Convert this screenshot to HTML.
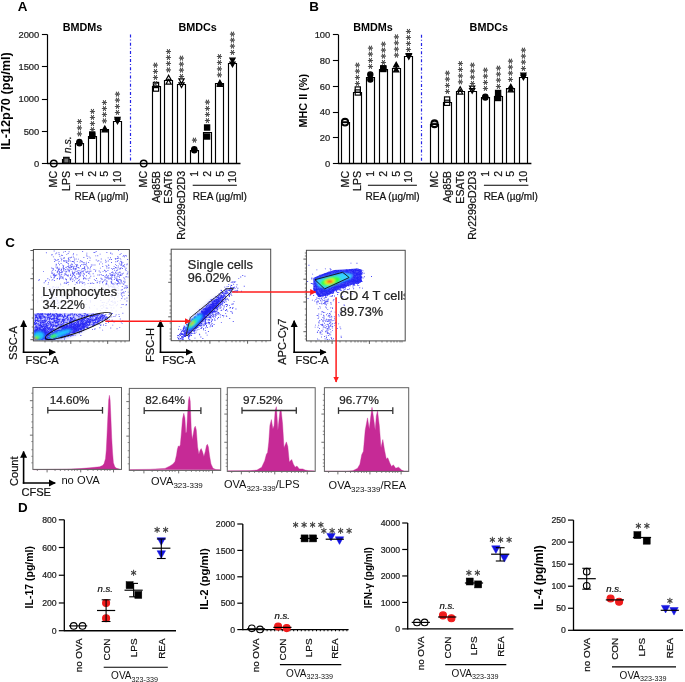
<!DOCTYPE html>
<html><head><meta charset="utf-8"><title>Figure</title>
<style>html,body{margin:0;padding:0;background:#fff;}svg{display:block;}</style></head>
<body><svg width="685" height="682" viewBox="0 0 685 682" font-family='"Liberation Sans", Arial, sans-serif'>
<defs><filter id="b1" x="-20%" y="-20%" width="140%" height="140%"><feGaussianBlur stdDeviation="1.2"/></filter><filter id="b2" x="-30%" y="-30%" width="160%" height="160%"><feGaussianBlur stdDeviation="2.2"/></filter><filter id="b05" x="-20%" y="-20%" width="140%" height="140%"><feGaussianBlur stdDeviation="0.45"/></filter><marker id="ar" viewBox="0 0 10 10" refX="9" refY="5" markerWidth="6" markerHeight="6" markerUnits="userSpaceOnUse" orient="auto"><path d="M0,0 L10,5 L0,10 z" fill="#ff1c1c"/></marker><marker id="ak" viewBox="0 0 10 10" refX="9" refY="5" markerWidth="7" markerHeight="7.5" markerUnits="userSpaceOnUse" orient="auto"><path d="M0,0 L10,5 L0,10 z" fill="#000"/></marker></defs>
<rect width="685" height="682" fill="#fff"/>
<text x="17.7" y="10.8" font-size="13.4" font-weight="bold">A</text>
<line x1="47.5" y1="34.5" x2="47.5" y2="164.1" stroke="#000" stroke-width="1.2" />
<line x1="41.9" y1="163.5" x2="47.5" y2="163.5" stroke="#000" stroke-width="1.1" />
<text x="39.3" y="166.9" font-size="9.4" text-anchor="end" fill="#222" stroke="#222" stroke-width="0.22">0</text>
<line x1="41.9" y1="131.5" x2="47.5" y2="131.5" stroke="#000" stroke-width="1.1" />
<text x="39.3" y="134.65" font-size="9.4" text-anchor="end" fill="#222" stroke="#222" stroke-width="0.22">500</text>
<line x1="41.9" y1="99.5" x2="47.5" y2="99.5" stroke="#000" stroke-width="1.1" />
<text x="39.3" y="102.4" font-size="9.4" text-anchor="end" fill="#222" stroke="#222" stroke-width="0.22">1000</text>
<line x1="41.9" y1="66.5" x2="47.5" y2="66.5" stroke="#000" stroke-width="1.1" />
<text x="39.3" y="70.15" font-size="9.4" text-anchor="end" fill="#222" stroke="#222" stroke-width="0.22">1500</text>
<line x1="41.9" y1="34.5" x2="47.5" y2="34.5" stroke="#000" stroke-width="1.1" />
<text x="39.3" y="37.9" font-size="9.4" text-anchor="end" fill="#222" stroke="#222" stroke-width="0.22">2000</text>
<line x1="130.5" y1="34.5" x2="130.5" y2="162.3" stroke="#2424e6" stroke-width="1.2" stroke-dasharray="3 2 1 2.2"/>
<text transform="translate(10.3,100.9) rotate(-90)" font-size="12.72" text-anchor="middle" font-weight="bold">IL-12p70 (pg/ml)</text>
<text x="82.5" y="31.2" font-size="10.8" text-anchor="middle" font-weight="bold">BMDMs</text>
<text x="197.6" y="31.2" font-size="10.8" text-anchor="middle" font-weight="bold">BMDCs</text>
<line x1="76" y1="185.3" x2="125.5" y2="185.3" stroke="#000" stroke-width="1.1" />
<text x="101.6" y="200.3" font-size="10" text-anchor="middle" fill="#111" stroke="#111" stroke-width="0.22">REA (µg/ml)</text>
<line x1="192.7" y1="185.3" x2="236.9" y2="185.3" stroke="#000" stroke-width="1.1" />
<text x="219.8" y="200.3" font-size="10" text-anchor="middle" fill="#111" stroke="#111" stroke-width="0.22">REA (µg/ml)</text>
<circle cx="53.8" cy="163.5" r="3.3" fill="none" stroke="#000" stroke-width="1.35"/>
<line x1="50.5" y1="163.5" x2="57.1" y2="163.5" stroke="#000" stroke-width="1.1" />
<text transform="translate(57.4,170.9) rotate(-90)" font-size="10.6" text-anchor="end" fill="#111" stroke="#111" stroke-width="0.22">MC</text>
<path d="M62.5,163.5 V159.5 H70.5 V163.5" fill="#fff" stroke="#000" stroke-width="1.15"/>
<rect x="63.7" y="157.4" width="5.2" height="5.2" fill="#777" stroke="#111" stroke-width="1.3"/>
<rect x="63.7" y="157.9" width="5.2" height="5.2" fill="#777" stroke="#111" stroke-width="1.3"/>
<text transform="translate(69.9,170.9) rotate(-90)" font-size="10.6" text-anchor="end" fill="#111" stroke="#111" stroke-width="0.22">LPS</text>
<path d="M75.5,163.5 V143.5 H83.5 V163.5" fill="#fff" stroke="#000" stroke-width="1.15"/>
<circle cx="79.4" cy="142" r="2.6" fill="#000" stroke="#000" stroke-width="1.2"/>
<circle cx="79.4" cy="143.2" r="2.6" fill="#000" stroke="#000" stroke-width="1.2"/>
<text transform="translate(83,170.9) rotate(-90)" font-size="10.6" text-anchor="end" fill="#111" stroke="#111" stroke-width="0.22">1</text>
<text transform="translate(79.4,133.9) rotate(-90)" y="5.4" font-size="10.5" text-anchor="middle" font-family="DejaVu Sans, sans-serif" fill="#3c3c3c" stroke="#3c3c3c" stroke-width="0.3">*</text>
<text transform="translate(79.4,127.8) rotate(-90)" y="5.4" font-size="10.5" text-anchor="middle" font-family="DejaVu Sans, sans-serif" fill="#3c3c3c" stroke="#3c3c3c" stroke-width="0.3">*</text>
<text transform="translate(79.4,121.7) rotate(-90)" y="5.4" font-size="10.5" text-anchor="middle" font-family="DejaVu Sans, sans-serif" fill="#3c3c3c" stroke="#3c3c3c" stroke-width="0.3">*</text>
<path d="M88.5,163.5 V136.5 H96.5 V163.5" fill="#fff" stroke="#000" stroke-width="1.15"/>
<rect x="89.6" y="131.9" width="5.2" height="5.2" fill="#000" stroke="#000" stroke-width="1.2"/>
<rect x="89.6" y="133.2" width="5.2" height="5.2" fill="#000" stroke="#000" stroke-width="1.2"/>
<text transform="translate(95.8,170.9) rotate(-90)" font-size="10.6" text-anchor="end" fill="#111" stroke="#111" stroke-width="0.22">2</text>
<text transform="translate(92.2,129.6) rotate(-90)" y="5.4" font-size="10.5" text-anchor="middle" font-family="DejaVu Sans, sans-serif" fill="#3c3c3c" stroke="#3c3c3c" stroke-width="0.3">*</text>
<text transform="translate(92.2,123.5) rotate(-90)" y="5.4" font-size="10.5" text-anchor="middle" font-family="DejaVu Sans, sans-serif" fill="#3c3c3c" stroke="#3c3c3c" stroke-width="0.3">*</text>
<text transform="translate(92.2,117.4) rotate(-90)" y="5.4" font-size="10.5" text-anchor="middle" font-family="DejaVu Sans, sans-serif" fill="#3c3c3c" stroke="#3c3c3c" stroke-width="0.3">*</text>
<text transform="translate(92.2,111.3) rotate(-90)" y="5.4" font-size="10.5" text-anchor="middle" font-family="DejaVu Sans, sans-serif" fill="#3c3c3c" stroke="#3c3c3c" stroke-width="0.3">*</text>
<path d="M100.5,163.5 V129.5 H108.5 V163.5" fill="#fff" stroke="#000" stroke-width="1.15"/>
<polygon points="102.2,130.64 107.4,130.64 104.8,125.96" fill="#000" stroke="#000" stroke-width="1.2" />
<polygon points="102.2,131.84 107.4,131.84 104.8,127.16" fill="#000" stroke="#000" stroke-width="1.2" />
<text transform="translate(108.4,170.9) rotate(-90)" font-size="10.6" text-anchor="end" fill="#111" stroke="#111" stroke-width="0.22">5</text>
<text transform="translate(104.8,120.8) rotate(-90)" y="5.4" font-size="10.5" text-anchor="middle" font-family="DejaVu Sans, sans-serif" fill="#3c3c3c" stroke="#3c3c3c" stroke-width="0.3">*</text>
<text transform="translate(104.8,114.7) rotate(-90)" y="5.4" font-size="10.5" text-anchor="middle" font-family="DejaVu Sans, sans-serif" fill="#3c3c3c" stroke="#3c3c3c" stroke-width="0.3">*</text>
<text transform="translate(104.8,108.6) rotate(-90)" y="5.4" font-size="10.5" text-anchor="middle" font-family="DejaVu Sans, sans-serif" fill="#3c3c3c" stroke="#3c3c3c" stroke-width="0.3">*</text>
<text transform="translate(104.8,102.5) rotate(-90)" y="5.4" font-size="10.5" text-anchor="middle" font-family="DejaVu Sans, sans-serif" fill="#3c3c3c" stroke="#3c3c3c" stroke-width="0.3">*</text>
<path d="M113.5,163.5 V121.5 H121.5 V163.5" fill="#fff" stroke="#000" stroke-width="1.15"/>
<polygon points="114.9,117.46 120.1,117.46 117.5,122.14" fill="#000" stroke="#000" stroke-width="1.2" />
<polygon points="114.9,119.16 120.1,119.16 117.5,123.84" fill="#000" stroke="#000" stroke-width="1.2" />
<text transform="translate(121.1,170.9) rotate(-90)" font-size="10.6" text-anchor="end" fill="#111" stroke="#111" stroke-width="0.22">10</text>
<text transform="translate(117.5,112.4) rotate(-90)" y="5.4" font-size="10.5" text-anchor="middle" font-family="DejaVu Sans, sans-serif" fill="#3c3c3c" stroke="#3c3c3c" stroke-width="0.3">*</text>
<text transform="translate(117.5,106.3) rotate(-90)" y="5.4" font-size="10.5" text-anchor="middle" font-family="DejaVu Sans, sans-serif" fill="#3c3c3c" stroke="#3c3c3c" stroke-width="0.3">*</text>
<text transform="translate(117.5,100.2) rotate(-90)" y="5.4" font-size="10.5" text-anchor="middle" font-family="DejaVu Sans, sans-serif" fill="#3c3c3c" stroke="#3c3c3c" stroke-width="0.3">*</text>
<text transform="translate(117.5,94.1) rotate(-90)" y="5.4" font-size="10.5" text-anchor="middle" font-family="DejaVu Sans, sans-serif" fill="#3c3c3c" stroke="#3c3c3c" stroke-width="0.3">*</text>
<circle cx="143.7" cy="163.5" r="3.3" fill="none" stroke="#000" stroke-width="1.35"/>
<line x1="140.4" y1="163.5" x2="147" y2="163.5" stroke="#000" stroke-width="1.1" />
<text transform="translate(147.3,170.9) rotate(-90)" font-size="10.6" text-anchor="end" fill="#111" stroke="#111" stroke-width="0.22">MC</text>
<path d="M152.5,163.5 V86.5 H160.5 V163.5" fill="#fff" stroke="#000" stroke-width="1.15"/>
<rect x="153.4" y="82.4" width="5.2" height="5.2" fill="none" stroke="#000" stroke-width="1.2"/>
<rect x="153.4" y="86" width="5.2" height="5.2" fill="none" stroke="#000" stroke-width="1.2"/>
<text transform="translate(159.6,170.9) rotate(-90)" font-size="10.6" text-anchor="end" fill="#111" stroke="#111" stroke-width="0.22">Ag85B</text>
<text transform="translate(156,83.5) rotate(-90)" y="5.4" font-size="10.5" text-anchor="middle" font-family="DejaVu Sans, sans-serif" fill="#3c3c3c" stroke="#3c3c3c" stroke-width="0.3">*</text>
<text transform="translate(156,77.4) rotate(-90)" y="5.4" font-size="10.5" text-anchor="middle" font-family="DejaVu Sans, sans-serif" fill="#3c3c3c" stroke="#3c3c3c" stroke-width="0.3">*</text>
<text transform="translate(156,71.3) rotate(-90)" y="5.4" font-size="10.5" text-anchor="middle" font-family="DejaVu Sans, sans-serif" fill="#3c3c3c" stroke="#3c3c3c" stroke-width="0.3">*</text>
<text transform="translate(156,65.2) rotate(-90)" y="5.4" font-size="10.5" text-anchor="middle" font-family="DejaVu Sans, sans-serif" fill="#3c3c3c" stroke="#3c3c3c" stroke-width="0.3">*</text>
<path d="M164.5,163.5 V80.5 H172.5 V163.5" fill="#fff" stroke="#000" stroke-width="1.15"/>
<polygon points="166,79.94 171.2,79.94 168.6,75.26" fill="none" stroke="#000" stroke-width="1.2" />
<polygon points="166,84.14 171.2,84.14 168.6,79.46" fill="none" stroke="#000" stroke-width="1.2" />
<text transform="translate(172.2,170.9) rotate(-90)" font-size="10.6" text-anchor="end" fill="#111" stroke="#111" stroke-width="0.22">ESAT6</text>
<text transform="translate(168.6,69.8) rotate(-90)" y="5.4" font-size="10.5" text-anchor="middle" font-family="DejaVu Sans, sans-serif" fill="#3c3c3c" stroke="#3c3c3c" stroke-width="0.3">*</text>
<text transform="translate(168.6,63.7) rotate(-90)" y="5.4" font-size="10.5" text-anchor="middle" font-family="DejaVu Sans, sans-serif" fill="#3c3c3c" stroke="#3c3c3c" stroke-width="0.3">*</text>
<text transform="translate(168.6,57.6) rotate(-90)" y="5.4" font-size="10.5" text-anchor="middle" font-family="DejaVu Sans, sans-serif" fill="#3c3c3c" stroke="#3c3c3c" stroke-width="0.3">*</text>
<text transform="translate(168.6,51.5) rotate(-90)" y="5.4" font-size="10.5" text-anchor="middle" font-family="DejaVu Sans, sans-serif" fill="#3c3c3c" stroke="#3c3c3c" stroke-width="0.3">*</text>
<path d="M177.5,163.5 V84.5 H185.5 V163.5" fill="#fff" stroke="#000" stroke-width="1.15"/>
<polygon points="178.9,78.86 184.1,78.86 181.5,83.54" fill="none" stroke="#000" stroke-width="1.2" />
<polygon points="178.9,82.86 184.1,82.86 181.5,87.54" fill="none" stroke="#000" stroke-width="1.2" />
<text transform="translate(185.1,170.9) rotate(-90)" font-size="10.6" text-anchor="end" fill="#111" stroke="#111" stroke-width="0.22">Rv2299cD2D3</text>
<text transform="translate(181.5,76.3) rotate(-90)" y="5.4" font-size="10.5" text-anchor="middle" font-family="DejaVu Sans, sans-serif" fill="#3c3c3c" stroke="#3c3c3c" stroke-width="0.3">*</text>
<text transform="translate(181.5,70.2) rotate(-90)" y="5.4" font-size="10.5" text-anchor="middle" font-family="DejaVu Sans, sans-serif" fill="#3c3c3c" stroke="#3c3c3c" stroke-width="0.3">*</text>
<text transform="translate(181.5,64.1) rotate(-90)" y="5.4" font-size="10.5" text-anchor="middle" font-family="DejaVu Sans, sans-serif" fill="#3c3c3c" stroke="#3c3c3c" stroke-width="0.3">*</text>
<text transform="translate(181.5,58) rotate(-90)" y="5.4" font-size="10.5" text-anchor="middle" font-family="DejaVu Sans, sans-serif" fill="#3c3c3c" stroke="#3c3c3c" stroke-width="0.3">*</text>
<path d="M190.5,163.5 V150.5 H198.5 V163.5" fill="#fff" stroke="#000" stroke-width="1.15"/>
<circle cx="194.3" cy="149.3" r="2.6" fill="#000" stroke="#000" stroke-width="1.2"/>
<circle cx="194.3" cy="150.2" r="2.6" fill="#000" stroke="#000" stroke-width="1.2"/>
<text transform="translate(197.9,170.9) rotate(-90)" font-size="10.6" text-anchor="end" fill="#111" stroke="#111" stroke-width="0.22">1</text>
<text transform="translate(194.3,140.2) rotate(-90)" y="5.4" font-size="10.5" text-anchor="middle" font-family="DejaVu Sans, sans-serif" fill="#3c3c3c" stroke="#3c3c3c" stroke-width="0.3">*</text>
<path d="M203.5,163.5 V132.5 H211.5 V163.5" fill="#fff" stroke="#000" stroke-width="1.15"/>
<rect x="204.5" y="124.9" width="5.2" height="5.2" fill="#000" stroke="#000" stroke-width="1.2"/>
<rect x="204.5" y="133.9" width="5.2" height="5.2" fill="#000" stroke="#000" stroke-width="1.2"/>
<text transform="translate(210.7,170.9) rotate(-90)" font-size="10.6" text-anchor="end" fill="#111" stroke="#111" stroke-width="0.22">2</text>
<text transform="translate(207.1,120.5) rotate(-90)" y="5.4" font-size="10.5" text-anchor="middle" font-family="DejaVu Sans, sans-serif" fill="#3c3c3c" stroke="#3c3c3c" stroke-width="0.3">*</text>
<text transform="translate(207.1,114.4) rotate(-90)" y="5.4" font-size="10.5" text-anchor="middle" font-family="DejaVu Sans, sans-serif" fill="#3c3c3c" stroke="#3c3c3c" stroke-width="0.3">*</text>
<text transform="translate(207.1,108.3) rotate(-90)" y="5.4" font-size="10.5" text-anchor="middle" font-family="DejaVu Sans, sans-serif" fill="#3c3c3c" stroke="#3c3c3c" stroke-width="0.3">*</text>
<text transform="translate(207.1,102.2) rotate(-90)" y="5.4" font-size="10.5" text-anchor="middle" font-family="DejaVu Sans, sans-serif" fill="#3c3c3c" stroke="#3c3c3c" stroke-width="0.3">*</text>
<path d="M215.5,163.5 V83.5 H223.5 V163.5" fill="#fff" stroke="#000" stroke-width="1.15"/>
<polygon points="217.3,84.84 222.5,84.84 219.9,80.16" fill="#000" stroke="#000" stroke-width="1.2" />
<polygon points="217.3,86.34 222.5,86.34 219.9,81.66" fill="#000" stroke="#000" stroke-width="1.2" />
<text transform="translate(223.5,170.9) rotate(-90)" font-size="10.6" text-anchor="end" fill="#111" stroke="#111" stroke-width="0.22">5</text>
<text transform="translate(219.9,74.9) rotate(-90)" y="5.4" font-size="10.5" text-anchor="middle" font-family="DejaVu Sans, sans-serif" fill="#3c3c3c" stroke="#3c3c3c" stroke-width="0.3">*</text>
<text transform="translate(219.9,68.8) rotate(-90)" y="5.4" font-size="10.5" text-anchor="middle" font-family="DejaVu Sans, sans-serif" fill="#3c3c3c" stroke="#3c3c3c" stroke-width="0.3">*</text>
<text transform="translate(219.9,62.7) rotate(-90)" y="5.4" font-size="10.5" text-anchor="middle" font-family="DejaVu Sans, sans-serif" fill="#3c3c3c" stroke="#3c3c3c" stroke-width="0.3">*</text>
<text transform="translate(219.9,56.6) rotate(-90)" y="5.4" font-size="10.5" text-anchor="middle" font-family="DejaVu Sans, sans-serif" fill="#3c3c3c" stroke="#3c3c3c" stroke-width="0.3">*</text>
<path d="M228.5,163.5 V63.5 H236.5 V163.5" fill="#fff" stroke="#000" stroke-width="1.15"/>
<polygon points="229.9,58.16 235.1,58.16 232.5,62.84" fill="#000" stroke="#000" stroke-width="1.2" />
<polygon points="229.9,62.16 235.1,62.16 232.5,66.84" fill="#000" stroke="#000" stroke-width="1.2" />
<text transform="translate(236.1,170.9) rotate(-90)" font-size="10.6" text-anchor="end" fill="#111" stroke="#111" stroke-width="0.22">10</text>
<text transform="translate(232.5,52.3) rotate(-90)" y="5.4" font-size="10.5" text-anchor="middle" font-family="DejaVu Sans, sans-serif" fill="#3c3c3c" stroke="#3c3c3c" stroke-width="0.3">*</text>
<text transform="translate(232.5,46.2) rotate(-90)" y="5.4" font-size="10.5" text-anchor="middle" font-family="DejaVu Sans, sans-serif" fill="#3c3c3c" stroke="#3c3c3c" stroke-width="0.3">*</text>
<text transform="translate(232.5,40.1) rotate(-90)" y="5.4" font-size="10.5" text-anchor="middle" font-family="DejaVu Sans, sans-serif" fill="#3c3c3c" stroke="#3c3c3c" stroke-width="0.3">*</text>
<text transform="translate(232.5,34) rotate(-90)" y="5.4" font-size="10.5" text-anchor="middle" font-family="DejaVu Sans, sans-serif" fill="#3c3c3c" stroke="#3c3c3c" stroke-width="0.3">*</text>
<line x1="47.5" y1="163.5" x2="240.5" y2="163.5" stroke="#000" stroke-width="1.4" />
<text transform="translate(70.9,153.2) rotate(-90)" font-size="10.5" font-style="italic" fill="#111" stroke="#111" stroke-width="0.22">n.s.</text>
<text x="309.2" y="10.8" font-size="13.4" font-weight="bold">B</text>
<line x1="338.5" y1="34.75" x2="338.5" y2="164.1" stroke="#000" stroke-width="1.2" />
<line x1="332.9" y1="163.5" x2="338.5" y2="163.5" stroke="#000" stroke-width="1.1" />
<text x="330.3" y="166.9" font-size="9.4" text-anchor="end" fill="#222" stroke="#222" stroke-width="0.22">0</text>
<line x1="332.9" y1="137.5" x2="338.5" y2="137.5" stroke="#000" stroke-width="1.1" />
<text x="330.3" y="141.15" font-size="9.4" text-anchor="end" fill="#222" stroke="#222" stroke-width="0.22">20</text>
<line x1="332.9" y1="112.5" x2="338.5" y2="112.5" stroke="#000" stroke-width="1.1" />
<text x="330.3" y="115.4" font-size="9.4" text-anchor="end" fill="#222" stroke="#222" stroke-width="0.22">40</text>
<line x1="332.9" y1="86.5" x2="338.5" y2="86.5" stroke="#000" stroke-width="1.1" />
<text x="330.3" y="89.65" font-size="9.4" text-anchor="end" fill="#222" stroke="#222" stroke-width="0.22">60</text>
<line x1="332.9" y1="60.5" x2="338.5" y2="60.5" stroke="#000" stroke-width="1.1" />
<text x="330.3" y="63.9" font-size="9.4" text-anchor="end" fill="#222" stroke="#222" stroke-width="0.22">80</text>
<line x1="332.9" y1="34.5" x2="338.5" y2="34.5" stroke="#000" stroke-width="1.1" />
<text x="330.3" y="38.15" font-size="9.4" text-anchor="end" fill="#222" stroke="#222" stroke-width="0.22">100</text>
<line x1="421.5" y1="34.75" x2="421.5" y2="162.3" stroke="#2424e6" stroke-width="1.2" stroke-dasharray="3 2 1 2.2"/>
<text transform="translate(307.3,100.7) rotate(-90)" font-size="10.85" text-anchor="middle" font-weight="bold">MHC II (%)</text>
<text x="373" y="31.2" font-size="10.8" text-anchor="middle" font-weight="bold">BMDMs</text>
<text x="488.8" y="31.2" font-size="10.8" text-anchor="middle" font-weight="bold">BMDCs</text>
<line x1="367.9" y1="185.3" x2="416.9" y2="185.3" stroke="#000" stroke-width="1.1" />
<text x="392.6" y="200.3" font-size="10" text-anchor="middle" fill="#111" stroke="#111" stroke-width="0.22">REA (µg/ml)</text>
<line x1="483.9" y1="185.3" x2="528.4" y2="185.3" stroke="#000" stroke-width="1.1" />
<text x="510.7" y="200.3" font-size="10" text-anchor="middle" fill="#111" stroke="#111" stroke-width="0.22">REA (µg/ml)</text>
<path d="M341.5,163.5 V122.5 H349.5 V163.5" fill="#fff" stroke="#000" stroke-width="1.15"/>
<circle cx="345" cy="121.8" r="3.3" fill="none" stroke="#000" stroke-width="1.35"/>
<line x1="341.7" y1="121.8" x2="348.3" y2="121.8" stroke="#000" stroke-width="1.1" />
<circle cx="345" cy="122.6" r="3.3" fill="none" stroke="#000" stroke-width="1.35"/>
<line x1="341.7" y1="122.6" x2="348.3" y2="122.6" stroke="#000" stroke-width="1.1" />
<text transform="translate(348.6,170.9) rotate(-90)" font-size="10.6" text-anchor="end" fill="#111" stroke="#111" stroke-width="0.22">MC</text>
<path d="M353.5,163.5 V92.5 H361.5 V163.5" fill="#fff" stroke="#000" stroke-width="1.15"/>
<rect x="355.2" y="86.9" width="5.2" height="5.2" fill="none" stroke="#000" stroke-width="1.2"/>
<rect x="355.2" y="89.9" width="5.2" height="5.2" fill="none" stroke="#000" stroke-width="1.2"/>
<text transform="translate(361.4,170.9) rotate(-90)" font-size="10.6" text-anchor="end" fill="#111" stroke="#111" stroke-width="0.22">LPS</text>
<text transform="translate(357.8,83.4) rotate(-90)" y="5.4" font-size="10.5" text-anchor="middle" font-family="DejaVu Sans, sans-serif" fill="#3c3c3c" stroke="#3c3c3c" stroke-width="0.3">*</text>
<text transform="translate(357.8,77.3) rotate(-90)" y="5.4" font-size="10.5" text-anchor="middle" font-family="DejaVu Sans, sans-serif" fill="#3c3c3c" stroke="#3c3c3c" stroke-width="0.3">*</text>
<text transform="translate(357.8,71.2) rotate(-90)" y="5.4" font-size="10.5" text-anchor="middle" font-family="DejaVu Sans, sans-serif" fill="#3c3c3c" stroke="#3c3c3c" stroke-width="0.3">*</text>
<text transform="translate(357.8,65.1) rotate(-90)" y="5.4" font-size="10.5" text-anchor="middle" font-family="DejaVu Sans, sans-serif" fill="#3c3c3c" stroke="#3c3c3c" stroke-width="0.3">*</text>
<path d="M366.5,163.5 V77.5 H374.5 V163.5" fill="#fff" stroke="#000" stroke-width="1.15"/>
<circle cx="370.3" cy="74.5" r="2.6" fill="#000" stroke="#000" stroke-width="1.2"/>
<circle cx="370.3" cy="79.5" r="2.6" fill="#000" stroke="#000" stroke-width="1.2"/>
<text transform="translate(373.9,170.9) rotate(-90)" font-size="10.6" text-anchor="end" fill="#111" stroke="#111" stroke-width="0.22">1</text>
<text transform="translate(370.3,66.4) rotate(-90)" y="5.4" font-size="10.5" text-anchor="middle" font-family="DejaVu Sans, sans-serif" fill="#3c3c3c" stroke="#3c3c3c" stroke-width="0.3">*</text>
<text transform="translate(370.3,60.3) rotate(-90)" y="5.4" font-size="10.5" text-anchor="middle" font-family="DejaVu Sans, sans-serif" fill="#3c3c3c" stroke="#3c3c3c" stroke-width="0.3">*</text>
<text transform="translate(370.3,54.2) rotate(-90)" y="5.4" font-size="10.5" text-anchor="middle" font-family="DejaVu Sans, sans-serif" fill="#3c3c3c" stroke="#3c3c3c" stroke-width="0.3">*</text>
<text transform="translate(370.3,48.1) rotate(-90)" y="5.4" font-size="10.5" text-anchor="middle" font-family="DejaVu Sans, sans-serif" fill="#3c3c3c" stroke="#3c3c3c" stroke-width="0.3">*</text>
<path d="M379.5,163.5 V69.5 H387.5 V163.5" fill="#fff" stroke="#000" stroke-width="1.15"/>
<rect x="380.7" y="65.7" width="5.2" height="5.2" fill="#000" stroke="#000" stroke-width="1.2"/>
<rect x="380.7" y="66.4" width="5.2" height="5.2" fill="#000" stroke="#000" stroke-width="1.2"/>
<text transform="translate(386.9,170.9) rotate(-90)" font-size="10.6" text-anchor="end" fill="#111" stroke="#111" stroke-width="0.22">2</text>
<text transform="translate(383.3,62.3) rotate(-90)" y="5.4" font-size="10.5" text-anchor="middle" font-family="DejaVu Sans, sans-serif" fill="#3c3c3c" stroke="#3c3c3c" stroke-width="0.3">*</text>
<text transform="translate(383.3,56.2) rotate(-90)" y="5.4" font-size="10.5" text-anchor="middle" font-family="DejaVu Sans, sans-serif" fill="#3c3c3c" stroke="#3c3c3c" stroke-width="0.3">*</text>
<text transform="translate(383.3,50.1) rotate(-90)" y="5.4" font-size="10.5" text-anchor="middle" font-family="DejaVu Sans, sans-serif" fill="#3c3c3c" stroke="#3c3c3c" stroke-width="0.3">*</text>
<text transform="translate(383.3,44) rotate(-90)" y="5.4" font-size="10.5" text-anchor="middle" font-family="DejaVu Sans, sans-serif" fill="#3c3c3c" stroke="#3c3c3c" stroke-width="0.3">*</text>
<path d="M392.5,163.5 V68.5 H400.5 V163.5" fill="#fff" stroke="#000" stroke-width="1.15"/>
<polygon points="393.6,66.84 398.8,66.84 396.2,62.16" fill="#000" stroke="#000" stroke-width="1.2" />
<polygon points="393.6,71.84 398.8,71.84 396.2,67.16" fill="#000" stroke="#000" stroke-width="1.2" />
<text transform="translate(399.8,170.9) rotate(-90)" font-size="10.6" text-anchor="end" fill="#111" stroke="#111" stroke-width="0.22">5</text>
<text transform="translate(396.2,55.1) rotate(-90)" y="5.4" font-size="10.5" text-anchor="middle" font-family="DejaVu Sans, sans-serif" fill="#3c3c3c" stroke="#3c3c3c" stroke-width="0.3">*</text>
<text transform="translate(396.2,49) rotate(-90)" y="5.4" font-size="10.5" text-anchor="middle" font-family="DejaVu Sans, sans-serif" fill="#3c3c3c" stroke="#3c3c3c" stroke-width="0.3">*</text>
<text transform="translate(396.2,42.9) rotate(-90)" y="5.4" font-size="10.5" text-anchor="middle" font-family="DejaVu Sans, sans-serif" fill="#3c3c3c" stroke="#3c3c3c" stroke-width="0.3">*</text>
<text transform="translate(396.2,36.8) rotate(-90)" y="5.4" font-size="10.5" text-anchor="middle" font-family="DejaVu Sans, sans-serif" fill="#3c3c3c" stroke="#3c3c3c" stroke-width="0.3">*</text>
<path d="M404.5,163.5 V56.5 H412.5 V163.5" fill="#fff" stroke="#000" stroke-width="1.15"/>
<polygon points="406.2,53.66 411.4,53.66 408.8,58.34" fill="#000" stroke="#000" stroke-width="1.2" />
<polygon points="406.2,54.46 411.4,54.46 408.8,59.14" fill="#000" stroke="#000" stroke-width="1.2" />
<text transform="translate(412.4,170.9) rotate(-90)" font-size="10.6" text-anchor="end" fill="#111" stroke="#111" stroke-width="0.22">10</text>
<text transform="translate(408.8,49.7) rotate(-90)" y="5.4" font-size="10.5" text-anchor="middle" font-family="DejaVu Sans, sans-serif" fill="#3c3c3c" stroke="#3c3c3c" stroke-width="0.3">*</text>
<text transform="translate(408.8,43.6) rotate(-90)" y="5.4" font-size="10.5" text-anchor="middle" font-family="DejaVu Sans, sans-serif" fill="#3c3c3c" stroke="#3c3c3c" stroke-width="0.3">*</text>
<text transform="translate(408.8,37.5) rotate(-90)" y="5.4" font-size="10.5" text-anchor="middle" font-family="DejaVu Sans, sans-serif" fill="#3c3c3c" stroke="#3c3c3c" stroke-width="0.3">*</text>
<text transform="translate(408.8,31.4) rotate(-90)" y="5.4" font-size="10.5" text-anchor="middle" font-family="DejaVu Sans, sans-serif" fill="#3c3c3c" stroke="#3c3c3c" stroke-width="0.3">*</text>
<path d="M430.5,163.5 V124.5 H438.5 V163.5" fill="#fff" stroke="#000" stroke-width="1.15"/>
<circle cx="434.5" cy="123.3" r="3.3" fill="none" stroke="#000" stroke-width="1.35"/>
<line x1="431.2" y1="123.3" x2="437.8" y2="123.3" stroke="#000" stroke-width="1.1" />
<circle cx="434.5" cy="124.3" r="3.3" fill="none" stroke="#000" stroke-width="1.35"/>
<line x1="431.2" y1="124.3" x2="437.8" y2="124.3" stroke="#000" stroke-width="1.1" />
<text transform="translate(438.1,170.9) rotate(-90)" font-size="10.6" text-anchor="end" fill="#111" stroke="#111" stroke-width="0.22">MC</text>
<path d="M443.5,163.5 V102.5 H451.5 V163.5" fill="#fff" stroke="#000" stroke-width="1.15"/>
<rect x="444.5" y="96.9" width="5.2" height="5.2" fill="none" stroke="#000" stroke-width="1.2"/>
<rect x="444.5" y="100.2" width="5.2" height="5.2" fill="none" stroke="#000" stroke-width="1.2"/>
<text transform="translate(450.7,170.9) rotate(-90)" font-size="10.6" text-anchor="end" fill="#111" stroke="#111" stroke-width="0.22">Ag85B</text>
<text transform="translate(447.1,91.4) rotate(-90)" y="5.4" font-size="10.5" text-anchor="middle" font-family="DejaVu Sans, sans-serif" fill="#3c3c3c" stroke="#3c3c3c" stroke-width="0.3">*</text>
<text transform="translate(447.1,85.3) rotate(-90)" y="5.4" font-size="10.5" text-anchor="middle" font-family="DejaVu Sans, sans-serif" fill="#3c3c3c" stroke="#3c3c3c" stroke-width="0.3">*</text>
<text transform="translate(447.1,79.2) rotate(-90)" y="5.4" font-size="10.5" text-anchor="middle" font-family="DejaVu Sans, sans-serif" fill="#3c3c3c" stroke="#3c3c3c" stroke-width="0.3">*</text>
<text transform="translate(447.1,73.1) rotate(-90)" y="5.4" font-size="10.5" text-anchor="middle" font-family="DejaVu Sans, sans-serif" fill="#3c3c3c" stroke="#3c3c3c" stroke-width="0.3">*</text>
<path d="M456.5,163.5 V91.5 H464.5 V163.5" fill="#fff" stroke="#000" stroke-width="1.15"/>
<polygon points="457.6,91.34 462.8,91.34 460.2,86.66" fill="none" stroke="#000" stroke-width="1.2" />
<polygon points="457.6,94.14 462.8,94.14 460.2,89.46" fill="none" stroke="#000" stroke-width="1.2" />
<text transform="translate(463.8,170.9) rotate(-90)" font-size="10.6" text-anchor="end" fill="#111" stroke="#111" stroke-width="0.22">ESAT6</text>
<text transform="translate(460.2,81.9) rotate(-90)" y="5.4" font-size="10.5" text-anchor="middle" font-family="DejaVu Sans, sans-serif" fill="#3c3c3c" stroke="#3c3c3c" stroke-width="0.3">*</text>
<text transform="translate(460.2,75.8) rotate(-90)" y="5.4" font-size="10.5" text-anchor="middle" font-family="DejaVu Sans, sans-serif" fill="#3c3c3c" stroke="#3c3c3c" stroke-width="0.3">*</text>
<text transform="translate(460.2,69.7) rotate(-90)" y="5.4" font-size="10.5" text-anchor="middle" font-family="DejaVu Sans, sans-serif" fill="#3c3c3c" stroke="#3c3c3c" stroke-width="0.3">*</text>
<text transform="translate(460.2,63.6) rotate(-90)" y="5.4" font-size="10.5" text-anchor="middle" font-family="DejaVu Sans, sans-serif" fill="#3c3c3c" stroke="#3c3c3c" stroke-width="0.3">*</text>
<path d="M468.5,163.5 V91.5 H476.5 V163.5" fill="#fff" stroke="#000" stroke-width="1.15"/>
<polygon points="469.6,86.16 474.8,86.16 472.2,90.84" fill="none" stroke="#000" stroke-width="1.2" />
<polygon points="469.6,88.66 474.8,88.66 472.2,93.34" fill="none" stroke="#000" stroke-width="1.2" />
<text transform="translate(475.8,170.9) rotate(-90)" font-size="10.6" text-anchor="end" fill="#111" stroke="#111" stroke-width="0.22">Rv2299cD2D3</text>
<text transform="translate(472.2,83.3) rotate(-90)" y="5.4" font-size="10.5" text-anchor="middle" font-family="DejaVu Sans, sans-serif" fill="#3c3c3c" stroke="#3c3c3c" stroke-width="0.3">*</text>
<text transform="translate(472.2,77.2) rotate(-90)" y="5.4" font-size="10.5" text-anchor="middle" font-family="DejaVu Sans, sans-serif" fill="#3c3c3c" stroke="#3c3c3c" stroke-width="0.3">*</text>
<text transform="translate(472.2,71.1) rotate(-90)" y="5.4" font-size="10.5" text-anchor="middle" font-family="DejaVu Sans, sans-serif" fill="#3c3c3c" stroke="#3c3c3c" stroke-width="0.3">*</text>
<text transform="translate(472.2,65) rotate(-90)" y="5.4" font-size="10.5" text-anchor="middle" font-family="DejaVu Sans, sans-serif" fill="#3c3c3c" stroke="#3c3c3c" stroke-width="0.3">*</text>
<path d="M481.5,163.5 V97.5 H489.5 V163.5" fill="#fff" stroke="#000" stroke-width="1.15"/>
<circle cx="485.3" cy="96.8" r="2.6" fill="#000" stroke="#000" stroke-width="1.2"/>
<circle cx="485.3" cy="97.5" r="2.6" fill="#000" stroke="#000" stroke-width="1.2"/>
<text transform="translate(488.9,170.9) rotate(-90)" font-size="10.6" text-anchor="end" fill="#111" stroke="#111" stroke-width="0.22">1</text>
<text transform="translate(485.3,88.4) rotate(-90)" y="5.4" font-size="10.5" text-anchor="middle" font-family="DejaVu Sans, sans-serif" fill="#3c3c3c" stroke="#3c3c3c" stroke-width="0.3">*</text>
<text transform="translate(485.3,82.3) rotate(-90)" y="5.4" font-size="10.5" text-anchor="middle" font-family="DejaVu Sans, sans-serif" fill="#3c3c3c" stroke="#3c3c3c" stroke-width="0.3">*</text>
<text transform="translate(485.3,76.2) rotate(-90)" y="5.4" font-size="10.5" text-anchor="middle" font-family="DejaVu Sans, sans-serif" fill="#3c3c3c" stroke="#3c3c3c" stroke-width="0.3">*</text>
<text transform="translate(485.3,70.1) rotate(-90)" y="5.4" font-size="10.5" text-anchor="middle" font-family="DejaVu Sans, sans-serif" fill="#3c3c3c" stroke="#3c3c3c" stroke-width="0.3">*</text>
<path d="M494.5,163.5 V96.5 H502.5 V163.5" fill="#fff" stroke="#000" stroke-width="1.15"/>
<rect x="495.5" y="90.4" width="5.2" height="5.2" fill="#000" stroke="#000" stroke-width="1.2"/>
<rect x="495.5" y="95.4" width="5.2" height="5.2" fill="#000" stroke="#000" stroke-width="1.2"/>
<text transform="translate(501.7,170.9) rotate(-90)" font-size="10.6" text-anchor="end" fill="#111" stroke="#111" stroke-width="0.22">2</text>
<text transform="translate(498.1,86.3) rotate(-90)" y="5.4" font-size="10.5" text-anchor="middle" font-family="DejaVu Sans, sans-serif" fill="#3c3c3c" stroke="#3c3c3c" stroke-width="0.3">*</text>
<text transform="translate(498.1,80.2) rotate(-90)" y="5.4" font-size="10.5" text-anchor="middle" font-family="DejaVu Sans, sans-serif" fill="#3c3c3c" stroke="#3c3c3c" stroke-width="0.3">*</text>
<text transform="translate(498.1,74.1) rotate(-90)" y="5.4" font-size="10.5" text-anchor="middle" font-family="DejaVu Sans, sans-serif" fill="#3c3c3c" stroke="#3c3c3c" stroke-width="0.3">*</text>
<text transform="translate(498.1,68) rotate(-90)" y="5.4" font-size="10.5" text-anchor="middle" font-family="DejaVu Sans, sans-serif" fill="#3c3c3c" stroke="#3c3c3c" stroke-width="0.3">*</text>
<path d="M506.5,163.5 V88.5 H514.5 V163.5" fill="#fff" stroke="#000" stroke-width="1.15"/>
<polygon points="508.2,88.84 513.4,88.84 510.8,84.16" fill="#000" stroke="#000" stroke-width="1.2" />
<polygon points="508.2,91.84 513.4,91.84 510.8,87.16" fill="#000" stroke="#000" stroke-width="1.2" />
<text transform="translate(514.4,170.9) rotate(-90)" font-size="10.6" text-anchor="end" fill="#111" stroke="#111" stroke-width="0.22">5</text>
<text transform="translate(510.8,79.3) rotate(-90)" y="5.4" font-size="10.5" text-anchor="middle" font-family="DejaVu Sans, sans-serif" fill="#3c3c3c" stroke="#3c3c3c" stroke-width="0.3">*</text>
<text transform="translate(510.8,73.2) rotate(-90)" y="5.4" font-size="10.5" text-anchor="middle" font-family="DejaVu Sans, sans-serif" fill="#3c3c3c" stroke="#3c3c3c" stroke-width="0.3">*</text>
<text transform="translate(510.8,67.1) rotate(-90)" y="5.4" font-size="10.5" text-anchor="middle" font-family="DejaVu Sans, sans-serif" fill="#3c3c3c" stroke="#3c3c3c" stroke-width="0.3">*</text>
<text transform="translate(510.8,61) rotate(-90)" y="5.4" font-size="10.5" text-anchor="middle" font-family="DejaVu Sans, sans-serif" fill="#3c3c3c" stroke="#3c3c3c" stroke-width="0.3">*</text>
<path d="M519.5,163.5 V77.5 H527.5 V163.5" fill="#fff" stroke="#000" stroke-width="1.15"/>
<polygon points="520.8,73.16 526,73.16 523.4,77.84" fill="#000" stroke="#000" stroke-width="1.2" />
<polygon points="520.8,75.16 526,75.16 523.4,79.84" fill="#000" stroke="#000" stroke-width="1.2" />
<text transform="translate(527,170.9) rotate(-90)" font-size="10.6" text-anchor="end" fill="#111" stroke="#111" stroke-width="0.22">10</text>
<text transform="translate(523.4,68.3) rotate(-90)" y="5.4" font-size="10.5" text-anchor="middle" font-family="DejaVu Sans, sans-serif" fill="#3c3c3c" stroke="#3c3c3c" stroke-width="0.3">*</text>
<text transform="translate(523.4,62.2) rotate(-90)" y="5.4" font-size="10.5" text-anchor="middle" font-family="DejaVu Sans, sans-serif" fill="#3c3c3c" stroke="#3c3c3c" stroke-width="0.3">*</text>
<text transform="translate(523.4,56.1) rotate(-90)" y="5.4" font-size="10.5" text-anchor="middle" font-family="DejaVu Sans, sans-serif" fill="#3c3c3c" stroke="#3c3c3c" stroke-width="0.3">*</text>
<text transform="translate(523.4,50) rotate(-90)" y="5.4" font-size="10.5" text-anchor="middle" font-family="DejaVu Sans, sans-serif" fill="#3c3c3c" stroke="#3c3c3c" stroke-width="0.3">*</text>
<line x1="338.5" y1="163.5" x2="531.4" y2="163.5" stroke="#000" stroke-width="1.4" />
<text x="17.9" y="512.1" font-size="13.4" font-weight="bold">D</text>
<line x1="64.3" y1="519.8" x2="64.3" y2="631.3" stroke="#000" stroke-width="1.3" />
<line x1="58.8" y1="630.7" x2="64.3" y2="630.7" stroke="#000" stroke-width="1.2" />
<text x="56.7" y="633.8" font-size="8.7" text-anchor="end" fill="#222" stroke="#222" stroke-width="0.22">0</text>
<line x1="58.8" y1="602.98" x2="64.3" y2="602.98" stroke="#000" stroke-width="1.2" />
<text x="56.7" y="606.08" font-size="8.7" text-anchor="end" fill="#222" stroke="#222" stroke-width="0.22">200</text>
<line x1="58.8" y1="575.25" x2="64.3" y2="575.25" stroke="#000" stroke-width="1.2" />
<text x="56.7" y="578.35" font-size="8.7" text-anchor="end" fill="#222" stroke="#222" stroke-width="0.22">400</text>
<line x1="58.8" y1="547.52" x2="64.3" y2="547.52" stroke="#000" stroke-width="1.2" />
<text x="56.7" y="550.62" font-size="8.7" text-anchor="end" fill="#222" stroke="#222" stroke-width="0.22">600</text>
<line x1="58.8" y1="519.8" x2="64.3" y2="519.8" stroke="#000" stroke-width="1.2" />
<text x="56.7" y="522.9" font-size="8.7" text-anchor="end" fill="#222" stroke="#222" stroke-width="0.22">800</text>
<line x1="64.3" y1="630.7" x2="176" y2="630.7" stroke="#000" stroke-width="1.4" />
<text transform="translate(33,577.2) rotate(-90)" font-size="10.5" text-anchor="middle" font-weight="bold">IL-17 (pg/ml)</text>
<text transform="translate(81.5,638.5) rotate(-90)" font-size="9.9" text-anchor="end" fill="#111" stroke="#111" stroke-width="0.22">no OVA</text>
<text transform="translate(109.5,638.5) rotate(-90)" font-size="9.9" text-anchor="end" fill="#111" stroke="#111" stroke-width="0.22">CON</text>
<text transform="translate(137,638.5) rotate(-90)" font-size="9.9" text-anchor="end" fill="#111" stroke="#111" stroke-width="0.22">LPS</text>
<text transform="translate(164.7,638.5) rotate(-90)" font-size="9.9" text-anchor="end" fill="#111" stroke="#111" stroke-width="0.22">REA</text>
<line x1="103.7" y1="667.2" x2="167.8" y2="667.2" stroke="#000" stroke-width="1.1" />
<text x="134.5" y="679.4" font-size="10" text-anchor="middle" fill="#111">OVA<tspan font-size="7.2" dy="2.2">323-339</tspan></text>
<circle cx="73.7" cy="625.9" r="3.3" fill="none" stroke="#000" stroke-width="1.1"/>
<circle cx="82.5" cy="625.9" r="3.3" fill="none" stroke="#000" stroke-width="1.1"/>
<line x1="69" y1="625.9" x2="87.2" y2="625.9" stroke="#000" stroke-width="1.2" />
<circle cx="106.1" cy="603" r="3.5" fill="#f01c1c" stroke="#f01c1c" stroke-width="1.1"/>
<circle cx="106.1" cy="618.3" r="3.5" fill="#f01c1c" stroke="#f01c1c" stroke-width="1.1"/>
<line x1="106.1" y1="599.8" x2="106.1" y2="621.5" stroke="#000" stroke-width="1.1" />
<line x1="101.7" y1="599.8" x2="110.5" y2="599.8" stroke="#000" stroke-width="1.1" />
<line x1="101.7" y1="621.5" x2="110.5" y2="621.5" stroke="#000" stroke-width="1.1" />
<line x1="97" y1="610.5" x2="115.2" y2="610.5" stroke="#000" stroke-width="1.2" />
<text x="105.3" y="592.2" font-size="9.6" text-anchor="middle" font-style="italic" fill="#111" stroke="#111" stroke-width="0.22">n.s.</text>
<rect x="126.1" y="581.7" width="7" height="7" fill="#000" stroke="#000" stroke-width="0.5"/>
<rect x="134.8" y="591.4" width="7" height="7" fill="#000" stroke="#000" stroke-width="0.5"/>
<line x1="133.6" y1="583.4" x2="133.6" y2="596.8" stroke="#000" stroke-width="1.1" />
<line x1="129.2" y1="583.4" x2="138" y2="583.4" stroke="#000" stroke-width="1.1" />
<line x1="129.2" y1="596.8" x2="138" y2="596.8" stroke="#000" stroke-width="1.1" />
<line x1="124.5" y1="590.2" x2="142.7" y2="590.2" stroke="#000" stroke-width="1.2" />
<text x="133.6" y="578.51" font-size="11.5" text-anchor="middle" font-family="DejaVu Sans, sans-serif" fill="#333" stroke="#333" stroke-width="0.3">*</text>
<polygon points="157.1,537.72 165.5,537.72 161.3,545.28" fill="#1414e0" stroke="#1414e0" stroke-width="0.5" />
<polygon points="157.1,550.72 165.5,550.72 161.3,558.28" fill="#1414e0" stroke="#1414e0" stroke-width="0.5" />
<line x1="161.3" y1="539" x2="161.3" y2="558.5" stroke="#000" stroke-width="1.1" />
<line x1="156.9" y1="539" x2="165.7" y2="539" stroke="#000" stroke-width="1.1" />
<line x1="156.9" y1="558.5" x2="165.7" y2="558.5" stroke="#000" stroke-width="1.1" />
<line x1="152.2" y1="548.2" x2="170.4" y2="548.2" stroke="#000" stroke-width="1.2" />
<text x="157.15" y="535.91" font-size="11.5" text-anchor="middle" font-family="DejaVu Sans, sans-serif" fill="#333" stroke="#333" stroke-width="0.3">*</text>
<text x="165.55" y="535.91" font-size="11.5" text-anchor="middle" font-family="DejaVu Sans, sans-serif" fill="#333" stroke="#333" stroke-width="0.3">*</text>
<line x1="242.8" y1="524" x2="242.8" y2="630.2" stroke="#000" stroke-width="1.3" />
<line x1="237.3" y1="629.6" x2="242.8" y2="629.6" stroke="#000" stroke-width="1.2" />
<text x="235.2" y="632.7" font-size="8.7" text-anchor="end" fill="#222" stroke="#222" stroke-width="0.22">0</text>
<line x1="237.3" y1="603.2" x2="242.8" y2="603.2" stroke="#000" stroke-width="1.2" />
<text x="235.2" y="606.3" font-size="8.7" text-anchor="end" fill="#222" stroke="#222" stroke-width="0.22">500</text>
<line x1="237.3" y1="576.8" x2="242.8" y2="576.8" stroke="#000" stroke-width="1.2" />
<text x="235.2" y="579.9" font-size="8.7" text-anchor="end" fill="#222" stroke="#222" stroke-width="0.22">1000</text>
<line x1="237.3" y1="550.4" x2="242.8" y2="550.4" stroke="#000" stroke-width="1.2" />
<text x="235.2" y="553.5" font-size="8.7" text-anchor="end" fill="#222" stroke="#222" stroke-width="0.22">1500</text>
<line x1="237.3" y1="524" x2="242.8" y2="524" stroke="#000" stroke-width="1.2" />
<text x="235.2" y="527.1" font-size="8.7" text-anchor="end" fill="#222" stroke="#222" stroke-width="0.22">2000</text>
<line x1="242.8" y1="629.6" x2="348.6" y2="629.6" stroke="#000" stroke-width="1.4" />
<line x1="262.8" y1="630.5" x2="348.6" y2="630.5" stroke="#000" stroke-width="1.6" stroke-dasharray="1 2.8"/>
<text transform="translate(207.9,579) rotate(-90)" font-size="11.4" text-anchor="middle" font-weight="bold">IL-2 (pg/ml)</text>
<text transform="translate(259.4,638.5) rotate(-90)" font-size="9.9" text-anchor="end" fill="#111" stroke="#111" stroke-width="0.22">no OVA</text>
<text transform="translate(285.8,638.5) rotate(-90)" font-size="9.9" text-anchor="end" fill="#111" stroke="#111" stroke-width="0.22">CON</text>
<text transform="translate(312.4,638.5) rotate(-90)" font-size="9.9" text-anchor="end" fill="#111" stroke="#111" stroke-width="0.22">LPS</text>
<text transform="translate(338.2,638.5) rotate(-90)" font-size="9.9" text-anchor="end" fill="#111" stroke="#111" stroke-width="0.22">REA</text>
<line x1="279.9" y1="664.6" x2="341.3" y2="664.6" stroke="#000" stroke-width="1.1" />
<text x="309.5" y="676.8" font-size="10" text-anchor="middle" fill="#111">OVA<tspan font-size="7.2" dy="2.2">323-339</tspan></text>
<circle cx="251.8" cy="628.3" r="3.3" fill="none" stroke="#000" stroke-width="1.1"/>
<circle cx="260" cy="629.4" r="3.3" fill="none" stroke="#000" stroke-width="1.1"/>
<line x1="246.9" y1="628.8" x2="265.1" y2="628.8" stroke="#000" stroke-width="1.2" />
<circle cx="278.1" cy="626.6" r="3.5" fill="#f01c1c" stroke="#f01c1c" stroke-width="1.1"/>
<circle cx="286.7" cy="628.1" r="3.5" fill="#f01c1c" stroke="#f01c1c" stroke-width="1.1"/>
<line x1="273.3" y1="627.4" x2="291.5" y2="627.4" stroke="#000" stroke-width="1.2" />
<text x="282.3" y="619.3" font-size="9.6" text-anchor="middle" font-style="italic" fill="#111" stroke="#111" stroke-width="0.22">n.s.</text>
<rect x="301.1" y="534.9" width="7" height="7" fill="#000" stroke="#000" stroke-width="0.5"/>
<rect x="309.6" y="534.9" width="7" height="7" fill="#000" stroke="#000" stroke-width="0.5"/>
<line x1="299.9" y1="538.4" x2="318.1" y2="538.4" stroke="#000" stroke-width="1.2" />
<text x="295.7" y="531.11" font-size="11.5" text-anchor="middle" font-family="DejaVu Sans, sans-serif" fill="#333" stroke="#333" stroke-width="0.3">*</text>
<text x="304.1" y="531.11" font-size="11.5" text-anchor="middle" font-family="DejaVu Sans, sans-serif" fill="#333" stroke="#333" stroke-width="0.3">*</text>
<text x="312.5" y="531.11" font-size="11.5" text-anchor="middle" font-family="DejaVu Sans, sans-serif" fill="#333" stroke="#333" stroke-width="0.3">*</text>
<text x="320.9" y="531.11" font-size="11.5" text-anchor="middle" font-family="DejaVu Sans, sans-serif" fill="#333" stroke="#333" stroke-width="0.3">*</text>
<polygon points="326.8,533.42 335.2,533.42 331,540.98" fill="#1414e0" stroke="#1414e0" stroke-width="0.5" />
<polygon points="335.3,536.82 343.7,536.82 339.5,544.38" fill="#1414e0" stroke="#1414e0" stroke-width="0.5" />
<line x1="325.7" y1="539.2" x2="343.9" y2="539.2" stroke="#000" stroke-width="1.2" />
<text x="323.8" y="537.31" font-size="11.5" text-anchor="middle" font-family="DejaVu Sans, sans-serif" fill="#333" stroke="#333" stroke-width="0.3">*</text>
<text x="332.2" y="537.31" font-size="11.5" text-anchor="middle" font-family="DejaVu Sans, sans-serif" fill="#333" stroke="#333" stroke-width="0.3">*</text>
<text x="340.6" y="537.31" font-size="11.5" text-anchor="middle" font-family="DejaVu Sans, sans-serif" fill="#333" stroke="#333" stroke-width="0.3">*</text>
<text x="349" y="537.31" font-size="11.5" text-anchor="middle" font-family="DejaVu Sans, sans-serif" fill="#333" stroke="#333" stroke-width="0.3">*</text>
<line x1="407.7" y1="523" x2="407.7" y2="629.5" stroke="#000" stroke-width="1.3" />
<line x1="402.2" y1="628.9" x2="407.7" y2="628.9" stroke="#000" stroke-width="1.2" />
<text x="400.1" y="632" font-size="8.7" text-anchor="end" fill="#222" stroke="#222" stroke-width="0.22">0</text>
<line x1="402.2" y1="602.42" x2="407.7" y2="602.42" stroke="#000" stroke-width="1.2" />
<text x="400.1" y="605.52" font-size="8.7" text-anchor="end" fill="#222" stroke="#222" stroke-width="0.22">1000</text>
<line x1="402.2" y1="575.95" x2="407.7" y2="575.95" stroke="#000" stroke-width="1.2" />
<text x="400.1" y="579.05" font-size="8.7" text-anchor="end" fill="#222" stroke="#222" stroke-width="0.22">2000</text>
<line x1="402.2" y1="549.48" x2="407.7" y2="549.48" stroke="#000" stroke-width="1.2" />
<text x="400.1" y="552.58" font-size="8.7" text-anchor="end" fill="#222" stroke="#222" stroke-width="0.22">3000</text>
<line x1="402.2" y1="523" x2="407.7" y2="523" stroke="#000" stroke-width="1.2" />
<text x="400.1" y="526.1" font-size="8.7" text-anchor="end" fill="#222" stroke="#222" stroke-width="0.22">4000</text>
<line x1="407.7" y1="628.9" x2="513.4" y2="628.9" stroke="#000" stroke-width="1.4" />
<text transform="translate(372.1,577.7) rotate(-90)" font-size="10" text-anchor="middle" font-weight="bold">IFN-γ (pg/ml)</text>
<text transform="translate(424.2,636.5) rotate(-90)" font-size="9.9" text-anchor="end" fill="#111" stroke="#111" stroke-width="0.22">no OVA</text>
<text transform="translate(450.6,636.5) rotate(-90)" font-size="9.9" text-anchor="end" fill="#111" stroke="#111" stroke-width="0.22">CON</text>
<text transform="translate(477.4,636.5) rotate(-90)" font-size="9.9" text-anchor="end" fill="#111" stroke="#111" stroke-width="0.22">LPS</text>
<text transform="translate(503.6,636.5) rotate(-90)" font-size="9.9" text-anchor="end" fill="#111" stroke="#111" stroke-width="0.22">REA</text>
<line x1="445.2" y1="664.6" x2="506.3" y2="664.6" stroke="#000" stroke-width="1.1" />
<text x="475" y="676.8" font-size="10" text-anchor="middle" fill="#111">OVA<tspan font-size="7.2" dy="2.2">323-339</tspan></text>
<circle cx="417" cy="622.4" r="3.3" fill="none" stroke="#000" stroke-width="1.1"/>
<circle cx="424.6" cy="622.4" r="3.3" fill="none" stroke="#000" stroke-width="1.1"/>
<line x1="411.7" y1="622.4" x2="429.9" y2="622.4" stroke="#000" stroke-width="1.2" />
<circle cx="443" cy="615.4" r="3.5" fill="#f01c1c" stroke="#f01c1c" stroke-width="1.1"/>
<circle cx="451.4" cy="618.2" r="3.5" fill="#f01c1c" stroke="#f01c1c" stroke-width="1.1"/>
<line x1="438.1" y1="617" x2="456.3" y2="617" stroke="#000" stroke-width="1.2" />
<text x="447.2" y="609.4" font-size="9.6" text-anchor="middle" font-style="italic" fill="#111" stroke="#111" stroke-width="0.22">n.s.</text>
<rect x="466.2" y="578" width="7" height="7" fill="#000" stroke="#000" stroke-width="0.5"/>
<rect x="474.7" y="580.9" width="7" height="7" fill="#000" stroke="#000" stroke-width="0.5"/>
<line x1="464.9" y1="583" x2="483.1" y2="583" stroke="#000" stroke-width="1.2" />
<text x="468.85" y="578.61" font-size="11.5" text-anchor="middle" font-family="DejaVu Sans, sans-serif" fill="#333" stroke="#333" stroke-width="0.3">*</text>
<text x="477.25" y="578.61" font-size="11.5" text-anchor="middle" font-family="DejaVu Sans, sans-serif" fill="#333" stroke="#333" stroke-width="0.3">*</text>
<polygon points="491.7,545.82 500.1,545.82 495.9,553.38" fill="#1414e0" stroke="#1414e0" stroke-width="0.5" />
<polygon points="500.2,554.52 508.6,554.52 504.4,562.08" fill="#1414e0" stroke="#1414e0" stroke-width="0.5" />
<line x1="500.2" y1="547.7" x2="500.2" y2="561" stroke="#000" stroke-width="1.1" />
<line x1="495.8" y1="547.7" x2="504.6" y2="547.7" stroke="#000" stroke-width="1.1" />
<line x1="495.8" y1="561" x2="504.6" y2="561" stroke="#000" stroke-width="1.1" />
<line x1="491.1" y1="554.2" x2="509.3" y2="554.2" stroke="#000" stroke-width="1.2" />
<text x="492.3" y="546.31" font-size="11.5" text-anchor="middle" font-family="DejaVu Sans, sans-serif" fill="#333" stroke="#333" stroke-width="0.3">*</text>
<text x="500.7" y="546.31" font-size="11.5" text-anchor="middle" font-family="DejaVu Sans, sans-serif" fill="#333" stroke="#333" stroke-width="0.3">*</text>
<text x="509.1" y="546.31" font-size="11.5" text-anchor="middle" font-family="DejaVu Sans, sans-serif" fill="#333" stroke="#333" stroke-width="0.3">*</text>
<line x1="573.5" y1="520.1" x2="573.5" y2="630.9" stroke="#000" stroke-width="1.3" />
<line x1="568" y1="630.3" x2="573.5" y2="630.3" stroke="#000" stroke-width="1.2" />
<text x="565.9" y="633.4" font-size="8.7" text-anchor="end" fill="#222" stroke="#222" stroke-width="0.22">0</text>
<line x1="568" y1="608.26" x2="573.5" y2="608.26" stroke="#000" stroke-width="1.2" />
<text x="565.9" y="611.36" font-size="8.7" text-anchor="end" fill="#222" stroke="#222" stroke-width="0.22">50</text>
<line x1="568" y1="586.22" x2="573.5" y2="586.22" stroke="#000" stroke-width="1.2" />
<text x="565.9" y="589.32" font-size="8.7" text-anchor="end" fill="#222" stroke="#222" stroke-width="0.22">100</text>
<line x1="568" y1="564.18" x2="573.5" y2="564.18" stroke="#000" stroke-width="1.2" />
<text x="565.9" y="567.28" font-size="8.7" text-anchor="end" fill="#222" stroke="#222" stroke-width="0.22">150</text>
<line x1="568" y1="542.14" x2="573.5" y2="542.14" stroke="#000" stroke-width="1.2" />
<text x="565.9" y="545.24" font-size="8.7" text-anchor="end" fill="#222" stroke="#222" stroke-width="0.22">200</text>
<line x1="568" y1="520.1" x2="573.5" y2="520.1" stroke="#000" stroke-width="1.2" />
<text x="565.9" y="523.2" font-size="8.7" text-anchor="end" fill="#222" stroke="#222" stroke-width="0.22">250</text>
<line x1="573.5" y1="630.3" x2="683" y2="630.3" stroke="#000" stroke-width="1.4" />
<text transform="translate(542.7,577.6) rotate(-90)" font-size="12" text-anchor="middle" font-weight="bold">IL-4 (pg/ml)</text>
<text transform="translate(590.1,637.9) rotate(-90)" font-size="9.9" text-anchor="end" fill="#111" stroke="#111" stroke-width="0.22">no OVA</text>
<text transform="translate(618.3,637.9) rotate(-90)" font-size="9.9" text-anchor="end" fill="#111" stroke="#111" stroke-width="0.22">CON</text>
<text transform="translate(645.4,637.9) rotate(-90)" font-size="9.9" text-anchor="end" fill="#111" stroke="#111" stroke-width="0.22">LPS</text>
<text transform="translate(673.2,637.9) rotate(-90)" font-size="9.9" text-anchor="end" fill="#111" stroke="#111" stroke-width="0.22">REA</text>
<line x1="612" y1="666.9" x2="676" y2="666.9" stroke="#000" stroke-width="1.1" />
<text x="643" y="679.1" font-size="10" text-anchor="middle" fill="#111">OVA<tspan font-size="7.2" dy="2.2">323-339</tspan></text>
<circle cx="586.7" cy="571.7" r="3.3" fill="none" stroke="#000" stroke-width="1.1"/>
<circle cx="586.7" cy="585.8" r="3.3" fill="none" stroke="#000" stroke-width="1.1"/>
<line x1="586.7" y1="568.3" x2="586.7" y2="589.2" stroke="#000" stroke-width="1.1" />
<line x1="582.3" y1="568.3" x2="591.1" y2="568.3" stroke="#000" stroke-width="1.1" />
<line x1="582.3" y1="589.2" x2="591.1" y2="589.2" stroke="#000" stroke-width="1.1" />
<line x1="577.6" y1="578.7" x2="595.8" y2="578.7" stroke="#000" stroke-width="1.2" />
<circle cx="610.6" cy="598.5" r="3.5" fill="#f01c1c" stroke="#f01c1c" stroke-width="1.1"/>
<circle cx="619.1" cy="601.8" r="3.5" fill="#f01c1c" stroke="#f01c1c" stroke-width="1.1"/>
<line x1="605.8" y1="599.9" x2="624" y2="599.9" stroke="#000" stroke-width="1.2" />
<text x="614.1" y="591.7" font-size="9.6" text-anchor="middle" font-style="italic" fill="#111" stroke="#111" stroke-width="0.22">n.s.</text>
<rect x="633.9" y="531.6" width="7" height="7" fill="#000" stroke="#000" stroke-width="0.5"/>
<rect x="643.2" y="537.2" width="7" height="7" fill="#000" stroke="#000" stroke-width="0.5"/>
<line x1="632.9" y1="537.5" x2="651.1" y2="537.5" stroke="#000" stroke-width="1.2" />
<text x="638.4" y="531.91" font-size="11.5" text-anchor="middle" font-family="DejaVu Sans, sans-serif" fill="#333" stroke="#333" stroke-width="0.3">*</text>
<text x="646.8" y="531.91" font-size="11.5" text-anchor="middle" font-family="DejaVu Sans, sans-serif" fill="#333" stroke="#333" stroke-width="0.3">*</text>
<polygon points="661.4,605.42 669.8,605.42 665.6,612.98" fill="#1414e0" stroke="#1414e0" stroke-width="0.5" />
<polygon points="669.8,607.52 678.2,607.52 674,615.08" fill="#1414e0" stroke="#1414e0" stroke-width="0.5" />
<line x1="660.7" y1="610.3" x2="678.9" y2="610.3" stroke="#000" stroke-width="1.2" />
<text x="669.8" y="606.51" font-size="11.5" text-anchor="middle" font-family="DejaVu Sans, sans-serif" fill="#333" stroke="#333" stroke-width="0.3">*</text>
<text x="5.3" y="246.6" font-size="13.4" font-weight="bold">C</text>
<clipPath id="cp1"><rect x="33.9" y="250" width="95" height="90.4"/></clipPath>
<g clip-path="url(#cp1)">
<path d="M51.4 297.7h0.9v0.9h-0.9zM84.4 277.6h0.9v0.9h-0.9zM93.5 275.7h0.9v0.9h-0.9zM42.6 296.0h0.9v0.9h-0.9zM53.2 310.2h0.9v0.9h-0.9zM122.6 255.9h0.9v0.9h-0.9zM51.5 273.1h0.9v0.9h-0.9zM124.4 282.0h0.9v0.9h-0.9zM95.3 255.4h0.9v0.9h-0.9zM72.8 254.3h0.9v0.9h-0.9zM85.5 264.4h0.9v0.9h-0.9zM99.0 274.5h0.9v0.9h-0.9zM64.5 296.1h0.9v0.9h-0.9zM52.3 288.2h0.9v0.9h-0.9zM110.1 252.8h0.9v0.9h-0.9zM99.7 253.7h0.9v0.9h-0.9zM85.6 278.6h0.9v0.9h-0.9zM112.7 304.4h0.9v0.9h-0.9zM88.9 306.8h0.9v0.9h-0.9zM127.3 273.3h0.9v0.9h-0.9zM58.2 305.1h0.9v0.9h-0.9zM89.3 307.7h0.9v0.9h-0.9zM83.0 275.8h0.9v0.9h-0.9zM71.4 296.5h0.9v0.9h-0.9zM92.7 273.3h0.9v0.9h-0.9zM60.9 260.4h0.9v0.9h-0.9zM111.4 286.1h0.9v0.9h-0.9zM117.2 256.3h0.9v0.9h-0.9zM51.5 291.5h0.9v0.9h-0.9zM81.6 300.4h0.9v0.9h-0.9zM64.7 306.8h0.9v0.9h-0.9zM47.4 278.3h0.9v0.9h-0.9zM119.7 258.2h0.9v0.9h-0.9zM78.3 306.1h0.9v0.9h-0.9zM53.1 304.1h0.9v0.9h-0.9zM99.9 310.0h0.9v0.9h-0.9zM58.0 287.2h0.9v0.9h-0.9zM120.2 292.1h0.9v0.9h-0.9zM59.3 273.8h0.9v0.9h-0.9zM57.9 268.8h0.9v0.9h-0.9zM70.8 295.0h0.9v0.9h-0.9zM81.7 270.8h0.9v0.9h-0.9zM120.6 293.2h0.9v0.9h-0.9zM102.1 281.6h0.9v0.9h-0.9zM70.2 278.4h0.9v0.9h-0.9zM41.5 310.0h0.9v0.9h-0.9zM54.2 261.1h0.9v0.9h-0.9zM80.9 260.7h0.9v0.9h-0.9zM101.5 308.2h0.9v0.9h-0.9zM44.9 280.8h0.9v0.9h-0.9zM43.0 271.2h0.9v0.9h-0.9zM115.3 261.3h0.9v0.9h-0.9zM92.3 287.2h0.9v0.9h-0.9zM67.5 275.3h0.9v0.9h-0.9zM68.2 258.8h0.9v0.9h-0.9zM55.4 274.9h0.9v0.9h-0.9zM42.2 286.6h0.9v0.9h-0.9zM114.7 282.6h0.9v0.9h-0.9zM81.5 305.9h0.9v0.9h-0.9zM51.3 306.6h0.9v0.9h-0.9zM105.8 308.1h0.9v0.9h-0.9zM57.4 299.8h0.9v0.9h-0.9zM45.5 280.1h0.9v0.9h-0.9zM93.3 283.0h0.9v0.9h-0.9zM119.7 275.2h0.9v0.9h-0.9zM111.7 253.5h0.9v0.9h-0.9zM56.9 299.7h0.9v0.9h-0.9zM66.1 279.5h0.9v0.9h-0.9zM104.7 294.8h0.9v0.9h-0.9zM83.9 277.6h0.9v0.9h-0.9zM115.9 273.2h0.9v0.9h-0.9zM59.3 291.2h0.9v0.9h-0.9zM68.1 260.9h0.9v0.9h-0.9zM63.0 251.7h0.9v0.9h-0.9zM127.1 287.1h0.9v0.9h-0.9zM123.7 283.4h0.9v0.9h-0.9zM70.3 303.8h0.9v0.9h-0.9zM78.8 276.4h0.9v0.9h-0.9zM68.0 299.0h0.9v0.9h-0.9zM106.4 252.1h0.9v0.9h-0.9zM46.0 287.5h0.9v0.9h-0.9zM76.0 264.8h0.9v0.9h-0.9zM61.8 255.1h0.9v0.9h-0.9zM115.2 258.8h0.9v0.9h-0.9zM106.0 273.9h0.9v0.9h-0.9zM88.6 271.6h0.9v0.9h-0.9zM98.9 285.4h0.9v0.9h-0.9zM101.6 305.1h0.9v0.9h-0.9zM109.5 273.3h0.9v0.9h-0.9zM122.5 262.2h0.9v0.9h-0.9zM53.3 286.3h0.9v0.9h-0.9zM95.7 251.1h0.9v0.9h-0.9zM52.8 274.5h0.9v0.9h-0.9zM79.4 270.4h0.9v0.9h-0.9zM110.0 274.6h0.9v0.9h-0.9zM119.6 254.1h0.9v0.9h-0.9zM107.6 284.8h0.9v0.9h-0.9zM43.2 289.1h0.9v0.9h-0.9zM72.0 296.7h0.9v0.9h-0.9zM54.5 309.4h0.9v0.9h-0.9zM52.8 291.0h0.9v0.9h-0.9zM61.7 278.0h0.9v0.9h-0.9zM71.8 264.1h0.9v0.9h-0.9zM45.4 305.2h0.9v0.9h-0.9zM117.5 296.5h0.9v0.9h-0.9zM96.6 308.5h0.9v0.9h-0.9zM54.2 301.1h0.9v0.9h-0.9zM84.3 307.0h0.9v0.9h-0.9zM94.4 252.0h0.9v0.9h-0.9zM60.6 263.1h0.9v0.9h-0.9zM50.3 292.9h0.9v0.9h-0.9zM89.4 277.7h0.9v0.9h-0.9zM96.7 282.3h0.9v0.9h-0.9zM68.9 297.4h0.9v0.9h-0.9zM97.3 255.3h0.9v0.9h-0.9zM71.3 292.4h0.9v0.9h-0.9zM51.6 254.0h0.9v0.9h-0.9zM68.1 266.2h0.9v0.9h-0.9zM75.2 295.1h0.9v0.9h-0.9zM121.2 292.7h0.9v0.9h-0.9zM50.3 275.7h0.9v0.9h-0.9zM90.0 301.5h0.9v0.9h-0.9zM125.7 267.8h0.9v0.9h-0.9zM120.7 252.9h0.9v0.9h-0.9zM102.3 266.1h0.9v0.9h-0.9zM45.9 252.3h0.9v0.9h-0.9zM111.8 300.5h0.9v0.9h-0.9zM100.8 258.5h0.9v0.9h-0.9zM52.8 310.4h0.9v0.9h-0.9zM81.4 264.0h0.9v0.9h-0.9zM111.4 286.7h0.9v0.9h-0.9zM104.0 269.8h0.9v0.9h-0.9zM111.6 274.1h0.9v0.9h-0.9zM107.7 257.4h0.9v0.9h-0.9zM63.8 274.7h0.9v0.9h-0.9zM110.3 252.5h0.9v0.9h-0.9zM62.2 264.7h0.9v0.9h-0.9zM52.3 306.5h0.9v0.9h-0.9zM74.7 268.1h0.9v0.9h-0.9zM84.3 267.5h0.9v0.9h-0.9zM65.4 292.4h0.9v0.9h-0.9zM93.9 304.9h0.9v0.9h-0.9zM93.6 269.0h0.9v0.9h-0.9zM61.3 274.0h0.9v0.9h-0.9zM95.4 294.6h0.9v0.9h-0.9zM71.8 299.3h0.9v0.9h-0.9zM105.4 288.4h0.9v0.9h-0.9zM65.8 261.9h0.9v0.9h-0.9zM111.1 262.0h0.9v0.9h-0.9zM76.9 297.2h0.9v0.9h-0.9zM89.2 294.1h0.9v0.9h-0.9zM99.9 305.7h0.9v0.9h-0.9zM86.1 298.6h0.9v0.9h-0.9zM62.9 276.7h0.9v0.9h-0.9zM127.2 259.1h0.9v0.9h-0.9zM48.5 305.3h0.9v0.9h-0.9zM68.9 293.4h0.9v0.9h-0.9zM88.9 286.2h0.9v0.9h-0.9zM42.6 292.6h0.9v0.9h-0.9zM53.8 274.5h0.9v0.9h-0.9zM111.1 271.9h0.9v0.9h-0.9zM109.8 286.1h0.9v0.9h-0.9zM96.7 280.4h0.9v0.9h-0.9zM120.3 294.2h0.9v0.9h-0.9zM107.2 308.1h0.9v0.9h-0.9zM66.6 302.7h0.9v0.9h-0.9zM97.4 274.6h0.9v0.9h-0.9zM70.3 273.7h0.9v0.9h-0.9zM106.7 307.5h0.9v0.9h-0.9zM74.2 275.1h0.9v0.9h-0.9zM53.6 299.8h0.9v0.9h-0.9zM118.0 256.7h0.9v0.9h-0.9zM101.4 278.5h0.9v0.9h-0.9zM106.3 282.5h0.9v0.9h-0.9zM89.8 300.3h0.9v0.9h-0.9zM109.7 304.5h0.9v0.9h-0.9zM79.9 260.3h0.9v0.9h-0.9zM90.4 288.6h0.9v0.9h-0.9zM45.6 289.4h0.9v0.9h-0.9zM89.4 260.2h0.9v0.9h-0.9zM112.5 301.8h0.9v0.9h-0.9zM102.8 284.8h0.9v0.9h-0.9zM111.5 309.7h0.9v0.9h-0.9zM84.2 262.4h0.9v0.9h-0.9zM118.4 283.0h0.9v0.9h-0.9zM117.9 290.2h0.9v0.9h-0.9zM73.0 288.1h0.9v0.9h-0.9zM48.1 282.3h0.9v0.9h-0.9zM95.1 270.8h0.9v0.9h-0.9zM80.5 281.7h0.9v0.9h-0.9zM78.1 273.7h0.9v0.9h-0.9zM115.8 305.3h0.9v0.9h-0.9zM52.3 279.2h0.9v0.9h-0.9zM94.9 280.0h0.9v0.9h-0.9zM76.8 266.8h0.9v0.9h-0.9zM87.0 266.5h0.9v0.9h-0.9zM84.4 309.2h0.9v0.9h-0.9zM51.9 270.2h0.9v0.9h-0.9zM85.6 304.0h0.9v0.9h-0.9zM116.7 287.3h0.9v0.9h-0.9zM55.2 310.8h0.9v0.9h-0.9zM46.0 308.4h0.9v0.9h-0.9zM80.9 298.1h0.9v0.9h-0.9zM126.7 285.6h0.9v0.9h-0.9zM43.9 294.2h0.9v0.9h-0.9zM128.2 295.1h0.9v0.9h-0.9zM87.7 278.4h0.9v0.9h-0.9zM50.7 289.7h0.9v0.9h-0.9zM77.3 264.9h0.9v0.9h-0.9zM58.5 252.3h0.9v0.9h-0.9zM103.6 292.3h0.9v0.9h-0.9zM88.2 279.9h0.9v0.9h-0.9zM65.6 306.2h0.9v0.9h-0.9zM62.7 267.1h0.9v0.9h-0.9zM117.2 300.9h0.9v0.9h-0.9zM86.2 265.4h0.9v0.9h-0.9zM64.5 270.7h0.9v0.9h-0.9zM61.1 271.8h0.9v0.9h-0.9zM75.4 264.2h0.9v0.9h-0.9zM65.6 259.9h0.9v0.9h-0.9zM66.3 271.3h0.9v0.9h-0.9zM83.0 278.7h0.9v0.9h-0.9zM90.3 275.8h0.9v0.9h-0.9zM73.2 274.4h0.9v0.9h-0.9zM67.7 274.5h0.9v0.9h-0.9zM76.9 293.3h0.9v0.9h-0.9zM69.8 279.4h0.9v0.9h-0.9zM57.3 287.6h0.9v0.9h-0.9zM98.7 270.5h0.9v0.9h-0.9zM78.6 272.4h0.9v0.9h-0.9zM71.7 279.4h0.9v0.9h-0.9zM67.7 285.2h0.9v0.9h-0.9zM78.6 273.3h0.9v0.9h-0.9zM89.6 270.8h0.9v0.9h-0.9zM61.3 259.1h0.9v0.9h-0.9zM78.2 280.1h0.9v0.9h-0.9zM78.7 267.7h0.9v0.9h-0.9zM51.4 254.5h0.9v0.9h-0.9zM81.2 268.7h0.9v0.9h-0.9zM86.3 254.5h0.9v0.9h-0.9zM72.7 261.0h0.9v0.9h-0.9zM69.2 270.2h0.9v0.9h-0.9zM79.5 261.7h0.9v0.9h-0.9zM51.5 279.7h0.9v0.9h-0.9zM71.1 256.8h0.9v0.9h-0.9zM82.7 272.4h0.9v0.9h-0.9zM55.1 275.1h0.9v0.9h-0.9zM81.9 283.2h0.9v0.9h-0.9zM65.0 278.4h0.9v0.9h-0.9zM68.7 270.8h0.9v0.9h-0.9zM58.3 269.5h0.9v0.9h-0.9zM73.8 280.3h0.9v0.9h-0.9zM55.9 264.2h0.9v0.9h-0.9zM82.6 274.8h0.9v0.9h-0.9zM61.1 269.2h0.9v0.9h-0.9zM74.3 272.3h0.9v0.9h-0.9zM62.9 267.7h0.9v0.9h-0.9zM66.1 289.3h0.9v0.9h-0.9zM84.3 264.2h0.9v0.9h-0.9zM72.6 272.4h0.9v0.9h-0.9zM65.3 272.6h0.9v0.9h-0.9zM55.0 275.6h0.9v0.9h-0.9zM83.9 274.2h0.9v0.9h-0.9zM78.8 273.9h0.9v0.9h-0.9zM66.1 278.9h0.9v0.9h-0.9zM72.9 256.6h0.9v0.9h-0.9zM57.6 270.2h0.9v0.9h-0.9zM57.8 259.0h0.9v0.9h-0.9zM60.1 272.2h0.9v0.9h-0.9zM74.2 259.5h0.9v0.9h-0.9zM73.6 261.5h0.9v0.9h-0.9zM61.1 269.6h0.9v0.9h-0.9zM78.9 282.7h0.9v0.9h-0.9zM79.4 275.3h0.9v0.9h-0.9zM72.1 272.8h0.9v0.9h-0.9zM82.5 282.7h0.9v0.9h-0.9zM66.6 261.6h0.9v0.9h-0.9zM68.6 251.3h0.9v0.9h-0.9zM75.7 266.3h0.9v0.9h-0.9zM69.6 267.6h0.9v0.9h-0.9zM79.5 281.2h0.9v0.9h-0.9zM55.0 289.4h0.9v0.9h-0.9zM87.1 258.2h0.9v0.9h-0.9zM60.6 292.4h0.9v0.9h-0.9zM68.0 284.2h0.9v0.9h-0.9zM53.5 277.7h0.9v0.9h-0.9zM77.2 273.4h0.9v0.9h-0.9zM85.3 292.0h0.9v0.9h-0.9zM82.9 270.8h0.9v0.9h-0.9zM80.0 265.9h0.9v0.9h-0.9zM51.3 271.4h0.9v0.9h-0.9zM60.6 257.8h0.9v0.9h-0.9zM64.4 274.4h0.9v0.9h-0.9zM58.8 269.1h0.9v0.9h-0.9zM83.5 273.1h0.9v0.9h-0.9zM72.2 273.4h0.9v0.9h-0.9zM69.7 260.6h0.9v0.9h-0.9zM75.9 282.0h0.9v0.9h-0.9zM58.6 261.0h0.9v0.9h-0.9zM59.1 278.1h0.9v0.9h-0.9zM59.4 255.8h0.9v0.9h-0.9zM76.0 273.5h0.9v0.9h-0.9zM74.1 262.7h0.9v0.9h-0.9zM76.9 270.5h0.9v0.9h-0.9zM82.9 264.3h0.9v0.9h-0.9zM53.7 250.5h0.9v0.9h-0.9zM63.3 260.1h0.9v0.9h-0.9zM71.8 270.8h0.9v0.9h-0.9zM53.8 275.8h0.9v0.9h-0.9zM63.6 256.9h0.9v0.9h-0.9zM82.2 251.0h0.9v0.9h-0.9zM83.2 262.3h0.9v0.9h-0.9zM82.9 268.2h0.9v0.9h-0.9zM70.5 264.4h0.9v0.9h-0.9zM67.5 262.9h0.9v0.9h-0.9zM83.0 277.8h0.9v0.9h-0.9zM65.5 278.8h0.9v0.9h-0.9zM74.1 276.8h0.9v0.9h-0.9zM85.9 261.7h0.9v0.9h-0.9zM65.6 270.8h0.9v0.9h-0.9zM62.7 268.4h0.9v0.9h-0.9zM69.9 257.3h0.9v0.9h-0.9zM77.2 278.1h0.9v0.9h-0.9zM75.8 270.9h0.9v0.9h-0.9zM71.9 265.8h0.9v0.9h-0.9zM76.7 282.9h0.9v0.9h-0.9zM50.8 277.0h0.9v0.9h-0.9zM59.7 277.8h0.9v0.9h-0.9zM72.0 280.9h0.9v0.9h-0.9zM58.9 276.6h0.9v0.9h-0.9zM53.9 258.7h0.9v0.9h-0.9zM55.5 266.6h0.9v0.9h-0.9zM59.0 279.2h0.9v0.9h-0.9zM67.9 263.2h0.9v0.9h-0.9zM57.7 270.5h0.9v0.9h-0.9zM72.8 273.7h0.9v0.9h-0.9zM90.4 283.1h0.9v0.9h-0.9zM68.2 281.8h0.9v0.9h-0.9zM85.3 278.2h0.9v0.9h-0.9zM73.5 268.5h0.9v0.9h-0.9zM56.6 278.4h0.9v0.9h-0.9zM66.9 274.9h0.9v0.9h-0.9zM58.2 268.7h0.9v0.9h-0.9zM79.2 282.3h0.9v0.9h-0.9zM56.2 274.6h0.9v0.9h-0.9zM85.9 263.3h0.9v0.9h-0.9zM76.9 281.5h0.9v0.9h-0.9zM79.4 275.5h0.9v0.9h-0.9zM88.6 256.4h0.9v0.9h-0.9zM60.5 269.9h0.9v0.9h-0.9zM81.8 261.6h0.9v0.9h-0.9zM73.0 252.9h0.9v0.9h-0.9zM50.1 289.4h0.9v0.9h-0.9zM75.8 268.7h0.9v0.9h-0.9zM38.4 280.1h0.9v0.9h-0.9zM74.8 269.0h0.9v0.9h-0.9zM97.5 274.7h0.9v0.9h-0.9zM62.9 257.9h0.9v0.9h-0.9zM80.0 271.9h0.9v0.9h-0.9zM71.3 266.4h0.9v0.9h-0.9zM66.1 274.6h0.9v0.9h-0.9zM77.4 271.7h0.9v0.9h-0.9zM89.7 257.6h0.9v0.9h-0.9zM55.2 253.4h0.9v0.9h-0.9zM76.8 260.9h0.9v0.9h-0.9zM74.1 276.7h0.9v0.9h-0.9zM52.9 273.9h0.9v0.9h-0.9zM89.4 273.7h0.9v0.9h-0.9zM93.4 251.9h0.9v0.9h-0.9zM90.9 264.5h0.9v0.9h-0.9zM70.7 267.1h0.9v0.9h-0.9zM68.0 264.6h0.9v0.9h-0.9zM88.0 273.2h0.9v0.9h-0.9zM72.7 268.5h0.9v0.9h-0.9zM73.9 259.4h0.9v0.9h-0.9zM88.2 262.1h0.9v0.9h-0.9zM85.5 271.3h0.9v0.9h-0.9zM80.7 270.7h0.9v0.9h-0.9zM53.2 269.4h0.9v0.9h-0.9zM51.1 290.4h0.9v0.9h-0.9zM83.5 267.7h0.9v0.9h-0.9zM58.9 271.1h0.9v0.9h-0.9zM71.8 261.1h0.9v0.9h-0.9zM57.1 266.8h0.9v0.9h-0.9zM67.8 274.7h0.9v0.9h-0.9zM54.7 275.1h0.9v0.9h-0.9zM89.6 268.6h0.9v0.9h-0.9zM57.8 273.6h0.9v0.9h-0.9zM68.5 270.5h0.9v0.9h-0.9zM67.7 253.1h0.9v0.9h-0.9zM53.0 290.8h0.9v0.9h-0.9zM69.6 277.5h0.9v0.9h-0.9zM67.5 269.5h0.9v0.9h-0.9zM76.4 254.4h0.9v0.9h-0.9zM75.7 258.5h0.9v0.9h-0.9zM64.4 282.2h0.9v0.9h-0.9zM65.5 267.1h0.9v0.9h-0.9zM75.6 277.8h0.9v0.9h-0.9zM68.8 271.3h0.9v0.9h-0.9zM62.1 276.8h0.9v0.9h-0.9zM69.7 268.8h0.9v0.9h-0.9zM74.4 291.5h0.9v0.9h-0.9zM97.2 260.7h0.9v0.9h-0.9zM64.1 257.7h0.9v0.9h-0.9zM73.7 272.5h0.9v0.9h-0.9zM87.6 282.9h0.9v0.9h-0.9zM49.1 279.4h0.9v0.9h-0.9zM55.7 265.2h0.9v0.9h-0.9zM68.6 259.3h0.9v0.9h-0.9zM99.3 282.6h0.9v0.9h-0.9zM74.7 284.1h0.9v0.9h-0.9zM84.5 283.8h0.9v0.9h-0.9zM67.3 266.1h0.9v0.9h-0.9zM82.2 268.0h0.9v0.9h-0.9zM72.2 275.2h0.9v0.9h-0.9zM54.4 274.6h0.9v0.9h-0.9zM83.4 257.1h0.9v0.9h-0.9zM51.5 271.8h0.9v0.9h-0.9zM83.6 270.2h0.9v0.9h-0.9zM87.4 270.8h0.9v0.9h-0.9zM60.8 269.8h0.9v0.9h-0.9zM56.7 268.2h0.9v0.9h-0.9zM80.1 275.3h0.9v0.9h-0.9zM56.9 271.1h0.9v0.9h-0.9zM80.3 272.0h0.9v0.9h-0.9zM55.7 263.8h0.9v0.9h-0.9zM79.7 273.6h0.9v0.9h-0.9zM71.1 268.9h0.9v0.9h-0.9zM64.8 251.0h0.9v0.9h-0.9zM59.3 274.4h0.9v0.9h-0.9zM72.9 267.6h0.9v0.9h-0.9zM47.3 278.3h0.9v0.9h-0.9zM66.7 268.5h0.9v0.9h-0.9zM65.2 269.1h0.9v0.9h-0.9zM78.1 271.9h0.9v0.9h-0.9zM55.0 269.9h0.9v0.9h-0.9zM90.6 266.0h0.9v0.9h-0.9zM66.3 253.9h0.9v0.9h-0.9zM56.3 286.6h0.9v0.9h-0.9zM86.6 255.8h0.9v0.9h-0.9zM90.0 266.9h0.9v0.9h-0.9zM67.7 275.9h0.9v0.9h-0.9zM59.3 273.4h0.9v0.9h-0.9zM70.2 275.1h0.9v0.9h-0.9zM61.7 276.9h0.9v0.9h-0.9zM66.3 281.4h0.9v0.9h-0.9zM88.7 272.7h0.9v0.9h-0.9zM74.7 296.2h0.9v0.9h-0.9zM71.7 260.9h0.9v0.9h-0.9zM74.2 272.0h0.9v0.9h-0.9zM69.3 266.8h0.9v0.9h-0.9zM80.1 265.1h0.9v0.9h-0.9zM80.6 272.6h0.9v0.9h-0.9zM65.6 283.1h0.9v0.9h-0.9zM71.3 263.6h0.9v0.9h-0.9zM99.0 263.6h0.9v0.9h-0.9zM75.1 276.5h0.9v0.9h-0.9zM67.8 274.9h0.9v0.9h-0.9zM94.6 287.6h0.9v0.9h-0.9zM70.1 279.3h0.9v0.9h-0.9zM56.8 272.1h0.9v0.9h-0.9zM78.1 267.0h0.9v0.9h-0.9zM59.2 271.9h0.9v0.9h-0.9zM64.0 268.4h0.9v0.9h-0.9zM73.9 257.7h0.9v0.9h-0.9zM68.5 270.1h0.9v0.9h-0.9zM60.8 268.4h0.9v0.9h-0.9zM63.4 267.9h0.9v0.9h-0.9zM62.9 266.1h0.9v0.9h-0.9zM84.0 285.2h0.9v0.9h-0.9zM61.3 276.3h0.9v0.9h-0.9zM63.1 278.4h0.9v0.9h-0.9zM94.5 264.5h0.9v0.9h-0.9zM63.4 260.8h0.9v0.9h-0.9zM87.9 267.5h0.9v0.9h-0.9zM85.8 272.2h0.9v0.9h-0.9zM68.2 266.9h0.9v0.9h-0.9zM53.0 268.3h0.9v0.9h-0.9zM75.4 278.7h0.9v0.9h-0.9zM78.1 272.7h0.9v0.9h-0.9zM81.6 261.1h0.9v0.9h-0.9zM70.9 266.1h0.9v0.9h-0.9zM84.5 264.1h0.9v0.9h-0.9zM86.7 271.6h0.9v0.9h-0.9zM57.3 259.5h0.9v0.9h-0.9zM87.2 268.4h0.9v0.9h-0.9zM72.1 276.2h0.9v0.9h-0.9zM63.2 270.3h0.9v0.9h-0.9zM66.2 261.8h0.9v0.9h-0.9zM92.5 264.5h0.9v0.9h-0.9zM81.8 271.1h0.9v0.9h-0.9zM71.0 277.5h0.9v0.9h-0.9zM68.3 268.7h0.9v0.9h-0.9zM67.9 258.1h0.9v0.9h-0.9zM63.8 282.8h0.9v0.9h-0.9zM52.5 272.7h0.9v0.9h-0.9zM80.3 273.7h0.9v0.9h-0.9zM58.7 272.7h0.9v0.9h-0.9zM65.6 260.7h0.9v0.9h-0.9zM62.8 267.1h0.9v0.9h-0.9zM61.3 272.3h0.9v0.9h-0.9zM78.9 279.3h0.9v0.9h-0.9zM74.6 270.5h0.9v0.9h-0.9zM58.7 267.8h0.9v0.9h-0.9zM64.4 273.2h0.9v0.9h-0.9zM81.6 281.6h0.9v0.9h-0.9zM71.5 276.4h0.9v0.9h-0.9zM72.8 292.4h0.9v0.9h-0.9zM66.1 282.8h0.9v0.9h-0.9zM66.9 282.1h0.9v0.9h-0.9zM72.6 278.5h0.9v0.9h-0.9zM89.3 277.6h0.9v0.9h-0.9zM60.5 275.4h0.9v0.9h-0.9zM63.2 265.3h0.9v0.9h-0.9zM86.1 275.3h0.9v0.9h-0.9zM72.7 273.8h0.9v0.9h-0.9zM70.5 265.8h0.9v0.9h-0.9zM63.0 268.9h0.9v0.9h-0.9zM51.3 267.6h0.9v0.9h-0.9zM72.2 272.1h0.9v0.9h-0.9zM84.3 266.2h0.9v0.9h-0.9zM59.2 274.9h0.9v0.9h-0.9zM86.4 252.7h0.9v0.9h-0.9zM56.5 267.5h0.9v0.9h-0.9zM61.2 254.8h0.9v0.9h-0.9zM76.1 265.7h0.9v0.9h-0.9zM70.0 274.7h0.9v0.9h-0.9zM78.3 270.2h0.9v0.9h-0.9zM61.1 269.0h0.9v0.9h-0.9zM57.6 270.6h0.9v0.9h-0.9zM47.6 284.1h0.9v0.9h-0.9zM55.6 260.0h0.9v0.9h-0.9zM57.1 278.0h0.9v0.9h-0.9zM52.9 256.4h0.9v0.9h-0.9zM73.7 265.8h0.9v0.9h-0.9zM62.0 271.5h0.9v0.9h-0.9zM99.8 271.8h0.9v0.9h-0.9zM60.0 276.6h0.9v0.9h-0.9zM54.9 259.3h0.9v0.9h-0.9zM84.9 269.3h0.9v0.9h-0.9zM84.0 266.6h0.9v0.9h-0.9zM56.2 252.5h0.9v0.9h-0.9zM52.3 268.3h0.9v0.9h-0.9zM58.0 262.8h0.9v0.9h-0.9zM83.6 282.1h0.9v0.9h-0.9zM66.3 262.1h0.9v0.9h-0.9zM60.3 285.3h0.9v0.9h-0.9zM69.7 265.2h0.9v0.9h-0.9zM84.5 287.4h0.9v0.9h-0.9zM53.3 274.9h0.9v0.9h-0.9zM65.4 274.1h0.9v0.9h-0.9zM53.4 277.3h0.9v0.9h-0.9zM96.1 278.1h0.9v0.9h-0.9zM91.8 282.6h0.9v0.9h-0.9zM81.4 285.6h0.9v0.9h-0.9zM68.4 266.9h0.9v0.9h-0.9zM77.9 258.7h0.9v0.9h-0.9zM73.3 266.5h0.9v0.9h-0.9zM54.0 276.8h0.9v0.9h-0.9zM54.1 273.4h0.9v0.9h-0.9zM61.5 271.0h0.9v0.9h-0.9zM65.8 266.8h0.9v0.9h-0.9zM76.9 264.2h0.9v0.9h-0.9zM78.4 267.4h0.9v0.9h-0.9zM73.2 273.5h0.9v0.9h-0.9zM58.7 254.1h0.9v0.9h-0.9zM78.1 276.6h0.9v0.9h-0.9zM68.5 256.9h0.9v0.9h-0.9zM84.2 268.6h0.9v0.9h-0.9zM59.0 264.3h0.9v0.9h-0.9zM64.3 260.6h0.9v0.9h-0.9zM95.8 259.6h0.9v0.9h-0.9zM75.6 267.9h0.9v0.9h-0.9zM67.7 260.2h0.9v0.9h-0.9zM80.6 292.1h0.9v0.9h-0.9zM76.0 266.2h0.9v0.9h-0.9zM75.5 264.0h0.9v0.9h-0.9zM110.6 290.2h0.9v0.9h-0.9zM106.4 266.0h0.9v0.9h-0.9zM95.3 269.7h0.9v0.9h-0.9zM112.9 285.1h0.9v0.9h-0.9zM117.4 289.8h0.9v0.9h-0.9zM102.9 275.0h0.9v0.9h-0.9zM115.0 277.7h0.9v0.9h-0.9zM105.3 275.6h0.9v0.9h-0.9zM114.7 277.7h0.9v0.9h-0.9zM117.8 265.5h0.9v0.9h-0.9zM118.8 262.7h0.9v0.9h-0.9zM118.4 278.9h0.9v0.9h-0.9zM109.3 259.0h0.9v0.9h-0.9zM122.0 268.1h0.9v0.9h-0.9zM111.4 271.9h0.9v0.9h-0.9zM117.7 267.2h0.9v0.9h-0.9zM120.6 282.7h0.9v0.9h-0.9zM112.5 274.5h0.9v0.9h-0.9zM104.7 278.8h0.9v0.9h-0.9zM119.8 267.7h0.9v0.9h-0.9zM106.0 270.9h0.9v0.9h-0.9zM107.8 285.9h0.9v0.9h-0.9zM106.1 284.1h0.9v0.9h-0.9zM121.7 274.2h0.9v0.9h-0.9zM113.6 284.1h0.9v0.9h-0.9zM96.9 282.0h0.9v0.9h-0.9zM120.8 281.6h0.9v0.9h-0.9zM110.4 284.7h0.9v0.9h-0.9zM115.5 284.7h0.9v0.9h-0.9zM119.0 276.8h0.9v0.9h-0.9zM122.1 265.7h0.9v0.9h-0.9zM115.2 287.9h0.9v0.9h-0.9zM106.2 282.8h0.9v0.9h-0.9zM121.0 280.2h0.9v0.9h-0.9zM119.8 279.9h0.9v0.9h-0.9zM104.3 279.8h0.9v0.9h-0.9zM112.0 268.8h0.9v0.9h-0.9zM117.1 283.1h0.9v0.9h-0.9zM114.9 257.9h0.9v0.9h-0.9zM119.1 279.2h0.9v0.9h-0.9zM121.3 261.6h0.9v0.9h-0.9zM119.2 275.3h0.9v0.9h-0.9zM114.0 288.1h0.9v0.9h-0.9zM104.1 276.4h0.9v0.9h-0.9zM119.8 273.7h0.9v0.9h-0.9zM126.1 285.6h0.9v0.9h-0.9zM114.6 274.5h0.9v0.9h-0.9zM114.6 274.7h0.9v0.9h-0.9zM126.5 297.5h0.9v0.9h-0.9zM126.4 287.4h0.9v0.9h-0.9zM117.6 285.1h0.9v0.9h-0.9zM120.6 265.1h0.9v0.9h-0.9zM108.8 286.8h0.9v0.9h-0.9zM119.6 263.8h0.9v0.9h-0.9zM108.3 285.1h0.9v0.9h-0.9zM113.7 265.9h0.9v0.9h-0.9zM113.9 302.7h0.9v0.9h-0.9zM111.1 259.1h0.9v0.9h-0.9zM98.0 294.0h0.9v0.9h-0.9zM108.3 288.9h0.9v0.9h-0.9zM117.6 258.0h0.9v0.9h-0.9zM114.4 276.4h0.9v0.9h-0.9zM111.7 296.6h0.9v0.9h-0.9zM118.3 292.9h0.9v0.9h-0.9zM120.4 259.4h0.9v0.9h-0.9zM121.7 273.0h0.9v0.9h-0.9zM108.4 265.2h0.9v0.9h-0.9zM115.0 267.0h0.9v0.9h-0.9zM112.2 271.6h0.9v0.9h-0.9zM107.8 301.3h0.9v0.9h-0.9zM102.9 280.8h0.9v0.9h-0.9zM114.1 276.5h0.9v0.9h-0.9zM107.9 275.2h0.9v0.9h-0.9zM114.1 287.5h0.9v0.9h-0.9zM113.1 268.2h0.9v0.9h-0.9zM111.7 296.8h0.9v0.9h-0.9zM107.3 275.9h0.9v0.9h-0.9zM113.6 284.6h0.9v0.9h-0.9zM108.7 299.8h0.9v0.9h-0.9zM113.9 275.1h0.9v0.9h-0.9zM114.6 282.7h0.9v0.9h-0.9zM123.7 294.9h0.9v0.9h-0.9zM103.5 286.7h0.9v0.9h-0.9zM114.7 292.7h0.9v0.9h-0.9zM127.8 291.7h0.9v0.9h-0.9zM110.8 282.3h0.9v0.9h-0.9zM113.4 286.8h0.9v0.9h-0.9zM107.8 290.2h0.9v0.9h-0.9zM93.9 278.9h0.9v0.9h-0.9zM114.0 298.4h0.9v0.9h-0.9zM124.3 255.4h0.9v0.9h-0.9zM111.1 268.2h0.9v0.9h-0.9zM100.1 296.5h0.9v0.9h-0.9zM117.0 284.3h0.9v0.9h-0.9zM115.5 271.5h0.9v0.9h-0.9zM122.9 283.8h0.9v0.9h-0.9zM122.1 292.3h0.9v0.9h-0.9zM112.7 272.5h0.9v0.9h-0.9zM118.1 288.4h0.9v0.9h-0.9zM100.5 277.8h0.9v0.9h-0.9zM123.8 277.9h0.9v0.9h-0.9zM116.4 278.4h0.9v0.9h-0.9zM123.5 292.6h0.9v0.9h-0.9zM123.4 265.8h0.9v0.9h-0.9zM112.6 274.8h0.9v0.9h-0.9zM113.7 287.2h0.9v0.9h-0.9zM107.9 264.6h0.9v0.9h-0.9zM98.3 260.3h0.9v0.9h-0.9zM113.8 286.1h0.9v0.9h-0.9zM116.1 279.3h0.9v0.9h-0.9zM106.2 277.5h0.9v0.9h-0.9zM120.6 280.9h0.9v0.9h-0.9zM115.7 267.6h0.9v0.9h-0.9zM118.5 314.2h0.9v0.9h-0.9zM108.7 267.4h0.9v0.9h-0.9zM100.7 274.0h0.9v0.9h-0.9zM121.1 262.2h0.9v0.9h-0.9zM119.8 274.2h0.9v0.9h-0.9zM114.0 297.6h0.9v0.9h-0.9zM111.5 279.5h0.9v0.9h-0.9zM112.6 286.4h0.9v0.9h-0.9zM113.8 273.4h0.9v0.9h-0.9zM110.8 301.0h0.9v0.9h-0.9zM98.8 281.2h0.9v0.9h-0.9zM121.1 264.3h0.9v0.9h-0.9zM102.9 288.5h0.9v0.9h-0.9zM112.2 274.8h0.9v0.9h-0.9zM112.4 286.5h0.9v0.9h-0.9zM117.0 280.9h0.9v0.9h-0.9zM102.0 282.4h0.9v0.9h-0.9zM124.5 280.9h0.9v0.9h-0.9zM120.1 268.4h0.9v0.9h-0.9zM121.0 261.2h0.9v0.9h-0.9zM125.0 290.9h0.9v0.9h-0.9zM108.5 277.6h0.9v0.9h-0.9zM89.8 282.7h0.9v0.9h-0.9zM117.6 273.7h0.9v0.9h-0.9zM125.4 255.0h0.9v0.9h-0.9zM124.2 263.9h0.9v0.9h-0.9zM110.6 296.0h0.9v0.9h-0.9zM114.2 269.8h0.9v0.9h-0.9zM117.2 274.6h0.9v0.9h-0.9zM100.5 261.6h0.9v0.9h-0.9zM109.6 272.9h0.9v0.9h-0.9zM109.9 274.8h0.9v0.9h-0.9zM127.6 276.6h0.9v0.9h-0.9zM109.7 278.3h0.9v0.9h-0.9zM127.5 271.6h0.9v0.9h-0.9zM115.1 272.3h0.9v0.9h-0.9zM101.6 279.0h0.9v0.9h-0.9zM107.2 277.5h0.9v0.9h-0.9zM119.9 300.1h0.9v0.9h-0.9zM110.7 281.1h0.9v0.9h-0.9zM105.2 271.3h0.9v0.9h-0.9zM123.3 291.5h0.9v0.9h-0.9zM115.5 266.9h0.9v0.9h-0.9zM105.2 259.8h0.9v0.9h-0.9zM106.4 267.5h0.9v0.9h-0.9zM111.9 286.6h0.9v0.9h-0.9zM122.7 265.4h0.9v0.9h-0.9zM112.7 294.7h0.9v0.9h-0.9zM120.2 278.9h0.9v0.9h-0.9zM125.2 276.4h0.9v0.9h-0.9zM126.5 300.6h0.9v0.9h-0.9zM124.9 268.8h0.9v0.9h-0.9zM102.1 263.4h0.9v0.9h-0.9zM124.8 285.3h0.9v0.9h-0.9zM117.6 294.8h0.9v0.9h-0.9zM114.0 291.3h0.9v0.9h-0.9zM106.3 275.2h0.9v0.9h-0.9zM102.3 281.4h0.9v0.9h-0.9zM106.1 283.0h0.9v0.9h-0.9zM114.8 293.2h0.9v0.9h-0.9zM105.6 304.9h0.9v0.9h-0.9zM108.5 277.8h0.9v0.9h-0.9zM110.1 294.7h0.9v0.9h-0.9zM120.3 275.0h0.9v0.9h-0.9zM112.6 286.2h0.9v0.9h-0.9zM113.8 267.9h0.9v0.9h-0.9zM125.6 270.0h0.9v0.9h-0.9zM112.4 284.1h0.9v0.9h-0.9zM119.8 268.4h0.9v0.9h-0.9zM106.5 289.8h0.9v0.9h-0.9zM117.6 272.5h0.9v0.9h-0.9zM116.0 280.1h0.9v0.9h-0.9zM116.4 278.1h0.9v0.9h-0.9zM111.3 275.1h0.9v0.9h-0.9zM106.8 280.7h0.9v0.9h-0.9zM112.6 292.1h0.9v0.9h-0.9zM111.3 316.4h0.9v0.9h-0.9zM123.3 264.9h0.9v0.9h-0.9zM122.3 282.7h0.9v0.9h-0.9zM105.4 277.0h0.9v0.9h-0.9zM120.0 268.2h0.9v0.9h-0.9zM111.2 282.6h0.9v0.9h-0.9zM118.7 268.6h0.9v0.9h-0.9zM111.1 278.2h0.9v0.9h-0.9zM103.2 294.0h0.9v0.9h-0.9zM123.1 254.9h0.9v0.9h-0.9zM118.6 282.1h0.9v0.9h-0.9zM105.2 284.5h0.9v0.9h-0.9zM99.9 267.7h0.9v0.9h-0.9zM110.7 285.4h0.9v0.9h-0.9zM105.5 283.4h0.9v0.9h-0.9zM112.1 275.0h0.9v0.9h-0.9zM120.0 293.7h0.9v0.9h-0.9zM126.8 263.5h0.9v0.9h-0.9zM112.1 286.9h0.9v0.9h-0.9zM126.0 276.3h0.9v0.9h-0.9zM124.3 266.5h0.9v0.9h-0.9zM111.5 277.0h0.9v0.9h-0.9zM101.7 274.9h0.9v0.9h-0.9zM121.8 289.0h0.9v0.9h-0.9zM119.9 261.2h0.9v0.9h-0.9zM126.5 273.7h0.9v0.9h-0.9zM121.3 298.0h0.9v0.9h-0.9zM106.6 291.8h0.9v0.9h-0.9zM116.6 258.1h0.9v0.9h-0.9zM112.8 283.2h0.9v0.9h-0.9zM119.6 283.6h0.9v0.9h-0.9zM90.6 270.7h0.9v0.9h-0.9zM126.0 255.7h0.9v0.9h-0.9zM107.8 260.5h0.9v0.9h-0.9zM121.3 294.8h0.9v0.9h-0.9zM111.2 281.6h0.9v0.9h-0.9zM117.0 268.7h0.9v0.9h-0.9zM120.2 289.8h0.9v0.9h-0.9zM116.6 270.1h0.9v0.9h-0.9zM107.5 270.1h0.9v0.9h-0.9zM126.3 264.4h0.9v0.9h-0.9zM118.3 293.1h0.9v0.9h-0.9zM115.0 302.5h0.9v0.9h-0.9zM120.8 267.4h0.9v0.9h-0.9zM110.8 282.4h0.9v0.9h-0.9zM116.9 304.3h0.9v0.9h-0.9zM118.1 250.2h0.9v0.9h-0.9zM117.9 280.6h0.9v0.9h-0.9zM107.8 286.7h0.9v0.9h-0.9zM105.7 261.2h0.9v0.9h-0.9zM116.9 283.8h0.9v0.9h-0.9zM118.0 281.3h0.9v0.9h-0.9zM125.9 287.6h0.9v0.9h-0.9zM118.8 271.9h0.9v0.9h-0.9zM106.4 283.9h0.9v0.9h-0.9zM119.4 271.6h0.9v0.9h-0.9zM121.8 286.1h0.9v0.9h-0.9zM123.2 280.8h0.9v0.9h-0.9zM117.8 274.3h0.9v0.9h-0.9zM105.4 261.9h0.9v0.9h-0.9zM124.4 298.6h0.9v0.9h-0.9zM109.3 292.2h0.9v0.9h-0.9zM119.7 289.4h0.9v0.9h-0.9zM102.6 270.9h0.9v0.9h-0.9zM121.3 274.7h0.9v0.9h-0.9zM108.9 298.9h0.9v0.9h-0.9zM123.8 287.8h0.9v0.9h-0.9zM124.5 279.4h0.9v0.9h-0.9zM105.8 280.6h0.9v0.9h-0.9zM107.6 276.5h0.9v0.9h-0.9zM108.2 267.6h0.9v0.9h-0.9zM120.4 293.9h0.9v0.9h-0.9zM117.9 286.0h0.9v0.9h-0.9zM116.4 276.5h0.9v0.9h-0.9zM117.6 260.0h0.9v0.9h-0.9zM119.8 271.9h0.9v0.9h-0.9zM120.3 278.9h0.9v0.9h-0.9zM114.7 274.5h0.9v0.9h-0.9zM116.8 292.3h0.9v0.9h-0.9zM100.3 280.7h0.9v0.9h-0.9zM104.5 270.0h0.9v0.9h-0.9zM105.6 264.9h0.9v0.9h-0.9zM116.9 261.1h0.9v0.9h-0.9zM123.4 277.2h0.9v0.9h-0.9zM111.6 283.0h0.9v0.9h-0.9zM111.2 295.7h0.9v0.9h-0.9zM111.0 278.9h0.9v0.9h-0.9zM116.1 265.2h0.9v0.9h-0.9zM110.7 307.3h0.9v0.9h-0.9zM118.5 282.8h0.9v0.9h-0.9zM117.5 275.9h0.9v0.9h-0.9zM117.8 275.9h0.9v0.9h-0.9zM121.2 262.9h0.9v0.9h-0.9zM115.3 286.7h0.9v0.9h-0.9zM116.2 283.6h0.9v0.9h-0.9zM114.7 292.4h0.9v0.9h-0.9zM121.4 289.6h0.9v0.9h-0.9zM115.4 294.3h0.9v0.9h-0.9zM111.3 275.8h0.9v0.9h-0.9zM111.3 273.9h0.9v0.9h-0.9zM108.4 278.6h0.9v0.9h-0.9zM115.1 264.2h0.9v0.9h-0.9zM110.2 277.5h0.9v0.9h-0.9zM111.6 275.3h0.9v0.9h-0.9zM124.7 287.3h0.9v0.9h-0.9zM113.9 279.1h0.9v0.9h-0.9zM124.1 256.4h0.9v0.9h-0.9zM117.1 279.6h0.9v0.9h-0.9zM121.9 296.3h0.9v0.9h-0.9zM110.1 257.3h0.9v0.9h-0.9zM116.2 270.2h0.9v0.9h-0.9zM121.6 263.4h0.9v0.9h-0.9zM123.0 272.7h0.9v0.9h-0.9zM116.8 280.0h0.9v0.9h-0.9zM41.0 296.8h0.9v0.9h-0.9zM53.9 280.1h0.9v0.9h-0.9zM54.9 292.5h0.9v0.9h-0.9zM41.4 299.8h0.9v0.9h-0.9zM51.8 286.8h0.9v0.9h-0.9zM60.2 283.8h0.9v0.9h-0.9zM50.2 288.3h0.9v0.9h-0.9zM55.1 297.4h0.9v0.9h-0.9zM56.8 303.1h0.9v0.9h-0.9zM49.8 311.7h0.9v0.9h-0.9zM59.5 304.7h0.9v0.9h-0.9zM54.7 287.1h0.9v0.9h-0.9zM43.7 282.3h0.9v0.9h-0.9zM55.8 297.1h0.9v0.9h-0.9zM58.6 302.6h0.9v0.9h-0.9zM58.1 286.5h0.9v0.9h-0.9zM46.5 293.1h0.9v0.9h-0.9zM55.4 293.5h0.9v0.9h-0.9zM62.7 296.5h0.9v0.9h-0.9zM53.6 295.2h0.9v0.9h-0.9zM61.2 299.4h0.9v0.9h-0.9zM62.1 302.6h0.9v0.9h-0.9zM51.4 296.7h0.9v0.9h-0.9zM57.0 300.8h0.9v0.9h-0.9zM49.4 308.3h0.9v0.9h-0.9zM60.3 290.2h0.9v0.9h-0.9zM51.0 290.1h0.9v0.9h-0.9zM47.4 299.4h0.9v0.9h-0.9zM51.6 307.5h0.9v0.9h-0.9zM51.2 297.4h0.9v0.9h-0.9zM54.8 302.9h0.9v0.9h-0.9zM55.5 294.6h0.9v0.9h-0.9zM42.5 301.9h0.9v0.9h-0.9zM46.6 292.7h0.9v0.9h-0.9zM54.7 300.5h0.9v0.9h-0.9zM55.7 298.8h0.9v0.9h-0.9zM52.5 298.8h0.9v0.9h-0.9zM72.9 304.7h0.9v0.9h-0.9zM60.8 302.9h0.9v0.9h-0.9zM51.2 292.9h0.9v0.9h-0.9zM57.7 301.8h0.9v0.9h-0.9zM62.6 286.3h0.9v0.9h-0.9zM54.8 302.5h0.9v0.9h-0.9zM37.9 313.0h0.9v0.9h-0.9zM52.7 299.7h0.9v0.9h-0.9zM52.3 299.6h0.9v0.9h-0.9zM69.0 297.0h0.9v0.9h-0.9zM37.2 301.6h0.9v0.9h-0.9zM64.3 293.9h0.9v0.9h-0.9zM50.7 300.7h0.9v0.9h-0.9zM59.4 295.0h0.9v0.9h-0.9zM49.7 294.1h0.9v0.9h-0.9zM53.4 297.4h0.9v0.9h-0.9zM61.1 296.3h0.9v0.9h-0.9zM52.7 286.3h0.9v0.9h-0.9zM60.5 309.2h0.9v0.9h-0.9zM51.4 297.6h0.9v0.9h-0.9zM48.8 286.6h0.9v0.9h-0.9zM50.3 303.2h0.9v0.9h-0.9zM48.0 296.6h0.9v0.9h-0.9zM51.1 298.0h0.9v0.9h-0.9zM63.0 301.0h0.9v0.9h-0.9zM42.7 291.4h0.9v0.9h-0.9zM38.8 279.1h0.9v0.9h-0.9zM51.9 296.2h0.9v0.9h-0.9zM65.6 298.2h0.9v0.9h-0.9zM60.5 302.8h0.9v0.9h-0.9zM62.7 292.2h0.9v0.9h-0.9zM62.1 295.2h0.9v0.9h-0.9zM46.3 299.1h0.9v0.9h-0.9zM100.4 300.1h0.9v0.9h-0.9zM100.3 317.3h0.9v0.9h-0.9zM122.4 312.8h0.9v0.9h-0.9zM109.4 313.0h0.9v0.9h-0.9zM120.8 321.7h0.9v0.9h-0.9zM105.8 307.3h0.9v0.9h-0.9zM107.7 312.0h0.9v0.9h-0.9zM126.0 304.0h0.9v0.9h-0.9zM105.7 317.0h0.9v0.9h-0.9zM111.8 313.1h0.9v0.9h-0.9zM114.5 301.3h0.9v0.9h-0.9zM120.6 306.9h0.9v0.9h-0.9zM109.3 311.9h0.9v0.9h-0.9zM118.8 316.0h0.9v0.9h-0.9zM106.4 302.8h0.9v0.9h-0.9zM119.8 318.6h0.9v0.9h-0.9zM100.6 324.5h0.9v0.9h-0.9zM105.4 310.0h0.9v0.9h-0.9zM101.8 302.0h0.9v0.9h-0.9zM103.0 304.4h0.9v0.9h-0.9zM121.7 322.9h0.9v0.9h-0.9zM113.5 316.0h0.9v0.9h-0.9zM122.7 304.1h0.9v0.9h-0.9zM105.4 325.0h0.9v0.9h-0.9zM122.3 320.4h0.9v0.9h-0.9zM128.2 320.9h0.9v0.9h-0.9zM109.0 304.2h0.9v0.9h-0.9zM102.2 329.7h0.9v0.9h-0.9zM113.4 307.6h0.9v0.9h-0.9zM115.7 310.6h0.9v0.9h-0.9zM120.0 307.0h0.9v0.9h-0.9zM116.6 328.3h0.9v0.9h-0.9zM108.8 318.9h0.9v0.9h-0.9zM104.7 316.6h0.9v0.9h-0.9zM109.9 312.4h0.9v0.9h-0.9zM113.6 321.5h0.9v0.9h-0.9zM105.4 314.1h0.9v0.9h-0.9zM108.7 313.8h0.9v0.9h-0.9zM125.6 304.6h0.9v0.9h-0.9zM112.3 324.7h0.9v0.9h-0.9zM103.6 302.0h0.9v0.9h-0.9zM119.3 327.2h0.9v0.9h-0.9zM110.3 327.5h0.9v0.9h-0.9zM114.9 315.7h0.9v0.9h-0.9zM111.4 304.9h0.9v0.9h-0.9zM103.3 306.5h0.9v0.9h-0.9zM121.4 304.2h0.9v0.9h-0.9zM116.5 321.0h0.9v0.9h-0.9z" fill="#3a3af5" fill-opacity="0.85"/>
<polygon points="34,313 99,313 104,314.5 109,317 100,322 80,330 62,336.5 50,340.5 34,340.5" fill="#2a2af8" stroke="none" stroke-width="1" opacity="0.22" filter="url(#b05)"/>
<path d="M57.6 319.9h0.9v0.9h-0.9zM78.2 321.5h0.9v0.9h-0.9zM50.0 317.7h0.9v0.9h-0.9zM43.5 316.7h0.9v0.9h-0.9zM58.2 324.3h0.9v0.9h-0.9zM36.5 330.2h0.9v0.9h-0.9zM70.0 329.4h0.9v0.9h-0.9zM66.0 323.9h0.9v0.9h-0.9zM51.1 325.2h0.9v0.9h-0.9zM58.7 319.1h0.9v0.9h-0.9zM59.2 315.8h0.9v0.9h-0.9zM52.9 317.8h0.9v0.9h-0.9zM47.1 334.6h0.9v0.9h-0.9zM35.9 316.6h0.9v0.9h-0.9zM75.1 329.5h0.9v0.9h-0.9zM77.3 320.6h0.9v0.9h-0.9zM58.6 316.2h0.9v0.9h-0.9zM71.1 323.8h0.9v0.9h-0.9zM96.3 316.9h0.9v0.9h-0.9zM47.6 338.8h0.9v0.9h-0.9zM44.7 313.2h0.9v0.9h-0.9zM44.0 329.0h0.9v0.9h-0.9zM40.5 324.7h0.9v0.9h-0.9zM63.0 334.5h0.9v0.9h-0.9zM44.8 325.7h0.9v0.9h-0.9zM37.6 336.0h0.9v0.9h-0.9zM87.6 324.0h0.9v0.9h-0.9zM70.1 321.3h0.9v0.9h-0.9zM63.1 322.1h0.9v0.9h-0.9zM71.2 317.8h0.9v0.9h-0.9zM46.7 330.4h0.9v0.9h-0.9zM61.1 327.0h0.9v0.9h-0.9zM57.5 313.9h0.9v0.9h-0.9zM86.3 324.9h0.9v0.9h-0.9zM71.4 318.4h0.9v0.9h-0.9zM51.5 315.4h0.9v0.9h-0.9zM35.1 333.5h0.9v0.9h-0.9zM41.2 335.3h0.9v0.9h-0.9zM35.3 322.9h0.9v0.9h-0.9zM78.3 330.0h0.9v0.9h-0.9zM47.1 333.2h0.9v0.9h-0.9zM66.9 329.7h0.9v0.9h-0.9zM65.4 319.7h0.9v0.9h-0.9zM62.5 332.5h0.9v0.9h-0.9zM44.2 333.3h0.9v0.9h-0.9zM38.6 335.1h0.9v0.9h-0.9zM63.0 320.0h0.9v0.9h-0.9zM52.4 326.2h0.9v0.9h-0.9zM95.7 318.9h0.9v0.9h-0.9zM40.8 325.0h0.9v0.9h-0.9zM37.9 321.2h0.9v0.9h-0.9zM45.1 330.7h0.9v0.9h-0.9zM43.9 335.1h0.9v0.9h-0.9zM57.4 333.9h0.9v0.9h-0.9zM37.9 337.9h0.9v0.9h-0.9zM95.6 313.7h0.9v0.9h-0.9zM69.8 320.6h0.9v0.9h-0.9zM65.2 332.2h0.9v0.9h-0.9zM39.9 336.2h0.9v0.9h-0.9zM42.9 336.5h0.9v0.9h-0.9zM83.1 323.6h0.9v0.9h-0.9zM69.0 320.9h0.9v0.9h-0.9zM64.5 324.9h0.9v0.9h-0.9zM43.9 319.6h0.9v0.9h-0.9zM42.0 322.1h0.9v0.9h-0.9zM38.0 336.5h0.9v0.9h-0.9zM75.7 321.7h0.9v0.9h-0.9zM68.3 319.2h0.9v0.9h-0.9zM40.9 325.4h0.9v0.9h-0.9zM46.9 333.5h0.9v0.9h-0.9zM52.3 314.6h0.9v0.9h-0.9zM65.0 318.3h0.9v0.9h-0.9zM46.1 324.5h0.9v0.9h-0.9zM37.8 325.5h0.9v0.9h-0.9zM80.1 313.9h0.9v0.9h-0.9zM47.7 337.1h0.9v0.9h-0.9zM71.4 322.7h0.9v0.9h-0.9zM65.0 327.0h0.9v0.9h-0.9zM35.8 327.0h0.9v0.9h-0.9zM46.8 324.9h0.9v0.9h-0.9zM52.6 322.1h0.9v0.9h-0.9zM66.9 318.9h0.9v0.9h-0.9zM49.9 326.3h0.9v0.9h-0.9zM37.6 318.5h0.9v0.9h-0.9zM76.8 315.4h0.9v0.9h-0.9zM61.6 330.7h0.9v0.9h-0.9zM37.5 319.8h0.9v0.9h-0.9zM94.8 320.4h0.9v0.9h-0.9zM44.6 326.9h0.9v0.9h-0.9zM87.3 318.9h0.9v0.9h-0.9zM98.4 318.2h0.9v0.9h-0.9zM76.0 322.9h0.9v0.9h-0.9zM84.0 314.8h0.9v0.9h-0.9zM59.4 329.9h0.9v0.9h-0.9zM45.4 332.0h0.9v0.9h-0.9zM59.9 323.4h0.9v0.9h-0.9zM48.9 327.6h0.9v0.9h-0.9zM51.8 325.3h0.9v0.9h-0.9zM44.8 331.7h0.9v0.9h-0.9zM56.4 317.8h0.9v0.9h-0.9zM72.5 325.5h0.9v0.9h-0.9zM44.7 339.3h0.9v0.9h-0.9zM84.0 315.1h0.9v0.9h-0.9zM42.7 336.6h0.9v0.9h-0.9zM74.0 319.3h0.9v0.9h-0.9zM58.8 334.6h0.9v0.9h-0.9zM69.3 314.3h0.9v0.9h-0.9zM64.0 313.4h0.9v0.9h-0.9zM53.0 329.8h0.9v0.9h-0.9zM63.7 330.7h0.9v0.9h-0.9zM39.9 338.3h0.9v0.9h-0.9zM81.8 320.3h0.9v0.9h-0.9zM39.4 314.0h0.9v0.9h-0.9zM66.0 334.3h0.9v0.9h-0.9zM75.5 328.8h0.9v0.9h-0.9zM52.9 314.3h0.9v0.9h-0.9zM41.9 337.2h0.9v0.9h-0.9zM66.5 330.8h0.9v0.9h-0.9zM61.9 315.7h0.9v0.9h-0.9zM36.3 325.4h0.9v0.9h-0.9zM36.1 328.9h0.9v0.9h-0.9zM86.3 315.8h0.9v0.9h-0.9zM78.1 329.1h0.9v0.9h-0.9zM64.7 333.9h0.9v0.9h-0.9zM43.1 332.4h0.9v0.9h-0.9zM52.1 334.0h0.9v0.9h-0.9zM34.5 320.2h0.9v0.9h-0.9zM54.0 335.1h0.9v0.9h-0.9zM46.9 327.2h0.9v0.9h-0.9zM66.0 332.6h0.9v0.9h-0.9zM52.6 324.1h0.9v0.9h-0.9zM35.0 329.8h0.9v0.9h-0.9zM35.1 335.2h0.9v0.9h-0.9zM80.7 320.5h0.9v0.9h-0.9zM50.8 324.8h0.9v0.9h-0.9zM63.4 331.2h0.9v0.9h-0.9zM50.3 338.0h0.9v0.9h-0.9zM44.6 319.4h0.9v0.9h-0.9zM47.7 328.2h0.9v0.9h-0.9zM40.5 313.7h0.9v0.9h-0.9zM61.7 319.2h0.9v0.9h-0.9zM46.9 330.0h0.9v0.9h-0.9zM35.1 321.3h0.9v0.9h-0.9zM56.8 316.4h0.9v0.9h-0.9zM53.5 320.0h0.9v0.9h-0.9zM40.7 316.8h0.9v0.9h-0.9zM80.8 320.7h0.9v0.9h-0.9zM85.1 313.3h0.9v0.9h-0.9zM55.7 322.0h0.9v0.9h-0.9zM49.3 321.5h0.9v0.9h-0.9zM39.8 324.3h0.9v0.9h-0.9zM45.8 329.2h0.9v0.9h-0.9zM49.1 327.1h0.9v0.9h-0.9zM94.6 322.7h0.9v0.9h-0.9zM58.5 322.5h0.9v0.9h-0.9zM63.4 332.9h0.9v0.9h-0.9zM90.2 321.9h0.9v0.9h-0.9zM41.9 327.1h0.9v0.9h-0.9zM65.7 334.1h0.9v0.9h-0.9zM47.8 328.1h0.9v0.9h-0.9zM59.8 330.8h0.9v0.9h-0.9zM93.5 315.1h0.9v0.9h-0.9zM76.6 327.4h0.9v0.9h-0.9zM68.6 324.5h0.9v0.9h-0.9zM35.4 323.4h0.9v0.9h-0.9zM66.6 321.7h0.9v0.9h-0.9zM71.9 321.8h0.9v0.9h-0.9zM56.6 318.3h0.9v0.9h-0.9zM70.1 324.5h0.9v0.9h-0.9zM81.8 327.9h0.9v0.9h-0.9zM78.0 323.0h0.9v0.9h-0.9zM69.9 317.8h0.9v0.9h-0.9zM57.0 333.0h0.9v0.9h-0.9zM42.5 338.0h0.9v0.9h-0.9zM46.5 339.3h0.9v0.9h-0.9zM42.6 326.4h0.9v0.9h-0.9zM37.2 318.3h0.9v0.9h-0.9zM41.0 322.5h0.9v0.9h-0.9zM56.6 330.7h0.9v0.9h-0.9zM56.3 332.3h0.9v0.9h-0.9zM63.9 329.1h0.9v0.9h-0.9zM78.0 321.4h0.9v0.9h-0.9zM65.3 334.3h0.9v0.9h-0.9zM63.2 325.8h0.9v0.9h-0.9zM81.4 321.5h0.9v0.9h-0.9zM79.3 313.8h0.9v0.9h-0.9zM59.2 321.2h0.9v0.9h-0.9zM58.0 336.0h0.9v0.9h-0.9zM44.6 326.4h0.9v0.9h-0.9zM92.4 325.0h0.9v0.9h-0.9zM76.5 329.8h0.9v0.9h-0.9zM55.5 336.0h0.9v0.9h-0.9zM47.7 331.5h0.9v0.9h-0.9zM52.0 328.7h0.9v0.9h-0.9zM49.9 335.0h0.9v0.9h-0.9zM82.2 321.9h0.9v0.9h-0.9zM70.5 318.3h0.9v0.9h-0.9zM53.0 328.2h0.9v0.9h-0.9zM43.9 337.0h0.9v0.9h-0.9zM47.1 321.8h0.9v0.9h-0.9zM35.4 338.8h0.9v0.9h-0.9zM44.3 320.2h0.9v0.9h-0.9zM65.2 325.7h0.9v0.9h-0.9zM47.3 317.6h0.9v0.9h-0.9zM82.2 326.3h0.9v0.9h-0.9zM41.0 314.5h0.9v0.9h-0.9zM59.5 326.0h0.9v0.9h-0.9zM45.4 313.9h0.9v0.9h-0.9zM82.3 326.2h0.9v0.9h-0.9zM63.8 315.8h0.9v0.9h-0.9zM56.4 332.5h0.9v0.9h-0.9zM104.6 318.2h0.9v0.9h-0.9zM40.6 330.1h0.9v0.9h-0.9zM57.6 324.7h0.9v0.9h-0.9zM70.4 319.9h0.9v0.9h-0.9zM78.8 325.2h0.9v0.9h-0.9zM53.4 321.4h0.9v0.9h-0.9zM79.2 326.2h0.9v0.9h-0.9zM42.5 329.4h0.9v0.9h-0.9zM74.4 327.1h0.9v0.9h-0.9zM40.5 314.6h0.9v0.9h-0.9zM63.6 329.0h0.9v0.9h-0.9zM49.2 336.9h0.9v0.9h-0.9zM45.6 324.8h0.9v0.9h-0.9zM38.4 332.9h0.9v0.9h-0.9zM66.3 318.0h0.9v0.9h-0.9zM54.7 315.2h0.9v0.9h-0.9zM77.4 319.4h0.9v0.9h-0.9zM38.4 315.1h0.9v0.9h-0.9zM63.4 316.2h0.9v0.9h-0.9zM76.9 314.9h0.9v0.9h-0.9zM52.4 318.7h0.9v0.9h-0.9zM42.3 322.3h0.9v0.9h-0.9zM36.8 316.6h0.9v0.9h-0.9zM47.1 322.4h0.9v0.9h-0.9zM48.0 323.0h0.9v0.9h-0.9zM41.2 332.0h0.9v0.9h-0.9zM84.1 322.4h0.9v0.9h-0.9zM65.6 331.5h0.9v0.9h-0.9zM39.5 325.5h0.9v0.9h-0.9zM41.3 321.3h0.9v0.9h-0.9zM34.7 327.9h0.9v0.9h-0.9zM58.4 314.6h0.9v0.9h-0.9zM46.2 332.0h0.9v0.9h-0.9zM41.4 313.9h0.9v0.9h-0.9zM48.3 335.1h0.9v0.9h-0.9zM60.4 316.1h0.9v0.9h-0.9zM71.2 325.8h0.9v0.9h-0.9zM72.9 316.4h0.9v0.9h-0.9zM44.9 338.8h0.9v0.9h-0.9zM46.0 332.2h0.9v0.9h-0.9zM69.2 322.7h0.9v0.9h-0.9zM77.2 322.1h0.9v0.9h-0.9zM67.3 314.8h0.9v0.9h-0.9zM85.9 318.8h0.9v0.9h-0.9zM71.4 322.2h0.9v0.9h-0.9zM49.5 313.7h0.9v0.9h-0.9zM73.7 319.9h0.9v0.9h-0.9zM44.0 329.2h0.9v0.9h-0.9zM46.3 319.8h0.9v0.9h-0.9zM55.9 319.9h0.9v0.9h-0.9zM70.0 318.8h0.9v0.9h-0.9zM66.5 330.2h0.9v0.9h-0.9zM63.3 321.1h0.9v0.9h-0.9zM55.3 334.4h0.9v0.9h-0.9zM56.3 325.0h0.9v0.9h-0.9zM50.1 314.2h0.9v0.9h-0.9zM94.9 321.8h0.9v0.9h-0.9zM96.4 318.0h0.9v0.9h-0.9zM79.3 324.2h0.9v0.9h-0.9zM59.1 314.7h0.9v0.9h-0.9zM50.1 313.1h0.9v0.9h-0.9zM62.4 327.7h0.9v0.9h-0.9zM40.8 317.2h0.9v0.9h-0.9zM54.9 336.1h0.9v0.9h-0.9zM60.4 316.1h0.9v0.9h-0.9zM42.8 315.6h0.9v0.9h-0.9zM45.5 329.4h0.9v0.9h-0.9zM43.1 335.5h0.9v0.9h-0.9zM41.9 320.0h0.9v0.9h-0.9zM79.2 313.7h0.9v0.9h-0.9zM34.4 339.4h0.9v0.9h-0.9zM55.1 331.5h0.9v0.9h-0.9zM37.0 317.8h0.9v0.9h-0.9zM40.5 326.3h0.9v0.9h-0.9zM47.5 326.8h0.9v0.9h-0.9zM54.7 329.8h0.9v0.9h-0.9zM86.2 317.0h0.9v0.9h-0.9zM45.6 339.0h0.9v0.9h-0.9zM48.5 314.9h0.9v0.9h-0.9zM49.1 318.1h0.9v0.9h-0.9zM58.5 330.7h0.9v0.9h-0.9zM80.3 322.7h0.9v0.9h-0.9zM56.1 336.6h0.9v0.9h-0.9zM42.0 317.7h0.9v0.9h-0.9zM43.3 322.1h0.9v0.9h-0.9zM72.9 327.3h0.9v0.9h-0.9zM76.7 329.8h0.9v0.9h-0.9zM78.3 327.5h0.9v0.9h-0.9zM76.0 313.9h0.9v0.9h-0.9zM64.3 333.7h0.9v0.9h-0.9zM87.2 326.8h0.9v0.9h-0.9zM50.0 317.7h0.9v0.9h-0.9zM63.5 330.4h0.9v0.9h-0.9zM80.2 325.2h0.9v0.9h-0.9zM76.7 326.2h0.9v0.9h-0.9zM70.2 317.5h0.9v0.9h-0.9zM53.9 338.1h0.9v0.9h-0.9zM91.2 320.3h0.9v0.9h-0.9zM65.3 329.5h0.9v0.9h-0.9zM96.9 322.0h0.9v0.9h-0.9zM39.7 322.1h0.9v0.9h-0.9zM95.7 313.3h0.9v0.9h-0.9zM83.8 315.5h0.9v0.9h-0.9zM48.6 333.3h0.9v0.9h-0.9zM51.6 330.3h0.9v0.9h-0.9zM43.1 338.0h0.9v0.9h-0.9zM48.7 337.7h0.9v0.9h-0.9zM57.2 321.5h0.9v0.9h-0.9zM41.2 318.4h0.9v0.9h-0.9zM61.1 335.3h0.9v0.9h-0.9zM93.4 313.9h0.9v0.9h-0.9zM40.4 324.3h0.9v0.9h-0.9zM43.7 320.5h0.9v0.9h-0.9zM62.0 326.3h0.9v0.9h-0.9zM76.5 321.1h0.9v0.9h-0.9zM37.8 323.1h0.9v0.9h-0.9zM96.7 323.3h0.9v0.9h-0.9zM67.3 325.5h0.9v0.9h-0.9zM66.0 333.3h0.9v0.9h-0.9zM43.4 337.9h0.9v0.9h-0.9zM54.2 331.7h0.9v0.9h-0.9zM53.0 331.9h0.9v0.9h-0.9zM94.0 322.1h0.9v0.9h-0.9zM82.3 320.2h0.9v0.9h-0.9zM47.9 321.1h0.9v0.9h-0.9zM34.3 331.9h0.9v0.9h-0.9zM64.1 322.4h0.9v0.9h-0.9zM88.3 314.8h0.9v0.9h-0.9zM53.7 338.3h0.9v0.9h-0.9zM49.8 324.6h0.9v0.9h-0.9zM34.1 322.4h0.9v0.9h-0.9zM50.4 317.7h0.9v0.9h-0.9zM70.1 318.3h0.9v0.9h-0.9zM89.0 321.7h0.9v0.9h-0.9zM51.5 324.4h0.9v0.9h-0.9zM39.2 332.0h0.9v0.9h-0.9zM47.3 318.0h0.9v0.9h-0.9zM35.3 316.6h0.9v0.9h-0.9zM60.9 327.2h0.9v0.9h-0.9zM100.2 317.7h0.9v0.9h-0.9zM57.0 331.8h0.9v0.9h-0.9zM45.5 325.8h0.9v0.9h-0.9zM41.9 329.6h0.9v0.9h-0.9zM76.0 325.6h0.9v0.9h-0.9zM64.6 329.0h0.9v0.9h-0.9zM64.5 321.4h0.9v0.9h-0.9zM64.8 327.8h0.9v0.9h-0.9zM55.9 317.2h0.9v0.9h-0.9zM34.8 322.8h0.9v0.9h-0.9zM55.5 334.7h0.9v0.9h-0.9zM37.2 333.2h0.9v0.9h-0.9zM62.8 326.0h0.9v0.9h-0.9zM54.1 330.3h0.9v0.9h-0.9zM87.0 324.1h0.9v0.9h-0.9zM41.9 334.4h0.9v0.9h-0.9zM103.9 319.7h0.9v0.9h-0.9zM93.0 319.5h0.9v0.9h-0.9zM54.5 320.1h0.9v0.9h-0.9zM34.9 331.1h0.9v0.9h-0.9zM42.2 332.4h0.9v0.9h-0.9zM48.4 324.4h0.9v0.9h-0.9zM54.1 335.8h0.9v0.9h-0.9zM57.4 335.9h0.9v0.9h-0.9zM56.4 313.3h0.9v0.9h-0.9zM83.7 319.5h0.9v0.9h-0.9zM35.9 332.8h0.9v0.9h-0.9zM39.2 320.4h0.9v0.9h-0.9zM84.2 317.6h0.9v0.9h-0.9zM35.8 337.2h0.9v0.9h-0.9zM48.7 316.6h0.9v0.9h-0.9zM64.5 330.0h0.9v0.9h-0.9zM88.8 320.5h0.9v0.9h-0.9zM75.0 319.6h0.9v0.9h-0.9zM79.0 320.3h0.9v0.9h-0.9zM35.5 329.8h0.9v0.9h-0.9zM34.2 330.2h0.9v0.9h-0.9zM86.5 320.4h0.9v0.9h-0.9zM48.0 333.5h0.9v0.9h-0.9zM81.3 323.2h0.9v0.9h-0.9zM47.9 339.5h0.9v0.9h-0.9zM67.9 314.3h0.9v0.9h-0.9zM100.6 314.7h0.9v0.9h-0.9zM61.6 329.6h0.9v0.9h-0.9zM95.8 321.7h0.9v0.9h-0.9zM42.2 331.4h0.9v0.9h-0.9zM76.0 319.6h0.9v0.9h-0.9zM62.6 333.5h0.9v0.9h-0.9zM62.1 318.9h0.9v0.9h-0.9zM58.0 334.5h0.9v0.9h-0.9zM48.2 317.0h0.9v0.9h-0.9zM84.4 326.6h0.9v0.9h-0.9zM57.5 318.3h0.9v0.9h-0.9zM49.6 320.9h0.9v0.9h-0.9zM63.2 326.5h0.9v0.9h-0.9zM55.7 337.2h0.9v0.9h-0.9zM40.9 326.5h0.9v0.9h-0.9zM59.9 327.5h0.9v0.9h-0.9zM78.5 326.0h0.9v0.9h-0.9zM57.6 321.1h0.9v0.9h-0.9zM69.7 323.9h0.9v0.9h-0.9zM38.7 328.1h0.9v0.9h-0.9zM104.9 318.1h0.9v0.9h-0.9zM65.9 330.9h0.9v0.9h-0.9zM49.1 328.3h0.9v0.9h-0.9zM84.4 327.2h0.9v0.9h-0.9zM81.2 315.1h0.9v0.9h-0.9zM60.8 320.9h0.9v0.9h-0.9zM66.9 333.0h0.9v0.9h-0.9zM65.6 335.1h0.9v0.9h-0.9zM41.3 335.5h0.9v0.9h-0.9zM41.5 335.6h0.9v0.9h-0.9zM54.5 315.6h0.9v0.9h-0.9zM59.0 319.9h0.9v0.9h-0.9zM58.3 327.8h0.9v0.9h-0.9zM88.6 318.9h0.9v0.9h-0.9zM58.6 333.6h0.9v0.9h-0.9zM67.5 320.4h0.9v0.9h-0.9zM61.0 336.2h0.9v0.9h-0.9zM38.5 324.3h0.9v0.9h-0.9zM69.3 319.7h0.9v0.9h-0.9zM36.6 319.4h0.9v0.9h-0.9zM81.6 315.8h0.9v0.9h-0.9zM64.0 315.1h0.9v0.9h-0.9zM50.7 338.8h0.9v0.9h-0.9zM34.7 314.1h0.9v0.9h-0.9zM39.9 328.3h0.9v0.9h-0.9zM36.7 329.4h0.9v0.9h-0.9zM82.8 325.1h0.9v0.9h-0.9zM60.6 325.3h0.9v0.9h-0.9zM83.1 323.8h0.9v0.9h-0.9zM62.4 335.5h0.9v0.9h-0.9zM61.5 324.1h0.9v0.9h-0.9zM43.1 321.6h0.9v0.9h-0.9zM38.0 313.8h0.9v0.9h-0.9zM56.2 321.7h0.9v0.9h-0.9zM43.4 337.8h0.9v0.9h-0.9zM61.8 336.4h0.9v0.9h-0.9zM51.3 330.9h0.9v0.9h-0.9zM56.5 314.6h0.9v0.9h-0.9zM64.6 315.0h0.9v0.9h-0.9zM54.1 316.8h0.9v0.9h-0.9zM92.0 316.5h0.9v0.9h-0.9zM55.0 315.5h0.9v0.9h-0.9zM104.5 319.3h0.9v0.9h-0.9zM64.1 326.8h0.9v0.9h-0.9zM67.6 315.3h0.9v0.9h-0.9zM53.1 325.3h0.9v0.9h-0.9zM51.5 321.6h0.9v0.9h-0.9zM55.0 322.4h0.9v0.9h-0.9zM54.4 333.7h0.9v0.9h-0.9zM59.4 318.7h0.9v0.9h-0.9zM46.9 319.2h0.9v0.9h-0.9zM102.5 316.4h0.9v0.9h-0.9zM97.8 317.6h0.9v0.9h-0.9zM96.2 318.7h0.9v0.9h-0.9zM101.2 313.9h0.9v0.9h-0.9zM71.6 326.3h0.9v0.9h-0.9zM69.7 315.0h0.9v0.9h-0.9zM49.0 332.1h0.9v0.9h-0.9zM53.6 326.2h0.9v0.9h-0.9zM72.9 319.8h0.9v0.9h-0.9zM74.3 314.3h0.9v0.9h-0.9zM68.0 328.5h0.9v0.9h-0.9zM46.7 314.0h0.9v0.9h-0.9zM47.5 333.8h0.9v0.9h-0.9zM80.9 323.0h0.9v0.9h-0.9zM66.5 328.6h0.9v0.9h-0.9zM60.6 322.0h0.9v0.9h-0.9zM74.6 322.3h0.9v0.9h-0.9zM37.4 320.9h0.9v0.9h-0.9zM71.2 319.2h0.9v0.9h-0.9zM83.4 318.5h0.9v0.9h-0.9zM76.1 323.6h0.9v0.9h-0.9zM43.9 319.5h0.9v0.9h-0.9zM50.7 338.6h0.9v0.9h-0.9zM43.4 323.1h0.9v0.9h-0.9zM41.4 335.1h0.9v0.9h-0.9zM83.5 319.9h0.9v0.9h-0.9zM76.6 324.0h0.9v0.9h-0.9zM99.4 314.2h0.9v0.9h-0.9zM97.7 322.3h0.9v0.9h-0.9zM50.8 318.8h0.9v0.9h-0.9zM49.6 316.8h0.9v0.9h-0.9zM75.9 319.5h0.9v0.9h-0.9zM38.3 315.9h0.9v0.9h-0.9zM44.2 316.1h0.9v0.9h-0.9zM58.9 315.0h0.9v0.9h-0.9zM53.8 318.6h0.9v0.9h-0.9zM34.4 335.3h0.9v0.9h-0.9zM50.7 314.9h0.9v0.9h-0.9zM81.6 323.0h0.9v0.9h-0.9zM62.1 325.9h0.9v0.9h-0.9zM54.7 323.6h0.9v0.9h-0.9zM49.5 323.0h0.9v0.9h-0.9zM81.3 328.3h0.9v0.9h-0.9zM36.6 334.7h0.9v0.9h-0.9zM46.7 325.3h0.9v0.9h-0.9zM55.5 330.7h0.9v0.9h-0.9zM36.1 314.8h0.9v0.9h-0.9zM86.8 315.3h0.9v0.9h-0.9zM53.0 315.7h0.9v0.9h-0.9zM76.8 321.1h0.9v0.9h-0.9zM51.9 321.8h0.9v0.9h-0.9zM55.7 322.7h0.9v0.9h-0.9zM53.5 332.4h0.9v0.9h-0.9zM39.0 335.3h0.9v0.9h-0.9zM79.5 314.3h0.9v0.9h-0.9zM77.8 324.2h0.9v0.9h-0.9zM61.9 319.5h0.9v0.9h-0.9zM74.3 326.4h0.9v0.9h-0.9zM51.9 333.9h0.9v0.9h-0.9zM79.7 314.9h0.9v0.9h-0.9zM57.6 329.7h0.9v0.9h-0.9zM39.3 313.5h0.9v0.9h-0.9zM46.5 339.7h0.9v0.9h-0.9zM81.0 316.8h0.9v0.9h-0.9zM51.6 331.5h0.9v0.9h-0.9zM86.0 323.1h0.9v0.9h-0.9zM61.8 320.6h0.9v0.9h-0.9zM51.5 328.5h0.9v0.9h-0.9zM98.5 318.1h0.9v0.9h-0.9zM57.7 316.9h0.9v0.9h-0.9zM72.5 314.9h0.9v0.9h-0.9zM44.4 313.5h0.9v0.9h-0.9zM43.9 332.7h0.9v0.9h-0.9zM102.1 314.5h0.9v0.9h-0.9zM90.7 316.0h0.9v0.9h-0.9zM101.5 316.1h0.9v0.9h-0.9zM79.6 328.5h0.9v0.9h-0.9zM55.2 326.0h0.9v0.9h-0.9zM53.1 333.6h0.9v0.9h-0.9zM53.2 333.2h0.9v0.9h-0.9zM41.9 313.0h0.9v0.9h-0.9zM35.0 321.3h0.9v0.9h-0.9zM87.8 314.7h0.9v0.9h-0.9zM40.1 333.1h0.9v0.9h-0.9zM42.9 338.3h0.9v0.9h-0.9zM55.0 321.6h0.9v0.9h-0.9zM86.0 321.5h0.9v0.9h-0.9zM45.8 322.9h0.9v0.9h-0.9zM58.7 334.5h0.9v0.9h-0.9zM46.6 337.8h0.9v0.9h-0.9zM48.0 330.9h0.9v0.9h-0.9zM35.3 324.0h0.9v0.9h-0.9zM59.3 326.0h0.9v0.9h-0.9zM40.6 332.1h0.9v0.9h-0.9zM57.4 319.3h0.9v0.9h-0.9zM53.6 319.2h0.9v0.9h-0.9zM49.8 323.3h0.9v0.9h-0.9zM101.2 315.4h0.9v0.9h-0.9zM55.7 321.3h0.9v0.9h-0.9zM46.1 338.4h0.9v0.9h-0.9zM45.5 324.0h0.9v0.9h-0.9zM66.7 327.2h0.9v0.9h-0.9zM57.4 314.3h0.9v0.9h-0.9zM66.8 316.7h0.9v0.9h-0.9zM35.7 336.1h0.9v0.9h-0.9zM65.0 324.2h0.9v0.9h-0.9zM58.6 333.3h0.9v0.9h-0.9zM86.4 322.4h0.9v0.9h-0.9zM42.9 327.9h0.9v0.9h-0.9zM78.1 314.3h0.9v0.9h-0.9zM35.2 332.0h0.9v0.9h-0.9zM46.7 330.7h0.9v0.9h-0.9zM67.0 316.1h0.9v0.9h-0.9zM43.2 316.7h0.9v0.9h-0.9zM47.4 332.2h0.9v0.9h-0.9zM69.8 328.6h0.9v0.9h-0.9zM73.6 316.9h0.9v0.9h-0.9zM49.8 331.7h0.9v0.9h-0.9zM52.0 332.6h0.9v0.9h-0.9zM63.9 316.4h0.9v0.9h-0.9zM73.1 317.1h0.9v0.9h-0.9zM53.3 315.4h0.9v0.9h-0.9zM68.4 329.2h0.9v0.9h-0.9zM42.6 325.4h0.9v0.9h-0.9zM62.5 332.4h0.9v0.9h-0.9zM40.3 316.0h0.9v0.9h-0.9zM67.4 331.6h0.9v0.9h-0.9zM56.4 313.9h0.9v0.9h-0.9zM35.2 329.3h0.9v0.9h-0.9zM68.4 328.8h0.9v0.9h-0.9zM60.2 323.8h0.9v0.9h-0.9zM86.1 320.5h0.9v0.9h-0.9zM63.2 317.0h0.9v0.9h-0.9zM59.6 332.4h0.9v0.9h-0.9zM79.4 319.1h0.9v0.9h-0.9zM49.6 330.1h0.9v0.9h-0.9zM73.6 315.5h0.9v0.9h-0.9zM96.7 315.5h0.9v0.9h-0.9zM41.9 321.6h0.9v0.9h-0.9zM64.9 315.8h0.9v0.9h-0.9zM80.6 319.6h0.9v0.9h-0.9zM44.8 320.8h0.9v0.9h-0.9zM66.0 333.1h0.9v0.9h-0.9zM72.1 326.9h0.9v0.9h-0.9zM34.1 337.8h0.9v0.9h-0.9zM73.4 326.7h0.9v0.9h-0.9zM74.1 323.6h0.9v0.9h-0.9zM39.8 333.9h0.9v0.9h-0.9zM36.8 335.5h0.9v0.9h-0.9zM81.9 318.8h0.9v0.9h-0.9zM50.6 325.6h0.9v0.9h-0.9zM77.6 325.4h0.9v0.9h-0.9zM41.2 335.9h0.9v0.9h-0.9zM73.6 320.2h0.9v0.9h-0.9zM57.4 333.0h0.9v0.9h-0.9zM47.6 314.6h0.9v0.9h-0.9zM83.8 325.7h0.9v0.9h-0.9zM62.5 325.2h0.9v0.9h-0.9zM82.5 319.0h0.9v0.9h-0.9zM42.6 313.4h0.9v0.9h-0.9zM50.8 328.6h0.9v0.9h-0.9zM62.9 331.2h0.9v0.9h-0.9zM84.0 323.0h0.9v0.9h-0.9zM81.1 321.5h0.9v0.9h-0.9zM98.6 321.4h0.9v0.9h-0.9zM69.7 328.7h0.9v0.9h-0.9zM35.1 326.4h0.9v0.9h-0.9zM42.3 314.5h0.9v0.9h-0.9zM74.3 318.2h0.9v0.9h-0.9zM82.1 326.0h0.9v0.9h-0.9zM57.0 325.2h0.9v0.9h-0.9zM67.7 326.1h0.9v0.9h-0.9zM72.7 320.2h0.9v0.9h-0.9zM59.5 334.6h0.9v0.9h-0.9zM58.6 327.6h0.9v0.9h-0.9zM63.8 334.2h0.9v0.9h-0.9zM51.6 318.6h0.9v0.9h-0.9zM90.4 315.0h0.9v0.9h-0.9zM34.8 314.9h0.9v0.9h-0.9zM65.1 315.8h0.9v0.9h-0.9zM83.9 315.7h0.9v0.9h-0.9zM95.9 318.1h0.9v0.9h-0.9zM80.7 316.8h0.9v0.9h-0.9zM57.4 325.9h0.9v0.9h-0.9zM40.4 329.3h0.9v0.9h-0.9zM56.7 322.2h0.9v0.9h-0.9zM89.7 315.9h0.9v0.9h-0.9zM52.6 313.4h0.9v0.9h-0.9zM34.7 331.4h0.9v0.9h-0.9zM93.7 315.7h0.9v0.9h-0.9zM38.8 320.2h0.9v0.9h-0.9zM82.1 315.9h0.9v0.9h-0.9zM38.8 337.6h0.9v0.9h-0.9zM78.3 316.1h0.9v0.9h-0.9zM52.2 318.0h0.9v0.9h-0.9zM66.4 316.2h0.9v0.9h-0.9zM61.9 323.2h0.9v0.9h-0.9zM48.4 327.8h0.9v0.9h-0.9zM52.1 327.3h0.9v0.9h-0.9zM49.8 329.0h0.9v0.9h-0.9zM75.7 325.6h0.9v0.9h-0.9zM93.2 315.4h0.9v0.9h-0.9zM84.4 315.8h0.9v0.9h-0.9zM70.2 313.8h0.9v0.9h-0.9zM35.0 317.3h0.9v0.9h-0.9zM51.5 313.6h0.9v0.9h-0.9zM49.1 337.7h0.9v0.9h-0.9zM55.9 320.3h0.9v0.9h-0.9zM40.0 318.0h0.9v0.9h-0.9zM69.1 333.0h0.9v0.9h-0.9zM69.4 325.8h0.9v0.9h-0.9zM43.0 323.9h0.9v0.9h-0.9zM42.0 330.5h0.9v0.9h-0.9zM57.6 316.0h0.9v0.9h-0.9zM87.1 321.2h0.9v0.9h-0.9zM65.9 325.1h0.9v0.9h-0.9zM40.3 321.2h0.9v0.9h-0.9zM53.3 315.1h0.9v0.9h-0.9zM52.1 329.4h0.9v0.9h-0.9zM65.4 331.5h0.9v0.9h-0.9zM64.2 319.2h0.9v0.9h-0.9zM78.4 320.6h0.9v0.9h-0.9zM84.9 320.4h0.9v0.9h-0.9zM66.7 322.5h0.9v0.9h-0.9zM57.0 319.5h0.9v0.9h-0.9zM48.9 338.0h0.9v0.9h-0.9zM70.9 329.7h0.9v0.9h-0.9zM38.6 318.1h0.9v0.9h-0.9zM53.6 319.8h0.9v0.9h-0.9zM55.7 318.1h0.9v0.9h-0.9zM41.4 325.5h0.9v0.9h-0.9zM46.6 313.6h0.9v0.9h-0.9zM44.6 318.2h0.9v0.9h-0.9zM41.7 315.9h0.9v0.9h-0.9zM82.1 315.3h0.9v0.9h-0.9zM64.1 320.2h0.9v0.9h-0.9zM36.9 320.3h0.9v0.9h-0.9zM42.8 316.1h0.9v0.9h-0.9zM61.6 316.2h0.9v0.9h-0.9zM38.0 313.9h0.9v0.9h-0.9zM48.7 314.9h0.9v0.9h-0.9zM36.7 338.3h0.9v0.9h-0.9zM59.7 318.8h0.9v0.9h-0.9zM45.5 333.6h0.9v0.9h-0.9zM36.8 328.3h0.9v0.9h-0.9zM97.7 314.5h0.9v0.9h-0.9zM71.7 314.0h0.9v0.9h-0.9zM43.6 328.5h0.9v0.9h-0.9zM56.3 318.6h0.9v0.9h-0.9zM67.8 334.2h0.9v0.9h-0.9zM50.2 327.9h0.9v0.9h-0.9zM84.2 326.3h0.9v0.9h-0.9zM87.7 324.6h0.9v0.9h-0.9zM85.2 325.5h0.9v0.9h-0.9zM62.5 320.8h0.9v0.9h-0.9zM67.6 326.0h0.9v0.9h-0.9zM70.1 316.9h0.9v0.9h-0.9zM41.8 326.0h0.9v0.9h-0.9zM61.7 327.8h0.9v0.9h-0.9zM35.1 320.0h0.9v0.9h-0.9zM48.3 314.0h0.9v0.9h-0.9zM60.1 336.2h0.9v0.9h-0.9zM73.5 330.3h0.9v0.9h-0.9zM54.4 328.8h0.9v0.9h-0.9zM60.6 320.7h0.9v0.9h-0.9zM100.6 316.7h0.9v0.9h-0.9zM70.8 321.9h0.9v0.9h-0.9zM94.8 315.3h0.9v0.9h-0.9zM50.7 329.4h0.9v0.9h-0.9zM100.3 318.3h0.9v0.9h-0.9zM37.9 337.2h0.9v0.9h-0.9zM39.8 336.4h0.9v0.9h-0.9zM71.7 319.5h0.9v0.9h-0.9zM49.1 322.2h0.9v0.9h-0.9zM35.7 320.2h0.9v0.9h-0.9zM55.7 313.0h0.9v0.9h-0.9zM39.3 313.9h0.9v0.9h-0.9zM80.9 323.1h0.9v0.9h-0.9zM70.6 322.8h0.9v0.9h-0.9zM90.1 316.1h0.9v0.9h-0.9zM55.8 333.4h0.9v0.9h-0.9zM39.0 317.0h0.9v0.9h-0.9zM62.5 328.4h0.9v0.9h-0.9zM92.9 313.5h0.9v0.9h-0.9zM71.4 321.4h0.9v0.9h-0.9zM39.3 328.3h0.9v0.9h-0.9zM46.7 328.1h0.9v0.9h-0.9zM84.6 324.1h0.9v0.9h-0.9zM54.3 330.7h0.9v0.9h-0.9zM42.2 333.9h0.9v0.9h-0.9zM84.8 316.8h0.9v0.9h-0.9zM37.2 319.6h0.9v0.9h-0.9zM53.9 330.2h0.9v0.9h-0.9zM45.9 323.6h0.9v0.9h-0.9zM35.6 336.0h0.9v0.9h-0.9zM40.3 332.8h0.9v0.9h-0.9zM40.3 338.9h0.9v0.9h-0.9zM47.8 331.9h0.9v0.9h-0.9zM34.7 337.3h0.9v0.9h-0.9zM36.0 320.1h0.9v0.9h-0.9zM80.6 319.9h0.9v0.9h-0.9zM38.2 338.9h0.9v0.9h-0.9zM65.5 326.5h0.9v0.9h-0.9zM73.2 331.2h0.9v0.9h-0.9zM48.1 313.2h0.9v0.9h-0.9zM55.8 318.2h0.9v0.9h-0.9zM45.6 316.6h0.9v0.9h-0.9zM53.3 338.8h0.9v0.9h-0.9zM48.9 327.5h0.9v0.9h-0.9zM72.0 321.4h0.9v0.9h-0.9zM44.3 321.6h0.9v0.9h-0.9zM53.6 316.9h0.9v0.9h-0.9zM60.5 336.8h0.9v0.9h-0.9zM61.4 327.7h0.9v0.9h-0.9zM51.3 323.5h0.9v0.9h-0.9zM34.0 321.8h0.9v0.9h-0.9zM59.2 334.9h0.9v0.9h-0.9zM92.1 318.7h0.9v0.9h-0.9zM89.2 322.4h0.9v0.9h-0.9zM75.6 325.7h0.9v0.9h-0.9zM55.6 335.7h0.9v0.9h-0.9zM66.3 330.9h0.9v0.9h-0.9zM42.8 315.2h0.9v0.9h-0.9zM82.3 315.9h0.9v0.9h-0.9zM39.0 314.5h0.9v0.9h-0.9zM42.4 317.4h0.9v0.9h-0.9zM48.9 318.4h0.9v0.9h-0.9zM92.8 321.5h0.9v0.9h-0.9zM58.9 313.7h0.9v0.9h-0.9zM38.9 331.3h0.9v0.9h-0.9zM68.4 330.8h0.9v0.9h-0.9zM83.2 324.0h0.9v0.9h-0.9zM88.8 324.7h0.9v0.9h-0.9zM100.9 316.0h0.9v0.9h-0.9zM69.4 327.7h0.9v0.9h-0.9zM59.6 332.2h0.9v0.9h-0.9zM78.0 330.1h0.9v0.9h-0.9zM105.4 318.8h0.9v0.9h-0.9zM50.9 339.1h0.9v0.9h-0.9zM46.6 326.3h0.9v0.9h-0.9zM90.0 319.1h0.9v0.9h-0.9zM65.6 330.6h0.9v0.9h-0.9zM73.4 323.5h0.9v0.9h-0.9zM46.9 313.5h0.9v0.9h-0.9zM55.4 319.7h0.9v0.9h-0.9zM79.5 314.0h0.9v0.9h-0.9zM57.2 316.7h0.9v0.9h-0.9zM55.3 337.1h0.9v0.9h-0.9zM35.0 320.9h0.9v0.9h-0.9zM36.5 328.1h0.9v0.9h-0.9zM54.6 313.6h0.9v0.9h-0.9zM71.7 313.1h0.9v0.9h-0.9zM40.0 338.9h0.9v0.9h-0.9zM72.3 324.0h0.9v0.9h-0.9zM34.7 329.3h0.9v0.9h-0.9zM36.5 313.8h0.9v0.9h-0.9zM77.0 324.4h0.9v0.9h-0.9zM85.3 322.1h0.9v0.9h-0.9zM43.8 331.2h0.9v0.9h-0.9zM73.1 330.5h0.9v0.9h-0.9zM77.6 329.2h0.9v0.9h-0.9zM85.8 314.7h0.9v0.9h-0.9zM50.0 336.0h0.9v0.9h-0.9zM38.7 317.6h0.9v0.9h-0.9zM66.1 332.5h0.9v0.9h-0.9zM63.6 326.0h0.9v0.9h-0.9zM92.9 315.0h0.9v0.9h-0.9zM89.5 319.1h0.9v0.9h-0.9zM56.1 317.9h0.9v0.9h-0.9zM44.5 329.9h0.9v0.9h-0.9zM48.5 331.2h0.9v0.9h-0.9zM40.9 314.5h0.9v0.9h-0.9zM82.5 315.0h0.9v0.9h-0.9zM36.0 321.9h0.9v0.9h-0.9zM70.7 325.3h0.9v0.9h-0.9zM54.6 333.4h0.9v0.9h-0.9zM48.7 329.5h0.9v0.9h-0.9zM49.4 335.0h0.9v0.9h-0.9zM78.5 328.4h0.9v0.9h-0.9zM69.2 314.6h0.9v0.9h-0.9zM70.7 323.2h0.9v0.9h-0.9zM53.3 318.7h0.9v0.9h-0.9zM57.8 319.1h0.9v0.9h-0.9zM95.6 316.6h0.9v0.9h-0.9zM83.0 319.3h0.9v0.9h-0.9zM67.4 319.6h0.9v0.9h-0.9zM34.0 322.8h0.9v0.9h-0.9zM44.4 338.1h0.9v0.9h-0.9zM36.6 331.4h0.9v0.9h-0.9zM77.6 329.9h0.9v0.9h-0.9zM58.8 333.5h0.9v0.9h-0.9zM47.2 317.6h0.9v0.9h-0.9zM64.4 325.8h0.9v0.9h-0.9zM38.3 329.9h0.9v0.9h-0.9zM42.5 331.1h0.9v0.9h-0.9zM50.5 334.1h0.9v0.9h-0.9zM84.6 317.3h0.9v0.9h-0.9zM40.7 326.1h0.9v0.9h-0.9zM36.8 313.3h0.9v0.9h-0.9zM80.9 319.7h0.9v0.9h-0.9zM90.4 315.8h0.9v0.9h-0.9zM49.3 321.3h0.9v0.9h-0.9zM46.1 338.4h0.9v0.9h-0.9zM97.0 321.1h0.9v0.9h-0.9zM44.2 328.5h0.9v0.9h-0.9zM76.8 320.7h0.9v0.9h-0.9zM50.1 326.5h0.9v0.9h-0.9zM69.8 317.3h0.9v0.9h-0.9zM92.5 313.5h0.9v0.9h-0.9zM88.2 322.0h0.9v0.9h-0.9zM59.1 314.7h0.9v0.9h-0.9zM72.3 318.4h0.9v0.9h-0.9zM64.5 332.1h0.9v0.9h-0.9zM60.2 326.0h0.9v0.9h-0.9zM53.5 314.6h0.9v0.9h-0.9zM57.5 322.7h0.9v0.9h-0.9zM62.7 331.1h0.9v0.9h-0.9zM51.6 322.4h0.9v0.9h-0.9zM50.9 323.7h0.9v0.9h-0.9zM39.9 319.2h0.9v0.9h-0.9zM70.0 318.7h0.9v0.9h-0.9zM82.8 318.3h0.9v0.9h-0.9zM42.6 317.4h0.9v0.9h-0.9zM83.0 328.8h0.9v0.9h-0.9zM90.1 320.2h0.9v0.9h-0.9zM60.2 314.1h0.9v0.9h-0.9zM47.8 328.7h0.9v0.9h-0.9zM50.9 330.2h0.9v0.9h-0.9zM42.8 315.7h0.9v0.9h-0.9zM57.2 322.1h0.9v0.9h-0.9zM87.5 326.4h0.9v0.9h-0.9zM46.0 325.1h0.9v0.9h-0.9zM84.9 326.2h0.9v0.9h-0.9zM56.9 315.0h0.9v0.9h-0.9zM53.7 315.8h0.9v0.9h-0.9zM42.1 323.8h0.9v0.9h-0.9zM64.3 325.5h0.9v0.9h-0.9zM64.1 319.7h0.9v0.9h-0.9zM83.9 328.3h0.9v0.9h-0.9zM86.5 322.5h0.9v0.9h-0.9zM64.6 313.4h0.9v0.9h-0.9zM51.9 314.1h0.9v0.9h-0.9zM44.5 332.8h0.9v0.9h-0.9zM53.8 320.4h0.9v0.9h-0.9zM55.6 330.5h0.9v0.9h-0.9zM70.4 313.5h0.9v0.9h-0.9zM63.2 333.8h0.9v0.9h-0.9zM72.0 318.7h0.9v0.9h-0.9zM39.9 317.1h0.9v0.9h-0.9zM53.9 329.9h0.9v0.9h-0.9zM40.6 334.6h0.9v0.9h-0.9zM71.5 327.9h0.9v0.9h-0.9zM62.8 325.4h0.9v0.9h-0.9zM36.6 333.7h0.9v0.9h-0.9zM105.3 317.6h0.9v0.9h-0.9zM48.5 318.7h0.9v0.9h-0.9zM90.4 322.1h0.9v0.9h-0.9zM55.4 326.2h0.9v0.9h-0.9zM49.6 336.1h0.9v0.9h-0.9zM46.0 334.0h0.9v0.9h-0.9zM49.2 319.8h0.9v0.9h-0.9zM66.7 329.5h0.9v0.9h-0.9zM49.8 323.6h0.9v0.9h-0.9zM36.9 331.7h0.9v0.9h-0.9zM60.3 334.0h0.9v0.9h-0.9zM77.4 329.8h0.9v0.9h-0.9zM48.6 313.8h0.9v0.9h-0.9zM51.4 319.1h0.9v0.9h-0.9zM45.2 328.2h0.9v0.9h-0.9zM53.5 320.8h0.9v0.9h-0.9zM74.4 329.8h0.9v0.9h-0.9zM101.5 319.3h0.9v0.9h-0.9zM34.7 318.2h0.9v0.9h-0.9zM99.1 319.3h0.9v0.9h-0.9zM62.3 333.5h0.9v0.9h-0.9zM76.8 321.5h0.9v0.9h-0.9zM43.1 322.4h0.9v0.9h-0.9zM56.9 335.7h0.9v0.9h-0.9zM60.9 324.2h0.9v0.9h-0.9zM45.6 335.1h0.9v0.9h-0.9zM55.7 331.4h0.9v0.9h-0.9zM71.0 329.3h0.9v0.9h-0.9zM69.4 328.3h0.9v0.9h-0.9zM39.6 334.7h0.9v0.9h-0.9zM63.8 327.3h0.9v0.9h-0.9zM45.8 323.6h0.9v0.9h-0.9zM62.7 325.9h0.9v0.9h-0.9zM62.5 318.8h0.9v0.9h-0.9zM61.3 336.3h0.9v0.9h-0.9zM68.0 315.0h0.9v0.9h-0.9zM39.8 337.3h0.9v0.9h-0.9zM67.3 317.1h0.9v0.9h-0.9zM39.3 320.7h0.9v0.9h-0.9zM61.3 314.0h0.9v0.9h-0.9zM41.7 314.8h0.9v0.9h-0.9zM54.1 314.3h0.9v0.9h-0.9zM54.1 317.9h0.9v0.9h-0.9zM47.2 316.8h0.9v0.9h-0.9zM96.6 322.8h0.9v0.9h-0.9zM87.0 314.8h0.9v0.9h-0.9zM66.4 317.0h0.9v0.9h-0.9zM49.6 324.0h0.9v0.9h-0.9zM57.5 330.3h0.9v0.9h-0.9zM50.1 322.8h0.9v0.9h-0.9zM53.2 324.4h0.9v0.9h-0.9zM56.5 334.0h0.9v0.9h-0.9zM35.4 316.2h0.9v0.9h-0.9zM64.2 314.0h0.9v0.9h-0.9zM35.0 315.1h0.9v0.9h-0.9zM50.2 315.8h0.9v0.9h-0.9zM73.7 314.1h0.9v0.9h-0.9zM62.9 334.4h0.9v0.9h-0.9zM50.4 329.3h0.9v0.9h-0.9zM58.1 321.3h0.9v0.9h-0.9zM51.0 339.1h0.9v0.9h-0.9zM39.4 326.8h0.9v0.9h-0.9zM91.4 323.9h0.9v0.9h-0.9zM68.6 327.9h0.9v0.9h-0.9zM78.0 318.6h0.9v0.9h-0.9zM69.7 322.5h0.9v0.9h-0.9zM54.2 321.0h0.9v0.9h-0.9zM46.2 323.4h0.9v0.9h-0.9zM62.9 317.3h0.9v0.9h-0.9zM51.4 331.2h0.9v0.9h-0.9zM41.0 330.3h0.9v0.9h-0.9zM67.0 314.9h0.9v0.9h-0.9zM84.1 318.7h0.9v0.9h-0.9zM91.0 314.3h0.9v0.9h-0.9zM48.5 321.4h0.9v0.9h-0.9zM84.6 320.3h0.9v0.9h-0.9zM37.5 313.5h0.9v0.9h-0.9zM87.1 313.9h0.9v0.9h-0.9zM50.5 338.7h0.9v0.9h-0.9zM50.9 319.0h0.9v0.9h-0.9zM44.0 332.0h0.9v0.9h-0.9zM57.2 321.2h0.9v0.9h-0.9zM50.5 331.6h0.9v0.9h-0.9zM73.8 322.5h0.9v0.9h-0.9zM40.6 326.6h0.9v0.9h-0.9zM56.1 325.9h0.9v0.9h-0.9zM40.3 317.1h0.9v0.9h-0.9zM40.1 319.8h0.9v0.9h-0.9zM87.7 320.5h0.9v0.9h-0.9zM52.7 313.9h0.9v0.9h-0.9zM43.8 322.1h0.9v0.9h-0.9zM60.9 334.3h0.9v0.9h-0.9zM40.1 335.4h0.9v0.9h-0.9zM72.7 320.8h0.9v0.9h-0.9zM36.5 319.8h0.9v0.9h-0.9zM42.4 337.2h0.9v0.9h-0.9zM77.3 327.7h0.9v0.9h-0.9zM52.3 321.7h0.9v0.9h-0.9zM44.1 317.1h0.9v0.9h-0.9zM63.2 323.7h0.9v0.9h-0.9zM55.4 325.1h0.9v0.9h-0.9zM51.4 333.6h0.9v0.9h-0.9zM79.8 323.4h0.9v0.9h-0.9zM57.8 315.8h0.9v0.9h-0.9zM103.5 317.3h0.9v0.9h-0.9zM36.6 319.7h0.9v0.9h-0.9zM37.9 334.2h0.9v0.9h-0.9zM56.6 316.2h0.9v0.9h-0.9zM56.7 331.1h0.9v0.9h-0.9zM37.3 339.2h0.9v0.9h-0.9zM51.5 328.1h0.9v0.9h-0.9zM36.3 323.0h0.9v0.9h-0.9zM60.2 313.8h0.9v0.9h-0.9zM71.3 317.4h0.9v0.9h-0.9zM42.3 320.5h0.9v0.9h-0.9zM56.2 314.2h0.9v0.9h-0.9zM41.3 325.1h0.9v0.9h-0.9zM85.0 322.2h0.9v0.9h-0.9zM35.9 328.9h0.9v0.9h-0.9zM63.6 316.6h0.9v0.9h-0.9zM81.8 315.8h0.9v0.9h-0.9zM71.1 320.7h0.9v0.9h-0.9zM43.0 336.2h0.9v0.9h-0.9zM40.8 335.1h0.9v0.9h-0.9zM81.7 321.9h0.9v0.9h-0.9zM59.6 318.5h0.9v0.9h-0.9zM38.9 339.0h0.9v0.9h-0.9zM53.4 317.8h0.9v0.9h-0.9zM36.8 317.7h0.9v0.9h-0.9zM37.2 313.4h0.9v0.9h-0.9zM104.5 314.8h0.9v0.9h-0.9zM74.2 327.6h0.9v0.9h-0.9zM46.7 328.5h0.9v0.9h-0.9zM62.7 323.7h0.9v0.9h-0.9zM34.6 333.2h0.9v0.9h-0.9zM91.4 320.1h0.9v0.9h-0.9zM63.6 318.6h0.9v0.9h-0.9zM35.6 339.6h0.9v0.9h-0.9zM60.8 326.2h0.9v0.9h-0.9zM36.7 314.7h0.9v0.9h-0.9zM85.9 321.1h0.9v0.9h-0.9zM35.5 325.6h0.9v0.9h-0.9zM52.0 328.6h0.9v0.9h-0.9zM63.6 333.4h0.9v0.9h-0.9zM42.5 313.7h0.9v0.9h-0.9zM66.6 325.1h0.9v0.9h-0.9zM79.3 324.7h0.9v0.9h-0.9zM57.7 324.1h0.9v0.9h-0.9zM65.3 330.5h0.9v0.9h-0.9zM99.4 316.6h0.9v0.9h-0.9zM37.5 317.2h0.9v0.9h-0.9zM56.3 322.4h0.9v0.9h-0.9zM36.0 326.4h0.9v0.9h-0.9zM54.5 319.9h0.9v0.9h-0.9zM45.9 324.2h0.9v0.9h-0.9zM78.5 316.7h0.9v0.9h-0.9zM100.5 320.1h0.9v0.9h-0.9zM49.0 319.2h0.9v0.9h-0.9zM54.4 324.8h0.9v0.9h-0.9zM40.7 331.6h0.9v0.9h-0.9zM87.1 314.6h0.9v0.9h-0.9zM61.1 322.2h0.9v0.9h-0.9zM36.5 329.4h0.9v0.9h-0.9zM43.8 316.4h0.9v0.9h-0.9zM54.4 328.3h0.9v0.9h-0.9zM71.1 329.7h0.9v0.9h-0.9zM91.3 319.8h0.9v0.9h-0.9zM46.5 314.2h0.9v0.9h-0.9zM83.8 313.0h0.9v0.9h-0.9zM57.6 315.3h0.9v0.9h-0.9zM97.3 313.2h0.9v0.9h-0.9zM59.0 326.6h0.9v0.9h-0.9zM38.5 315.6h0.9v0.9h-0.9zM97.7 315.1h0.9v0.9h-0.9zM58.2 336.5h0.9v0.9h-0.9zM48.5 333.3h0.9v0.9h-0.9zM49.5 314.2h0.9v0.9h-0.9zM52.5 339.2h0.9v0.9h-0.9zM59.4 314.5h0.9v0.9h-0.9zM45.6 326.1h0.9v0.9h-0.9zM73.2 323.3h0.9v0.9h-0.9zM107.5 317.0h0.9v0.9h-0.9zM45.3 320.5h0.9v0.9h-0.9zM50.3 338.2h0.9v0.9h-0.9zM61.4 336.2h0.9v0.9h-0.9zM49.7 330.7h0.9v0.9h-0.9zM67.7 318.0h0.9v0.9h-0.9zM49.4 317.0h0.9v0.9h-0.9zM39.4 335.6h0.9v0.9h-0.9zM39.5 331.4h0.9v0.9h-0.9zM47.2 318.1h0.9v0.9h-0.9zM71.1 318.6h0.9v0.9h-0.9zM63.2 319.1h0.9v0.9h-0.9zM68.3 328.4h0.9v0.9h-0.9zM55.4 318.0h0.9v0.9h-0.9zM45.8 320.6h0.9v0.9h-0.9zM58.2 324.3h0.9v0.9h-0.9zM54.3 325.1h0.9v0.9h-0.9zM71.0 324.1h0.9v0.9h-0.9zM77.6 320.4h0.9v0.9h-0.9zM36.1 337.3h0.9v0.9h-0.9zM52.4 322.1h0.9v0.9h-0.9zM64.6 330.0h0.9v0.9h-0.9zM44.2 330.0h0.9v0.9h-0.9zM37.6 323.6h0.9v0.9h-0.9zM52.5 331.7h0.9v0.9h-0.9zM34.9 323.3h0.9v0.9h-0.9zM43.1 320.2h0.9v0.9h-0.9zM87.7 315.1h0.9v0.9h-0.9zM44.0 323.7h0.9v0.9h-0.9zM48.5 331.0h0.9v0.9h-0.9zM38.6 320.6h0.9v0.9h-0.9zM49.1 327.0h0.9v0.9h-0.9zM66.6 333.8h0.9v0.9h-0.9zM52.9 322.7h0.9v0.9h-0.9zM46.9 338.3h0.9v0.9h-0.9zM37.8 335.8h0.9v0.9h-0.9zM96.6 319.2h0.9v0.9h-0.9zM77.3 324.2h0.9v0.9h-0.9zM69.5 329.5h0.9v0.9h-0.9zM76.2 319.9h0.9v0.9h-0.9zM63.1 323.3h0.9v0.9h-0.9zM49.9 321.8h0.9v0.9h-0.9zM41.2 326.9h0.9v0.9h-0.9zM85.7 313.9h0.9v0.9h-0.9zM44.2 324.7h0.9v0.9h-0.9zM45.2 321.5h0.9v0.9h-0.9zM44.2 327.0h0.9v0.9h-0.9zM46.0 338.2h0.9v0.9h-0.9zM43.4 324.4h0.9v0.9h-0.9zM74.8 329.3h0.9v0.9h-0.9zM43.0 337.2h0.9v0.9h-0.9zM61.7 323.3h0.9v0.9h-0.9zM66.3 326.1h0.9v0.9h-0.9zM78.5 320.7h0.9v0.9h-0.9zM34.8 319.1h0.9v0.9h-0.9zM62.0 314.9h0.9v0.9h-0.9zM55.8 316.5h0.9v0.9h-0.9zM84.2 317.4h0.9v0.9h-0.9zM43.8 326.9h0.9v0.9h-0.9zM58.6 324.9h0.9v0.9h-0.9zM34.2 324.0h0.9v0.9h-0.9zM58.7 332.1h0.9v0.9h-0.9zM74.1 323.7h0.9v0.9h-0.9zM39.6 316.1h0.9v0.9h-0.9zM36.8 317.0h0.9v0.9h-0.9zM62.0 334.8h0.9v0.9h-0.9zM65.5 322.0h0.9v0.9h-0.9zM47.7 330.8h0.9v0.9h-0.9zM57.5 333.2h0.9v0.9h-0.9zM67.0 317.2h0.9v0.9h-0.9zM63.1 327.3h0.9v0.9h-0.9zM92.3 320.2h0.9v0.9h-0.9zM61.8 333.9h0.9v0.9h-0.9zM50.9 328.7h0.9v0.9h-0.9zM46.9 333.1h0.9v0.9h-0.9zM52.1 326.3h0.9v0.9h-0.9zM41.5 335.9h0.9v0.9h-0.9zM65.8 335.1h0.9v0.9h-0.9zM97.1 315.6h0.9v0.9h-0.9zM53.5 337.6h0.9v0.9h-0.9zM55.8 317.8h0.9v0.9h-0.9zM53.5 338.7h0.9v0.9h-0.9zM82.1 319.0h0.9v0.9h-0.9zM34.1 322.3h0.9v0.9h-0.9zM89.4 317.5h0.9v0.9h-0.9zM45.2 318.7h0.9v0.9h-0.9zM59.9 315.2h0.9v0.9h-0.9zM34.5 335.9h0.9v0.9h-0.9zM39.5 313.3h0.9v0.9h-0.9zM61.4 320.9h0.9v0.9h-0.9zM34.5 334.5h0.9v0.9h-0.9zM50.0 317.8h0.9v0.9h-0.9zM80.8 318.7h0.9v0.9h-0.9zM56.2 331.3h0.9v0.9h-0.9zM37.1 328.8h0.9v0.9h-0.9zM35.7 336.5h0.9v0.9h-0.9zM81.6 318.4h0.9v0.9h-0.9zM73.0 328.6h0.9v0.9h-0.9zM91.2 315.7h0.9v0.9h-0.9zM43.3 325.2h0.9v0.9h-0.9zM38.5 320.2h0.9v0.9h-0.9zM56.0 326.4h0.9v0.9h-0.9zM39.1 316.0h0.9v0.9h-0.9zM80.1 329.3h0.9v0.9h-0.9zM46.0 332.6h0.9v0.9h-0.9zM89.6 316.7h0.9v0.9h-0.9zM68.9 329.4h0.9v0.9h-0.9zM45.2 316.8h0.9v0.9h-0.9zM67.1 324.6h0.9v0.9h-0.9zM54.6 321.8h0.9v0.9h-0.9zM70.8 317.7h0.9v0.9h-0.9zM60.7 332.6h0.9v0.9h-0.9zM63.3 325.2h0.9v0.9h-0.9zM41.2 313.3h0.9v0.9h-0.9zM36.7 336.2h0.9v0.9h-0.9zM87.7 321.2h0.9v0.9h-0.9zM93.5 322.0h0.9v0.9h-0.9zM82.7 325.1h0.9v0.9h-0.9zM54.1 339.1h0.9v0.9h-0.9zM104.0 316.1h0.9v0.9h-0.9zM68.8 332.8h0.9v0.9h-0.9zM99.5 320.1h0.9v0.9h-0.9zM40.7 336.9h0.9v0.9h-0.9zM87.9 322.2h0.9v0.9h-0.9zM47.6 337.2h0.9v0.9h-0.9zM40.8 319.8h0.9v0.9h-0.9zM44.8 327.3h0.9v0.9h-0.9zM47.6 315.8h0.9v0.9h-0.9zM39.6 327.6h0.9v0.9h-0.9zM82.1 322.5h0.9v0.9h-0.9zM50.7 339.0h0.9v0.9h-0.9zM38.4 320.5h0.9v0.9h-0.9zM44.8 319.9h0.9v0.9h-0.9zM77.8 328.7h0.9v0.9h-0.9zM40.4 322.3h0.9v0.9h-0.9zM59.7 336.1h0.9v0.9h-0.9zM47.2 333.3h0.9v0.9h-0.9zM74.5 313.5h0.9v0.9h-0.9zM34.2 331.0h0.9v0.9h-0.9zM75.9 314.7h0.9v0.9h-0.9zM61.9 330.0h0.9v0.9h-0.9zM71.9 317.6h0.9v0.9h-0.9zM37.3 334.2h0.9v0.9h-0.9zM36.3 315.0h0.9v0.9h-0.9zM39.3 334.4h0.9v0.9h-0.9zM45.4 317.4h0.9v0.9h-0.9zM50.2 326.6h0.9v0.9h-0.9zM70.2 320.6h0.9v0.9h-0.9zM71.1 317.9h0.9v0.9h-0.9zM60.4 325.1h0.9v0.9h-0.9zM40.9 316.6h0.9v0.9h-0.9zM54.0 316.8h0.9v0.9h-0.9zM37.8 321.4h0.9v0.9h-0.9zM53.0 325.5h0.9v0.9h-0.9zM51.6 332.2h0.9v0.9h-0.9zM34.2 334.0h0.9v0.9h-0.9zM51.8 335.3h0.9v0.9h-0.9zM77.6 322.6h0.9v0.9h-0.9zM60.7 325.0h0.9v0.9h-0.9zM88.4 318.3h0.9v0.9h-0.9zM52.5 339.3h0.9v0.9h-0.9zM56.6 315.8h0.9v0.9h-0.9zM47.9 314.0h0.9v0.9h-0.9zM34.4 331.1h0.9v0.9h-0.9zM42.1 313.3h0.9v0.9h-0.9zM70.1 326.7h0.9v0.9h-0.9zM37.3 323.8h0.9v0.9h-0.9zM40.3 313.2h0.9v0.9h-0.9zM74.8 318.3h0.9v0.9h-0.9zM36.4 336.9h0.9v0.9h-0.9zM40.6 313.2h0.9v0.9h-0.9zM57.1 317.7h0.9v0.9h-0.9zM48.1 329.0h0.9v0.9h-0.9zM40.4 321.7h0.9v0.9h-0.9zM62.8 334.7h0.9v0.9h-0.9zM40.7 318.1h0.9v0.9h-0.9zM47.3 331.8h0.9v0.9h-0.9zM58.7 323.9h0.9v0.9h-0.9zM44.9 323.6h0.9v0.9h-0.9zM88.0 322.1h0.9v0.9h-0.9zM50.0 338.0h0.9v0.9h-0.9zM78.0 329.7h0.9v0.9h-0.9zM35.9 315.6h0.9v0.9h-0.9zM45.0 323.6h0.9v0.9h-0.9zM76.0 325.8h0.9v0.9h-0.9zM69.0 330.0h0.9v0.9h-0.9zM36.5 338.0h0.9v0.9h-0.9zM50.0 332.1h0.9v0.9h-0.9zM49.1 328.4h0.9v0.9h-0.9zM63.5 329.5h0.9v0.9h-0.9zM48.1 324.6h0.9v0.9h-0.9zM49.6 326.8h0.9v0.9h-0.9zM55.8 333.9h0.9v0.9h-0.9zM36.8 329.4h0.9v0.9h-0.9zM81.1 314.7h0.9v0.9h-0.9zM62.7 316.4h0.9v0.9h-0.9zM52.2 314.5h0.9v0.9h-0.9zM56.8 319.3h0.9v0.9h-0.9zM60.0 313.7h0.9v0.9h-0.9zM44.9 339.6h0.9v0.9h-0.9zM39.6 316.2h0.9v0.9h-0.9zM36.7 326.5h0.9v0.9h-0.9zM47.3 323.5h0.9v0.9h-0.9zM47.0 315.0h0.9v0.9h-0.9zM60.6 314.9h0.9v0.9h-0.9zM35.3 326.2h0.9v0.9h-0.9zM39.7 324.0h0.9v0.9h-0.9zM89.6 320.9h0.9v0.9h-0.9zM53.5 333.6h0.9v0.9h-0.9zM39.7 325.2h0.9v0.9h-0.9zM86.8 315.2h0.9v0.9h-0.9zM72.5 318.7h0.9v0.9h-0.9zM60.3 323.9h0.9v0.9h-0.9zM63.9 327.6h0.9v0.9h-0.9zM43.5 330.6h0.9v0.9h-0.9zM48.5 329.2h0.9v0.9h-0.9zM42.6 337.8h0.9v0.9h-0.9zM58.7 329.4h0.9v0.9h-0.9zM34.7 332.1h0.9v0.9h-0.9zM90.3 319.1h0.9v0.9h-0.9zM49.6 330.0h0.9v0.9h-0.9zM39.7 315.2h0.9v0.9h-0.9zM62.4 319.6h0.9v0.9h-0.9zM50.1 326.6h0.9v0.9h-0.9zM85.8 315.4h0.9v0.9h-0.9zM57.3 323.6h0.9v0.9h-0.9zM79.6 320.3h0.9v0.9h-0.9zM50.5 318.0h0.9v0.9h-0.9zM82.6 324.3h0.9v0.9h-0.9zM48.3 337.4h0.9v0.9h-0.9zM63.5 329.4h0.9v0.9h-0.9zM34.9 316.6h0.9v0.9h-0.9zM41.1 338.9h0.9v0.9h-0.9zM35.2 331.4h0.9v0.9h-0.9zM41.1 334.9h0.9v0.9h-0.9zM50.9 316.1h0.9v0.9h-0.9zM43.8 336.6h0.9v0.9h-0.9zM38.4 326.9h0.9v0.9h-0.9zM36.0 317.1h0.9v0.9h-0.9zM57.1 330.4h0.9v0.9h-0.9zM34.7 327.4h0.9v0.9h-0.9zM38.3 333.7h0.9v0.9h-0.9zM60.9 324.6h0.9v0.9h-0.9zM39.6 337.0h0.9v0.9h-0.9zM36.2 337.7h0.9v0.9h-0.9zM61.4 333.7h0.9v0.9h-0.9zM80.2 329.3h0.9v0.9h-0.9zM51.6 329.3h0.9v0.9h-0.9zM76.3 328.8h0.9v0.9h-0.9zM91.8 325.4h0.9v0.9h-0.9zM68.0 333.1h0.9v0.9h-0.9zM60.5 334.2h0.9v0.9h-0.9zM93.2 320.0h0.9v0.9h-0.9zM88.2 319.0h0.9v0.9h-0.9zM55.1 331.9h0.9v0.9h-0.9zM92.2 319.9h0.9v0.9h-0.9zM65.7 327.5h0.9v0.9h-0.9zM99.3 318.8h0.9v0.9h-0.9zM84.0 322.5h0.9v0.9h-0.9zM68.1 329.1h0.9v0.9h-0.9zM75.1 331.5h0.9v0.9h-0.9zM75.1 328.2h0.9v0.9h-0.9zM85.2 318.1h0.9v0.9h-0.9zM73.4 330.0h0.9v0.9h-0.9zM87.3 320.3h0.9v0.9h-0.9zM86.0 318.6h0.9v0.9h-0.9zM76.8 324.4h0.9v0.9h-0.9zM61.8 335.2h0.9v0.9h-0.9zM108.1 321.9h0.9v0.9h-0.9zM87.7 318.0h0.9v0.9h-0.9zM63.4 331.2h0.9v0.9h-0.9zM64.8 328.9h0.9v0.9h-0.9zM87.5 328.2h0.9v0.9h-0.9zM105.5 323.0h0.9v0.9h-0.9zM85.2 324.8h0.9v0.9h-0.9zM72.1 331.8h0.9v0.9h-0.9zM102.9 315.3h0.9v0.9h-0.9zM67.5 326.8h0.9v0.9h-0.9zM97.2 321.1h0.9v0.9h-0.9zM86.8 321.9h0.9v0.9h-0.9zM76.5 329.7h0.9v0.9h-0.9zM68.4 329.3h0.9v0.9h-0.9zM70.6 333.7h0.9v0.9h-0.9zM76.9 326.5h0.9v0.9h-0.9zM97.6 319.3h0.9v0.9h-0.9zM77.6 329.9h0.9v0.9h-0.9zM64.9 332.1h0.9v0.9h-0.9zM98.4 323.5h0.9v0.9h-0.9zM91.8 319.5h0.9v0.9h-0.9zM77.7 323.7h0.9v0.9h-0.9zM96.6 322.6h0.9v0.9h-0.9zM80.8 327.2h0.9v0.9h-0.9zM103.5 315.1h0.9v0.9h-0.9zM74.8 324.1h0.9v0.9h-0.9zM66.1 328.7h0.9v0.9h-0.9zM71.1 328.9h0.9v0.9h-0.9zM79.0 325.2h0.9v0.9h-0.9zM78.5 322.7h0.9v0.9h-0.9zM68.3 327.2h0.9v0.9h-0.9zM70.4 331.0h0.9v0.9h-0.9zM59.6 336.9h0.9v0.9h-0.9zM71.2 333.9h0.9v0.9h-0.9zM100.2 315.5h0.9v0.9h-0.9zM73.4 324.5h0.9v0.9h-0.9zM63.7 333.5h0.9v0.9h-0.9zM67.3 329.3h0.9v0.9h-0.9zM66.9 332.9h0.9v0.9h-0.9zM76.5 329.8h0.9v0.9h-0.9zM64.4 330.1h0.9v0.9h-0.9zM94.0 319.9h0.9v0.9h-0.9zM63.3 326.6h0.9v0.9h-0.9zM71.7 323.5h0.9v0.9h-0.9zM99.1 320.6h0.9v0.9h-0.9zM78.8 332.6h0.9v0.9h-0.9zM93.6 314.9h0.9v0.9h-0.9zM72.7 323.5h0.9v0.9h-0.9zM88.0 320.8h0.9v0.9h-0.9zM109.4 316.7h0.9v0.9h-0.9zM61.7 326.2h0.9v0.9h-0.9zM84.7 323.6h0.9v0.9h-0.9zM62.5 336.3h0.9v0.9h-0.9zM74.1 320.2h0.9v0.9h-0.9zM66.0 326.8h0.9v0.9h-0.9zM79.5 327.8h0.9v0.9h-0.9zM60.7 336.1h0.9v0.9h-0.9zM45.2 335.7h0.9v0.9h-0.9zM86.3 325.8h0.9v0.9h-0.9zM79.5 328.5h0.9v0.9h-0.9zM94.4 315.4h0.9v0.9h-0.9zM79.8 325.1h0.9v0.9h-0.9zM77.8 324.3h0.9v0.9h-0.9zM64.1 330.3h0.9v0.9h-0.9zM57.1 334.6h0.9v0.9h-0.9zM77.8 322.5h0.9v0.9h-0.9zM57.8 327.5h0.9v0.9h-0.9zM95.7 314.9h0.9v0.9h-0.9zM96.4 314.9h0.9v0.9h-0.9zM84.6 322.9h0.9v0.9h-0.9zM95.8 322.3h0.9v0.9h-0.9zM75.2 325.4h0.9v0.9h-0.9zM68.3 327.3h0.9v0.9h-0.9zM74.2 329.9h0.9v0.9h-0.9zM95.5 319.0h0.9v0.9h-0.9zM65.2 330.9h0.9v0.9h-0.9zM82.1 322.3h0.9v0.9h-0.9zM89.5 321.6h0.9v0.9h-0.9zM52.0 334.5h0.9v0.9h-0.9zM56.0 337.9h0.9v0.9h-0.9zM66.6 330.4h0.9v0.9h-0.9zM72.9 331.8h0.9v0.9h-0.9zM78.2 327.4h0.9v0.9h-0.9zM66.0 331.3h0.9v0.9h-0.9zM64.1 325.5h0.9v0.9h-0.9zM61.4 331.5h0.9v0.9h-0.9zM60.7 329.4h0.9v0.9h-0.9zM83.3 327.3h0.9v0.9h-0.9zM69.6 330.3h0.9v0.9h-0.9zM61.2 333.5h0.9v0.9h-0.9zM59.3 332.4h0.9v0.9h-0.9zM66.5 334.7h0.9v0.9h-0.9zM50.9 329.6h0.9v0.9h-0.9zM80.5 327.4h0.9v0.9h-0.9zM82.3 323.1h0.9v0.9h-0.9zM56.0 330.9h0.9v0.9h-0.9zM68.0 327.3h0.9v0.9h-0.9zM71.3 328.3h0.9v0.9h-0.9zM88.8 322.8h0.9v0.9h-0.9zM66.9 333.6h0.9v0.9h-0.9zM71.0 326.4h0.9v0.9h-0.9zM60.7 329.9h0.9v0.9h-0.9zM63.5 334.7h0.9v0.9h-0.9zM68.1 333.3h0.9v0.9h-0.9zM92.6 318.2h0.9v0.9h-0.9zM82.3 325.3h0.9v0.9h-0.9zM80.5 324.0h0.9v0.9h-0.9zM54.9 336.8h0.9v0.9h-0.9zM61.5 329.6h0.9v0.9h-0.9zM87.2 320.3h0.9v0.9h-0.9zM80.4 335.0h0.9v0.9h-0.9zM94.3 323.5h0.9v0.9h-0.9zM78.7 330.9h0.9v0.9h-0.9zM85.4 324.5h0.9v0.9h-0.9zM77.9 323.9h0.9v0.9h-0.9zM86.1 326.9h0.9v0.9h-0.9zM84.1 328.8h0.9v0.9h-0.9zM92.9 319.8h0.9v0.9h-0.9zM68.9 328.5h0.9v0.9h-0.9zM74.2 329.3h0.9v0.9h-0.9zM66.7 329.9h0.9v0.9h-0.9zM75.2 322.1h0.9v0.9h-0.9zM84.5 325.8h0.9v0.9h-0.9zM78.9 328.3h0.9v0.9h-0.9zM46.3 332.0h0.9v0.9h-0.9zM68.6 335.4h0.9v0.9h-0.9zM67.7 326.1h0.9v0.9h-0.9zM70.7 324.6h0.9v0.9h-0.9zM66.5 327.2h0.9v0.9h-0.9zM71.4 328.3h0.9v0.9h-0.9zM90.3 321.0h0.9v0.9h-0.9zM83.8 318.0h0.9v0.9h-0.9zM98.0 318.7h0.9v0.9h-0.9zM53.3 336.5h0.9v0.9h-0.9zM60.6 330.0h0.9v0.9h-0.9zM55.7 326.5h0.9v0.9h-0.9zM90.5 317.4h0.9v0.9h-0.9zM86.5 320.3h0.9v0.9h-0.9zM69.1 331.6h0.9v0.9h-0.9zM68.4 327.8h0.9v0.9h-0.9zM81.4 326.0h0.9v0.9h-0.9zM99.4 327.3h0.9v0.9h-0.9zM99.8 317.7h0.9v0.9h-0.9zM67.2 329.2h0.9v0.9h-0.9zM91.2 323.9h0.9v0.9h-0.9zM75.5 330.9h0.9v0.9h-0.9zM102.1 321.3h0.9v0.9h-0.9zM83.7 319.5h0.9v0.9h-0.9zM83.9 317.2h0.9v0.9h-0.9zM37.9 337.9h0.9v0.9h-0.9zM85.0 322.0h0.9v0.9h-0.9zM50.2 332.1h0.9v0.9h-0.9zM66.5 325.1h0.9v0.9h-0.9zM89.4 320.3h0.9v0.9h-0.9zM52.8 333.6h0.9v0.9h-0.9zM70.8 334.5h0.9v0.9h-0.9zM89.6 324.5h0.9v0.9h-0.9zM67.4 325.3h0.9v0.9h-0.9zM88.2 325.0h0.9v0.9h-0.9zM68.1 328.9h0.9v0.9h-0.9zM75.2 324.0h0.9v0.9h-0.9zM41.6 337.3h0.9v0.9h-0.9zM94.1 328.7h0.9v0.9h-0.9zM87.0 321.9h0.9v0.9h-0.9zM70.7 325.4h0.9v0.9h-0.9zM72.1 327.3h0.9v0.9h-0.9zM61.4 334.3h0.9v0.9h-0.9zM66.0 330.6h0.9v0.9h-0.9zM80.1 324.1h0.9v0.9h-0.9zM80.3 321.6h0.9v0.9h-0.9zM87.0 320.0h0.9v0.9h-0.9zM92.5 315.5h0.9v0.9h-0.9zM91.7 320.6h0.9v0.9h-0.9zM83.5 325.3h0.9v0.9h-0.9zM82.5 325.5h0.9v0.9h-0.9zM73.8 327.0h0.9v0.9h-0.9zM96.8 323.1h0.9v0.9h-0.9zM66.5 331.4h0.9v0.9h-0.9zM65.8 332.3h0.9v0.9h-0.9zM80.8 321.0h0.9v0.9h-0.9zM55.2 333.0h0.9v0.9h-0.9zM71.7 326.6h0.9v0.9h-0.9zM55.5 337.8h0.9v0.9h-0.9zM64.0 330.6h0.9v0.9h-0.9zM52.2 334.6h0.9v0.9h-0.9zM93.3 325.2h0.9v0.9h-0.9zM67.4 327.9h0.9v0.9h-0.9zM59.0 330.3h0.9v0.9h-0.9zM55.0 335.2h0.9v0.9h-0.9zM85.9 322.6h0.9v0.9h-0.9zM72.8 332.5h0.9v0.9h-0.9zM78.3 329.6h0.9v0.9h-0.9zM101.8 318.0h0.9v0.9h-0.9zM56.4 333.5h0.9v0.9h-0.9zM45.1 338.3h0.9v0.9h-0.9zM80.4 329.7h0.9v0.9h-0.9zM97.8 320.0h0.9v0.9h-0.9zM80.1 327.4h0.9v0.9h-0.9zM92.6 316.6h0.9v0.9h-0.9zM82.0 323.9h0.9v0.9h-0.9zM66.5 332.4h0.9v0.9h-0.9zM80.0 327.4h0.9v0.9h-0.9zM94.3 320.2h0.9v0.9h-0.9zM82.7 318.2h0.9v0.9h-0.9zM77.1 326.6h0.9v0.9h-0.9zM82.0 321.6h0.9v0.9h-0.9zM74.6 319.8h0.9v0.9h-0.9zM88.5 318.8h0.9v0.9h-0.9zM73.4 326.1h0.9v0.9h-0.9zM101.8 317.5h0.9v0.9h-0.9zM84.1 326.1h0.9v0.9h-0.9zM80.3 325.5h0.9v0.9h-0.9zM50.9 336.0h0.9v0.9h-0.9zM44.7 336.5h0.9v0.9h-0.9zM74.6 327.0h0.9v0.9h-0.9zM69.4 325.2h0.9v0.9h-0.9zM106.8 317.5h0.9v0.9h-0.9zM66.3 330.3h0.9v0.9h-0.9zM64.1 334.6h0.9v0.9h-0.9zM89.7 323.4h0.9v0.9h-0.9zM46.5 336.4h0.9v0.9h-0.9zM78.3 325.5h0.9v0.9h-0.9zM57.8 333.4h0.9v0.9h-0.9zM47.3 328.7h0.9v0.9h-0.9zM73.6 324.4h0.9v0.9h-0.9zM78.8 332.2h0.9v0.9h-0.9zM73.0 328.2h0.9v0.9h-0.9zM64.6 335.8h0.9v0.9h-0.9zM76.8 324.6h0.9v0.9h-0.9zM79.0 320.4h0.9v0.9h-0.9zM77.1 325.3h0.9v0.9h-0.9zM100.4 316.4h0.9v0.9h-0.9zM90.1 318.8h0.9v0.9h-0.9zM64.0 335.3h0.9v0.9h-0.9zM68.3 334.5h0.9v0.9h-0.9zM61.7 329.8h0.9v0.9h-0.9zM80.8 331.6h0.9v0.9h-0.9zM92.8 323.6h0.9v0.9h-0.9zM98.6 314.3h0.9v0.9h-0.9zM80.1 328.8h0.9v0.9h-0.9zM67.8 331.1h0.9v0.9h-0.9zM60.6 332.6h0.9v0.9h-0.9zM50.3 331.0h0.9v0.9h-0.9zM102.7 318.3h0.9v0.9h-0.9zM70.5 326.2h0.9v0.9h-0.9zM71.0 334.8h0.9v0.9h-0.9zM102.7 313.3h0.9v0.9h-0.9zM65.4 325.6h0.9v0.9h-0.9zM75.7 328.4h0.9v0.9h-0.9zM81.7 320.7h0.9v0.9h-0.9zM55.6 331.3h0.9v0.9h-0.9zM81.1 321.5h0.9v0.9h-0.9zM46.9 335.9h0.9v0.9h-0.9zM68.4 330.2h0.9v0.9h-0.9zM74.6 325.0h0.9v0.9h-0.9zM86.6 325.2h0.9v0.9h-0.9zM74.7 324.9h0.9v0.9h-0.9zM61.0 337.3h0.9v0.9h-0.9zM77.9 329.1h0.9v0.9h-0.9zM91.7 315.5h0.9v0.9h-0.9zM70.3 335.8h0.9v0.9h-0.9zM60.2 333.9h0.9v0.9h-0.9zM59.7 330.1h0.9v0.9h-0.9zM95.6 319.9h0.9v0.9h-0.9zM82.8 327.1h0.9v0.9h-0.9zM76.6 329.6h0.9v0.9h-0.9zM80.9 329.1h0.9v0.9h-0.9zM94.2 315.8h0.9v0.9h-0.9zM71.7 329.4h0.9v0.9h-0.9zM56.5 332.0h0.9v0.9h-0.9zM91.5 315.8h0.9v0.9h-0.9zM41.9 336.9h0.9v0.9h-0.9zM70.5 325.3h0.9v0.9h-0.9zM94.9 321.1h0.9v0.9h-0.9zM99.6 317.0h0.9v0.9h-0.9zM76.3 327.9h0.9v0.9h-0.9zM75.7 326.7h0.9v0.9h-0.9zM75.3 327.6h0.9v0.9h-0.9zM73.6 329.4h0.9v0.9h-0.9zM74.4 324.7h0.9v0.9h-0.9zM97.6 318.2h0.9v0.9h-0.9zM84.2 323.2h0.9v0.9h-0.9zM102.0 315.3h0.9v0.9h-0.9zM84.4 320.3h0.9v0.9h-0.9zM71.9 329.3h0.9v0.9h-0.9zM73.8 329.8h0.9v0.9h-0.9zM111.7 319.8h0.9v0.9h-0.9zM68.2 330.5h0.9v0.9h-0.9zM92.8 321.5h0.9v0.9h-0.9zM61.6 328.5h0.9v0.9h-0.9zM85.2 323.2h0.9v0.9h-0.9zM73.2 332.2h0.9v0.9h-0.9zM72.8 334.9h0.9v0.9h-0.9zM64.8 332.8h0.9v0.9h-0.9zM67.8 335.6h0.9v0.9h-0.9zM81.3 330.7h0.9v0.9h-0.9zM100.0 325.2h0.9v0.9h-0.9zM83.8 326.7h0.9v0.9h-0.9zM63.2 329.7h0.9v0.9h-0.9zM83.9 324.6h0.9v0.9h-0.9zM75.2 325.4h0.9v0.9h-0.9zM110.7 313.9h0.9v0.9h-0.9zM40.2 337.5h0.9v0.9h-0.9zM71.5 326.7h0.9v0.9h-0.9zM90.2 316.7h0.9v0.9h-0.9zM106.6 319.5h0.9v0.9h-0.9zM95.1 317.5h0.9v0.9h-0.9zM70.6 329.3h0.9v0.9h-0.9zM102.4 318.8h0.9v0.9h-0.9zM100.5 316.8h0.9v0.9h-0.9zM71.0 325.1h0.9v0.9h-0.9zM77.8 324.2h0.9v0.9h-0.9zM62.6 328.3h0.9v0.9h-0.9zM72.7 328.5h0.9v0.9h-0.9zM97.2 316.8h0.9v0.9h-0.9zM61.0 336.3h0.9v0.9h-0.9zM94.8 318.6h0.9v0.9h-0.9zM83.1 326.0h0.9v0.9h-0.9zM81.8 321.5h0.9v0.9h-0.9zM66.3 324.4h0.9v0.9h-0.9zM88.3 321.1h0.9v0.9h-0.9zM76.3 330.0h0.9v0.9h-0.9zM75.5 330.3h0.9v0.9h-0.9zM54.6 338.9h0.9v0.9h-0.9zM77.2 325.0h0.9v0.9h-0.9zM71.1 327.4h0.9v0.9h-0.9zM90.2 321.9h0.9v0.9h-0.9zM78.7 324.6h0.9v0.9h-0.9zM76.6 328.4h0.9v0.9h-0.9zM70.2 331.8h0.9v0.9h-0.9zM69.0 332.6h0.9v0.9h-0.9zM65.3 328.1h0.9v0.9h-0.9zM89.2 326.9h0.9v0.9h-0.9zM53.0 328.9h0.9v0.9h-0.9zM54.5 333.7h0.9v0.9h-0.9zM80.2 323.3h0.9v0.9h-0.9zM98.4 318.2h0.9v0.9h-0.9zM81.5 323.7h0.9v0.9h-0.9zM75.4 330.8h0.9v0.9h-0.9zM82.4 326.8h0.9v0.9h-0.9zM67.0 326.2h0.9v0.9h-0.9zM79.3 325.4h0.9v0.9h-0.9zM92.3 321.9h0.9v0.9h-0.9zM72.1 331.5h0.9v0.9h-0.9zM87.4 318.4h0.9v0.9h-0.9zM69.0 321.8h0.9v0.9h-0.9zM80.7 330.8h0.9v0.9h-0.9zM80.2 322.0h0.9v0.9h-0.9zM39.2 339.5h0.9v0.9h-0.9zM94.9 319.1h0.9v0.9h-0.9zM86.8 327.4h0.9v0.9h-0.9zM83.8 326.3h0.9v0.9h-0.9zM80.4 329.2h0.9v0.9h-0.9zM74.1 332.0h0.9v0.9h-0.9zM97.0 320.6h0.9v0.9h-0.9zM75.9 326.0h0.9v0.9h-0.9zM90.6 325.9h0.9v0.9h-0.9zM51.5 339.3h0.9v0.9h-0.9zM106.0 316.6h0.9v0.9h-0.9zM77.1 320.1h0.9v0.9h-0.9zM79.6 323.4h0.9v0.9h-0.9zM61.1 333.9h0.9v0.9h-0.9zM61.9 330.5h0.9v0.9h-0.9zM83.1 327.4h0.9v0.9h-0.9zM94.6 320.2h0.9v0.9h-0.9zM64.7 332.3h0.9v0.9h-0.9zM64.4 334.1h0.9v0.9h-0.9zM77.8 332.2h0.9v0.9h-0.9zM78.1 324.4h0.9v0.9h-0.9zM93.4 325.2h0.9v0.9h-0.9zM56.3 334.1h0.9v0.9h-0.9zM64.3 325.3h0.9v0.9h-0.9zM89.0 323.8h0.9v0.9h-0.9zM56.4 329.6h0.9v0.9h-0.9zM65.8 334.0h0.9v0.9h-0.9zM69.0 328.2h0.9v0.9h-0.9zM70.4 325.0h0.9v0.9h-0.9zM86.4 324.7h0.9v0.9h-0.9zM84.3 322.5h0.9v0.9h-0.9zM68.2 328.8h0.9v0.9h-0.9zM82.8 322.3h0.9v0.9h-0.9zM72.7 326.4h0.9v0.9h-0.9zM75.8 323.6h0.9v0.9h-0.9zM61.8 335.0h0.9v0.9h-0.9zM86.4 326.9h0.9v0.9h-0.9zM69.2 326.5h0.9v0.9h-0.9zM92.3 316.4h0.9v0.9h-0.9zM55.0 337.3h0.9v0.9h-0.9zM93.7 324.6h0.9v0.9h-0.9zM58.4 335.3h0.9v0.9h-0.9zM83.2 328.1h0.9v0.9h-0.9zM59.6 335.7h0.9v0.9h-0.9zM61.8 332.4h0.9v0.9h-0.9zM85.8 322.3h0.9v0.9h-0.9zM50.0 334.0h0.9v0.9h-0.9zM89.2 321.6h0.9v0.9h-0.9zM87.9 327.4h0.9v0.9h-0.9zM51.0 332.3h0.9v0.9h-0.9zM85.5 324.2h0.9v0.9h-0.9zM74.5 328.7h0.9v0.9h-0.9zM78.1 325.8h0.9v0.9h-0.9zM75.4 326.9h0.9v0.9h-0.9zM91.0 318.6h0.9v0.9h-0.9zM101.0 316.1h0.9v0.9h-0.9zM81.7 327.3h0.9v0.9h-0.9zM98.1 321.0h0.9v0.9h-0.9zM67.3 325.5h0.9v0.9h-0.9zM111.8 313.2h0.9v0.9h-0.9zM59.8 326.9h0.9v0.9h-0.9zM59.7 332.6h0.9v0.9h-0.9zM70.7 329.0h0.9v0.9h-0.9zM87.0 318.1h0.9v0.9h-0.9zM92.8 325.4h0.9v0.9h-0.9zM51.3 331.4h0.9v0.9h-0.9zM81.3 329.0h0.9v0.9h-0.9zM80.6 319.4h0.9v0.9h-0.9zM115.7 314.4h0.9v0.9h-0.9zM69.8 322.6h0.9v0.9h-0.9zM54.9 332.9h0.9v0.9h-0.9zM49.9 332.1h0.9v0.9h-0.9zM73.9 328.6h0.9v0.9h-0.9zM83.3 321.2h0.9v0.9h-0.9zM79.7 324.6h0.9v0.9h-0.9zM75.6 327.7h0.9v0.9h-0.9zM63.5 328.0h0.9v0.9h-0.9zM75.3 324.9h0.9v0.9h-0.9zM77.4 327.0h0.9v0.9h-0.9zM75.6 328.2h0.9v0.9h-0.9zM58.1 327.3h0.9v0.9h-0.9zM71.9 335.2h0.9v0.9h-0.9zM74.2 331.1h0.9v0.9h-0.9zM42.8 334.1h0.9v0.9h-0.9zM74.9 324.3h0.9v0.9h-0.9zM78.5 324.5h0.9v0.9h-0.9zM79.0 327.4h0.9v0.9h-0.9zM61.9 334.5h0.9v0.9h-0.9zM73.4 331.3h0.9v0.9h-0.9zM81.7 328.5h0.9v0.9h-0.9zM87.5 318.5h0.9v0.9h-0.9zM81.0 325.4h0.9v0.9h-0.9zM56.3 333.5h0.9v0.9h-0.9zM87.4 324.4h0.9v0.9h-0.9zM99.6 317.3h0.9v0.9h-0.9zM70.6 322.6h0.9v0.9h-0.9zM36.8 339.7h0.9v0.9h-0.9zM92.1 329.2h0.9v0.9h-0.9zM92.4 320.6h0.9v0.9h-0.9zM78.4 329.9h0.9v0.9h-0.9zM70.5 328.5h0.9v0.9h-0.9zM93.9 319.0h0.9v0.9h-0.9zM89.4 321.7h0.9v0.9h-0.9zM76.7 325.7h0.9v0.9h-0.9zM75.6 329.7h0.9v0.9h-0.9zM79.6 323.8h0.9v0.9h-0.9zM90.7 314.8h0.9v0.9h-0.9zM80.3 328.1h0.9v0.9h-0.9zM60.1 334.4h0.9v0.9h-0.9zM67.5 328.4h0.9v0.9h-0.9zM79.4 324.9h0.9v0.9h-0.9zM83.8 326.3h0.9v0.9h-0.9zM69.0 330.6h0.9v0.9h-0.9zM87.4 319.1h0.9v0.9h-0.9zM69.2 333.9h0.9v0.9h-0.9zM94.7 328.4h0.9v0.9h-0.9zM102.5 316.8h0.9v0.9h-0.9zM88.4 318.6h0.9v0.9h-0.9zM79.7 328.9h0.9v0.9h-0.9zM87.3 327.2h0.9v0.9h-0.9zM43.7 335.7h0.9v0.9h-0.9zM97.1 313.7h0.9v0.9h-0.9zM61.9 327.3h0.9v0.9h-0.9zM60.8 330.7h0.9v0.9h-0.9zM68.6 325.7h0.9v0.9h-0.9zM60.6 330.8h0.9v0.9h-0.9zM74.7 325.6h0.9v0.9h-0.9zM69.0 323.6h0.9v0.9h-0.9zM74.5 328.2h0.9v0.9h-0.9zM94.0 324.5h0.9v0.9h-0.9zM78.7 318.5h0.9v0.9h-0.9zM65.5 329.5h0.9v0.9h-0.9zM71.4 326.6h0.9v0.9h-0.9zM61.3 329.3h0.9v0.9h-0.9zM89.9 321.4h0.9v0.9h-0.9zM56.8 329.9h0.9v0.9h-0.9zM69.2 331.6h0.9v0.9h-0.9zM98.8 316.6h0.9v0.9h-0.9zM68.7 325.5h0.9v0.9h-0.9zM77.3 327.2h0.9v0.9h-0.9zM82.1 324.3h0.9v0.9h-0.9zM77.6 326.2h0.9v0.9h-0.9zM88.8 320.1h0.9v0.9h-0.9zM79.4 331.5h0.9v0.9h-0.9zM83.8 324.0h0.9v0.9h-0.9zM61.5 332.9h0.9v0.9h-0.9zM76.9 330.9h0.9v0.9h-0.9zM69.3 326.8h0.9v0.9h-0.9zM74.6 326.4h0.9v0.9h-0.9zM53.8 331.9h0.9v0.9h-0.9zM67.4 336.1h0.9v0.9h-0.9zM80.8 321.5h0.9v0.9h-0.9zM63.8 327.0h0.9v0.9h-0.9zM81.4 320.3h0.9v0.9h-0.9zM99.5 323.6h0.9v0.9h-0.9zM79.8 328.4h0.9v0.9h-0.9zM75.3 324.1h0.9v0.9h-0.9zM83.1 321.0h0.9v0.9h-0.9zM64.0 338.6h0.9v0.9h-0.9zM66.5 327.6h0.9v0.9h-0.9zM58.8 332.8h0.9v0.9h-0.9zM61.4 329.3h0.9v0.9h-0.9zM103.1 324.6h0.9v0.9h-0.9zM62.6 328.8h0.9v0.9h-0.9zM73.2 322.4h0.9v0.9h-0.9zM70.0 329.1h0.9v0.9h-0.9zM68.9 329.9h0.9v0.9h-0.9zM70.3 327.3h0.9v0.9h-0.9zM70.9 325.7h0.9v0.9h-0.9zM78.0 319.2h0.9v0.9h-0.9zM69.5 325.6h0.9v0.9h-0.9zM83.1 330.0h0.9v0.9h-0.9zM70.8 322.5h0.9v0.9h-0.9zM72.1 332.1h0.9v0.9h-0.9zM74.7 334.7h0.9v0.9h-0.9zM101.7 321.3h0.9v0.9h-0.9zM57.9 334.4h0.9v0.9h-0.9zM74.4 331.4h0.9v0.9h-0.9zM86.9 326.7h0.9v0.9h-0.9zM81.8 319.7h0.9v0.9h-0.9zM61.4 333.9h0.9v0.9h-0.9zM58.1 329.8h0.9v0.9h-0.9zM72.1 320.9h0.9v0.9h-0.9zM93.5 323.4h0.9v0.9h-0.9zM85.3 320.3h0.9v0.9h-0.9zM74.6 328.0h0.9v0.9h-0.9zM68.7 324.8h0.9v0.9h-0.9zM73.2 331.1h0.9v0.9h-0.9zM73.6 329.5h0.9v0.9h-0.9zM54.5 333.5h0.9v0.9h-0.9zM53.9 331.6h0.9v0.9h-0.9zM73.4 325.0h0.9v0.9h-0.9zM103.3 316.8h0.9v0.9h-0.9zM78.0 323.5h0.9v0.9h-0.9zM48.6 333.2h0.9v0.9h-0.9zM59.9 334.5h0.9v0.9h-0.9zM74.6 328.2h0.9v0.9h-0.9zM61.8 335.3h0.9v0.9h-0.9zM79.6 328.1h0.9v0.9h-0.9zM63.2 327.2h0.9v0.9h-0.9zM63.9 331.4h0.9v0.9h-0.9zM55.0 331.3h0.9v0.9h-0.9zM79.9 320.3h0.9v0.9h-0.9zM80.3 325.3h0.9v0.9h-0.9zM80.8 323.7h0.9v0.9h-0.9zM85.7 324.3h0.9v0.9h-0.9zM73.0 326.1h0.9v0.9h-0.9zM93.7 322.2h0.9v0.9h-0.9zM60.3 331.8h0.9v0.9h-0.9zM86.6 323.4h0.9v0.9h-0.9zM70.7 332.1h0.9v0.9h-0.9zM70.5 334.6h0.9v0.9h-0.9zM65.2 329.3h0.9v0.9h-0.9zM81.6 317.5h0.9v0.9h-0.9zM76.8 320.9h0.9v0.9h-0.9zM93.1 324.4h0.9v0.9h-0.9zM64.6 336.8h0.9v0.9h-0.9zM79.9 328.0h0.9v0.9h-0.9zM63.8 336.3h0.9v0.9h-0.9zM83.3 322.7h0.9v0.9h-0.9zM96.0 317.3h0.9v0.9h-0.9zM63.8 335.6h0.9v0.9h-0.9zM93.0 322.9h0.9v0.9h-0.9zM62.1 333.7h0.9v0.9h-0.9zM98.6 320.4h0.9v0.9h-0.9zM78.6 325.6h0.9v0.9h-0.9zM82.6 318.6h0.9v0.9h-0.9zM61.8 335.9h0.9v0.9h-0.9zM100.2 318.6h0.9v0.9h-0.9zM74.2 324.9h0.9v0.9h-0.9zM69.3 327.6h0.9v0.9h-0.9zM91.8 323.8h0.9v0.9h-0.9zM64.6 328.7h0.9v0.9h-0.9zM71.4 324.6h0.9v0.9h-0.9zM71.6 329.7h0.9v0.9h-0.9zM66.2 333.3h0.9v0.9h-0.9zM93.5 323.4h0.9v0.9h-0.9zM102.0 319.9h0.9v0.9h-0.9zM63.3 332.6h0.9v0.9h-0.9zM99.4 317.4h0.9v0.9h-0.9zM90.5 314.8h0.9v0.9h-0.9zM71.4 328.0h0.9v0.9h-0.9zM85.5 321.2h0.9v0.9h-0.9zM107.7 320.5h0.9v0.9h-0.9zM67.1 328.4h0.9v0.9h-0.9zM69.1 330.5h0.9v0.9h-0.9zM63.4 334.3h0.9v0.9h-0.9zM90.4 317.4h0.9v0.9h-0.9zM66.9 334.5h0.9v0.9h-0.9zM76.3 330.8h0.9v0.9h-0.9zM84.8 317.8h0.9v0.9h-0.9zM73.4 328.0h0.9v0.9h-0.9zM95.5 324.1h0.9v0.9h-0.9zM77.2 323.6h0.9v0.9h-0.9zM95.5 319.6h0.9v0.9h-0.9zM82.4 324.7h0.9v0.9h-0.9zM80.1 324.0h0.9v0.9h-0.9zM68.1 327.9h0.9v0.9h-0.9zM79.4 316.4h0.9v0.9h-0.9zM88.1 318.3h0.9v0.9h-0.9zM54.3 333.6h0.9v0.9h-0.9zM40.7 335.9h0.9v0.9h-0.9zM48.6 336.7h0.9v0.9h-0.9zM52.0 331.0h0.9v0.9h-0.9zM40.7 335.3h0.9v0.9h-0.9zM34.3 333.6h0.9v0.9h-0.9zM45.1 334.2h0.9v0.9h-0.9zM39.0 329.5h0.9v0.9h-0.9zM41.0 328.9h0.9v0.9h-0.9zM46.1 331.8h0.9v0.9h-0.9zM35.2 331.6h0.9v0.9h-0.9zM36.3 327.2h0.9v0.9h-0.9zM47.3 332.5h0.9v0.9h-0.9zM42.6 330.7h0.9v0.9h-0.9zM44.6 339.1h0.9v0.9h-0.9zM41.2 335.8h0.9v0.9h-0.9zM34.8 330.8h0.9v0.9h-0.9zM46.5 338.1h0.9v0.9h-0.9zM37.9 333.3h0.9v0.9h-0.9zM42.4 326.2h0.9v0.9h-0.9zM42.8 334.0h0.9v0.9h-0.9zM34.3 334.4h0.9v0.9h-0.9zM42.4 331.6h0.9v0.9h-0.9zM41.6 331.8h0.9v0.9h-0.9zM38.0 336.4h0.9v0.9h-0.9zM47.5 335.2h0.9v0.9h-0.9zM37.0 332.8h0.9v0.9h-0.9zM39.2 337.3h0.9v0.9h-0.9zM38.7 339.2h0.9v0.9h-0.9zM39.6 337.4h0.9v0.9h-0.9zM35.9 333.4h0.9v0.9h-0.9zM39.0 334.4h0.9v0.9h-0.9zM41.7 335.7h0.9v0.9h-0.9zM42.6 338.0h0.9v0.9h-0.9zM45.1 328.0h0.9v0.9h-0.9zM45.5 337.2h0.9v0.9h-0.9zM38.4 327.4h0.9v0.9h-0.9zM39.7 335.5h0.9v0.9h-0.9zM37.5 337.7h0.9v0.9h-0.9zM37.3 331.6h0.9v0.9h-0.9zM34.4 334.0h0.9v0.9h-0.9zM40.7 329.9h0.9v0.9h-0.9zM44.5 330.4h0.9v0.9h-0.9zM37.7 335.1h0.9v0.9h-0.9zM37.4 332.9h0.9v0.9h-0.9zM35.2 333.0h0.9v0.9h-0.9zM34.3 339.6h0.9v0.9h-0.9zM40.6 338.2h0.9v0.9h-0.9zM47.7 333.3h0.9v0.9h-0.9zM43.7 332.0h0.9v0.9h-0.9zM40.0 335.2h0.9v0.9h-0.9zM36.7 337.2h0.9v0.9h-0.9zM44.2 328.8h0.9v0.9h-0.9zM38.1 336.8h0.9v0.9h-0.9zM49.4 333.1h0.9v0.9h-0.9zM39.1 336.2h0.9v0.9h-0.9zM42.0 335.5h0.9v0.9h-0.9zM35.6 333.2h0.9v0.9h-0.9zM45.2 331.2h0.9v0.9h-0.9zM42.2 333.3h0.9v0.9h-0.9zM42.3 338.6h0.9v0.9h-0.9zM48.1 327.5h0.9v0.9h-0.9zM35.5 334.9h0.9v0.9h-0.9zM36.4 335.0h0.9v0.9h-0.9zM38.1 335.9h0.9v0.9h-0.9zM38.0 334.3h0.9v0.9h-0.9zM42.2 339.4h0.9v0.9h-0.9zM45.2 333.1h0.9v0.9h-0.9zM45.9 326.8h0.9v0.9h-0.9zM35.0 332.8h0.9v0.9h-0.9zM43.5 329.5h0.9v0.9h-0.9zM44.1 330.7h0.9v0.9h-0.9zM43.2 332.2h0.9v0.9h-0.9zM34.9 334.8h0.9v0.9h-0.9zM46.7 333.9h0.9v0.9h-0.9zM41.9 339.4h0.9v0.9h-0.9zM36.0 333.6h0.9v0.9h-0.9zM40.1 333.0h0.9v0.9h-0.9zM40.9 332.8h0.9v0.9h-0.9zM39.7 336.3h0.9v0.9h-0.9zM37.0 334.4h0.9v0.9h-0.9zM37.5 332.0h0.9v0.9h-0.9zM41.8 332.7h0.9v0.9h-0.9zM39.7 332.3h0.9v0.9h-0.9zM41.2 331.0h0.9v0.9h-0.9zM49.8 330.5h0.9v0.9h-0.9zM47.3 325.3h0.9v0.9h-0.9zM39.7 327.1h0.9v0.9h-0.9zM45.6 329.4h0.9v0.9h-0.9zM40.4 323.5h0.9v0.9h-0.9zM44.0 330.4h0.9v0.9h-0.9zM39.5 336.1h0.9v0.9h-0.9zM37.0 327.2h0.9v0.9h-0.9zM37.1 327.5h0.9v0.9h-0.9zM36.5 331.3h0.9v0.9h-0.9zM38.8 335.7h0.9v0.9h-0.9zM42.7 333.9h0.9v0.9h-0.9zM41.8 334.4h0.9v0.9h-0.9zM35.9 332.4h0.9v0.9h-0.9zM48.1 337.1h0.9v0.9h-0.9zM38.9 334.3h0.9v0.9h-0.9zM38.9 336.6h0.9v0.9h-0.9zM35.9 334.4h0.9v0.9h-0.9zM40.6 332.9h0.9v0.9h-0.9zM35.2 331.5h0.9v0.9h-0.9zM34.4 329.8h0.9v0.9h-0.9zM40.7 335.9h0.9v0.9h-0.9zM39.6 335.1h0.9v0.9h-0.9zM38.0 337.6h0.9v0.9h-0.9zM38.8 335.2h0.9v0.9h-0.9zM43.9 333.2h0.9v0.9h-0.9zM37.4 336.1h0.9v0.9h-0.9zM39.6 336.4h0.9v0.9h-0.9zM41.6 333.1h0.9v0.9h-0.9zM39.3 333.0h0.9v0.9h-0.9zM41.5 333.5h0.9v0.9h-0.9zM43.1 325.9h0.9v0.9h-0.9zM38.5 335.2h0.9v0.9h-0.9zM49.3 328.4h0.9v0.9h-0.9zM39.9 333.5h0.9v0.9h-0.9zM41.1 335.2h0.9v0.9h-0.9zM39.7 335.5h0.9v0.9h-0.9zM34.4 327.2h0.9v0.9h-0.9zM35.2 331.7h0.9v0.9h-0.9zM39.1 338.6h0.9v0.9h-0.9zM42.5 339.6h0.9v0.9h-0.9zM43.6 337.9h0.9v0.9h-0.9zM39.8 322.8h0.9v0.9h-0.9zM37.5 329.7h0.9v0.9h-0.9zM50.4 332.4h0.9v0.9h-0.9zM39.4 329.2h0.9v0.9h-0.9zM48.7 334.0h0.9v0.9h-0.9zM41.0 339.2h0.9v0.9h-0.9zM47.6 332.6h0.9v0.9h-0.9zM35.6 329.8h0.9v0.9h-0.9zM34.1 337.3h0.9v0.9h-0.9zM44.6 337.2h0.9v0.9h-0.9zM47.6 333.1h0.9v0.9h-0.9zM43.9 330.8h0.9v0.9h-0.9zM41.7 339.4h0.9v0.9h-0.9zM44.2 337.5h0.9v0.9h-0.9zM38.1 332.6h0.9v0.9h-0.9zM45.4 329.8h0.9v0.9h-0.9zM37.6 331.1h0.9v0.9h-0.9zM45.2 333.1h0.9v0.9h-0.9zM49.0 337.5h0.9v0.9h-0.9zM41.9 331.0h0.9v0.9h-0.9zM38.9 335.5h0.9v0.9h-0.9zM36.0 335.4h0.9v0.9h-0.9zM46.6 327.6h0.9v0.9h-0.9zM40.5 330.0h0.9v0.9h-0.9zM44.6 335.0h0.9v0.9h-0.9zM37.0 337.9h0.9v0.9h-0.9zM38.9 333.4h0.9v0.9h-0.9zM40.5 330.3h0.9v0.9h-0.9zM45.8 334.8h0.9v0.9h-0.9zM45.4 331.5h0.9v0.9h-0.9zM47.2 328.5h0.9v0.9h-0.9zM41.4 334.4h0.9v0.9h-0.9zM40.3 331.4h0.9v0.9h-0.9zM39.0 331.5h0.9v0.9h-0.9zM39.1 331.4h0.9v0.9h-0.9zM46.1 338.0h0.9v0.9h-0.9zM44.6 336.7h0.9v0.9h-0.9zM36.5 334.5h0.9v0.9h-0.9zM39.4 338.4h0.9v0.9h-0.9zM39.3 325.2h0.9v0.9h-0.9zM43.8 330.3h0.9v0.9h-0.9zM36.5 339.4h0.9v0.9h-0.9zM36.7 330.6h0.9v0.9h-0.9zM43.7 336.0h0.9v0.9h-0.9zM49.1 334.7h0.9v0.9h-0.9zM41.8 333.4h0.9v0.9h-0.9zM42.8 329.4h0.9v0.9h-0.9zM43.8 328.1h0.9v0.9h-0.9zM34.4 327.2h0.9v0.9h-0.9zM42.9 335.9h0.9v0.9h-0.9zM47.3 334.0h0.9v0.9h-0.9zM45.0 335.4h0.9v0.9h-0.9zM39.0 329.5h0.9v0.9h-0.9zM36.2 334.3h0.9v0.9h-0.9zM36.7 338.6h0.9v0.9h-0.9zM45.7 331.0h0.9v0.9h-0.9zM37.0 332.1h0.9v0.9h-0.9zM40.5 332.6h0.9v0.9h-0.9zM38.5 338.7h0.9v0.9h-0.9zM36.3 333.2h0.9v0.9h-0.9zM37.9 335.4h0.9v0.9h-0.9zM45.5 324.5h0.9v0.9h-0.9zM43.4 334.6h0.9v0.9h-0.9zM34.5 334.3h0.9v0.9h-0.9zM43.7 334.6h0.9v0.9h-0.9zM35.5 325.3h0.9v0.9h-0.9zM43.8 335.4h0.9v0.9h-0.9zM45.1 332.2h0.9v0.9h-0.9zM45.0 328.8h0.9v0.9h-0.9zM48.5 331.5h0.9v0.9h-0.9zM35.7 331.2h0.9v0.9h-0.9zM37.6 339.6h0.9v0.9h-0.9zM37.7 336.0h0.9v0.9h-0.9zM44.6 333.8h0.9v0.9h-0.9zM42.3 329.9h0.9v0.9h-0.9zM36.0 330.2h0.9v0.9h-0.9zM37.9 338.3h0.9v0.9h-0.9zM34.1 333.7h0.9v0.9h-0.9zM38.3 334.7h0.9v0.9h-0.9zM49.2 337.1h0.9v0.9h-0.9zM44.0 336.7h0.9v0.9h-0.9zM38.4 332.2h0.9v0.9h-0.9zM39.4 334.9h0.9v0.9h-0.9zM44.0 332.9h0.9v0.9h-0.9zM40.0 335.9h0.9v0.9h-0.9zM46.3 327.5h0.9v0.9h-0.9zM41.0 332.8h0.9v0.9h-0.9zM51.4 339.0h0.9v0.9h-0.9zM43.4 328.5h0.9v0.9h-0.9zM34.8 330.9h0.9v0.9h-0.9zM35.2 334.5h0.9v0.9h-0.9zM37.6 328.6h0.9v0.9h-0.9zM48.8 333.9h0.9v0.9h-0.9zM38.6 334.8h0.9v0.9h-0.9zM44.7 336.7h0.9v0.9h-0.9zM42.7 334.8h0.9v0.9h-0.9zM34.9 331.8h0.9v0.9h-0.9zM37.8 334.6h0.9v0.9h-0.9zM40.1 334.7h0.9v0.9h-0.9zM51.6 336.6h0.9v0.9h-0.9zM34.6 336.7h0.9v0.9h-0.9zM37.7 336.4h0.9v0.9h-0.9zM48.4 334.7h0.9v0.9h-0.9zM44.7 334.0h0.9v0.9h-0.9zM42.2 336.4h0.9v0.9h-0.9zM45.4 338.7h0.9v0.9h-0.9zM35.2 331.7h0.9v0.9h-0.9zM40.2 336.3h0.9v0.9h-0.9zM36.5 333.2h0.9v0.9h-0.9zM36.5 333.0h0.9v0.9h-0.9zM48.6 329.6h0.9v0.9h-0.9zM45.0 332.6h0.9v0.9h-0.9zM36.1 336.2h0.9v0.9h-0.9zM34.2 335.7h0.9v0.9h-0.9zM43.9 337.1h0.9v0.9h-0.9zM41.3 331.0h0.9v0.9h-0.9zM38.6 324.7h0.9v0.9h-0.9zM41.4 336.6h0.9v0.9h-0.9zM36.6 336.4h0.9v0.9h-0.9zM46.3 338.0h0.9v0.9h-0.9zM40.2 325.0h0.9v0.9h-0.9zM35.3 331.6h0.9v0.9h-0.9zM36.6 332.3h0.9v0.9h-0.9zM42.0 330.6h0.9v0.9h-0.9zM37.7 332.3h0.9v0.9h-0.9zM38.5 338.1h0.9v0.9h-0.9zM43.9 326.3h0.9v0.9h-0.9zM38.8 331.3h0.9v0.9h-0.9zM39.1 327.9h0.9v0.9h-0.9zM36.9 329.1h0.9v0.9h-0.9zM43.2 333.7h0.9v0.9h-0.9zM39.5 333.0h0.9v0.9h-0.9zM44.3 333.3h0.9v0.9h-0.9zM55.5 331.8h0.9v0.9h-0.9zM38.6 333.3h0.9v0.9h-0.9zM43.2 335.7h0.9v0.9h-0.9zM38.5 330.4h0.9v0.9h-0.9zM36.6 334.2h0.9v0.9h-0.9zM36.3 331.7h0.9v0.9h-0.9zM38.4 337.5h0.9v0.9h-0.9zM40.5 338.7h0.9v0.9h-0.9zM48.8 336.4h0.9v0.9h-0.9zM42.1 337.9h0.9v0.9h-0.9zM37.5 331.8h0.9v0.9h-0.9zM45.1 332.4h0.9v0.9h-0.9zM35.8 334.6h0.9v0.9h-0.9zM43.7 332.6h0.9v0.9h-0.9zM41.4 336.3h0.9v0.9h-0.9zM37.6 333.1h0.9v0.9h-0.9zM42.5 328.6h0.9v0.9h-0.9zM45.8 329.7h0.9v0.9h-0.9zM43.4 334.9h0.9v0.9h-0.9zM39.6 327.5h0.9v0.9h-0.9zM38.7 334.8h0.9v0.9h-0.9zM43.8 328.4h0.9v0.9h-0.9zM41.5 333.7h0.9v0.9h-0.9zM48.6 333.7h0.9v0.9h-0.9zM36.9 332.7h0.9v0.9h-0.9zM38.2 337.2h0.9v0.9h-0.9zM43.4 337.3h0.9v0.9h-0.9zM42.0 338.3h0.9v0.9h-0.9zM36.3 332.8h0.9v0.9h-0.9zM43.0 337.2h0.9v0.9h-0.9zM40.7 334.5h0.9v0.9h-0.9zM36.6 327.8h0.9v0.9h-0.9zM38.7 333.9h0.9v0.9h-0.9zM39.4 338.0h0.9v0.9h-0.9zM39.1 325.1h0.9v0.9h-0.9z" fill="#2020f5" fill-opacity="0.9"/>
<g filter="url(#b2)">
<ellipse cx="66" cy="332" rx="22" ry="4.5" transform="rotate(-20 66 332)" fill="#1a1af0" opacity="0.6"/>
<ellipse cx="40" cy="334" rx="7" ry="6" fill="#1a1af0" opacity="0.75"/>
</g>
<g filter="url(#b1)">
<ellipse cx="60" cy="333.8" rx="12" ry="2.8" transform="rotate(-19 60 333.8)" fill="#1fd0ff" opacity="0.9"/>
<ellipse cx="39" cy="335.5" rx="5.5" ry="4.2" fill="#1fd0ff" opacity="0.9"/>
<ellipse cx="53.5" cy="336.2" rx="3.4" ry="1.7" transform="rotate(-15 53.5 336.2)" fill="#3cff3c"/>
<ellipse cx="37" cy="337.6" rx="2.8" ry="2.2" fill="#3cff3c"/>
<ellipse cx="35.6" cy="338.6" rx="1.4" ry="1.1" fill="#ff9020"/>
</g>
<rect x="34" y="284.5" width="87" height="28.6" fill="#fff" fill-opacity="0.82"/>
</g>
<ellipse cx="78.4" cy="325.9" rx="35.2" ry="6.0" transform="rotate(-20.5 78.4 325.9)" fill="none" stroke="#111" stroke-width="0.9"/>
<line x1="30.4" y1="250.5" x2="33.4" y2="250.5" stroke="#4a4a4a" stroke-width="0.9" />
<line x1="30.4" y1="278.7" x2="33.4" y2="278.7" stroke="#4a4a4a" stroke-width="0.9" />
<line x1="30.4" y1="309.2" x2="33.4" y2="309.2" stroke="#4a4a4a" stroke-width="0.9" />
<line x1="30.4" y1="339.7" x2="33.4" y2="339.7" stroke="#4a4a4a" stroke-width="0.9" />
<line x1="31.8" y1="260" x2="33.4" y2="260" stroke="#4a4a4a" stroke-width="0.7" />
<line x1="31.8" y1="268" x2="33.4" y2="268" stroke="#4a4a4a" stroke-width="0.7" />
<line x1="31.8" y1="274" x2="33.4" y2="274" stroke="#4a4a4a" stroke-width="0.7" />
<line x1="31.8" y1="288" x2="33.4" y2="288" stroke="#4a4a4a" stroke-width="0.7" />
<line x1="31.8" y1="295" x2="33.4" y2="295" stroke="#4a4a4a" stroke-width="0.7" />
<line x1="31.8" y1="300" x2="33.4" y2="300" stroke="#4a4a4a" stroke-width="0.7" />
<line x1="31.8" y1="318" x2="33.4" y2="318" stroke="#4a4a4a" stroke-width="0.7" />
<line x1="31.8" y1="327" x2="33.4" y2="327" stroke="#4a4a4a" stroke-width="0.7" />
<line x1="31.8" y1="333" x2="33.4" y2="333" stroke="#4a4a4a" stroke-width="0.7" />
<line x1="31.8" y1="337" x2="33.4" y2="337" stroke="#4a4a4a" stroke-width="0.7" />
<line x1="70.8" y1="340.9" x2="70.8" y2="343.9" stroke="#4a4a4a" stroke-width="0.9" />
<line x1="107.7" y1="340.9" x2="107.7" y2="343.9" stroke="#4a4a4a" stroke-width="0.9" />
<line x1="45" y1="340.9" x2="45" y2="342.5" stroke="#4a4a4a" stroke-width="0.7" />
<line x1="52" y1="340.9" x2="52" y2="342.5" stroke="#4a4a4a" stroke-width="0.7" />
<line x1="58" y1="340.9" x2="58" y2="342.5" stroke="#4a4a4a" stroke-width="0.7" />
<line x1="62" y1="340.9" x2="62" y2="342.5" stroke="#4a4a4a" stroke-width="0.7" />
<line x1="66" y1="340.9" x2="66" y2="342.5" stroke="#4a4a4a" stroke-width="0.7" />
<line x1="80" y1="340.9" x2="80" y2="342.5" stroke="#4a4a4a" stroke-width="0.7" />
<line x1="88" y1="340.9" x2="88" y2="342.5" stroke="#4a4a4a" stroke-width="0.7" />
<line x1="94" y1="340.9" x2="94" y2="342.5" stroke="#4a4a4a" stroke-width="0.7" />
<line x1="99" y1="340.9" x2="99" y2="342.5" stroke="#4a4a4a" stroke-width="0.7" />
<line x1="103" y1="340.9" x2="103" y2="342.5" stroke="#4a4a4a" stroke-width="0.7" />
<line x1="116" y1="340.9" x2="116" y2="342.5" stroke="#4a4a4a" stroke-width="0.7" />
<line x1="121" y1="340.9" x2="121" y2="342.5" stroke="#4a4a4a" stroke-width="0.7" />
<line x1="125" y1="340.9" x2="125" y2="342.5" stroke="#4a4a4a" stroke-width="0.7" />
<rect x="33.4" y="249.5" width="96" height="91.4" fill="none" stroke="#4a4a4a" stroke-width="1"/>
<text x="42.2" y="296.4" font-size="12.8" fill="#222" stroke="#222" stroke-width="0.22">Lymphocytes</text>
<text x="42.5" y="308.6" font-size="12.5" fill="#222" stroke="#222" stroke-width="0.22">34.22%</text>
<line x1="23.6" y1="352.9" x2="23.6" y2="320.7" stroke="#000" stroke-width="1.6" marker-end="url(#ak)"/>
<line x1="22.8" y1="352.2" x2="55.2" y2="352.2" stroke="#000" stroke-width="1.6" marker-end="url(#ak)"/>
<text transform="translate(17,343) rotate(-90)" font-size="11.1" text-anchor="middle" fill="#111" stroke="#111" stroke-width="0.22">SSC-A</text>
<text x="25.4" y="363.8" font-size="11.1" fill="#111" stroke="#111" stroke-width="0.22">FSC-A</text>
<clipPath id="cp2"><rect x="171.7" y="249.7" width="98.5" height="90.5"/></clipPath>
<g clip-path="url(#cp2)">
<path d="M225.5 288.6h0.9v0.9h-0.9zM206.2 313.8h0.9v0.9h-0.9zM227.8 292.6h0.9v0.9h-0.9zM219.3 297.6h0.9v0.9h-0.9zM213.7 307.3h0.9v0.9h-0.9zM203.0 308.4h0.9v0.9h-0.9zM204.9 312.6h0.9v0.9h-0.9zM199.6 321.0h0.9v0.9h-0.9zM211.5 311.1h0.9v0.9h-0.9zM212.7 307.3h0.9v0.9h-0.9zM189.7 332.6h0.9v0.9h-0.9zM199.8 319.3h0.9v0.9h-0.9zM186.8 331.6h0.9v0.9h-0.9zM200.6 325.3h0.9v0.9h-0.9zM216.9 308.7h0.9v0.9h-0.9zM207.6 311.7h0.9v0.9h-0.9zM209.0 310.7h0.9v0.9h-0.9zM201.5 318.0h0.9v0.9h-0.9zM189.5 323.1h0.9v0.9h-0.9zM217.0 299.7h0.9v0.9h-0.9zM216.3 302.6h0.9v0.9h-0.9zM190.0 324.8h0.9v0.9h-0.9zM202.3 314.8h0.9v0.9h-0.9zM209.6 304.4h0.9v0.9h-0.9zM192.2 324.9h0.9v0.9h-0.9zM197.6 323.3h0.9v0.9h-0.9zM212.6 305.7h0.9v0.9h-0.9zM209.7 311.0h0.9v0.9h-0.9zM219.3 298.5h0.9v0.9h-0.9zM201.7 313.5h0.9v0.9h-0.9zM215.6 303.0h0.9v0.9h-0.9zM211.0 301.2h0.9v0.9h-0.9zM231.1 285.2h0.9v0.9h-0.9zM196.5 320.0h0.9v0.9h-0.9zM205.5 310.4h0.9v0.9h-0.9zM194.7 324.0h0.9v0.9h-0.9zM214.2 301.4h0.9v0.9h-0.9zM218.3 303.0h0.9v0.9h-0.9zM230.8 290.6h0.9v0.9h-0.9zM205.1 313.1h0.9v0.9h-0.9zM217.7 298.4h0.9v0.9h-0.9zM208.8 305.4h0.9v0.9h-0.9zM231.2 289.6h0.9v0.9h-0.9zM208.1 309.0h0.9v0.9h-0.9zM209.9 317.0h0.9v0.9h-0.9zM220.6 300.6h0.9v0.9h-0.9zM209.2 313.4h0.9v0.9h-0.9zM197.4 317.2h0.9v0.9h-0.9zM184.4 332.5h0.9v0.9h-0.9zM213.5 303.0h0.9v0.9h-0.9zM220.6 289.8h0.9v0.9h-0.9zM210.2 308.5h0.9v0.9h-0.9zM220.7 296.2h0.9v0.9h-0.9zM202.6 314.1h0.9v0.9h-0.9zM218.7 300.8h0.9v0.9h-0.9zM221.2 300.5h0.9v0.9h-0.9zM203.8 315.8h0.9v0.9h-0.9zM192.6 330.5h0.9v0.9h-0.9zM203.6 312.0h0.9v0.9h-0.9zM209.8 310.9h0.9v0.9h-0.9zM216.3 299.4h0.9v0.9h-0.9zM182.1 334.1h0.9v0.9h-0.9zM229.3 293.0h0.9v0.9h-0.9zM216.7 303.2h0.9v0.9h-0.9zM205.0 313.6h0.9v0.9h-0.9zM194.3 323.9h0.9v0.9h-0.9zM200.6 319.3h0.9v0.9h-0.9zM215.5 306.9h0.9v0.9h-0.9zM214.4 305.8h0.9v0.9h-0.9zM211.9 304.8h0.9v0.9h-0.9zM188.3 331.8h0.9v0.9h-0.9zM201.6 316.0h0.9v0.9h-0.9zM207.8 311.1h0.9v0.9h-0.9zM205.1 313.3h0.9v0.9h-0.9zM201.0 319.9h0.9v0.9h-0.9zM210.1 308.7h0.9v0.9h-0.9zM223.2 294.1h0.9v0.9h-0.9zM188.5 324.2h0.9v0.9h-0.9zM221.8 292.4h0.9v0.9h-0.9zM195.6 323.1h0.9v0.9h-0.9zM194.2 321.2h0.9v0.9h-0.9zM195.9 324.6h0.9v0.9h-0.9zM218.1 300.4h0.9v0.9h-0.9zM214.4 304.7h0.9v0.9h-0.9zM221.8 296.6h0.9v0.9h-0.9zM201.6 324.5h0.9v0.9h-0.9zM193.8 326.9h0.9v0.9h-0.9zM236.5 284.3h0.9v0.9h-0.9zM216.1 304.4h0.9v0.9h-0.9zM192.6 322.0h0.9v0.9h-0.9zM210.5 311.6h0.9v0.9h-0.9zM229.1 293.9h0.9v0.9h-0.9zM231.3 284.9h0.9v0.9h-0.9zM190.3 320.2h0.9v0.9h-0.9zM214.5 299.4h0.9v0.9h-0.9zM206.0 313.6h0.9v0.9h-0.9zM203.5 313.7h0.9v0.9h-0.9zM204.0 317.4h0.9v0.9h-0.9zM191.2 325.4h0.9v0.9h-0.9zM196.2 322.2h0.9v0.9h-0.9zM203.8 315.7h0.9v0.9h-0.9zM213.5 304.2h0.9v0.9h-0.9zM188.6 327.2h0.9v0.9h-0.9zM225.7 290.8h0.9v0.9h-0.9zM202.4 314.6h0.9v0.9h-0.9zM218.2 300.1h0.9v0.9h-0.9zM196.5 324.3h0.9v0.9h-0.9zM192.1 325.5h0.9v0.9h-0.9zM221.5 295.1h0.9v0.9h-0.9zM213.4 301.2h0.9v0.9h-0.9zM180.5 333.9h0.9v0.9h-0.9zM214.8 304.7h0.9v0.9h-0.9zM186.4 331.1h0.9v0.9h-0.9zM215.7 306.9h0.9v0.9h-0.9zM217.6 300.2h0.9v0.9h-0.9zM206.9 309.6h0.9v0.9h-0.9zM205.6 316.9h0.9v0.9h-0.9zM206.8 314.3h0.9v0.9h-0.9zM208.7 313.2h0.9v0.9h-0.9zM194.5 318.9h0.9v0.9h-0.9zM213.0 304.9h0.9v0.9h-0.9zM199.9 318.5h0.9v0.9h-0.9zM185.0 332.8h0.9v0.9h-0.9zM207.7 302.5h0.9v0.9h-0.9zM231.1 287.7h0.9v0.9h-0.9zM221.5 296.8h0.9v0.9h-0.9zM207.1 314.4h0.9v0.9h-0.9zM197.4 319.4h0.9v0.9h-0.9zM200.8 317.1h0.9v0.9h-0.9zM225.0 293.0h0.9v0.9h-0.9zM215.8 298.8h0.9v0.9h-0.9zM197.3 322.4h0.9v0.9h-0.9zM213.9 310.5h0.9v0.9h-0.9zM225.9 289.5h0.9v0.9h-0.9zM211.3 311.8h0.9v0.9h-0.9zM212.2 311.5h0.9v0.9h-0.9zM198.1 315.0h0.9v0.9h-0.9zM183.5 329.4h0.9v0.9h-0.9zM218.0 297.6h0.9v0.9h-0.9zM214.7 300.3h0.9v0.9h-0.9zM216.2 299.7h0.9v0.9h-0.9zM222.8 292.2h0.9v0.9h-0.9zM206.2 310.5h0.9v0.9h-0.9zM203.2 316.0h0.9v0.9h-0.9zM215.0 305.8h0.9v0.9h-0.9zM191.4 325.3h0.9v0.9h-0.9zM180.4 333.3h0.9v0.9h-0.9zM203.9 315.6h0.9v0.9h-0.9zM200.5 319.2h0.9v0.9h-0.9zM194.9 320.0h0.9v0.9h-0.9zM209.7 309.6h0.9v0.9h-0.9zM215.5 299.0h0.9v0.9h-0.9zM198.1 317.1h0.9v0.9h-0.9zM181.5 335.9h0.9v0.9h-0.9zM184.9 331.4h0.9v0.9h-0.9zM197.5 323.7h0.9v0.9h-0.9zM204.5 312.7h0.9v0.9h-0.9zM207.9 310.8h0.9v0.9h-0.9zM216.1 305.8h0.9v0.9h-0.9zM232.1 281.5h0.9v0.9h-0.9zM195.7 323.9h0.9v0.9h-0.9zM223.2 299.1h0.9v0.9h-0.9zM205.0 312.1h0.9v0.9h-0.9zM211.9 309.8h0.9v0.9h-0.9zM201.7 312.3h0.9v0.9h-0.9zM220.7 294.7h0.9v0.9h-0.9zM216.9 296.8h0.9v0.9h-0.9zM230.3 293.7h0.9v0.9h-0.9zM234.1 281.8h0.9v0.9h-0.9zM191.6 327.5h0.9v0.9h-0.9zM204.2 308.0h0.9v0.9h-0.9zM221.8 299.6h0.9v0.9h-0.9zM219.5 294.2h0.9v0.9h-0.9zM214.6 301.0h0.9v0.9h-0.9zM195.2 313.6h0.9v0.9h-0.9zM233.5 280.9h0.9v0.9h-0.9zM198.4 322.3h0.9v0.9h-0.9zM219.0 294.6h0.9v0.9h-0.9zM205.9 317.1h0.9v0.9h-0.9zM208.9 316.3h0.9v0.9h-0.9zM220.2 297.5h0.9v0.9h-0.9zM195.6 317.2h0.9v0.9h-0.9zM218.6 298.3h0.9v0.9h-0.9zM210.5 308.2h0.9v0.9h-0.9zM191.7 318.7h0.9v0.9h-0.9zM206.7 308.8h0.9v0.9h-0.9zM212.2 306.3h0.9v0.9h-0.9zM218.3 301.3h0.9v0.9h-0.9zM220.0 291.9h0.9v0.9h-0.9zM190.4 326.7h0.9v0.9h-0.9zM198.4 319.4h0.9v0.9h-0.9zM200.6 320.8h0.9v0.9h-0.9zM190.4 327.9h0.9v0.9h-0.9zM235.9 286.5h0.9v0.9h-0.9zM203.3 316.3h0.9v0.9h-0.9zM203.0 311.9h0.9v0.9h-0.9zM207.6 319.6h0.9v0.9h-0.9zM197.8 322.0h0.9v0.9h-0.9zM220.7 298.5h0.9v0.9h-0.9zM209.5 307.1h0.9v0.9h-0.9zM202.0 321.0h0.9v0.9h-0.9zM204.2 313.8h0.9v0.9h-0.9zM214.5 305.6h0.9v0.9h-0.9zM212.6 306.2h0.9v0.9h-0.9zM219.2 298.6h0.9v0.9h-0.9zM222.2 290.9h0.9v0.9h-0.9zM200.7 315.0h0.9v0.9h-0.9zM198.3 325.3h0.9v0.9h-0.9zM202.3 316.2h0.9v0.9h-0.9zM208.6 307.0h0.9v0.9h-0.9zM198.6 316.0h0.9v0.9h-0.9zM210.7 304.4h0.9v0.9h-0.9zM191.3 324.6h0.9v0.9h-0.9zM207.2 310.1h0.9v0.9h-0.9zM214.8 308.3h0.9v0.9h-0.9zM197.5 321.2h0.9v0.9h-0.9zM220.7 303.4h0.9v0.9h-0.9zM226.6 286.3h0.9v0.9h-0.9zM194.2 316.6h0.9v0.9h-0.9zM201.7 308.6h0.9v0.9h-0.9zM218.2 300.8h0.9v0.9h-0.9zM191.6 319.6h0.9v0.9h-0.9zM210.0 308.1h0.9v0.9h-0.9zM224.8 290.6h0.9v0.9h-0.9zM213.6 308.4h0.9v0.9h-0.9zM202.6 319.2h0.9v0.9h-0.9zM197.5 314.6h0.9v0.9h-0.9zM212.2 308.4h0.9v0.9h-0.9zM213.6 304.4h0.9v0.9h-0.9zM213.6 306.2h0.9v0.9h-0.9zM207.0 309.0h0.9v0.9h-0.9zM198.5 322.3h0.9v0.9h-0.9zM203.5 314.0h0.9v0.9h-0.9zM207.1 305.3h0.9v0.9h-0.9zM210.6 299.2h0.9v0.9h-0.9zM201.1 319.9h0.9v0.9h-0.9zM217.1 301.7h0.9v0.9h-0.9zM225.5 288.0h0.9v0.9h-0.9zM212.5 302.1h0.9v0.9h-0.9zM222.3 304.9h0.9v0.9h-0.9zM200.2 313.6h0.9v0.9h-0.9zM195.1 323.4h0.9v0.9h-0.9zM216.1 306.5h0.9v0.9h-0.9zM216.5 309.6h0.9v0.9h-0.9zM221.8 297.6h0.9v0.9h-0.9zM203.9 315.5h0.9v0.9h-0.9zM192.0 321.3h0.9v0.9h-0.9zM195.0 324.0h0.9v0.9h-0.9zM210.3 307.5h0.9v0.9h-0.9zM179.6 333.5h0.9v0.9h-0.9zM222.2 292.2h0.9v0.9h-0.9zM203.7 318.3h0.9v0.9h-0.9zM208.7 312.8h0.9v0.9h-0.9zM207.9 319.1h0.9v0.9h-0.9zM226.7 290.6h0.9v0.9h-0.9zM186.1 324.0h0.9v0.9h-0.9zM219.7 305.6h0.9v0.9h-0.9zM213.4 306.8h0.9v0.9h-0.9zM225.3 299.1h0.9v0.9h-0.9zM216.9 298.9h0.9v0.9h-0.9zM192.5 323.5h0.9v0.9h-0.9zM188.3 334.1h0.9v0.9h-0.9zM177.2 336.9h0.9v0.9h-0.9zM202.5 315.0h0.9v0.9h-0.9zM212.9 305.1h0.9v0.9h-0.9zM210.2 310.9h0.9v0.9h-0.9zM203.1 318.3h0.9v0.9h-0.9zM211.8 303.6h0.9v0.9h-0.9zM189.6 331.0h0.9v0.9h-0.9zM222.7 295.0h0.9v0.9h-0.9zM225.7 292.5h0.9v0.9h-0.9zM222.8 296.2h0.9v0.9h-0.9zM217.8 303.8h0.9v0.9h-0.9zM229.4 289.0h0.9v0.9h-0.9zM188.8 330.2h0.9v0.9h-0.9zM191.6 323.2h0.9v0.9h-0.9zM204.5 308.5h0.9v0.9h-0.9zM204.8 309.3h0.9v0.9h-0.9zM202.8 316.0h0.9v0.9h-0.9zM213.6 305.0h0.9v0.9h-0.9zM202.8 315.6h0.9v0.9h-0.9zM225.8 288.2h0.9v0.9h-0.9zM206.3 309.1h0.9v0.9h-0.9zM202.4 318.0h0.9v0.9h-0.9zM198.2 321.3h0.9v0.9h-0.9zM186.9 329.3h0.9v0.9h-0.9zM218.0 298.0h0.9v0.9h-0.9zM191.0 321.2h0.9v0.9h-0.9zM181.2 334.1h0.9v0.9h-0.9zM203.1 318.7h0.9v0.9h-0.9zM230.3 287.8h0.9v0.9h-0.9zM206.3 309.8h0.9v0.9h-0.9zM232.1 287.7h0.9v0.9h-0.9zM220.2 307.7h0.9v0.9h-0.9zM230.3 286.9h0.9v0.9h-0.9zM214.1 300.8h0.9v0.9h-0.9zM211.9 300.4h0.9v0.9h-0.9zM189.0 329.8h0.9v0.9h-0.9zM188.7 329.8h0.9v0.9h-0.9zM201.4 314.3h0.9v0.9h-0.9zM219.7 300.0h0.9v0.9h-0.9zM217.1 303.2h0.9v0.9h-0.9zM212.9 302.6h0.9v0.9h-0.9zM181.2 336.8h0.9v0.9h-0.9zM194.2 326.3h0.9v0.9h-0.9zM201.0 311.7h0.9v0.9h-0.9zM212.6 305.1h0.9v0.9h-0.9zM208.2 310.1h0.9v0.9h-0.9zM190.9 320.3h0.9v0.9h-0.9zM190.7 335.1h0.9v0.9h-0.9zM220.8 301.3h0.9v0.9h-0.9zM196.0 328.2h0.9v0.9h-0.9zM201.2 311.6h0.9v0.9h-0.9zM206.0 311.8h0.9v0.9h-0.9zM214.1 308.1h0.9v0.9h-0.9zM195.2 320.7h0.9v0.9h-0.9zM193.7 331.0h0.9v0.9h-0.9zM201.5 312.5h0.9v0.9h-0.9zM194.3 323.1h0.9v0.9h-0.9zM207.3 309.4h0.9v0.9h-0.9zM183.1 328.3h0.9v0.9h-0.9zM200.3 316.6h0.9v0.9h-0.9zM189.3 328.1h0.9v0.9h-0.9zM232.8 282.4h0.9v0.9h-0.9zM181.3 334.1h0.9v0.9h-0.9zM200.8 320.3h0.9v0.9h-0.9zM203.2 317.6h0.9v0.9h-0.9zM199.4 320.0h0.9v0.9h-0.9zM190.3 329.6h0.9v0.9h-0.9zM195.6 326.5h0.9v0.9h-0.9zM203.4 313.9h0.9v0.9h-0.9zM224.6 291.5h0.9v0.9h-0.9zM223.8 295.1h0.9v0.9h-0.9zM230.9 288.5h0.9v0.9h-0.9zM199.0 316.5h0.9v0.9h-0.9zM210.1 308.9h0.9v0.9h-0.9zM225.4 294.4h0.9v0.9h-0.9zM216.8 305.2h0.9v0.9h-0.9zM209.2 305.6h0.9v0.9h-0.9zM211.4 311.0h0.9v0.9h-0.9zM218.9 298.8h0.9v0.9h-0.9zM198.5 314.4h0.9v0.9h-0.9zM214.0 308.0h0.9v0.9h-0.9zM198.2 321.4h0.9v0.9h-0.9zM218.2 300.6h0.9v0.9h-0.9zM213.5 300.8h0.9v0.9h-0.9zM209.1 311.9h0.9v0.9h-0.9zM188.5 325.4h0.9v0.9h-0.9zM204.4 309.9h0.9v0.9h-0.9zM229.1 289.5h0.9v0.9h-0.9zM202.0 319.1h0.9v0.9h-0.9zM212.0 306.3h0.9v0.9h-0.9zM184.5 333.1h0.9v0.9h-0.9zM191.7 322.6h0.9v0.9h-0.9zM208.5 312.8h0.9v0.9h-0.9zM218.6 298.6h0.9v0.9h-0.9zM219.2 301.3h0.9v0.9h-0.9zM204.1 323.5h0.9v0.9h-0.9zM232.7 287.0h0.9v0.9h-0.9zM184.8 327.6h0.9v0.9h-0.9zM219.7 295.4h0.9v0.9h-0.9zM222.5 292.6h0.9v0.9h-0.9zM230.6 289.1h0.9v0.9h-0.9zM197.8 324.5h0.9v0.9h-0.9zM188.4 329.0h0.9v0.9h-0.9zM186.9 329.4h0.9v0.9h-0.9zM195.2 324.5h0.9v0.9h-0.9zM211.3 303.9h0.9v0.9h-0.9zM201.2 315.7h0.9v0.9h-0.9zM203.2 317.8h0.9v0.9h-0.9zM217.3 305.2h0.9v0.9h-0.9zM203.4 313.2h0.9v0.9h-0.9zM208.5 308.2h0.9v0.9h-0.9zM225.7 291.3h0.9v0.9h-0.9zM198.0 320.7h0.9v0.9h-0.9zM210.8 312.6h0.9v0.9h-0.9zM196.7 321.2h0.9v0.9h-0.9zM214.7 299.6h0.9v0.9h-0.9zM193.1 328.1h0.9v0.9h-0.9zM196.3 325.1h0.9v0.9h-0.9zM217.7 304.7h0.9v0.9h-0.9zM181.3 338.7h0.9v0.9h-0.9zM230.6 287.0h0.9v0.9h-0.9zM213.4 301.2h0.9v0.9h-0.9zM205.5 314.4h0.9v0.9h-0.9zM201.7 315.2h0.9v0.9h-0.9zM213.9 304.7h0.9v0.9h-0.9zM214.6 308.2h0.9v0.9h-0.9zM190.6 320.7h0.9v0.9h-0.9zM205.9 306.2h0.9v0.9h-0.9zM192.9 319.5h0.9v0.9h-0.9zM198.9 316.4h0.9v0.9h-0.9zM206.5 311.1h0.9v0.9h-0.9zM208.5 310.6h0.9v0.9h-0.9zM201.5 313.5h0.9v0.9h-0.9zM207.7 314.2h0.9v0.9h-0.9zM201.0 315.7h0.9v0.9h-0.9zM204.1 316.3h0.9v0.9h-0.9zM230.6 293.8h0.9v0.9h-0.9zM227.9 294.6h0.9v0.9h-0.9zM194.7 321.8h0.9v0.9h-0.9zM178.1 338.7h0.9v0.9h-0.9zM218.8 301.4h0.9v0.9h-0.9zM233.2 288.5h0.9v0.9h-0.9zM202.2 311.6h0.9v0.9h-0.9zM210.5 303.9h0.9v0.9h-0.9zM206.7 309.3h0.9v0.9h-0.9zM213.7 308.3h0.9v0.9h-0.9zM201.0 317.5h0.9v0.9h-0.9zM207.0 310.6h0.9v0.9h-0.9zM201.8 311.1h0.9v0.9h-0.9zM201.4 311.7h0.9v0.9h-0.9zM210.3 309.0h0.9v0.9h-0.9zM187.3 326.3h0.9v0.9h-0.9zM223.8 298.0h0.9v0.9h-0.9zM207.3 307.7h0.9v0.9h-0.9zM210.5 308.2h0.9v0.9h-0.9zM199.4 320.8h0.9v0.9h-0.9zM181.7 337.4h0.9v0.9h-0.9zM206.0 311.9h0.9v0.9h-0.9zM204.9 320.4h0.9v0.9h-0.9zM223.5 296.5h0.9v0.9h-0.9zM226.9 290.6h0.9v0.9h-0.9zM205.3 316.2h0.9v0.9h-0.9zM215.8 306.7h0.9v0.9h-0.9zM229.1 293.7h0.9v0.9h-0.9zM216.2 303.1h0.9v0.9h-0.9zM222.0 293.1h0.9v0.9h-0.9zM182.2 333.7h0.9v0.9h-0.9zM202.2 317.9h0.9v0.9h-0.9zM224.3 286.7h0.9v0.9h-0.9zM193.6 318.4h0.9v0.9h-0.9zM188.3 331.5h0.9v0.9h-0.9zM205.8 312.8h0.9v0.9h-0.9zM202.6 314.3h0.9v0.9h-0.9zM178.2 338.1h0.9v0.9h-0.9zM228.9 295.0h0.9v0.9h-0.9zM207.1 312.5h0.9v0.9h-0.9zM204.0 312.7h0.9v0.9h-0.9zM204.9 307.9h0.9v0.9h-0.9zM208.3 310.1h0.9v0.9h-0.9zM222.4 292.2h0.9v0.9h-0.9zM203.6 313.6h0.9v0.9h-0.9zM197.1 318.0h0.9v0.9h-0.9zM215.0 307.7h0.9v0.9h-0.9zM209.1 306.5h0.9v0.9h-0.9zM215.5 302.6h0.9v0.9h-0.9zM197.6 325.0h0.9v0.9h-0.9zM209.0 301.4h0.9v0.9h-0.9zM213.4 303.0h0.9v0.9h-0.9zM190.4 321.5h0.9v0.9h-0.9zM216.4 307.4h0.9v0.9h-0.9zM207.0 312.4h0.9v0.9h-0.9zM225.3 293.0h0.9v0.9h-0.9zM229.1 290.2h0.9v0.9h-0.9zM212.4 308.5h0.9v0.9h-0.9zM192.8 326.7h0.9v0.9h-0.9zM206.4 312.0h0.9v0.9h-0.9zM196.7 324.3h0.9v0.9h-0.9zM196.6 322.4h0.9v0.9h-0.9zM226.6 298.9h0.9v0.9h-0.9zM212.2 302.3h0.9v0.9h-0.9zM202.0 314.7h0.9v0.9h-0.9zM194.0 326.3h0.9v0.9h-0.9zM210.7 310.3h0.9v0.9h-0.9zM223.5 293.4h0.9v0.9h-0.9zM216.7 306.3h0.9v0.9h-0.9zM211.3 310.2h0.9v0.9h-0.9zM212.9 311.3h0.9v0.9h-0.9zM224.2 293.6h0.9v0.9h-0.9zM220.3 302.5h0.9v0.9h-0.9zM209.1 308.8h0.9v0.9h-0.9zM180.1 338.4h0.9v0.9h-0.9zM217.5 303.6h0.9v0.9h-0.9zM208.9 307.9h0.9v0.9h-0.9zM206.1 310.9h0.9v0.9h-0.9zM225.1 299.7h0.9v0.9h-0.9zM195.1 319.3h0.9v0.9h-0.9zM212.1 308.1h0.9v0.9h-0.9zM211.2 311.7h0.9v0.9h-0.9zM190.8 332.0h0.9v0.9h-0.9zM204.2 313.3h0.9v0.9h-0.9zM207.1 307.5h0.9v0.9h-0.9zM223.5 299.1h0.9v0.9h-0.9zM213.4 303.1h0.9v0.9h-0.9zM207.0 311.1h0.9v0.9h-0.9zM215.9 300.0h0.9v0.9h-0.9zM177.3 335.0h0.9v0.9h-0.9zM200.6 315.2h0.9v0.9h-0.9zM196.5 320.3h0.9v0.9h-0.9zM210.8 301.3h0.9v0.9h-0.9zM232.4 291.3h0.9v0.9h-0.9zM216.2 301.2h0.9v0.9h-0.9zM222.9 301.3h0.9v0.9h-0.9zM220.0 302.4h0.9v0.9h-0.9zM227.5 289.3h0.9v0.9h-0.9zM192.5 324.9h0.9v0.9h-0.9zM212.8 303.9h0.9v0.9h-0.9zM196.1 321.5h0.9v0.9h-0.9zM201.0 317.1h0.9v0.9h-0.9zM217.3 302.4h0.9v0.9h-0.9zM219.1 300.8h0.9v0.9h-0.9zM206.2 312.4h0.9v0.9h-0.9zM220.6 295.8h0.9v0.9h-0.9zM204.5 308.1h0.9v0.9h-0.9zM206.1 312.6h0.9v0.9h-0.9zM207.5 309.9h0.9v0.9h-0.9zM209.5 310.9h0.9v0.9h-0.9zM221.4 295.0h0.9v0.9h-0.9zM221.7 297.7h0.9v0.9h-0.9zM200.6 313.9h0.9v0.9h-0.9zM205.7 313.6h0.9v0.9h-0.9zM200.7 316.2h0.9v0.9h-0.9zM215.2 304.6h0.9v0.9h-0.9zM216.4 310.8h0.9v0.9h-0.9zM215.1 306.0h0.9v0.9h-0.9zM192.9 324.2h0.9v0.9h-0.9zM211.6 307.6h0.9v0.9h-0.9zM199.7 318.3h0.9v0.9h-0.9zM193.9 323.6h0.9v0.9h-0.9zM208.1 310.2h0.9v0.9h-0.9zM203.2 314.8h0.9v0.9h-0.9zM213.8 304.5h0.9v0.9h-0.9zM215.3 306.5h0.9v0.9h-0.9zM208.8 312.7h0.9v0.9h-0.9zM217.3 307.1h0.9v0.9h-0.9zM212.1 307.7h0.9v0.9h-0.9zM207.4 312.2h0.9v0.9h-0.9zM201.1 324.9h0.9v0.9h-0.9zM217.8 295.8h0.9v0.9h-0.9zM219.7 299.5h0.9v0.9h-0.9zM221.8 298.5h0.9v0.9h-0.9zM196.0 323.9h0.9v0.9h-0.9zM193.8 321.7h0.9v0.9h-0.9zM209.6 307.3h0.9v0.9h-0.9zM216.2 297.2h0.9v0.9h-0.9zM207.1 309.2h0.9v0.9h-0.9zM218.7 293.3h0.9v0.9h-0.9zM195.8 324.5h0.9v0.9h-0.9zM214.6 303.1h0.9v0.9h-0.9zM181.1 332.6h0.9v0.9h-0.9zM199.5 323.0h0.9v0.9h-0.9zM193.8 323.7h0.9v0.9h-0.9zM213.7 301.2h0.9v0.9h-0.9zM200.6 318.8h0.9v0.9h-0.9zM206.8 309.5h0.9v0.9h-0.9zM215.5 296.2h0.9v0.9h-0.9zM199.8 318.2h0.9v0.9h-0.9zM222.0 301.7h0.9v0.9h-0.9zM192.4 319.2h0.9v0.9h-0.9zM223.7 293.4h0.9v0.9h-0.9zM196.1 323.9h0.9v0.9h-0.9zM192.7 325.8h0.9v0.9h-0.9zM214.4 306.9h0.9v0.9h-0.9zM224.9 292.8h0.9v0.9h-0.9zM186.7 335.0h0.9v0.9h-0.9zM220.3 298.2h0.9v0.9h-0.9zM222.6 295.7h0.9v0.9h-0.9zM212.8 306.7h0.9v0.9h-0.9zM189.2 327.2h0.9v0.9h-0.9zM193.8 322.7h0.9v0.9h-0.9zM212.9 303.7h0.9v0.9h-0.9zM177.5 336.7h0.9v0.9h-0.9zM220.5 295.5h0.9v0.9h-0.9zM228.0 286.2h0.9v0.9h-0.9zM191.4 327.9h0.9v0.9h-0.9zM192.9 325.6h0.9v0.9h-0.9zM213.2 298.3h0.9v0.9h-0.9zM197.6 318.5h0.9v0.9h-0.9zM216.2 302.2h0.9v0.9h-0.9zM199.9 314.4h0.9v0.9h-0.9zM201.5 317.7h0.9v0.9h-0.9zM204.8 311.1h0.9v0.9h-0.9zM216.1 302.3h0.9v0.9h-0.9zM213.8 301.2h0.9v0.9h-0.9zM207.0 311.6h0.9v0.9h-0.9zM225.8 293.3h0.9v0.9h-0.9zM231.3 295.2h0.9v0.9h-0.9zM220.5 303.2h0.9v0.9h-0.9zM189.7 328.2h0.9v0.9h-0.9zM199.1 318.8h0.9v0.9h-0.9zM204.9 313.2h0.9v0.9h-0.9zM214.6 304.5h0.9v0.9h-0.9zM221.1 290.1h0.9v0.9h-0.9zM199.5 318.0h0.9v0.9h-0.9zM224.8 295.9h0.9v0.9h-0.9zM192.0 325.5h0.9v0.9h-0.9zM209.6 304.4h0.9v0.9h-0.9zM199.3 313.3h0.9v0.9h-0.9zM201.1 310.6h0.9v0.9h-0.9zM226.3 297.7h0.9v0.9h-0.9zM203.8 316.5h0.9v0.9h-0.9zM211.0 311.6h0.9v0.9h-0.9zM229.5 288.2h0.9v0.9h-0.9zM209.7 305.8h0.9v0.9h-0.9zM187.0 325.0h0.9v0.9h-0.9zM194.1 324.6h0.9v0.9h-0.9zM198.8 314.1h0.9v0.9h-0.9zM209.3 306.0h0.9v0.9h-0.9zM213.1 309.0h0.9v0.9h-0.9zM187.8 334.5h0.9v0.9h-0.9zM192.3 324.3h0.9v0.9h-0.9zM192.2 328.2h0.9v0.9h-0.9zM207.4 311.0h0.9v0.9h-0.9zM213.2 306.6h0.9v0.9h-0.9zM202.5 310.9h0.9v0.9h-0.9zM214.5 304.7h0.9v0.9h-0.9zM205.4 313.3h0.9v0.9h-0.9zM209.2 310.1h0.9v0.9h-0.9zM227.1 292.8h0.9v0.9h-0.9zM217.9 300.9h0.9v0.9h-0.9zM201.4 318.2h0.9v0.9h-0.9zM201.9 313.4h0.9v0.9h-0.9zM223.0 296.7h0.9v0.9h-0.9zM205.6 309.3h0.9v0.9h-0.9zM198.8 319.2h0.9v0.9h-0.9zM212.7 304.0h0.9v0.9h-0.9zM190.0 325.0h0.9v0.9h-0.9zM209.5 306.6h0.9v0.9h-0.9zM200.2 315.6h0.9v0.9h-0.9zM213.4 307.5h0.9v0.9h-0.9zM235.2 281.4h0.9v0.9h-0.9zM211.6 307.8h0.9v0.9h-0.9zM194.8 324.5h0.9v0.9h-0.9zM189.2 335.6h0.9v0.9h-0.9zM211.0 310.4h0.9v0.9h-0.9zM202.5 312.2h0.9v0.9h-0.9zM188.1 325.3h0.9v0.9h-0.9zM200.5 317.5h0.9v0.9h-0.9zM208.2 311.4h0.9v0.9h-0.9zM191.7 323.6h0.9v0.9h-0.9zM207.0 314.2h0.9v0.9h-0.9zM210.5 301.3h0.9v0.9h-0.9zM194.8 316.0h0.9v0.9h-0.9zM223.6 292.5h0.9v0.9h-0.9zM197.0 322.7h0.9v0.9h-0.9zM194.4 326.2h0.9v0.9h-0.9zM221.7 297.1h0.9v0.9h-0.9zM204.3 318.5h0.9v0.9h-0.9zM198.9 320.5h0.9v0.9h-0.9zM195.1 322.0h0.9v0.9h-0.9zM215.7 307.8h0.9v0.9h-0.9zM199.5 319.4h0.9v0.9h-0.9zM199.8 315.4h0.9v0.9h-0.9zM184.4 334.0h0.9v0.9h-0.9zM187.5 326.3h0.9v0.9h-0.9zM203.9 317.7h0.9v0.9h-0.9zM188.4 328.2h0.9v0.9h-0.9zM198.0 313.8h0.9v0.9h-0.9zM223.5 299.4h0.9v0.9h-0.9zM209.3 310.1h0.9v0.9h-0.9zM220.5 296.4h0.9v0.9h-0.9zM194.8 323.4h0.9v0.9h-0.9zM216.2 304.5h0.9v0.9h-0.9zM201.5 316.3h0.9v0.9h-0.9zM217.5 301.8h0.9v0.9h-0.9zM194.5 326.8h0.9v0.9h-0.9zM208.0 308.7h0.9v0.9h-0.9zM219.7 298.8h0.9v0.9h-0.9zM212.8 311.6h0.9v0.9h-0.9zM210.4 306.8h0.9v0.9h-0.9zM202.4 313.3h0.9v0.9h-0.9zM197.7 323.3h0.9v0.9h-0.9zM196.1 319.0h0.9v0.9h-0.9zM218.9 298.9h0.9v0.9h-0.9zM207.9 308.2h0.9v0.9h-0.9zM197.0 326.6h0.9v0.9h-0.9zM221.5 301.3h0.9v0.9h-0.9zM213.2 306.3h0.9v0.9h-0.9zM188.1 333.2h0.9v0.9h-0.9zM222.1 291.9h0.9v0.9h-0.9zM211.3 304.4h0.9v0.9h-0.9zM244.5 275.8h0.9v0.9h-0.9zM223.5 299.6h0.9v0.9h-0.9zM184.4 327.9h0.9v0.9h-0.9zM223.0 296.8h0.9v0.9h-0.9zM209.8 307.4h0.9v0.9h-0.9zM201.7 315.2h0.9v0.9h-0.9zM211.7 306.9h0.9v0.9h-0.9zM214.0 300.6h0.9v0.9h-0.9zM205.1 317.7h0.9v0.9h-0.9zM194.2 321.5h0.9v0.9h-0.9zM216.1 303.5h0.9v0.9h-0.9zM210.3 304.2h0.9v0.9h-0.9zM190.7 324.5h0.9v0.9h-0.9zM221.5 291.2h0.9v0.9h-0.9zM206.2 316.7h0.9v0.9h-0.9zM236.5 291.5h0.9v0.9h-0.9zM226.9 292.2h0.9v0.9h-0.9zM206.0 313.3h0.9v0.9h-0.9zM221.4 304.0h0.9v0.9h-0.9zM192.8 322.7h0.9v0.9h-0.9zM210.2 308.9h0.9v0.9h-0.9zM181.5 333.4h0.9v0.9h-0.9zM194.0 326.5h0.9v0.9h-0.9zM207.2 312.4h0.9v0.9h-0.9zM217.3 304.9h0.9v0.9h-0.9zM220.4 301.7h0.9v0.9h-0.9zM220.7 294.4h0.9v0.9h-0.9zM219.8 296.8h0.9v0.9h-0.9zM201.6 317.1h0.9v0.9h-0.9zM207.0 313.1h0.9v0.9h-0.9zM198.8 318.8h0.9v0.9h-0.9zM208.8 311.5h0.9v0.9h-0.9zM185.2 334.9h0.9v0.9h-0.9zM195.9 320.5h0.9v0.9h-0.9zM226.0 293.0h0.9v0.9h-0.9zM208.8 308.0h0.9v0.9h-0.9zM196.4 317.5h0.9v0.9h-0.9zM218.0 304.0h0.9v0.9h-0.9zM214.1 310.6h0.9v0.9h-0.9zM206.3 311.3h0.9v0.9h-0.9zM205.3 318.7h0.9v0.9h-0.9zM196.6 326.7h0.9v0.9h-0.9zM205.9 310.3h0.9v0.9h-0.9zM208.2 308.9h0.9v0.9h-0.9zM206.8 309.7h0.9v0.9h-0.9zM228.5 293.7h0.9v0.9h-0.9zM209.8 313.0h0.9v0.9h-0.9zM210.7 306.0h0.9v0.9h-0.9zM221.6 292.0h0.9v0.9h-0.9zM218.7 300.2h0.9v0.9h-0.9zM182.7 339.0h0.9v0.9h-0.9zM207.1 312.5h0.9v0.9h-0.9zM193.8 324.0h0.9v0.9h-0.9zM194.4 317.9h0.9v0.9h-0.9zM221.0 299.8h0.9v0.9h-0.9zM228.0 289.9h0.9v0.9h-0.9zM213.1 305.4h0.9v0.9h-0.9zM200.2 316.2h0.9v0.9h-0.9zM201.6 313.3h0.9v0.9h-0.9zM201.1 317.3h0.9v0.9h-0.9zM229.5 291.4h0.9v0.9h-0.9zM216.5 307.8h0.9v0.9h-0.9zM215.9 301.7h0.9v0.9h-0.9zM206.5 308.2h0.9v0.9h-0.9zM222.3 302.7h0.9v0.9h-0.9zM207.0 314.8h0.9v0.9h-0.9zM188.8 326.3h0.9v0.9h-0.9zM206.8 310.6h0.9v0.9h-0.9zM198.2 320.0h0.9v0.9h-0.9zM189.6 332.9h0.9v0.9h-0.9zM181.4 335.9h0.9v0.9h-0.9zM201.9 321.0h0.9v0.9h-0.9zM204.1 314.8h0.9v0.9h-0.9zM230.0 286.5h0.9v0.9h-0.9zM199.3 319.4h0.9v0.9h-0.9zM194.9 317.3h0.9v0.9h-0.9zM205.1 311.0h0.9v0.9h-0.9zM218.8 301.8h0.9v0.9h-0.9zM189.1 325.8h0.9v0.9h-0.9zM203.2 313.8h0.9v0.9h-0.9zM221.8 292.7h0.9v0.9h-0.9zM228.8 290.2h0.9v0.9h-0.9zM194.2 317.9h0.9v0.9h-0.9zM183.9 332.4h0.9v0.9h-0.9zM206.5 314.3h0.9v0.9h-0.9zM203.2 313.1h0.9v0.9h-0.9zM222.8 299.0h0.9v0.9h-0.9zM219.5 300.5h0.9v0.9h-0.9zM208.9 311.6h0.9v0.9h-0.9zM194.7 320.7h0.9v0.9h-0.9zM211.3 306.8h0.9v0.9h-0.9zM194.1 320.3h0.9v0.9h-0.9zM193.4 321.9h0.9v0.9h-0.9zM205.6 310.9h0.9v0.9h-0.9zM234.1 286.8h0.9v0.9h-0.9zM233.3 291.0h0.9v0.9h-0.9zM224.2 290.1h0.9v0.9h-0.9zM188.3 334.3h0.9v0.9h-0.9zM211.5 299.2h0.9v0.9h-0.9zM193.6 317.3h0.9v0.9h-0.9zM216.4 307.9h0.9v0.9h-0.9zM220.9 301.9h0.9v0.9h-0.9zM216.8 302.4h0.9v0.9h-0.9zM198.8 319.9h0.9v0.9h-0.9zM194.0 323.9h0.9v0.9h-0.9zM212.9 298.2h0.9v0.9h-0.9zM225.0 296.2h0.9v0.9h-0.9zM196.5 319.7h0.9v0.9h-0.9zM192.2 318.4h0.9v0.9h-0.9zM206.4 313.5h0.9v0.9h-0.9zM201.1 319.4h0.9v0.9h-0.9zM222.2 301.0h0.9v0.9h-0.9zM222.9 299.3h0.9v0.9h-0.9zM217.7 300.0h0.9v0.9h-0.9zM200.4 319.9h0.9v0.9h-0.9zM195.6 322.1h0.9v0.9h-0.9zM203.3 315.3h0.9v0.9h-0.9zM212.2 312.5h0.9v0.9h-0.9zM218.1 299.4h0.9v0.9h-0.9zM208.8 301.1h0.9v0.9h-0.9zM202.2 314.4h0.9v0.9h-0.9zM212.5 300.7h0.9v0.9h-0.9zM216.3 298.8h0.9v0.9h-0.9zM208.3 314.7h0.9v0.9h-0.9zM195.5 323.8h0.9v0.9h-0.9zM212.6 303.2h0.9v0.9h-0.9zM220.1 298.0h0.9v0.9h-0.9zM218.5 303.5h0.9v0.9h-0.9zM194.5 324.0h0.9v0.9h-0.9zM216.3 308.0h0.9v0.9h-0.9zM207.4 307.5h0.9v0.9h-0.9zM205.2 313.8h0.9v0.9h-0.9zM206.1 312.5h0.9v0.9h-0.9zM199.2 315.7h0.9v0.9h-0.9zM199.6 319.5h0.9v0.9h-0.9zM213.0 307.8h0.9v0.9h-0.9zM209.7 312.5h0.9v0.9h-0.9zM206.1 305.4h0.9v0.9h-0.9zM192.9 325.3h0.9v0.9h-0.9zM211.8 308.6h0.9v0.9h-0.9zM230.6 292.4h0.9v0.9h-0.9zM194.5 324.6h0.9v0.9h-0.9zM209.1 309.3h0.9v0.9h-0.9zM206.6 309.3h0.9v0.9h-0.9zM213.9 309.4h0.9v0.9h-0.9zM217.3 301.0h0.9v0.9h-0.9zM202.6 320.5h0.9v0.9h-0.9zM219.7 299.4h0.9v0.9h-0.9zM217.1 302.4h0.9v0.9h-0.9zM202.7 312.6h0.9v0.9h-0.9zM214.1 299.9h0.9v0.9h-0.9zM224.5 295.3h0.9v0.9h-0.9zM226.5 291.7h0.9v0.9h-0.9zM207.9 314.8h0.9v0.9h-0.9zM217.0 297.0h0.9v0.9h-0.9zM206.1 307.6h0.9v0.9h-0.9zM200.1 321.4h0.9v0.9h-0.9zM238.3 277.9h0.9v0.9h-0.9zM220.6 294.3h0.9v0.9h-0.9zM215.5 295.9h0.9v0.9h-0.9zM203.8 311.1h0.9v0.9h-0.9zM212.8 307.4h0.9v0.9h-0.9zM204.6 316.4h0.9v0.9h-0.9zM230.8 281.8h0.9v0.9h-0.9zM202.4 316.6h0.9v0.9h-0.9zM208.1 306.7h0.9v0.9h-0.9zM219.3 296.7h0.9v0.9h-0.9zM208.3 311.7h0.9v0.9h-0.9zM220.7 297.1h0.9v0.9h-0.9zM212.9 306.2h0.9v0.9h-0.9zM208.9 311.1h0.9v0.9h-0.9zM209.9 310.1h0.9v0.9h-0.9zM183.3 334.9h0.9v0.9h-0.9zM222.5 298.8h0.9v0.9h-0.9zM215.7 300.8h0.9v0.9h-0.9zM212.1 302.9h0.9v0.9h-0.9zM209.6 305.6h0.9v0.9h-0.9zM195.3 322.3h0.9v0.9h-0.9zM208.1 307.2h0.9v0.9h-0.9zM196.7 321.5h0.9v0.9h-0.9zM200.6 316.6h0.9v0.9h-0.9zM195.3 327.3h0.9v0.9h-0.9zM201.7 312.8h0.9v0.9h-0.9zM223.5 299.0h0.9v0.9h-0.9zM215.1 305.6h0.9v0.9h-0.9zM199.8 325.6h0.9v0.9h-0.9zM195.6 319.9h0.9v0.9h-0.9zM223.1 297.3h0.9v0.9h-0.9zM203.9 312.2h0.9v0.9h-0.9zM218.6 298.6h0.9v0.9h-0.9zM230.0 289.8h0.9v0.9h-0.9zM222.8 298.9h0.9v0.9h-0.9zM196.5 326.0h0.9v0.9h-0.9zM177.9 338.0h0.9v0.9h-0.9zM227.6 288.8h0.9v0.9h-0.9zM190.3 327.6h0.9v0.9h-0.9zM191.2 330.0h0.9v0.9h-0.9zM201.8 318.1h0.9v0.9h-0.9zM204.5 315.8h0.9v0.9h-0.9zM217.2 304.4h0.9v0.9h-0.9zM199.1 318.9h0.9v0.9h-0.9zM197.3 322.5h0.9v0.9h-0.9zM222.2 303.3h0.9v0.9h-0.9zM196.3 323.4h0.9v0.9h-0.9zM242.3 275.0h0.9v0.9h-0.9zM189.1 327.2h0.9v0.9h-0.9zM208.5 309.0h0.9v0.9h-0.9zM223.7 296.1h0.9v0.9h-0.9zM209.4 311.0h0.9v0.9h-0.9zM184.3 328.0h0.9v0.9h-0.9zM206.3 309.3h0.9v0.9h-0.9zM221.4 295.9h0.9v0.9h-0.9zM196.8 317.5h0.9v0.9h-0.9zM183.5 327.1h0.9v0.9h-0.9zM205.3 308.6h0.9v0.9h-0.9zM181.9 338.8h0.9v0.9h-0.9zM212.1 301.8h0.9v0.9h-0.9zM220.3 303.6h0.9v0.9h-0.9zM210.0 308.3h0.9v0.9h-0.9zM193.2 324.8h0.9v0.9h-0.9zM225.4 299.5h0.9v0.9h-0.9zM229.1 296.2h0.9v0.9h-0.9zM221.4 293.2h0.9v0.9h-0.9zM204.6 316.8h0.9v0.9h-0.9zM215.8 304.6h0.9v0.9h-0.9zM197.9 317.5h0.9v0.9h-0.9zM223.6 293.9h0.9v0.9h-0.9zM200.9 313.9h0.9v0.9h-0.9zM195.0 328.2h0.9v0.9h-0.9zM209.7 317.3h0.9v0.9h-0.9zM212.9 300.5h0.9v0.9h-0.9zM205.4 309.9h0.9v0.9h-0.9zM205.6 311.8h0.9v0.9h-0.9zM193.8 320.6h0.9v0.9h-0.9zM210.9 310.9h0.9v0.9h-0.9zM207.2 311.6h0.9v0.9h-0.9zM208.5 308.8h0.9v0.9h-0.9zM203.1 309.2h0.9v0.9h-0.9zM204.2 308.4h0.9v0.9h-0.9zM197.1 320.6h0.9v0.9h-0.9zM228.3 283.9h0.9v0.9h-0.9zM188.0 332.2h0.9v0.9h-0.9zM210.1 306.5h0.9v0.9h-0.9zM224.8 297.3h0.9v0.9h-0.9zM185.6 332.7h0.9v0.9h-0.9zM186.8 332.6h0.9v0.9h-0.9zM218.0 301.8h0.9v0.9h-0.9zM240.3 276.6h0.9v0.9h-0.9zM220.9 295.6h0.9v0.9h-0.9zM202.0 314.7h0.9v0.9h-0.9zM200.8 317.4h0.9v0.9h-0.9zM201.4 319.1h0.9v0.9h-0.9zM190.5 326.3h0.9v0.9h-0.9zM201.6 320.8h0.9v0.9h-0.9zM218.6 298.5h0.9v0.9h-0.9zM201.5 312.5h0.9v0.9h-0.9zM211.2 304.5h0.9v0.9h-0.9zM217.1 299.1h0.9v0.9h-0.9zM201.3 321.3h0.9v0.9h-0.9zM204.1 316.7h0.9v0.9h-0.9zM210.7 308.9h0.9v0.9h-0.9zM196.9 320.6h0.9v0.9h-0.9zM209.3 309.8h0.9v0.9h-0.9zM213.9 300.3h0.9v0.9h-0.9zM212.2 314.3h0.9v0.9h-0.9zM186.9 332.4h0.9v0.9h-0.9zM213.0 308.8h0.9v0.9h-0.9zM207.1 315.0h0.9v0.9h-0.9zM207.2 310.8h0.9v0.9h-0.9zM192.1 325.0h0.9v0.9h-0.9zM206.8 308.1h0.9v0.9h-0.9zM206.0 311.8h0.9v0.9h-0.9zM199.7 317.5h0.9v0.9h-0.9zM194.4 317.0h0.9v0.9h-0.9zM205.8 313.1h0.9v0.9h-0.9zM180.7 332.4h0.9v0.9h-0.9zM210.3 307.2h0.9v0.9h-0.9zM204.6 321.0h0.9v0.9h-0.9zM223.7 300.7h0.9v0.9h-0.9zM181.0 331.2h0.9v0.9h-0.9zM201.4 317.1h0.9v0.9h-0.9zM211.8 307.6h0.9v0.9h-0.9zM213.4 310.2h0.9v0.9h-0.9zM205.1 319.6h0.9v0.9h-0.9zM219.9 298.7h0.9v0.9h-0.9zM200.4 315.7h0.9v0.9h-0.9zM214.6 305.0h0.9v0.9h-0.9zM207.5 312.2h0.9v0.9h-0.9zM201.0 310.8h0.9v0.9h-0.9zM197.8 321.0h0.9v0.9h-0.9zM197.8 318.6h0.9v0.9h-0.9zM202.9 320.6h0.9v0.9h-0.9zM212.6 307.7h0.9v0.9h-0.9zM200.1 318.6h0.9v0.9h-0.9zM195.2 325.3h0.9v0.9h-0.9zM214.7 303.1h0.9v0.9h-0.9zM209.3 309.4h0.9v0.9h-0.9zM214.9 304.6h0.9v0.9h-0.9zM205.3 306.7h0.9v0.9h-0.9zM230.3 291.5h0.9v0.9h-0.9zM218.5 303.4h0.9v0.9h-0.9zM212.6 308.2h0.9v0.9h-0.9zM215.5 306.6h0.9v0.9h-0.9zM218.1 296.5h0.9v0.9h-0.9zM209.7 309.2h0.9v0.9h-0.9zM216.4 301.4h0.9v0.9h-0.9zM204.4 312.8h0.9v0.9h-0.9zM225.4 289.2h0.9v0.9h-0.9zM203.7 311.2h0.9v0.9h-0.9zM214.0 300.7h0.9v0.9h-0.9zM202.5 314.2h0.9v0.9h-0.9zM203.3 310.7h0.9v0.9h-0.9zM217.0 302.9h0.9v0.9h-0.9zM184.9 333.7h0.9v0.9h-0.9zM205.2 312.5h0.9v0.9h-0.9zM188.3 338.2h0.9v0.9h-0.9zM189.0 332.2h0.9v0.9h-0.9zM195.4 325.1h0.9v0.9h-0.9zM194.4 328.9h0.9v0.9h-0.9zM186.9 325.3h0.9v0.9h-0.9zM182.8 337.6h0.9v0.9h-0.9zM178.8 325.9h0.9v0.9h-0.9zM191.7 324.1h0.9v0.9h-0.9zM186.2 332.3h0.9v0.9h-0.9zM191.7 319.7h0.9v0.9h-0.9zM186.2 321.2h0.9v0.9h-0.9zM182.7 328.6h0.9v0.9h-0.9zM201.0 319.1h0.9v0.9h-0.9zM189.4 330.0h0.9v0.9h-0.9zM182.8 334.0h0.9v0.9h-0.9zM191.2 331.2h0.9v0.9h-0.9zM194.7 325.7h0.9v0.9h-0.9zM196.3 319.2h0.9v0.9h-0.9zM192.9 325.0h0.9v0.9h-0.9zM194.0 332.6h0.9v0.9h-0.9zM190.9 324.7h0.9v0.9h-0.9zM182.0 330.3h0.9v0.9h-0.9zM187.1 324.6h0.9v0.9h-0.9zM190.4 318.6h0.9v0.9h-0.9zM189.4 322.6h0.9v0.9h-0.9zM197.2 326.6h0.9v0.9h-0.9zM190.0 330.6h0.9v0.9h-0.9zM195.0 325.3h0.9v0.9h-0.9zM191.9 329.5h0.9v0.9h-0.9zM184.7 330.0h0.9v0.9h-0.9zM182.0 333.8h0.9v0.9h-0.9zM179.2 338.7h0.9v0.9h-0.9zM189.4 334.7h0.9v0.9h-0.9zM187.3 328.4h0.9v0.9h-0.9zM188.6 323.1h0.9v0.9h-0.9zM184.8 328.9h0.9v0.9h-0.9zM188.0 336.3h0.9v0.9h-0.9zM192.4 325.1h0.9v0.9h-0.9zM190.4 321.8h0.9v0.9h-0.9zM194.1 325.2h0.9v0.9h-0.9zM194.5 326.8h0.9v0.9h-0.9zM186.1 328.1h0.9v0.9h-0.9zM191.7 323.4h0.9v0.9h-0.9zM191.2 322.3h0.9v0.9h-0.9zM192.1 318.5h0.9v0.9h-0.9zM188.7 327.3h0.9v0.9h-0.9zM187.1 333.7h0.9v0.9h-0.9zM197.5 323.2h0.9v0.9h-0.9zM195.5 322.1h0.9v0.9h-0.9zM186.8 324.6h0.9v0.9h-0.9zM180.0 338.0h0.9v0.9h-0.9zM188.7 333.5h0.9v0.9h-0.9zM198.3 324.5h0.9v0.9h-0.9zM186.1 329.1h0.9v0.9h-0.9zM186.0 327.6h0.9v0.9h-0.9zM198.4 324.0h0.9v0.9h-0.9zM191.7 326.7h0.9v0.9h-0.9zM194.1 330.2h0.9v0.9h-0.9zM189.2 332.6h0.9v0.9h-0.9zM195.0 328.1h0.9v0.9h-0.9zM191.9 326.3h0.9v0.9h-0.9zM191.5 321.1h0.9v0.9h-0.9zM182.9 336.7h0.9v0.9h-0.9zM196.5 320.5h0.9v0.9h-0.9zM201.7 319.4h0.9v0.9h-0.9zM193.2 324.1h0.9v0.9h-0.9zM190.5 330.2h0.9v0.9h-0.9zM195.8 319.7h0.9v0.9h-0.9zM197.6 321.0h0.9v0.9h-0.9zM189.7 332.7h0.9v0.9h-0.9zM193.9 330.5h0.9v0.9h-0.9zM189.3 323.1h0.9v0.9h-0.9zM187.2 332.0h0.9v0.9h-0.9zM191.0 328.2h0.9v0.9h-0.9zM196.2 322.9h0.9v0.9h-0.9zM201.5 316.9h0.9v0.9h-0.9zM182.3 336.2h0.9v0.9h-0.9zM193.3 322.9h0.9v0.9h-0.9zM184.8 335.2h0.9v0.9h-0.9zM191.2 333.2h0.9v0.9h-0.9zM190.8 320.1h0.9v0.9h-0.9zM189.0 335.2h0.9v0.9h-0.9zM190.0 322.3h0.9v0.9h-0.9zM188.0 328.3h0.9v0.9h-0.9zM192.7 321.4h0.9v0.9h-0.9zM185.6 335.1h0.9v0.9h-0.9zM200.6 316.6h0.9v0.9h-0.9zM187.5 332.9h0.9v0.9h-0.9zM183.5 325.7h0.9v0.9h-0.9zM184.8 332.9h0.9v0.9h-0.9zM199.5 322.5h0.9v0.9h-0.9zM193.1 324.9h0.9v0.9h-0.9zM189.2 324.2h0.9v0.9h-0.9zM198.7 319.9h0.9v0.9h-0.9zM188.7 336.3h0.9v0.9h-0.9zM188.6 333.5h0.9v0.9h-0.9zM195.2 328.3h0.9v0.9h-0.9zM185.1 328.8h0.9v0.9h-0.9zM189.5 328.4h0.9v0.9h-0.9zM188.9 326.6h0.9v0.9h-0.9zM189.3 327.9h0.9v0.9h-0.9zM190.3 323.4h0.9v0.9h-0.9zM183.9 330.8h0.9v0.9h-0.9zM199.3 324.8h0.9v0.9h-0.9zM188.5 324.1h0.9v0.9h-0.9zM189.0 332.0h0.9v0.9h-0.9zM188.0 329.2h0.9v0.9h-0.9zM191.2 324.3h0.9v0.9h-0.9zM192.1 329.2h0.9v0.9h-0.9zM194.1 324.8h0.9v0.9h-0.9zM201.3 323.0h0.9v0.9h-0.9zM195.6 331.7h0.9v0.9h-0.9zM184.5 336.2h0.9v0.9h-0.9zM191.9 324.6h0.9v0.9h-0.9zM190.4 324.9h0.9v0.9h-0.9zM188.1 322.5h0.9v0.9h-0.9zM190.3 328.0h0.9v0.9h-0.9zM181.6 333.4h0.9v0.9h-0.9zM194.5 333.2h0.9v0.9h-0.9zM190.7 324.8h0.9v0.9h-0.9zM188.8 326.3h0.9v0.9h-0.9zM196.8 317.2h0.9v0.9h-0.9zM199.4 318.4h0.9v0.9h-0.9zM180.1 335.0h0.9v0.9h-0.9zM197.0 313.4h0.9v0.9h-0.9zM187.6 335.2h0.9v0.9h-0.9zM189.8 330.3h0.9v0.9h-0.9zM208.8 317.2h0.9v0.9h-0.9zM200.7 320.7h0.9v0.9h-0.9zM195.9 322.4h0.9v0.9h-0.9zM187.9 334.2h0.9v0.9h-0.9zM191.6 326.3h0.9v0.9h-0.9zM196.2 327.0h0.9v0.9h-0.9zM186.5 331.4h0.9v0.9h-0.9zM193.7 325.6h0.9v0.9h-0.9zM180.4 329.3h0.9v0.9h-0.9zM197.3 319.1h0.9v0.9h-0.9zM191.6 328.0h0.9v0.9h-0.9zM187.2 331.3h0.9v0.9h-0.9zM198.0 319.9h0.9v0.9h-0.9zM198.0 325.4h0.9v0.9h-0.9zM201.2 322.5h0.9v0.9h-0.9zM181.4 330.8h0.9v0.9h-0.9zM188.2 330.1h0.9v0.9h-0.9zM191.7 328.5h0.9v0.9h-0.9zM192.3 327.1h0.9v0.9h-0.9zM190.4 325.6h0.9v0.9h-0.9zM189.8 327.8h0.9v0.9h-0.9zM193.3 330.2h0.9v0.9h-0.9zM178.1 328.8h0.9v0.9h-0.9zM196.2 326.3h0.9v0.9h-0.9zM200.7 322.9h0.9v0.9h-0.9zM184.0 333.0h0.9v0.9h-0.9zM187.7 335.3h0.9v0.9h-0.9zM189.5 325.3h0.9v0.9h-0.9zM182.7 330.2h0.9v0.9h-0.9zM183.0 327.6h0.9v0.9h-0.9zM188.6 328.5h0.9v0.9h-0.9zM185.0 334.6h0.9v0.9h-0.9zM182.9 335.5h0.9v0.9h-0.9zM192.8 319.3h0.9v0.9h-0.9zM185.8 332.2h0.9v0.9h-0.9zM196.5 324.1h0.9v0.9h-0.9zM187.8 332.0h0.9v0.9h-0.9zM197.5 327.0h0.9v0.9h-0.9zM186.2 327.0h0.9v0.9h-0.9zM184.1 335.3h0.9v0.9h-0.9zM193.0 324.3h0.9v0.9h-0.9zM190.3 328.0h0.9v0.9h-0.9zM186.0 329.3h0.9v0.9h-0.9zM202.0 316.6h0.9v0.9h-0.9zM196.7 315.4h0.9v0.9h-0.9zM183.8 331.3h0.9v0.9h-0.9zM192.5 329.8h0.9v0.9h-0.9zM187.6 327.7h0.9v0.9h-0.9zM185.9 330.5h0.9v0.9h-0.9zM194.2 325.5h0.9v0.9h-0.9zM196.1 324.5h0.9v0.9h-0.9zM199.1 324.6h0.9v0.9h-0.9zM183.2 331.0h0.9v0.9h-0.9zM193.2 323.8h0.9v0.9h-0.9zM194.4 318.0h0.9v0.9h-0.9zM181.5 338.1h0.9v0.9h-0.9zM189.3 329.0h0.9v0.9h-0.9zM187.2 331.5h0.9v0.9h-0.9zM192.1 321.2h0.9v0.9h-0.9zM185.0 335.8h0.9v0.9h-0.9zM187.9 324.8h0.9v0.9h-0.9zM187.1 325.2h0.9v0.9h-0.9zM185.7 329.7h0.9v0.9h-0.9zM188.7 325.2h0.9v0.9h-0.9zM184.0 336.1h0.9v0.9h-0.9zM185.2 333.0h0.9v0.9h-0.9zM184.3 330.0h0.9v0.9h-0.9zM196.9 325.6h0.9v0.9h-0.9zM199.2 321.8h0.9v0.9h-0.9zM189.1 327.6h0.9v0.9h-0.9zM186.9 327.3h0.9v0.9h-0.9zM180.3 332.5h0.9v0.9h-0.9zM184.1 334.7h0.9v0.9h-0.9zM191.5 326.2h0.9v0.9h-0.9zM196.9 322.5h0.9v0.9h-0.9zM189.4 329.9h0.9v0.9h-0.9zM187.7 331.2h0.9v0.9h-0.9zM186.2 328.5h0.9v0.9h-0.9zM194.6 324.9h0.9v0.9h-0.9zM197.0 320.8h0.9v0.9h-0.9zM185.8 322.2h0.9v0.9h-0.9zM187.8 327.7h0.9v0.9h-0.9zM194.5 328.4h0.9v0.9h-0.9zM188.7 330.7h0.9v0.9h-0.9zM189.5 326.3h0.9v0.9h-0.9zM195.4 320.3h0.9v0.9h-0.9zM194.0 325.6h0.9v0.9h-0.9zM182.1 333.6h0.9v0.9h-0.9zM197.4 313.9h0.9v0.9h-0.9zM202.4 309.9h0.9v0.9h-0.9zM188.6 339.4h0.9v0.9h-0.9zM187.9 328.5h0.9v0.9h-0.9zM194.1 324.0h0.9v0.9h-0.9zM197.6 321.3h0.9v0.9h-0.9zM182.3 336.7h0.9v0.9h-0.9zM200.8 320.4h0.9v0.9h-0.9zM197.3 321.2h0.9v0.9h-0.9zM193.5 322.7h0.9v0.9h-0.9zM190.0 326.9h0.9v0.9h-0.9zM181.2 336.0h0.9v0.9h-0.9zM195.4 329.9h0.9v0.9h-0.9zM190.7 334.7h0.9v0.9h-0.9zM194.4 326.8h0.9v0.9h-0.9zM192.5 333.0h0.9v0.9h-0.9zM183.6 331.8h0.9v0.9h-0.9zM199.7 315.0h0.9v0.9h-0.9zM199.1 309.2h0.9v0.9h-0.9zM185.2 336.2h0.9v0.9h-0.9zM193.2 326.6h0.9v0.9h-0.9zM182.8 329.4h0.9v0.9h-0.9zM195.9 324.5h0.9v0.9h-0.9zM185.7 330.7h0.9v0.9h-0.9zM193.9 325.1h0.9v0.9h-0.9zM190.4 331.9h0.9v0.9h-0.9zM195.7 325.1h0.9v0.9h-0.9zM181.6 335.7h0.9v0.9h-0.9zM192.3 323.8h0.9v0.9h-0.9zM194.3 328.1h0.9v0.9h-0.9zM190.7 322.3h0.9v0.9h-0.9zM192.6 326.8h0.9v0.9h-0.9zM200.0 322.2h0.9v0.9h-0.9zM200.5 323.8h0.9v0.9h-0.9zM184.5 326.5h0.9v0.9h-0.9zM192.3 328.0h0.9v0.9h-0.9zM186.3 330.4h0.9v0.9h-0.9zM187.9 328.9h0.9v0.9h-0.9zM201.9 320.3h0.9v0.9h-0.9zM186.4 332.3h0.9v0.9h-0.9zM189.6 316.7h0.9v0.9h-0.9zM200.7 320.6h0.9v0.9h-0.9zM192.3 321.0h0.9v0.9h-0.9zM197.9 322.7h0.9v0.9h-0.9zM184.4 330.7h0.9v0.9h-0.9zM187.4 327.2h0.9v0.9h-0.9zM186.8 331.0h0.9v0.9h-0.9zM199.4 321.1h0.9v0.9h-0.9zM188.3 325.3h0.9v0.9h-0.9zM189.7 333.5h0.9v0.9h-0.9zM189.4 325.9h0.9v0.9h-0.9zM197.6 322.3h0.9v0.9h-0.9zM188.3 337.3h0.9v0.9h-0.9zM194.2 322.1h0.9v0.9h-0.9zM192.3 326.8h0.9v0.9h-0.9zM191.6 329.3h0.9v0.9h-0.9zM194.7 327.1h0.9v0.9h-0.9zM189.7 332.5h0.9v0.9h-0.9zM186.2 332.2h0.9v0.9h-0.9zM183.8 334.2h0.9v0.9h-0.9zM193.2 325.7h0.9v0.9h-0.9zM182.5 333.1h0.9v0.9h-0.9zM184.1 325.8h0.9v0.9h-0.9zM187.6 331.7h0.9v0.9h-0.9zM195.7 322.6h0.9v0.9h-0.9zM188.0 327.8h0.9v0.9h-0.9zM188.3 324.3h0.9v0.9h-0.9zM190.7 324.5h0.9v0.9h-0.9zM189.5 326.0h0.9v0.9h-0.9zM196.5 323.8h0.9v0.9h-0.9zM189.2 326.6h0.9v0.9h-0.9zM189.8 330.5h0.9v0.9h-0.9zM190.8 324.6h0.9v0.9h-0.9zM191.4 324.2h0.9v0.9h-0.9zM192.5 326.1h0.9v0.9h-0.9zM193.1 325.3h0.9v0.9h-0.9zM193.6 318.3h0.9v0.9h-0.9zM199.0 321.1h0.9v0.9h-0.9zM185.0 331.7h0.9v0.9h-0.9zM191.1 335.2h0.9v0.9h-0.9zM201.1 316.3h0.9v0.9h-0.9zM189.7 329.6h0.9v0.9h-0.9zM178.3 335.1h0.9v0.9h-0.9zM191.3 328.9h0.9v0.9h-0.9zM191.7 323.8h0.9v0.9h-0.9zM197.2 321.7h0.9v0.9h-0.9zM194.8 326.9h0.9v0.9h-0.9zM191.0 321.0h0.9v0.9h-0.9zM187.6 321.1h0.9v0.9h-0.9zM195.9 321.0h0.9v0.9h-0.9zM183.3 334.8h0.9v0.9h-0.9zM192.4 327.9h0.9v0.9h-0.9zM195.3 328.3h0.9v0.9h-0.9zM191.0 324.9h0.9v0.9h-0.9zM196.1 320.4h0.9v0.9h-0.9zM182.6 330.6h0.9v0.9h-0.9zM198.3 321.8h0.9v0.9h-0.9zM197.5 325.4h0.9v0.9h-0.9zM185.1 332.3h0.9v0.9h-0.9zM192.1 329.8h0.9v0.9h-0.9zM189.5 326.0h0.9v0.9h-0.9zM179.0 336.4h0.9v0.9h-0.9zM193.9 329.8h0.9v0.9h-0.9zM190.7 332.6h0.9v0.9h-0.9zM188.2 330.1h0.9v0.9h-0.9zM179.0 334.1h0.9v0.9h-0.9zM193.0 326.0h0.9v0.9h-0.9zM195.2 317.7h0.9v0.9h-0.9zM198.7 321.6h0.9v0.9h-0.9zM196.2 320.1h0.9v0.9h-0.9zM191.0 322.8h0.9v0.9h-0.9zM195.4 322.2h0.9v0.9h-0.9zM189.4 339.2h0.9v0.9h-0.9zM189.5 330.6h0.9v0.9h-0.9zM191.2 329.0h0.9v0.9h-0.9zM188.6 324.1h0.9v0.9h-0.9zM189.7 331.0h0.9v0.9h-0.9zM186.9 323.9h0.9v0.9h-0.9zM194.0 321.4h0.9v0.9h-0.9zM184.9 333.8h0.9v0.9h-0.9zM198.5 328.9h0.9v0.9h-0.9zM189.0 325.6h0.9v0.9h-0.9zM194.1 326.1h0.9v0.9h-0.9zM191.3 325.4h0.9v0.9h-0.9zM188.4 321.1h0.9v0.9h-0.9zM190.6 329.9h0.9v0.9h-0.9zM201.1 327.6h0.9v0.9h-0.9zM198.0 323.5h0.9v0.9h-0.9zM192.6 321.8h0.9v0.9h-0.9zM186.7 330.6h0.9v0.9h-0.9zM190.9 329.2h0.9v0.9h-0.9zM189.9 323.6h0.9v0.9h-0.9zM215.0 316.5h0.9v0.9h-0.9zM208.7 323.5h0.9v0.9h-0.9zM211.8 316.2h0.9v0.9h-0.9zM203.8 315.2h0.9v0.9h-0.9zM213.1 316.6h0.9v0.9h-0.9zM212.0 310.1h0.9v0.9h-0.9zM205.1 321.4h0.9v0.9h-0.9zM225.6 304.2h0.9v0.9h-0.9zM203.3 325.3h0.9v0.9h-0.9zM215.3 311.1h0.9v0.9h-0.9zM228.1 299.6h0.9v0.9h-0.9zM226.2 306.0h0.9v0.9h-0.9zM210.8 317.6h0.9v0.9h-0.9zM208.4 303.7h0.9v0.9h-0.9zM201.8 320.6h0.9v0.9h-0.9zM215.2 312.7h0.9v0.9h-0.9zM206.8 327.1h0.9v0.9h-0.9zM220.2 304.6h0.9v0.9h-0.9zM213.0 311.0h0.9v0.9h-0.9zM207.7 322.6h0.9v0.9h-0.9zM215.1 306.0h0.9v0.9h-0.9zM209.0 322.6h0.9v0.9h-0.9zM211.8 311.9h0.9v0.9h-0.9zM205.5 323.1h0.9v0.9h-0.9zM207.9 321.8h0.9v0.9h-0.9zM220.6 309.9h0.9v0.9h-0.9zM231.5 303.8h0.9v0.9h-0.9zM225.6 301.3h0.9v0.9h-0.9zM218.7 304.6h0.9v0.9h-0.9zM213.6 314.3h0.9v0.9h-0.9zM225.9 315.6h0.9v0.9h-0.9zM214.5 320.1h0.9v0.9h-0.9zM208.3 313.4h0.9v0.9h-0.9zM206.3 313.7h0.9v0.9h-0.9zM219.4 307.6h0.9v0.9h-0.9zM210.2 308.6h0.9v0.9h-0.9zM196.4 322.8h0.9v0.9h-0.9zM218.0 317.0h0.9v0.9h-0.9zM226.0 308.9h0.9v0.9h-0.9zM219.6 314.4h0.9v0.9h-0.9zM211.9 326.2h0.9v0.9h-0.9zM206.0 309.1h0.9v0.9h-0.9zM212.6 316.3h0.9v0.9h-0.9zM217.7 306.4h0.9v0.9h-0.9zM220.3 314.4h0.9v0.9h-0.9zM206.7 314.9h0.9v0.9h-0.9zM221.1 309.8h0.9v0.9h-0.9zM199.1 333.7h0.9v0.9h-0.9zM199.3 334.4h0.9v0.9h-0.9zM223.3 314.9h0.9v0.9h-0.9zM200.4 336.5h0.9v0.9h-0.9zM225.3 303.9h0.9v0.9h-0.9zM209.6 308.8h0.9v0.9h-0.9zM214.5 316.2h0.9v0.9h-0.9zM227.2 310.7h0.9v0.9h-0.9zM232.7 303.3h0.9v0.9h-0.9zM206.5 308.8h0.9v0.9h-0.9zM213.0 309.2h0.9v0.9h-0.9zM206.0 325.8h0.9v0.9h-0.9zM203.2 328.0h0.9v0.9h-0.9zM201.5 326.8h0.9v0.9h-0.9zM223.9 305.4h0.9v0.9h-0.9zM206.3 316.6h0.9v0.9h-0.9zM227.0 304.8h0.9v0.9h-0.9zM207.9 331.0h0.9v0.9h-0.9zM204.9 323.5h0.9v0.9h-0.9zM208.2 309.2h0.9v0.9h-0.9zM218.5 305.5h0.9v0.9h-0.9zM206.0 325.1h0.9v0.9h-0.9zM209.5 321.9h0.9v0.9h-0.9zM203.4 319.6h0.9v0.9h-0.9zM224.8 298.3h0.9v0.9h-0.9zM215.9 313.4h0.9v0.9h-0.9zM216.7 313.3h0.9v0.9h-0.9zM206.3 322.5h0.9v0.9h-0.9zM210.5 317.4h0.9v0.9h-0.9zM205.2 322.5h0.9v0.9h-0.9zM229.0 295.2h0.9v0.9h-0.9zM204.6 311.4h0.9v0.9h-0.9zM190.2 329.3h0.9v0.9h-0.9zM200.0 325.2h0.9v0.9h-0.9zM194.5 337.7h0.9v0.9h-0.9zM197.3 324.6h0.9v0.9h-0.9zM202.4 338.1h0.9v0.9h-0.9zM220.7 306.7h0.9v0.9h-0.9zM206.5 316.4h0.9v0.9h-0.9zM203.1 329.3h0.9v0.9h-0.9zM232.6 303.7h0.9v0.9h-0.9zM212.1 325.2h0.9v0.9h-0.9zM229.1 304.9h0.9v0.9h-0.9zM211.2 320.4h0.9v0.9h-0.9zM210.9 315.0h0.9v0.9h-0.9zM217.5 311.9h0.9v0.9h-0.9zM226.4 304.1h0.9v0.9h-0.9zM209.5 314.1h0.9v0.9h-0.9zM226.9 304.5h0.9v0.9h-0.9zM198.9 317.3h0.9v0.9h-0.9zM228.7 295.7h0.9v0.9h-0.9zM213.8 311.5h0.9v0.9h-0.9zM213.2 315.2h0.9v0.9h-0.9zM211.7 319.1h0.9v0.9h-0.9zM215.4 315.1h0.9v0.9h-0.9zM218.0 312.1h0.9v0.9h-0.9zM209.4 309.6h0.9v0.9h-0.9zM206.7 334.7h0.9v0.9h-0.9zM227.1 298.4h0.9v0.9h-0.9zM210.3 325.3h0.9v0.9h-0.9zM205.2 324.2h0.9v0.9h-0.9zM203.8 324.9h0.9v0.9h-0.9zM217.2 309.4h0.9v0.9h-0.9zM204.9 322.5h0.9v0.9h-0.9zM204.4 313.3h0.9v0.9h-0.9zM224.1 302.0h0.9v0.9h-0.9zM226.3 315.9h0.9v0.9h-0.9zM213.9 318.4h0.9v0.9h-0.9zM201.3 322.7h0.9v0.9h-0.9zM209.9 315.5h0.9v0.9h-0.9zM214.6 310.4h0.9v0.9h-0.9zM202.8 323.8h0.9v0.9h-0.9zM209.6 326.4h0.9v0.9h-0.9zM218.5 312.8h0.9v0.9h-0.9zM207.6 316.8h0.9v0.9h-0.9zM217.5 297.2h0.9v0.9h-0.9zM205.5 332.6h0.9v0.9h-0.9zM210.7 324.2h0.9v0.9h-0.9zM204.8 322.7h0.9v0.9h-0.9zM215.6 314.8h0.9v0.9h-0.9zM204.7 320.5h0.9v0.9h-0.9zM217.9 306.1h0.9v0.9h-0.9zM235.5 308.6h0.9v0.9h-0.9zM204.2 308.8h0.9v0.9h-0.9zM214.7 311.5h0.9v0.9h-0.9zM208.5 322.0h0.9v0.9h-0.9zM223.2 308.5h0.9v0.9h-0.9zM204.9 323.1h0.9v0.9h-0.9zM210.0 316.4h0.9v0.9h-0.9zM216.8 313.3h0.9v0.9h-0.9zM200.0 320.8h0.9v0.9h-0.9zM214.6 306.7h0.9v0.9h-0.9zM212.1 319.6h0.9v0.9h-0.9zM212.4 310.9h0.9v0.9h-0.9zM211.0 321.3h0.9v0.9h-0.9zM204.9 329.9h0.9v0.9h-0.9zM222.1 315.1h0.9v0.9h-0.9zM217.1 318.3h0.9v0.9h-0.9zM210.1 311.4h0.9v0.9h-0.9zM209.0 319.3h0.9v0.9h-0.9zM216.5 311.6h0.9v0.9h-0.9zM211.6 323.0h0.9v0.9h-0.9zM212.6 313.7h0.9v0.9h-0.9zM230.0 307.1h0.9v0.9h-0.9zM209.3 319.6h0.9v0.9h-0.9zM219.9 316.7h0.9v0.9h-0.9zM208.8 319.9h0.9v0.9h-0.9zM215.0 313.9h0.9v0.9h-0.9zM206.8 314.4h0.9v0.9h-0.9zM217.5 308.4h0.9v0.9h-0.9zM211.8 326.1h0.9v0.9h-0.9zM213.6 324.0h0.9v0.9h-0.9zM218.4 295.2h0.9v0.9h-0.9zM220.9 322.2h0.9v0.9h-0.9zM232.5 307.0h0.9v0.9h-0.9zM208.2 315.2h0.9v0.9h-0.9zM205.1 327.4h0.9v0.9h-0.9zM214.5 319.5h0.9v0.9h-0.9zM207.6 304.6h0.9v0.9h-0.9zM209.7 317.3h0.9v0.9h-0.9zM200.5 328.0h0.9v0.9h-0.9zM196.9 329.4h0.9v0.9h-0.9zM222.7 297.0h0.9v0.9h-0.9zM204.6 322.3h0.9v0.9h-0.9zM217.7 313.9h0.9v0.9h-0.9zM221.3 309.7h0.9v0.9h-0.9zM216.0 305.3h0.9v0.9h-0.9zM194.9 325.9h0.9v0.9h-0.9zM198.3 325.3h0.9v0.9h-0.9zM218.3 313.2h0.9v0.9h-0.9zM205.7 318.9h0.9v0.9h-0.9zM198.8 325.2h0.9v0.9h-0.9zM233.1 287.3h0.9v0.9h-0.9zM237.2 289.8h0.9v0.9h-0.9zM243.8 285.8h0.9v0.9h-0.9zM234.6 287.9h0.9v0.9h-0.9zM230.6 284.8h0.9v0.9h-0.9zM234.4 291.3h0.9v0.9h-0.9zM233.2 284.2h0.9v0.9h-0.9zM241.1 290.8h0.9v0.9h-0.9zM234.7 290.3h0.9v0.9h-0.9zM236.3 290.3h0.9v0.9h-0.9zM237.4 287.8h0.9v0.9h-0.9zM236.8 291.4h0.9v0.9h-0.9zM232.2 308.1h0.9v0.9h-0.9zM230.5 311.1h0.9v0.9h-0.9zM229.3 318.0h0.9v0.9h-0.9zM218.7 313.2h0.9v0.9h-0.9zM231.9 312.8h0.9v0.9h-0.9zM226.2 309.6h0.9v0.9h-0.9zM229.5 307.5h0.9v0.9h-0.9zM233.6 300.9h0.9v0.9h-0.9zM222.9 308.6h0.9v0.9h-0.9zM223.2 316.4h0.9v0.9h-0.9zM232.8 321.0h0.9v0.9h-0.9zM223.6 306.5h0.9v0.9h-0.9zM225.0 310.0h0.9v0.9h-0.9zM225.2 312.9h0.9v0.9h-0.9zM231.6 311.7h0.9v0.9h-0.9z" fill="#2525f5" fill-opacity="0.9"/>
<g filter="url(#b2)">
<ellipse cx="204" cy="314" rx="24" ry="3.6" transform="rotate(-44 204 314)" fill="#1a1af0" opacity="0.9"/>
</g>
<g filter="url(#b1)">
<ellipse cx="194.5" cy="322" rx="11" ry="3.4" transform="rotate(-44 194.5 322)" fill="#1fd0ff" opacity="0.95"/>
<ellipse cx="192.5" cy="323.3" rx="5" ry="2" transform="rotate(-43.5 192.5 323.3)" fill="#3cff3c"/>
<ellipse cx="192.2" cy="323.3" rx="1.8" ry="1.1" transform="rotate(-43.5 192.2 323.3)" fill="#ff9a2a"/>
</g>
</g>
<polygon points="186.1,335.3 190,318.5 190.8,317.2 226,288.8 233.2,288.3 230.8,292.2 187,335.8" fill="none" stroke="#222" stroke-width="0.9" />
<line x1="168.2" y1="282.3" x2="171.2" y2="282.3" stroke="#4a4a4a" stroke-width="0.9" />
<line x1="168.2" y1="316.8" x2="171.2" y2="316.8" stroke="#4a4a4a" stroke-width="0.9" />
<line x1="169.6" y1="254" x2="171.2" y2="254" stroke="#4a4a4a" stroke-width="0.7" />
<line x1="169.6" y1="260" x2="171.2" y2="260" stroke="#4a4a4a" stroke-width="0.7" />
<line x1="169.6" y1="266" x2="171.2" y2="266" stroke="#4a4a4a" stroke-width="0.7" />
<line x1="169.6" y1="271" x2="171.2" y2="271" stroke="#4a4a4a" stroke-width="0.7" />
<line x1="169.6" y1="275" x2="171.2" y2="275" stroke="#4a4a4a" stroke-width="0.7" />
<line x1="169.6" y1="279" x2="171.2" y2="279" stroke="#4a4a4a" stroke-width="0.7" />
<line x1="169.6" y1="294" x2="171.2" y2="294" stroke="#4a4a4a" stroke-width="0.7" />
<line x1="169.6" y1="301" x2="171.2" y2="301" stroke="#4a4a4a" stroke-width="0.7" />
<line x1="169.6" y1="306" x2="171.2" y2="306" stroke="#4a4a4a" stroke-width="0.7" />
<line x1="169.6" y1="310" x2="171.2" y2="310" stroke="#4a4a4a" stroke-width="0.7" />
<line x1="169.6" y1="313" x2="171.2" y2="313" stroke="#4a4a4a" stroke-width="0.7" />
<line x1="169.6" y1="323" x2="171.2" y2="323" stroke="#4a4a4a" stroke-width="0.7" />
<line x1="169.6" y1="329" x2="171.2" y2="329" stroke="#4a4a4a" stroke-width="0.7" />
<line x1="169.6" y1="333" x2="171.2" y2="333" stroke="#4a4a4a" stroke-width="0.7" />
<line x1="169.6" y1="336" x2="171.2" y2="336" stroke="#4a4a4a" stroke-width="0.7" />
<line x1="169.6" y1="339" x2="171.2" y2="339" stroke="#4a4a4a" stroke-width="0.7" />
<line x1="209.9" y1="340.7" x2="209.9" y2="343.7" stroke="#4a4a4a" stroke-width="0.9" />
<line x1="247.6" y1="340.7" x2="247.6" y2="343.7" stroke="#4a4a4a" stroke-width="0.9" />
<line x1="180" y1="340.7" x2="180" y2="342.3" stroke="#4a4a4a" stroke-width="0.7" />
<line x1="186" y1="340.7" x2="186" y2="342.3" stroke="#4a4a4a" stroke-width="0.7" />
<line x1="192" y1="340.7" x2="192" y2="342.3" stroke="#4a4a4a" stroke-width="0.7" />
<line x1="197" y1="340.7" x2="197" y2="342.3" stroke="#4a4a4a" stroke-width="0.7" />
<line x1="201" y1="340.7" x2="201" y2="342.3" stroke="#4a4a4a" stroke-width="0.7" />
<line x1="205" y1="340.7" x2="205" y2="342.3" stroke="#4a4a4a" stroke-width="0.7" />
<line x1="219" y1="340.7" x2="219" y2="342.3" stroke="#4a4a4a" stroke-width="0.7" />
<line x1="226" y1="340.7" x2="226" y2="342.3" stroke="#4a4a4a" stroke-width="0.7" />
<line x1="232" y1="340.7" x2="232" y2="342.3" stroke="#4a4a4a" stroke-width="0.7" />
<line x1="236" y1="340.7" x2="236" y2="342.3" stroke="#4a4a4a" stroke-width="0.7" />
<line x1="240" y1="340.7" x2="240" y2="342.3" stroke="#4a4a4a" stroke-width="0.7" />
<line x1="244" y1="340.7" x2="244" y2="342.3" stroke="#4a4a4a" stroke-width="0.7" />
<line x1="256" y1="340.7" x2="256" y2="342.3" stroke="#4a4a4a" stroke-width="0.7" />
<line x1="262" y1="340.7" x2="262" y2="342.3" stroke="#4a4a4a" stroke-width="0.7" />
<line x1="266" y1="340.7" x2="266" y2="342.3" stroke="#4a4a4a" stroke-width="0.7" />
<rect x="171.2" y="249.2" width="99.5" height="91.5" fill="none" stroke="#4a4a4a" stroke-width="1"/>
<text x="187.8" y="268.6" font-size="12.9" fill="#222" stroke="#222" stroke-width="0.22">Single cells</text>
<text x="187.8" y="281.8" font-size="12.7" fill="#222" stroke="#222" stroke-width="0.22">96.02%</text>
<line x1="160.5" y1="352.9" x2="160.5" y2="320.7" stroke="#000" stroke-width="1.6" marker-end="url(#ak)"/>
<line x1="159.7" y1="352.2" x2="192.1" y2="352.2" stroke="#000" stroke-width="1.6" marker-end="url(#ak)"/>
<text transform="translate(154.3,345) rotate(-90)" font-size="11.1" text-anchor="middle" fill="#111" stroke="#111" stroke-width="0.22">FSC-H</text>
<text x="162.2" y="363.8" font-size="11.1" fill="#111" stroke="#111" stroke-width="0.22">FSC-A</text>
<clipPath id="cp3"><rect x="306.9" y="250.8" width="97.8" height="89.6"/></clipPath>
<g clip-path="url(#cp3)">
<path d="M326.7 329.3h0.9v0.9h-0.9zM331.0 310.7h0.9v0.9h-0.9zM323.0 314.8h0.9v0.9h-0.9zM329.9 313.9h0.9v0.9h-0.9zM328.2 332.8h0.9v0.9h-0.9zM329.4 315.5h0.9v0.9h-0.9zM325.8 335.5h0.9v0.9h-0.9zM330.4 311.4h0.9v0.9h-0.9zM329.1 323.0h0.9v0.9h-0.9zM326.7 329.4h0.9v0.9h-0.9zM331.5 323.9h0.9v0.9h-0.9zM324.1 336.0h0.9v0.9h-0.9zM335.4 322.5h0.9v0.9h-0.9zM319.1 328.1h0.9v0.9h-0.9zM327.8 329.5h0.9v0.9h-0.9zM331.1 338.0h0.9v0.9h-0.9zM326.1 314.3h0.9v0.9h-0.9zM330.1 307.4h0.9v0.9h-0.9zM325.1 324.7h0.9v0.9h-0.9zM331.1 318.8h0.9v0.9h-0.9zM331.6 320.4h0.9v0.9h-0.9zM320.4 324.0h0.9v0.9h-0.9zM318.6 322.6h0.9v0.9h-0.9zM327.2 313.2h0.9v0.9h-0.9zM321.0 323.9h0.9v0.9h-0.9zM328.0 326.4h0.9v0.9h-0.9zM329.8 325.9h0.9v0.9h-0.9zM319.3 303.1h0.9v0.9h-0.9zM327.9 324.5h0.9v0.9h-0.9zM325.2 306.6h0.9v0.9h-0.9zM329.1 326.7h0.9v0.9h-0.9zM322.4 311.4h0.9v0.9h-0.9zM328.7 315.5h0.9v0.9h-0.9zM326.1 337.0h0.9v0.9h-0.9zM317.5 326.8h0.9v0.9h-0.9zM322.8 326.6h0.9v0.9h-0.9zM332.2 326.0h0.9v0.9h-0.9zM328.2 319.8h0.9v0.9h-0.9zM329.3 334.3h0.9v0.9h-0.9zM329.8 319.4h0.9v0.9h-0.9zM325.8 319.4h0.9v0.9h-0.9zM320.4 332.0h0.9v0.9h-0.9zM329.5 317.0h0.9v0.9h-0.9zM321.9 325.0h0.9v0.9h-0.9zM317.9 330.1h0.9v0.9h-0.9zM327.7 315.7h0.9v0.9h-0.9zM331.6 338.9h0.9v0.9h-0.9zM326.8 332.1h0.9v0.9h-0.9zM322.2 323.7h0.9v0.9h-0.9zM316.9 332.0h0.9v0.9h-0.9zM329.0 319.4h0.9v0.9h-0.9zM332.8 300.3h0.9v0.9h-0.9zM323.6 325.5h0.9v0.9h-0.9zM328.4 327.8h0.9v0.9h-0.9zM320.2 331.4h0.9v0.9h-0.9zM322.4 324.5h0.9v0.9h-0.9zM329.1 322.9h0.9v0.9h-0.9zM328.0 327.4h0.9v0.9h-0.9zM322.8 321.3h0.9v0.9h-0.9zM322.3 316.9h0.9v0.9h-0.9zM327.1 330.7h0.9v0.9h-0.9zM327.1 328.1h0.9v0.9h-0.9zM325.1 331.4h0.9v0.9h-0.9zM326.6 323.9h0.9v0.9h-0.9zM332.1 330.2h0.9v0.9h-0.9zM324.5 320.2h0.9v0.9h-0.9zM333.4 299.1h0.9v0.9h-0.9zM328.2 315.5h0.9v0.9h-0.9zM329.5 328.7h0.9v0.9h-0.9zM319.4 331.8h0.9v0.9h-0.9zM323.0 312.0h0.9v0.9h-0.9zM325.9 327.7h0.9v0.9h-0.9zM322.1 311.3h0.9v0.9h-0.9zM331.5 325.8h0.9v0.9h-0.9zM331.8 327.5h0.9v0.9h-0.9zM325.1 327.3h0.9v0.9h-0.9zM319.8 333.3h0.9v0.9h-0.9zM314.7 326.7h0.9v0.9h-0.9zM329.6 321.5h0.9v0.9h-0.9zM323.3 318.5h0.9v0.9h-0.9zM317.6 315.2h0.9v0.9h-0.9zM324.3 312.2h0.9v0.9h-0.9zM334.4 319.5h0.9v0.9h-0.9zM325.9 318.8h0.9v0.9h-0.9zM330.5 322.6h0.9v0.9h-0.9zM327.3 319.4h0.9v0.9h-0.9zM329.6 320.6h0.9v0.9h-0.9zM319.3 320.1h0.9v0.9h-0.9zM315.1 324.7h0.9v0.9h-0.9zM321.4 325.2h0.9v0.9h-0.9zM334.1 317.8h0.9v0.9h-0.9zM331.4 316.5h0.9v0.9h-0.9zM317.1 331.6h0.9v0.9h-0.9zM330.9 315.8h0.9v0.9h-0.9zM318.3 313.6h0.9v0.9h-0.9zM327.2 321.1h0.9v0.9h-0.9zM329.8 319.0h0.9v0.9h-0.9zM322.3 320.5h0.9v0.9h-0.9zM328.2 319.3h0.9v0.9h-0.9zM318.4 322.0h0.9v0.9h-0.9zM334.4 323.1h0.9v0.9h-0.9zM336.9 328.1h0.9v0.9h-0.9zM330.7 303.8h0.9v0.9h-0.9zM321.0 336.5h0.9v0.9h-0.9zM324.5 338.4h0.9v0.9h-0.9zM323.6 315.5h0.9v0.9h-0.9zM326.3 326.1h0.9v0.9h-0.9zM329.0 313.0h0.9v0.9h-0.9zM325.2 320.8h0.9v0.9h-0.9zM331.2 337.4h0.9v0.9h-0.9zM340.7 335.8h0.9v0.9h-0.9zM335.7 321.9h0.9v0.9h-0.9zM322.6 328.7h0.9v0.9h-0.9zM329.7 295.8h0.9v0.9h-0.9zM318.6 321.2h0.9v0.9h-0.9zM339.6 326.6h0.9v0.9h-0.9zM333.0 338.3h0.9v0.9h-0.9zM334.3 324.9h0.9v0.9h-0.9zM321.4 330.1h0.9v0.9h-0.9zM324.1 322.8h0.9v0.9h-0.9zM329.9 322.4h0.9v0.9h-0.9zM326.9 333.0h0.9v0.9h-0.9zM325.7 338.5h0.9v0.9h-0.9zM321.8 330.8h0.9v0.9h-0.9zM330.6 337.2h0.9v0.9h-0.9zM320.8 297.4h0.9v0.9h-0.9zM323.7 318.3h0.9v0.9h-0.9zM331.6 320.3h0.9v0.9h-0.9zM330.3 334.4h0.9v0.9h-0.9zM327.3 308.9h0.9v0.9h-0.9zM332.2 323.1h0.9v0.9h-0.9zM319.4 298.5h0.9v0.9h-0.9zM330.2 324.6h0.9v0.9h-0.9zM328.8 338.9h0.9v0.9h-0.9zM334.6 311.7h0.9v0.9h-0.9zM326.4 320.7h0.9v0.9h-0.9zM320.8 313.8h0.9v0.9h-0.9zM328.4 325.6h0.9v0.9h-0.9zM319.4 306.2h0.9v0.9h-0.9zM323.8 326.9h0.9v0.9h-0.9zM321.9 324.3h0.9v0.9h-0.9zM332.1 308.0h0.9v0.9h-0.9zM330.5 331.6h0.9v0.9h-0.9zM321.5 333.8h0.9v0.9h-0.9zM327.5 323.8h0.9v0.9h-0.9zM325.3 330.8h0.9v0.9h-0.9zM321.2 319.0h0.9v0.9h-0.9zM331.3 320.4h0.9v0.9h-0.9zM327.1 339.1h0.9v0.9h-0.9zM334.9 321.8h0.9v0.9h-0.9zM328.2 320.9h0.9v0.9h-0.9zM326.0 307.5h0.9v0.9h-0.9zM324.6 303.7h0.9v0.9h-0.9zM321.2 311.4h0.9v0.9h-0.9zM323.5 316.8h0.9v0.9h-0.9zM327.6 332.5h0.9v0.9h-0.9zM329.9 328.9h0.9v0.9h-0.9zM329.5 312.9h0.9v0.9h-0.9zM322.6 320.0h0.9v0.9h-0.9zM328.8 319.5h0.9v0.9h-0.9zM330.0 325.4h0.9v0.9h-0.9zM340.3 328.3h0.9v0.9h-0.9zM316.7 315.1h0.9v0.9h-0.9zM318.3 316.6h0.9v0.9h-0.9zM317.0 338.6h0.9v0.9h-0.9zM339.8 311.5h0.9v0.9h-0.9zM344.2 304.8h0.9v0.9h-0.9zM343.5 304.5h0.9v0.9h-0.9zM317.7 318.1h0.9v0.9h-0.9zM326.0 330.5h0.9v0.9h-0.9zM331.8 306.9h0.9v0.9h-0.9zM332.8 319.9h0.9v0.9h-0.9zM338.2 323.4h0.9v0.9h-0.9zM324.5 298.7h0.9v0.9h-0.9zM327.9 335.1h0.9v0.9h-0.9zM338.0 314.3h0.9v0.9h-0.9zM317.5 299.9h0.9v0.9h-0.9zM328.5 314.8h0.9v0.9h-0.9zM329.3 333.2h0.9v0.9h-0.9zM338.4 302.1h0.9v0.9h-0.9zM318.5 339.4h0.9v0.9h-0.9zM317.8 308.3h0.9v0.9h-0.9zM324.2 303.3h0.9v0.9h-0.9zM338.7 315.6h0.9v0.9h-0.9zM318.4 298.0h0.9v0.9h-0.9zM316.6 303.7h0.9v0.9h-0.9zM328.8 315.3h0.9v0.9h-0.9zM344.7 308.4h0.9v0.9h-0.9zM318.2 324.8h0.9v0.9h-0.9zM333.9 316.2h0.9v0.9h-0.9zM325.6 304.2h0.9v0.9h-0.9zM340.8 337.1h0.9v0.9h-0.9zM330.7 302.4h0.9v0.9h-0.9zM326.7 300.5h0.9v0.9h-0.9zM327.6 299.2h0.9v0.9h-0.9zM321.2 290.2h0.9v0.9h-0.9zM325.1 301.4h0.9v0.9h-0.9zM323.9 299.9h0.9v0.9h-0.9zM326.5 299.5h0.9v0.9h-0.9zM327.4 301.1h0.9v0.9h-0.9zM327.8 298.5h0.9v0.9h-0.9zM321.5 301.4h0.9v0.9h-0.9zM325.3 301.6h0.9v0.9h-0.9zM316.5 301.1h0.9v0.9h-0.9zM325.4 295.9h0.9v0.9h-0.9zM320.3 299.9h0.9v0.9h-0.9zM314.3 300.5h0.9v0.9h-0.9zM322.6 300.0h0.9v0.9h-0.9zM325.8 300.9h0.9v0.9h-0.9zM327.8 300.4h0.9v0.9h-0.9zM320.9 298.3h0.9v0.9h-0.9zM319.8 307.5h0.9v0.9h-0.9zM317.3 297.7h0.9v0.9h-0.9zM325.9 297.1h0.9v0.9h-0.9zM330.2 302.3h0.9v0.9h-0.9zM320.9 302.7h0.9v0.9h-0.9zM324.7 303.4h0.9v0.9h-0.9zM327.3 302.7h0.9v0.9h-0.9zM318.8 295.2h0.9v0.9h-0.9zM325.1 297.0h0.9v0.9h-0.9zM326.1 304.5h0.9v0.9h-0.9zM323.0 303.0h0.9v0.9h-0.9zM321.9 298.9h0.9v0.9h-0.9zM318.1 301.3h0.9v0.9h-0.9zM324.0 297.6h0.9v0.9h-0.9zM321.2 298.3h0.9v0.9h-0.9zM324.7 300.5h0.9v0.9h-0.9zM325.4 302.5h0.9v0.9h-0.9zM321.5 303.6h0.9v0.9h-0.9zM329.2 293.8h0.9v0.9h-0.9zM316.2 302.3h0.9v0.9h-0.9zM319.4 302.9h0.9v0.9h-0.9zM320.2 300.3h0.9v0.9h-0.9zM323.0 302.9h0.9v0.9h-0.9zM317.2 301.5h0.9v0.9h-0.9zM326.4 301.2h0.9v0.9h-0.9zM322.7 294.8h0.9v0.9h-0.9zM324.3 302.4h0.9v0.9h-0.9zM316.2 297.6h0.9v0.9h-0.9zM320.2 296.1h0.9v0.9h-0.9zM323.5 297.7h0.9v0.9h-0.9zM324.0 301.8h0.9v0.9h-0.9z" fill="#3a3af5" fill-opacity="0.85"/>
<polygon points="313.3,278 321,274.4 334,270 347,269.3 356,268.5 361.5,269.5 361.5,281.5 357,283.5 347.4,286 337,290 327,295.5 318,296.5 313.3,290" fill="#2020f5" stroke="none" stroke-width="1" filter="url(#b05)" opacity="0.8"/>
<path d="M348.2 282.3h0.9v0.9h-0.9zM328.9 290.2h0.9v0.9h-0.9zM359.8 279.2h0.9v0.9h-0.9zM332.5 279.9h0.9v0.9h-0.9zM342.6 272.7h0.9v0.9h-0.9zM352.7 283.8h0.9v0.9h-0.9zM318.6 284.3h0.9v0.9h-0.9zM322.2 285.0h0.9v0.9h-0.9zM352.8 281.6h0.9v0.9h-0.9zM344.0 285.2h0.9v0.9h-0.9zM329.8 279.9h0.9v0.9h-0.9zM347.5 285.0h0.9v0.9h-0.9zM330.3 273.4h0.9v0.9h-0.9zM333.2 289.2h0.9v0.9h-0.9zM325.4 294.2h0.9v0.9h-0.9zM319.7 291.0h0.9v0.9h-0.9zM339.6 278.8h0.9v0.9h-0.9zM334.9 275.8h0.9v0.9h-0.9zM317.8 282.4h0.9v0.9h-0.9zM336.6 276.8h0.9v0.9h-0.9zM322.5 288.0h0.9v0.9h-0.9zM321.2 291.1h0.9v0.9h-0.9zM313.5 289.9h0.9v0.9h-0.9zM324.7 288.5h0.9v0.9h-0.9zM357.7 277.8h0.9v0.9h-0.9zM316.4 292.5h0.9v0.9h-0.9zM331.0 275.3h0.9v0.9h-0.9zM357.7 277.0h0.9v0.9h-0.9zM315.0 283.5h0.9v0.9h-0.9zM345.2 285.0h0.9v0.9h-0.9zM325.9 292.3h0.9v0.9h-0.9zM337.7 288.4h0.9v0.9h-0.9zM340.7 285.9h0.9v0.9h-0.9zM340.7 286.5h0.9v0.9h-0.9zM327.6 277.4h0.9v0.9h-0.9zM336.3 275.9h0.9v0.9h-0.9zM334.4 271.6h0.9v0.9h-0.9zM336.0 274.2h0.9v0.9h-0.9zM318.1 278.2h0.9v0.9h-0.9zM346.3 278.7h0.9v0.9h-0.9zM315.9 282.3h0.9v0.9h-0.9zM352.4 282.7h0.9v0.9h-0.9zM347.2 270.9h0.9v0.9h-0.9zM352.8 272.7h0.9v0.9h-0.9zM340.9 279.8h0.9v0.9h-0.9zM345.3 279.5h0.9v0.9h-0.9zM324.2 292.4h0.9v0.9h-0.9zM345.0 275.8h0.9v0.9h-0.9zM335.7 271.8h0.9v0.9h-0.9zM360.4 281.0h0.9v0.9h-0.9zM321.6 288.0h0.9v0.9h-0.9zM315.8 288.8h0.9v0.9h-0.9zM349.8 271.7h0.9v0.9h-0.9zM337.7 273.0h0.9v0.9h-0.9zM331.2 281.3h0.9v0.9h-0.9zM325.0 290.1h0.9v0.9h-0.9zM342.3 276.0h0.9v0.9h-0.9zM350.8 272.9h0.9v0.9h-0.9zM334.5 282.0h0.9v0.9h-0.9zM342.5 276.5h0.9v0.9h-0.9zM320.0 292.7h0.9v0.9h-0.9zM320.3 279.1h0.9v0.9h-0.9zM315.8 285.9h0.9v0.9h-0.9zM324.5 287.2h0.9v0.9h-0.9zM336.2 276.9h0.9v0.9h-0.9zM341.0 271.8h0.9v0.9h-0.9zM322.0 289.1h0.9v0.9h-0.9zM335.1 275.8h0.9v0.9h-0.9zM351.9 271.4h0.9v0.9h-0.9zM317.0 279.0h0.9v0.9h-0.9zM361.3 277.0h0.9v0.9h-0.9zM326.6 278.7h0.9v0.9h-0.9zM335.0 287.6h0.9v0.9h-0.9zM343.9 287.0h0.9v0.9h-0.9zM322.6 291.0h0.9v0.9h-0.9zM326.9 272.6h0.9v0.9h-0.9zM353.1 271.5h0.9v0.9h-0.9zM322.0 280.0h0.9v0.9h-0.9zM334.0 282.4h0.9v0.9h-0.9zM352.8 274.2h0.9v0.9h-0.9zM347.5 272.7h0.9v0.9h-0.9zM328.1 286.3h0.9v0.9h-0.9zM344.5 275.4h0.9v0.9h-0.9zM341.6 276.8h0.9v0.9h-0.9zM352.8 270.8h0.9v0.9h-0.9zM317.5 281.9h0.9v0.9h-0.9zM319.9 282.9h0.9v0.9h-0.9zM353.0 280.5h0.9v0.9h-0.9zM325.4 273.0h0.9v0.9h-0.9zM320.0 287.8h0.9v0.9h-0.9zM321.1 282.8h0.9v0.9h-0.9zM326.5 278.7h0.9v0.9h-0.9zM359.3 281.9h0.9v0.9h-0.9zM350.9 270.0h0.9v0.9h-0.9zM335.7 281.2h0.9v0.9h-0.9zM345.7 279.9h0.9v0.9h-0.9zM352.8 272.5h0.9v0.9h-0.9zM324.2 281.4h0.9v0.9h-0.9zM332.9 292.2h0.9v0.9h-0.9zM328.9 274.5h0.9v0.9h-0.9zM333.0 292.1h0.9v0.9h-0.9zM326.8 276.9h0.9v0.9h-0.9zM346.3 275.0h0.9v0.9h-0.9zM357.9 272.6h0.9v0.9h-0.9zM357.0 277.0h0.9v0.9h-0.9zM341.6 281.4h0.9v0.9h-0.9zM358.8 270.2h0.9v0.9h-0.9zM332.2 273.9h0.9v0.9h-0.9zM328.0 288.2h0.9v0.9h-0.9zM326.2 282.1h0.9v0.9h-0.9zM332.2 287.2h0.9v0.9h-0.9zM346.0 280.8h0.9v0.9h-0.9zM325.4 272.9h0.9v0.9h-0.9zM358.3 273.7h0.9v0.9h-0.9zM314.4 288.8h0.9v0.9h-0.9zM337.0 272.8h0.9v0.9h-0.9zM329.4 293.5h0.9v0.9h-0.9zM323.0 282.7h0.9v0.9h-0.9zM351.2 275.4h0.9v0.9h-0.9zM357.3 279.9h0.9v0.9h-0.9zM316.0 280.0h0.9v0.9h-0.9zM318.6 293.6h0.9v0.9h-0.9zM316.9 292.4h0.9v0.9h-0.9zM325.8 278.6h0.9v0.9h-0.9zM349.5 283.7h0.9v0.9h-0.9zM354.8 278.2h0.9v0.9h-0.9zM346.1 269.7h0.9v0.9h-0.9zM339.9 272.2h0.9v0.9h-0.9zM346.2 272.0h0.9v0.9h-0.9zM330.8 274.2h0.9v0.9h-0.9zM342.3 277.4h0.9v0.9h-0.9zM316.6 288.7h0.9v0.9h-0.9zM320.5 279.6h0.9v0.9h-0.9zM328.9 277.5h0.9v0.9h-0.9zM322.7 292.6h0.9v0.9h-0.9zM344.4 271.5h0.9v0.9h-0.9zM332.5 292.4h0.9v0.9h-0.9zM326.2 275.0h0.9v0.9h-0.9zM349.0 275.3h0.9v0.9h-0.9zM356.6 272.3h0.9v0.9h-0.9zM341.5 270.6h0.9v0.9h-0.9zM315.3 280.8h0.9v0.9h-0.9zM324.4 287.1h0.9v0.9h-0.9zM352.7 274.0h0.9v0.9h-0.9zM359.3 281.7h0.9v0.9h-0.9zM339.4 280.7h0.9v0.9h-0.9zM339.6 281.6h0.9v0.9h-0.9zM324.4 274.2h0.9v0.9h-0.9zM324.1 285.4h0.9v0.9h-0.9zM327.5 291.0h0.9v0.9h-0.9zM315.5 285.5h0.9v0.9h-0.9zM349.9 272.8h0.9v0.9h-0.9zM353.8 269.8h0.9v0.9h-0.9zM315.7 290.3h0.9v0.9h-0.9zM349.0 269.5h0.9v0.9h-0.9zM355.7 274.3h0.9v0.9h-0.9zM351.6 281.0h0.9v0.9h-0.9zM315.1 277.7h0.9v0.9h-0.9zM358.8 274.0h0.9v0.9h-0.9zM319.6 294.9h0.9v0.9h-0.9zM328.9 272.0h0.9v0.9h-0.9zM348.3 278.0h0.9v0.9h-0.9zM339.8 279.4h0.9v0.9h-0.9zM337.5 272.8h0.9v0.9h-0.9zM322.9 293.6h0.9v0.9h-0.9zM327.7 276.9h0.9v0.9h-0.9zM339.2 276.5h0.9v0.9h-0.9zM356.8 280.8h0.9v0.9h-0.9zM336.0 283.4h0.9v0.9h-0.9zM346.4 270.8h0.9v0.9h-0.9zM333.0 284.5h0.9v0.9h-0.9zM322.1 295.3h0.9v0.9h-0.9zM333.7 277.9h0.9v0.9h-0.9zM343.0 286.6h0.9v0.9h-0.9zM353.7 277.0h0.9v0.9h-0.9zM349.6 285.3h0.9v0.9h-0.9zM332.0 287.2h0.9v0.9h-0.9zM341.3 276.1h0.9v0.9h-0.9zM326.8 288.8h0.9v0.9h-0.9zM361.5 273.3h0.9v0.9h-0.9zM352.6 272.6h0.9v0.9h-0.9zM335.0 278.8h0.9v0.9h-0.9zM345.3 281.5h0.9v0.9h-0.9zM321.5 284.3h0.9v0.9h-0.9zM318.8 294.9h0.9v0.9h-0.9zM339.3 273.9h0.9v0.9h-0.9zM318.3 281.4h0.9v0.9h-0.9zM329.2 275.0h0.9v0.9h-0.9zM347.0 281.4h0.9v0.9h-0.9zM331.8 282.8h0.9v0.9h-0.9zM336.7 283.3h0.9v0.9h-0.9zM343.1 273.9h0.9v0.9h-0.9zM318.0 275.9h0.9v0.9h-0.9zM357.7 278.3h0.9v0.9h-0.9zM318.5 281.8h0.9v0.9h-0.9zM322.9 282.1h0.9v0.9h-0.9zM318.0 279.6h0.9v0.9h-0.9zM330.0 277.4h0.9v0.9h-0.9zM326.9 292.9h0.9v0.9h-0.9zM322.1 274.6h0.9v0.9h-0.9zM332.8 273.9h0.9v0.9h-0.9zM324.1 294.6h0.9v0.9h-0.9zM323.1 288.5h0.9v0.9h-0.9zM340.0 275.3h0.9v0.9h-0.9zM345.0 271.7h0.9v0.9h-0.9zM329.3 277.4h0.9v0.9h-0.9zM326.9 286.8h0.9v0.9h-0.9zM325.4 293.9h0.9v0.9h-0.9zM352.5 277.1h0.9v0.9h-0.9zM326.8 274.2h0.9v0.9h-0.9zM345.9 284.6h0.9v0.9h-0.9zM340.9 286.1h0.9v0.9h-0.9zM318.4 278.7h0.9v0.9h-0.9zM331.0 278.7h0.9v0.9h-0.9zM356.7 272.3h0.9v0.9h-0.9zM322.3 288.1h0.9v0.9h-0.9zM350.4 281.3h0.9v0.9h-0.9zM358.4 282.6h0.9v0.9h-0.9zM348.4 280.0h0.9v0.9h-0.9zM335.6 275.7h0.9v0.9h-0.9zM331.1 280.2h0.9v0.9h-0.9zM314.4 283.7h0.9v0.9h-0.9zM355.5 269.0h0.9v0.9h-0.9zM341.4 281.9h0.9v0.9h-0.9zM321.3 289.4h0.9v0.9h-0.9zM331.3 271.6h0.9v0.9h-0.9zM348.0 284.6h0.9v0.9h-0.9zM350.6 279.6h0.9v0.9h-0.9zM355.6 270.0h0.9v0.9h-0.9zM355.4 269.5h0.9v0.9h-0.9zM334.7 281.9h0.9v0.9h-0.9zM338.9 276.3h0.9v0.9h-0.9zM355.7 270.2h0.9v0.9h-0.9zM315.6 282.6h0.9v0.9h-0.9zM337.5 271.8h0.9v0.9h-0.9zM315.9 289.9h0.9v0.9h-0.9zM335.5 285.5h0.9v0.9h-0.9zM353.2 272.4h0.9v0.9h-0.9zM347.6 280.5h0.9v0.9h-0.9zM328.4 287.7h0.9v0.9h-0.9zM350.2 270.4h0.9v0.9h-0.9zM316.2 288.6h0.9v0.9h-0.9zM316.8 291.4h0.9v0.9h-0.9zM340.4 288.6h0.9v0.9h-0.9zM337.1 285.8h0.9v0.9h-0.9zM313.9 286.0h0.9v0.9h-0.9zM332.6 286.4h0.9v0.9h-0.9zM339.7 270.6h0.9v0.9h-0.9zM346.8 272.0h0.9v0.9h-0.9zM318.2 294.1h0.9v0.9h-0.9zM359.3 274.3h0.9v0.9h-0.9zM340.2 285.4h0.9v0.9h-0.9zM340.3 286.5h0.9v0.9h-0.9zM348.7 278.6h0.9v0.9h-0.9zM326.7 285.4h0.9v0.9h-0.9zM353.0 270.0h0.9v0.9h-0.9zM360.0 279.8h0.9v0.9h-0.9zM354.8 270.5h0.9v0.9h-0.9zM353.5 269.8h0.9v0.9h-0.9zM336.0 280.6h0.9v0.9h-0.9zM325.1 276.0h0.9v0.9h-0.9zM353.1 270.1h0.9v0.9h-0.9zM336.1 277.6h0.9v0.9h-0.9zM339.6 273.8h0.9v0.9h-0.9zM357.4 270.0h0.9v0.9h-0.9zM349.0 275.8h0.9v0.9h-0.9zM340.9 283.6h0.9v0.9h-0.9zM326.4 276.4h0.9v0.9h-0.9zM354.4 282.2h0.9v0.9h-0.9zM318.5 287.6h0.9v0.9h-0.9zM351.2 277.4h0.9v0.9h-0.9zM343.5 270.7h0.9v0.9h-0.9zM326.0 277.9h0.9v0.9h-0.9zM355.9 283.0h0.9v0.9h-0.9zM344.5 275.8h0.9v0.9h-0.9zM332.3 290.2h0.9v0.9h-0.9zM336.7 283.6h0.9v0.9h-0.9zM342.7 286.6h0.9v0.9h-0.9zM335.4 275.1h0.9v0.9h-0.9zM317.6 278.6h0.9v0.9h-0.9zM321.2 283.4h0.9v0.9h-0.9zM316.7 286.1h0.9v0.9h-0.9zM335.9 274.4h0.9v0.9h-0.9zM329.3 284.1h0.9v0.9h-0.9zM344.3 281.9h0.9v0.9h-0.9zM332.5 277.6h0.9v0.9h-0.9zM317.9 288.5h0.9v0.9h-0.9zM328.5 285.0h0.9v0.9h-0.9zM343.3 285.7h0.9v0.9h-0.9zM321.6 279.9h0.9v0.9h-0.9zM326.5 278.5h0.9v0.9h-0.9zM326.5 285.0h0.9v0.9h-0.9zM332.7 277.6h0.9v0.9h-0.9zM339.2 286.1h0.9v0.9h-0.9zM327.0 275.4h0.9v0.9h-0.9zM333.0 280.9h0.9v0.9h-0.9zM317.7 286.2h0.9v0.9h-0.9zM336.9 275.4h0.9v0.9h-0.9zM330.1 276.4h0.9v0.9h-0.9zM340.4 283.4h0.9v0.9h-0.9zM327.7 281.1h0.9v0.9h-0.9zM319.3 277.2h0.9v0.9h-0.9zM352.9 276.5h0.9v0.9h-0.9zM327.4 284.3h0.9v0.9h-0.9zM317.1 281.9h0.9v0.9h-0.9zM337.0 284.2h0.9v0.9h-0.9zM315.0 279.6h0.9v0.9h-0.9zM343.9 277.3h0.9v0.9h-0.9zM322.1 291.1h0.9v0.9h-0.9zM358.7 280.0h0.9v0.9h-0.9zM339.0 276.1h0.9v0.9h-0.9zM330.7 278.6h0.9v0.9h-0.9zM316.5 287.2h0.9v0.9h-0.9zM340.3 270.1h0.9v0.9h-0.9zM317.9 295.6h0.9v0.9h-0.9zM336.5 275.4h0.9v0.9h-0.9zM359.0 273.5h0.9v0.9h-0.9zM350.4 272.6h0.9v0.9h-0.9zM319.9 291.4h0.9v0.9h-0.9zM335.8 273.0h0.9v0.9h-0.9zM329.4 279.9h0.9v0.9h-0.9zM350.7 279.0h0.9v0.9h-0.9zM316.7 293.9h0.9v0.9h-0.9zM325.4 292.6h0.9v0.9h-0.9zM335.1 270.1h0.9v0.9h-0.9zM317.1 276.9h0.9v0.9h-0.9zM349.6 281.7h0.9v0.9h-0.9zM325.3 289.8h0.9v0.9h-0.9zM343.5 278.5h0.9v0.9h-0.9zM314.4 281.5h0.9v0.9h-0.9zM328.8 277.6h0.9v0.9h-0.9zM322.8 274.7h0.9v0.9h-0.9zM323.9 279.9h0.9v0.9h-0.9zM342.3 273.0h0.9v0.9h-0.9zM326.8 277.5h0.9v0.9h-0.9zM331.6 284.1h0.9v0.9h-0.9zM332.9 275.9h0.9v0.9h-0.9zM328.3 293.6h0.9v0.9h-0.9zM318.2 293.0h0.9v0.9h-0.9zM355.8 278.2h0.9v0.9h-0.9zM323.2 280.9h0.9v0.9h-0.9zM346.6 277.1h0.9v0.9h-0.9zM357.7 278.0h0.9v0.9h-0.9zM338.2 272.1h0.9v0.9h-0.9zM325.9 277.6h0.9v0.9h-0.9zM359.7 273.0h0.9v0.9h-0.9zM327.8 273.7h0.9v0.9h-0.9zM341.0 286.2h0.9v0.9h-0.9zM329.9 277.5h0.9v0.9h-0.9zM330.9 283.0h0.9v0.9h-0.9zM339.1 281.5h0.9v0.9h-0.9zM329.6 275.8h0.9v0.9h-0.9zM326.5 275.1h0.9v0.9h-0.9zM318.3 281.8h0.9v0.9h-0.9zM333.0 289.7h0.9v0.9h-0.9zM337.7 274.4h0.9v0.9h-0.9zM334.1 280.9h0.9v0.9h-0.9zM331.0 292.1h0.9v0.9h-0.9zM343.6 280.3h0.9v0.9h-0.9zM327.8 288.2h0.9v0.9h-0.9zM341.5 284.1h0.9v0.9h-0.9zM319.5 286.4h0.9v0.9h-0.9zM343.3 278.7h0.9v0.9h-0.9zM357.8 282.6h0.9v0.9h-0.9zM332.8 291.5h0.9v0.9h-0.9zM331.4 283.5h0.9v0.9h-0.9zM316.4 278.2h0.9v0.9h-0.9zM355.1 271.7h0.9v0.9h-0.9zM317.8 283.3h0.9v0.9h-0.9zM349.4 274.2h0.9v0.9h-0.9zM331.7 291.4h0.9v0.9h-0.9zM322.3 291.0h0.9v0.9h-0.9zM343.2 274.3h0.9v0.9h-0.9zM340.7 276.2h0.9v0.9h-0.9zM350.8 283.8h0.9v0.9h-0.9zM335.5 285.0h0.9v0.9h-0.9zM334.5 282.5h0.9v0.9h-0.9zM350.8 270.3h0.9v0.9h-0.9zM346.8 270.9h0.9v0.9h-0.9zM359.2 282.2h0.9v0.9h-0.9zM358.6 274.1h0.9v0.9h-0.9zM321.7 281.9h0.9v0.9h-0.9zM323.1 274.1h0.9v0.9h-0.9zM318.9 294.1h0.9v0.9h-0.9zM338.1 282.0h0.9v0.9h-0.9zM343.8 276.9h0.9v0.9h-0.9zM334.6 289.0h0.9v0.9h-0.9zM345.9 285.7h0.9v0.9h-0.9zM346.8 281.7h0.9v0.9h-0.9zM326.7 273.3h0.9v0.9h-0.9zM343.3 285.2h0.9v0.9h-0.9zM339.8 280.3h0.9v0.9h-0.9zM342.6 283.8h0.9v0.9h-0.9zM349.7 279.9h0.9v0.9h-0.9zM342.2 276.5h0.9v0.9h-0.9zM344.6 285.4h0.9v0.9h-0.9zM323.2 282.4h0.9v0.9h-0.9zM323.4 274.4h0.9v0.9h-0.9zM328.5 288.0h0.9v0.9h-0.9zM330.5 289.6h0.9v0.9h-0.9zM331.9 282.8h0.9v0.9h-0.9zM328.7 290.9h0.9v0.9h-0.9zM345.0 278.5h0.9v0.9h-0.9zM342.6 275.4h0.9v0.9h-0.9zM329.2 289.2h0.9v0.9h-0.9zM330.4 283.6h0.9v0.9h-0.9zM355.0 268.9h0.9v0.9h-0.9zM355.5 282.1h0.9v0.9h-0.9zM315.9 284.0h0.9v0.9h-0.9zM358.5 280.3h0.9v0.9h-0.9zM351.2 279.4h0.9v0.9h-0.9zM352.2 269.1h0.9v0.9h-0.9zM324.6 273.6h0.9v0.9h-0.9zM333.2 286.7h0.9v0.9h-0.9zM322.4 289.8h0.9v0.9h-0.9zM344.6 279.7h0.9v0.9h-0.9zM344.3 284.4h0.9v0.9h-0.9zM328.3 290.2h0.9v0.9h-0.9zM318.3 293.1h0.9v0.9h-0.9zM339.5 286.9h0.9v0.9h-0.9zM361.1 276.2h0.9v0.9h-0.9zM317.1 282.4h0.9v0.9h-0.9zM353.4 274.2h0.9v0.9h-0.9zM333.2 279.1h0.9v0.9h-0.9zM323.0 285.6h0.9v0.9h-0.9zM361.2 273.1h0.9v0.9h-0.9zM335.7 280.4h0.9v0.9h-0.9zM349.4 269.4h0.9v0.9h-0.9zM360.3 279.4h0.9v0.9h-0.9zM334.1 270.4h0.9v0.9h-0.9zM350.9 278.0h0.9v0.9h-0.9zM331.6 292.5h0.9v0.9h-0.9zM328.9 292.3h0.9v0.9h-0.9zM315.3 278.0h0.9v0.9h-0.9zM338.4 289.4h0.9v0.9h-0.9zM353.8 273.2h0.9v0.9h-0.9zM341.6 285.9h0.9v0.9h-0.9zM323.9 281.8h0.9v0.9h-0.9zM355.9 274.1h0.9v0.9h-0.9zM353.9 274.6h0.9v0.9h-0.9zM338.9 274.0h0.9v0.9h-0.9zM357.6 273.9h0.9v0.9h-0.9zM322.1 284.5h0.9v0.9h-0.9zM320.0 276.2h0.9v0.9h-0.9zM314.9 277.3h0.9v0.9h-0.9zM316.0 290.4h0.9v0.9h-0.9zM352.5 281.7h0.9v0.9h-0.9zM323.5 283.4h0.9v0.9h-0.9zM339.3 277.6h0.9v0.9h-0.9zM331.1 287.9h0.9v0.9h-0.9zM337.8 271.9h0.9v0.9h-0.9zM334.7 276.0h0.9v0.9h-0.9zM345.8 269.4h0.9v0.9h-0.9zM321.3 287.6h0.9v0.9h-0.9zM340.7 285.6h0.9v0.9h-0.9zM350.4 273.0h0.9v0.9h-0.9zM345.9 277.2h0.9v0.9h-0.9zM347.4 280.1h0.9v0.9h-0.9zM358.2 272.3h0.9v0.9h-0.9zM347.7 278.5h0.9v0.9h-0.9zM337.9 270.3h0.9v0.9h-0.9zM335.2 289.1h0.9v0.9h-0.9zM328.1 280.4h0.9v0.9h-0.9zM342.2 279.6h0.9v0.9h-0.9zM352.2 271.1h0.9v0.9h-0.9zM321.9 277.4h0.9v0.9h-0.9zM321.3 291.6h0.9v0.9h-0.9zM320.6 276.8h0.9v0.9h-0.9zM341.8 272.8h0.9v0.9h-0.9zM338.9 273.3h0.9v0.9h-0.9zM334.1 284.3h0.9v0.9h-0.9zM345.4 270.5h0.9v0.9h-0.9zM335.1 278.4h0.9v0.9h-0.9zM349.4 275.6h0.9v0.9h-0.9zM360.2 281.1h0.9v0.9h-0.9zM355.6 279.2h0.9v0.9h-0.9zM326.1 291.8h0.9v0.9h-0.9zM334.2 286.0h0.9v0.9h-0.9zM328.6 286.9h0.9v0.9h-0.9zM331.4 278.3h0.9v0.9h-0.9zM318.9 278.0h0.9v0.9h-0.9zM344.6 273.5h0.9v0.9h-0.9zM350.1 283.5h0.9v0.9h-0.9zM351.2 269.2h0.9v0.9h-0.9zM332.3 279.0h0.9v0.9h-0.9zM336.0 271.1h0.9v0.9h-0.9zM319.5 283.0h0.9v0.9h-0.9zM349.8 270.4h0.9v0.9h-0.9zM332.6 277.9h0.9v0.9h-0.9zM325.4 273.1h0.9v0.9h-0.9zM334.3 280.5h0.9v0.9h-0.9zM350.2 274.5h0.9v0.9h-0.9zM333.4 278.1h0.9v0.9h-0.9zM321.4 290.6h0.9v0.9h-0.9zM359.2 276.2h0.9v0.9h-0.9zM328.6 277.8h0.9v0.9h-0.9zM353.1 279.1h0.9v0.9h-0.9zM315.3 289.5h0.9v0.9h-0.9zM344.9 279.8h0.9v0.9h-0.9zM328.9 277.1h0.9v0.9h-0.9zM321.6 279.7h0.9v0.9h-0.9zM330.3 281.8h0.9v0.9h-0.9zM331.5 278.3h0.9v0.9h-0.9zM347.6 283.1h0.9v0.9h-0.9zM314.2 289.4h0.9v0.9h-0.9zM318.2 281.6h0.9v0.9h-0.9zM360.6 272.8h0.9v0.9h-0.9zM326.7 284.6h0.9v0.9h-0.9zM353.5 272.8h0.9v0.9h-0.9zM349.9 272.6h0.9v0.9h-0.9zM318.8 294.3h0.9v0.9h-0.9zM335.2 283.0h0.9v0.9h-0.9zM351.6 271.3h0.9v0.9h-0.9zM321.8 293.0h0.9v0.9h-0.9zM359.7 276.4h0.9v0.9h-0.9zM355.3 280.6h0.9v0.9h-0.9zM356.2 274.8h0.9v0.9h-0.9zM360.2 272.9h0.9v0.9h-0.9zM328.4 275.5h0.9v0.9h-0.9zM330.3 279.8h0.9v0.9h-0.9zM335.7 286.0h0.9v0.9h-0.9zM322.1 285.1h0.9v0.9h-0.9zM336.0 276.8h0.9v0.9h-0.9zM346.9 278.8h0.9v0.9h-0.9zM337.2 282.9h0.9v0.9h-0.9zM316.6 276.8h0.9v0.9h-0.9zM338.1 270.0h0.9v0.9h-0.9zM343.6 283.7h0.9v0.9h-0.9zM320.9 288.8h0.9v0.9h-0.9zM358.2 282.8h0.9v0.9h-0.9zM333.6 275.5h0.9v0.9h-0.9zM314.2 280.9h0.9v0.9h-0.9zM344.7 279.1h0.9v0.9h-0.9zM327.7 293.9h0.9v0.9h-0.9zM322.2 274.7h0.9v0.9h-0.9zM345.0 286.7h0.9v0.9h-0.9zM343.6 284.3h0.9v0.9h-0.9zM356.7 279.5h0.9v0.9h-0.9zM326.2 279.9h0.9v0.9h-0.9zM356.2 280.4h0.9v0.9h-0.9zM322.1 286.0h0.9v0.9h-0.9zM353.0 271.6h0.9v0.9h-0.9zM354.4 280.2h0.9v0.9h-0.9zM317.6 295.4h0.9v0.9h-0.9zM328.3 290.2h0.9v0.9h-0.9zM335.1 274.4h0.9v0.9h-0.9zM339.5 286.4h0.9v0.9h-0.9zM323.3 290.8h0.9v0.9h-0.9zM315.9 291.5h0.9v0.9h-0.9zM315.8 284.0h0.9v0.9h-0.9zM357.6 281.7h0.9v0.9h-0.9zM352.7 278.3h0.9v0.9h-0.9zM333.7 286.7h0.9v0.9h-0.9zM350.5 283.3h0.9v0.9h-0.9zM340.4 272.7h0.9v0.9h-0.9zM324.3 275.2h0.9v0.9h-0.9zM355.6 273.6h0.9v0.9h-0.9zM344.1 285.0h0.9v0.9h-0.9zM316.2 278.0h0.9v0.9h-0.9zM356.5 273.3h0.9v0.9h-0.9zM315.8 282.1h0.9v0.9h-0.9zM325.5 295.2h0.9v0.9h-0.9zM347.1 278.4h0.9v0.9h-0.9zM349.1 279.6h0.9v0.9h-0.9zM339.7 278.1h0.9v0.9h-0.9zM341.1 283.2h0.9v0.9h-0.9zM336.5 285.8h0.9v0.9h-0.9zM331.3 282.5h0.9v0.9h-0.9zM336.2 270.3h0.9v0.9h-0.9zM320.3 294.9h0.9v0.9h-0.9zM323.4 283.5h0.9v0.9h-0.9zM326.8 285.8h0.9v0.9h-0.9zM335.2 289.2h0.9v0.9h-0.9zM340.1 288.5h0.9v0.9h-0.9zM327.3 288.4h0.9v0.9h-0.9zM321.5 276.9h0.9v0.9h-0.9zM316.5 288.7h0.9v0.9h-0.9zM325.9 293.1h0.9v0.9h-0.9zM328.7 282.2h0.9v0.9h-0.9zM336.5 289.7h0.9v0.9h-0.9zM330.1 292.4h0.9v0.9h-0.9zM352.6 279.4h0.9v0.9h-0.9zM323.4 276.3h0.9v0.9h-0.9zM320.6 280.5h0.9v0.9h-0.9zM316.1 281.9h0.9v0.9h-0.9zM360.5 278.6h0.9v0.9h-0.9zM348.2 281.0h0.9v0.9h-0.9zM329.1 286.3h0.9v0.9h-0.9zM326.1 284.1h0.9v0.9h-0.9zM318.7 285.8h0.9v0.9h-0.9zM322.4 280.6h0.9v0.9h-0.9zM319.5 294.1h0.9v0.9h-0.9zM343.1 281.0h0.9v0.9h-0.9zM346.7 285.4h0.9v0.9h-0.9zM325.1 295.5h0.9v0.9h-0.9zM350.0 275.5h0.9v0.9h-0.9zM322.8 295.6h0.9v0.9h-0.9zM351.4 281.7h0.9v0.9h-0.9zM327.1 282.3h0.9v0.9h-0.9zM343.6 282.0h0.9v0.9h-0.9zM345.4 282.8h0.9v0.9h-0.9zM360.5 280.2h0.9v0.9h-0.9zM331.8 270.9h0.9v0.9h-0.9zM341.0 281.7h0.9v0.9h-0.9zM324.9 289.0h0.9v0.9h-0.9zM326.1 289.9h0.9v0.9h-0.9zM326.9 279.5h0.9v0.9h-0.9zM339.7 271.5h0.9v0.9h-0.9zM356.6 273.8h0.9v0.9h-0.9zM343.5 281.0h0.9v0.9h-0.9zM355.3 281.3h0.9v0.9h-0.9zM316.8 292.5h0.9v0.9h-0.9zM338.4 273.3h0.9v0.9h-0.9zM359.4 271.1h0.9v0.9h-0.9zM332.1 280.8h0.9v0.9h-0.9zM349.8 281.9h0.9v0.9h-0.9zM323.2 283.6h0.9v0.9h-0.9zM326.8 281.5h0.9v0.9h-0.9zM332.5 285.2h0.9v0.9h-0.9zM327.4 294.8h0.9v0.9h-0.9zM320.1 292.8h0.9v0.9h-0.9zM331.7 281.8h0.9v0.9h-0.9zM327.9 282.6h0.9v0.9h-0.9zM352.8 270.4h0.9v0.9h-0.9zM340.5 272.5h0.9v0.9h-0.9zM341.0 272.8h0.9v0.9h-0.9zM323.9 287.8h0.9v0.9h-0.9zM354.6 279.5h0.9v0.9h-0.9zM341.3 279.1h0.9v0.9h-0.9zM328.8 288.9h0.9v0.9h-0.9zM333.9 288.0h0.9v0.9h-0.9zM324.2 284.1h0.9v0.9h-0.9zM359.3 282.2h0.9v0.9h-0.9zM357.2 279.1h0.9v0.9h-0.9zM344.6 272.4h0.9v0.9h-0.9zM332.4 272.7h0.9v0.9h-0.9zM320.6 292.3h0.9v0.9h-0.9zM316.4 290.7h0.9v0.9h-0.9zM329.4 291.2h0.9v0.9h-0.9zM343.5 273.5h0.9v0.9h-0.9zM333.7 283.9h0.9v0.9h-0.9zM361.4 276.4h0.9v0.9h-0.9zM315.4 283.7h0.9v0.9h-0.9zM332.7 277.2h0.9v0.9h-0.9zM348.9 281.7h0.9v0.9h-0.9zM330.4 292.2h0.9v0.9h-0.9zM332.0 288.9h0.9v0.9h-0.9zM319.4 276.6h0.9v0.9h-0.9zM338.5 281.0h0.9v0.9h-0.9zM335.3 289.1h0.9v0.9h-0.9zM321.5 285.7h0.9v0.9h-0.9zM321.7 282.4h0.9v0.9h-0.9zM319.9 278.7h0.9v0.9h-0.9zM329.8 292.4h0.9v0.9h-0.9zM339.3 279.8h0.9v0.9h-0.9zM318.9 296.3h0.9v0.9h-0.9zM358.3 276.7h0.9v0.9h-0.9zM321.4 292.7h0.9v0.9h-0.9zM320.7 296.0h0.9v0.9h-0.9zM324.6 293.9h0.9v0.9h-0.9zM331.8 283.1h0.9v0.9h-0.9zM321.4 283.8h0.9v0.9h-0.9zM320.4 296.1h0.9v0.9h-0.9zM315.9 280.9h0.9v0.9h-0.9zM350.4 279.3h0.9v0.9h-0.9zM316.2 277.3h0.9v0.9h-0.9zM326.4 292.0h0.9v0.9h-0.9zM343.9 283.6h0.9v0.9h-0.9zM314.8 291.3h0.9v0.9h-0.9zM333.4 288.5h0.9v0.9h-0.9zM350.2 269.4h0.9v0.9h-0.9zM318.5 284.8h0.9v0.9h-0.9zM328.6 290.7h0.9v0.9h-0.9zM343.2 276.7h0.9v0.9h-0.9zM331.0 275.9h0.9v0.9h-0.9zM351.2 279.2h0.9v0.9h-0.9zM344.3 285.6h0.9v0.9h-0.9zM328.5 279.6h0.9v0.9h-0.9zM330.2 272.2h0.9v0.9h-0.9zM322.3 293.9h0.9v0.9h-0.9zM321.9 278.0h0.9v0.9h-0.9zM313.4 288.0h0.9v0.9h-0.9zM324.8 294.5h0.9v0.9h-0.9zM336.2 290.5h0.9v0.9h-0.9zM336.3 290.3h0.9v0.9h-0.9zM336.6 273.4h0.9v0.9h-0.9zM329.5 273.0h0.9v0.9h-0.9zM359.7 273.8h0.9v0.9h-0.9zM328.8 277.4h0.9v0.9h-0.9zM341.9 272.0h0.9v0.9h-0.9zM340.8 270.1h0.9v0.9h-0.9zM328.4 292.7h0.9v0.9h-0.9zM316.8 282.0h0.9v0.9h-0.9zM351.4 273.5h0.9v0.9h-0.9zM329.6 284.7h0.9v0.9h-0.9zM343.1 270.6h0.9v0.9h-0.9zM332.1 280.8h0.9v0.9h-0.9zM344.3 284.2h0.9v0.9h-0.9zM334.8 271.4h0.9v0.9h-0.9zM343.0 276.8h0.9v0.9h-0.9zM341.6 285.0h0.9v0.9h-0.9zM354.0 283.7h0.9v0.9h-0.9zM318.4 277.7h0.9v0.9h-0.9zM334.2 285.6h0.9v0.9h-0.9zM320.4 290.7h0.9v0.9h-0.9zM353.1 271.1h0.9v0.9h-0.9zM347.1 280.4h0.9v0.9h-0.9zM332.7 290.7h0.9v0.9h-0.9zM319.7 275.3h0.9v0.9h-0.9zM358.4 269.6h0.9v0.9h-0.9zM337.3 273.9h0.9v0.9h-0.9zM325.9 293.3h0.9v0.9h-0.9zM355.2 276.3h0.9v0.9h-0.9zM353.6 271.3h0.9v0.9h-0.9zM316.5 283.8h0.9v0.9h-0.9zM327.4 285.7h0.9v0.9h-0.9zM330.6 280.0h0.9v0.9h-0.9zM357.6 283.2h0.9v0.9h-0.9zM323.7 287.3h0.9v0.9h-0.9zM358.2 273.8h0.9v0.9h-0.9zM345.4 271.3h0.9v0.9h-0.9zM324.8 280.2h0.9v0.9h-0.9zM340.9 274.8h0.9v0.9h-0.9zM337.6 276.7h0.9v0.9h-0.9zM333.9 289.7h0.9v0.9h-0.9zM337.5 278.1h0.9v0.9h-0.9zM346.7 274.3h0.9v0.9h-0.9zM339.8 280.9h0.9v0.9h-0.9zM324.7 274.8h0.9v0.9h-0.9zM341.8 278.7h0.9v0.9h-0.9zM341.8 287.2h0.9v0.9h-0.9zM317.4 285.9h0.9v0.9h-0.9zM359.8 272.3h0.9v0.9h-0.9zM315.0 285.0h0.9v0.9h-0.9zM347.2 278.4h0.9v0.9h-0.9zM329.6 278.1h0.9v0.9h-0.9zM342.0 284.4h0.9v0.9h-0.9zM356.4 278.0h0.9v0.9h-0.9zM314.6 281.5h0.9v0.9h-0.9zM326.7 282.6h0.9v0.9h-0.9zM345.1 280.9h0.9v0.9h-0.9zM332.8 271.5h0.9v0.9h-0.9zM334.4 273.6h0.9v0.9h-0.9zM354.8 270.6h0.9v0.9h-0.9zM316.2 285.2h0.9v0.9h-0.9zM339.4 277.6h0.9v0.9h-0.9zM340.0 287.2h0.9v0.9h-0.9zM336.5 274.9h0.9v0.9h-0.9zM353.7 282.8h0.9v0.9h-0.9zM347.6 272.7h0.9v0.9h-0.9zM321.1 281.9h0.9v0.9h-0.9zM341.7 278.6h0.9v0.9h-0.9zM338.8 281.9h0.9v0.9h-0.9zM315.4 291.8h0.9v0.9h-0.9zM336.8 272.4h0.9v0.9h-0.9zM342.4 282.0h0.9v0.9h-0.9zM357.9 277.1h0.9v0.9h-0.9zM327.2 293.7h0.9v0.9h-0.9zM325.7 278.3h0.9v0.9h-0.9zM324.6 285.3h0.9v0.9h-0.9zM319.5 277.5h0.9v0.9h-0.9zM338.1 284.6h0.9v0.9h-0.9zM345.2 280.2h0.9v0.9h-0.9zM334.0 284.0h0.9v0.9h-0.9zM327.7 281.0h0.9v0.9h-0.9zM318.5 285.9h0.9v0.9h-0.9zM316.1 286.3h0.9v0.9h-0.9zM329.6 291.8h0.9v0.9h-0.9zM339.6 277.1h0.9v0.9h-0.9zM345.4 276.4h0.9v0.9h-0.9zM316.1 289.4h0.9v0.9h-0.9zM354.4 276.3h0.9v0.9h-0.9zM323.9 289.4h0.9v0.9h-0.9zM354.7 281.9h0.9v0.9h-0.9zM317.1 284.1h0.9v0.9h-0.9zM354.1 274.9h0.9v0.9h-0.9zM338.2 286.5h0.9v0.9h-0.9zM342.3 278.8h0.9v0.9h-0.9zM332.9 287.5h0.9v0.9h-0.9zM325.7 289.4h0.9v0.9h-0.9zM314.0 290.8h0.9v0.9h-0.9zM351.3 269.8h0.9v0.9h-0.9zM354.6 277.1h0.9v0.9h-0.9zM341.4 286.5h0.9v0.9h-0.9zM344.8 284.2h0.9v0.9h-0.9zM326.0 275.1h0.9v0.9h-0.9zM326.5 280.2h0.9v0.9h-0.9zM318.1 296.0h0.9v0.9h-0.9zM331.8 284.3h0.9v0.9h-0.9zM351.2 269.9h0.9v0.9h-0.9zM340.6 272.2h0.9v0.9h-0.9zM323.8 277.4h0.9v0.9h-0.9zM347.1 270.4h0.9v0.9h-0.9zM333.8 281.2h0.9v0.9h-0.9zM325.9 290.1h0.9v0.9h-0.9zM337.4 289.1h0.9v0.9h-0.9zM321.4 284.4h0.9v0.9h-0.9zM325.0 294.4h0.9v0.9h-0.9zM341.3 273.0h0.9v0.9h-0.9zM326.4 285.5h0.9v0.9h-0.9zM333.7 275.4h0.9v0.9h-0.9zM317.3 292.1h0.9v0.9h-0.9zM359.5 269.1h0.9v0.9h-0.9zM342.7 271.0h0.9v0.9h-0.9zM325.6 284.8h0.9v0.9h-0.9zM359.7 281.3h0.9v0.9h-0.9zM347.5 278.3h0.9v0.9h-0.9zM341.5 278.5h0.9v0.9h-0.9zM357.5 282.6h0.9v0.9h-0.9zM356.8 270.0h0.9v0.9h-0.9zM359.7 282.0h0.9v0.9h-0.9zM320.8 278.2h0.9v0.9h-0.9zM332.1 289.4h0.9v0.9h-0.9zM353.2 270.9h0.9v0.9h-0.9zM320.8 290.2h0.9v0.9h-0.9zM349.1 280.2h0.9v0.9h-0.9zM326.6 286.9h0.9v0.9h-0.9zM341.7 275.3h0.9v0.9h-0.9zM336.3 272.9h0.9v0.9h-0.9zM351.9 269.4h0.9v0.9h-0.9zM330.1 279.6h0.9v0.9h-0.9zM321.5 291.9h0.9v0.9h-0.9zM339.7 280.2h0.9v0.9h-0.9zM324.1 281.7h0.9v0.9h-0.9zM330.7 292.8h0.9v0.9h-0.9zM344.4 275.4h0.9v0.9h-0.9zM353.2 284.5h0.9v0.9h-0.9zM331.7 286.9h0.9v0.9h-0.9zM360.5 273.2h0.9v0.9h-0.9zM353.2 282.5h0.9v0.9h-0.9zM326.6 285.2h0.9v0.9h-0.9zM345.5 276.7h0.9v0.9h-0.9zM335.7 276.1h0.9v0.9h-0.9zM330.0 285.4h0.9v0.9h-0.9zM351.9 278.5h0.9v0.9h-0.9zM315.2 283.2h0.9v0.9h-0.9zM346.9 277.7h0.9v0.9h-0.9zM327.2 279.9h0.9v0.9h-0.9zM323.2 278.4h0.9v0.9h-0.9zM340.5 279.3h0.9v0.9h-0.9zM318.5 288.3h0.9v0.9h-0.9zM333.5 273.6h0.9v0.9h-0.9zM348.1 278.7h0.9v0.9h-0.9zM315.7 291.4h0.9v0.9h-0.9zM339.7 283.5h0.9v0.9h-0.9zM324.5 295.1h0.9v0.9h-0.9zM334.2 280.4h0.9v0.9h-0.9zM354.1 281.2h0.9v0.9h-0.9zM317.6 292.3h0.9v0.9h-0.9zM322.0 289.7h0.9v0.9h-0.9zM342.1 278.6h0.9v0.9h-0.9zM320.4 276.6h0.9v0.9h-0.9zM335.5 288.5h0.9v0.9h-0.9zM330.3 293.1h0.9v0.9h-0.9zM334.9 271.9h0.9v0.9h-0.9zM320.6 281.6h0.9v0.9h-0.9zM328.0 293.3h0.9v0.9h-0.9zM314.5 286.2h0.9v0.9h-0.9zM354.9 280.8h0.9v0.9h-0.9zM339.5 270.7h0.9v0.9h-0.9zM314.4 279.2h0.9v0.9h-0.9zM315.0 283.0h0.9v0.9h-0.9zM315.9 280.4h0.9v0.9h-0.9zM324.5 289.7h0.9v0.9h-0.9zM357.4 274.8h0.9v0.9h-0.9zM325.0 274.5h0.9v0.9h-0.9zM330.6 273.6h0.9v0.9h-0.9zM321.0 295.2h0.9v0.9h-0.9zM336.1 284.0h0.9v0.9h-0.9zM352.8 280.3h0.9v0.9h-0.9zM334.7 279.3h0.9v0.9h-0.9zM333.7 277.9h0.9v0.9h-0.9zM342.8 279.5h0.9v0.9h-0.9zM340.3 283.6h0.9v0.9h-0.9zM324.7 273.5h0.9v0.9h-0.9zM324.3 285.0h0.9v0.9h-0.9zM317.2 293.3h0.9v0.9h-0.9zM320.1 278.1h0.9v0.9h-0.9zM344.1 284.4h0.9v0.9h-0.9zM334.3 271.7h0.9v0.9h-0.9zM316.2 276.9h0.9v0.9h-0.9zM359.2 277.9h0.9v0.9h-0.9zM344.9 281.2h0.9v0.9h-0.9zM329.7 285.6h0.9v0.9h-0.9zM325.7 287.6h0.9v0.9h-0.9zM326.0 278.1h0.9v0.9h-0.9zM326.5 276.7h0.9v0.9h-0.9zM331.5 283.3h0.9v0.9h-0.9zM339.5 275.8h0.9v0.9h-0.9zM346.6 271.8h0.9v0.9h-0.9zM332.3 283.6h0.9v0.9h-0.9zM313.9 280.5h0.9v0.9h-0.9zM358.4 270.5h0.9v0.9h-0.9zM338.5 278.0h0.9v0.9h-0.9zM355.5 273.0h0.9v0.9h-0.9zM351.6 280.5h0.9v0.9h-0.9zM313.7 283.2h0.9v0.9h-0.9zM326.5 290.8h0.9v0.9h-0.9zM355.6 281.2h0.9v0.9h-0.9zM322.7 294.1h0.9v0.9h-0.9zM353.6 271.9h0.9v0.9h-0.9zM342.4 287.9h0.9v0.9h-0.9zM352.8 272.6h0.9v0.9h-0.9zM344.9 279.9h0.9v0.9h-0.9zM324.1 291.1h0.9v0.9h-0.9zM327.4 284.3h0.9v0.9h-0.9zM332.8 290.3h0.9v0.9h-0.9zM335.6 274.3h0.9v0.9h-0.9zM324.9 292.2h0.9v0.9h-0.9zM358.7 271.6h0.9v0.9h-0.9zM348.4 270.4h0.9v0.9h-0.9zM348.3 272.1h0.9v0.9h-0.9zM322.8 288.1h0.9v0.9h-0.9zM316.2 287.7h0.9v0.9h-0.9zM327.3 278.3h0.9v0.9h-0.9zM328.9 281.5h0.9v0.9h-0.9zM361.0 271.3h0.9v0.9h-0.9zM343.4 271.2h0.9v0.9h-0.9zM334.5 279.5h0.9v0.9h-0.9zM317.2 279.5h0.9v0.9h-0.9zM357.8 270.1h0.9v0.9h-0.9zM332.0 289.6h0.9v0.9h-0.9zM325.0 285.0h0.9v0.9h-0.9zM332.5 273.9h0.9v0.9h-0.9zM319.2 289.4h0.9v0.9h-0.9zM351.7 269.7h0.9v0.9h-0.9zM314.4 289.7h0.9v0.9h-0.9zM327.1 293.1h0.9v0.9h-0.9zM331.2 288.2h0.9v0.9h-0.9zM333.5 278.3h0.9v0.9h-0.9zM353.8 269.2h0.9v0.9h-0.9zM354.1 276.6h0.9v0.9h-0.9zM356.2 272.8h0.9v0.9h-0.9zM318.9 283.7h0.9v0.9h-0.9zM338.7 279.7h0.9v0.9h-0.9zM319.4 296.1h0.9v0.9h-0.9zM314.8 291.3h0.9v0.9h-0.9zM333.3 290.6h0.9v0.9h-0.9zM317.1 289.4h0.9v0.9h-0.9zM346.0 275.6h0.9v0.9h-0.9zM320.6 282.6h0.9v0.9h-0.9zM354.3 279.3h0.9v0.9h-0.9zM322.3 291.4h0.9v0.9h-0.9zM319.0 283.5h0.9v0.9h-0.9zM350.3 276.4h0.9v0.9h-0.9zM361.0 281.1h0.9v0.9h-0.9zM331.0 287.7h0.9v0.9h-0.9zM317.6 277.6h0.9v0.9h-0.9zM335.9 283.2h0.9v0.9h-0.9zM320.5 281.5h0.9v0.9h-0.9zM333.8 284.1h0.9v0.9h-0.9zM361.5 273.7h0.9v0.9h-0.9zM329.8 282.1h0.9v0.9h-0.9zM325.6 274.5h0.9v0.9h-0.9zM332.4 290.2h0.9v0.9h-0.9zM338.3 280.0h0.9v0.9h-0.9zM359.1 280.4h0.9v0.9h-0.9zM352.9 279.7h0.9v0.9h-0.9zM359.1 274.7h0.9v0.9h-0.9zM318.7 288.8h0.9v0.9h-0.9zM336.9 276.9h0.9v0.9h-0.9zM361.1 279.8h0.9v0.9h-0.9zM346.6 278.7h0.9v0.9h-0.9zM357.8 277.8h0.9v0.9h-0.9zM330.5 291.3h0.9v0.9h-0.9zM320.0 281.0h0.9v0.9h-0.9zM331.0 282.9h0.9v0.9h-0.9zM330.6 287.8h0.9v0.9h-0.9zM339.0 279.2h0.9v0.9h-0.9zM341.5 272.6h0.9v0.9h-0.9zM349.6 277.6h0.9v0.9h-0.9zM346.7 275.0h0.9v0.9h-0.9zM314.9 291.2h0.9v0.9h-0.9zM317.9 282.4h0.9v0.9h-0.9zM357.4 278.1h0.9v0.9h-0.9zM340.5 274.9h0.9v0.9h-0.9zM346.7 275.2h0.9v0.9h-0.9zM321.1 274.9h0.9v0.9h-0.9zM321.5 275.1h0.9v0.9h-0.9zM340.8 270.9h0.9v0.9h-0.9zM339.8 285.8h0.9v0.9h-0.9zM350.6 275.5h0.9v0.9h-0.9zM320.0 295.6h0.9v0.9h-0.9zM341.6 281.9h0.9v0.9h-0.9zM353.4 275.2h0.9v0.9h-0.9zM331.2 282.7h0.9v0.9h-0.9zM330.9 274.9h0.9v0.9h-0.9zM350.8 280.2h0.9v0.9h-0.9zM317.4 294.1h0.9v0.9h-0.9zM317.0 281.5h0.9v0.9h-0.9zM328.9 287.8h0.9v0.9h-0.9zM342.5 284.9h0.9v0.9h-0.9zM326.4 288.7h0.9v0.9h-0.9zM355.1 274.9h0.9v0.9h-0.9zM329.4 281.3h0.9v0.9h-0.9zM346.6 281.4h0.9v0.9h-0.9zM359.5 273.0h0.9v0.9h-0.9zM317.8 288.5h0.9v0.9h-0.9zM318.4 286.5h0.9v0.9h-0.9zM316.2 291.0h0.9v0.9h-0.9zM361.0 279.9h0.9v0.9h-0.9zM330.4 283.3h0.9v0.9h-0.9zM333.4 281.6h0.9v0.9h-0.9zM319.2 282.9h0.9v0.9h-0.9zM344.4 279.0h0.9v0.9h-0.9zM359.8 276.1h0.9v0.9h-0.9zM346.7 277.9h0.9v0.9h-0.9zM315.1 278.1h0.9v0.9h-0.9zM335.1 272.5h0.9v0.9h-0.9zM323.5 276.2h0.9v0.9h-0.9zM347.3 276.3h0.9v0.9h-0.9zM337.6 278.3h0.9v0.9h-0.9zM332.9 272.6h0.9v0.9h-0.9zM347.2 280.8h0.9v0.9h-0.9zM329.8 288.6h0.9v0.9h-0.9zM323.8 289.8h0.9v0.9h-0.9zM358.1 279.3h0.9v0.9h-0.9zM353.9 278.3h0.9v0.9h-0.9zM343.5 271.9h0.9v0.9h-0.9zM347.3 279.4h0.9v0.9h-0.9zM347.5 270.9h0.9v0.9h-0.9zM320.4 285.2h0.9v0.9h-0.9zM326.1 275.4h0.9v0.9h-0.9zM331.6 286.3h0.9v0.9h-0.9zM323.7 278.9h0.9v0.9h-0.9zM353.5 284.0h0.9v0.9h-0.9zM327.7 285.3h0.9v0.9h-0.9zM320.1 288.2h0.9v0.9h-0.9zM323.9 285.1h0.9v0.9h-0.9zM332.1 278.2h0.9v0.9h-0.9zM356.0 274.8h0.9v0.9h-0.9zM315.5 291.7h0.9v0.9h-0.9zM339.0 277.7h0.9v0.9h-0.9zM328.4 289.6h0.9v0.9h-0.9zM325.1 279.2h0.9v0.9h-0.9zM320.2 289.6h0.9v0.9h-0.9zM361.3 281.1h0.9v0.9h-0.9zM357.4 281.3h0.9v0.9h-0.9zM336.6 281.4h0.9v0.9h-0.9zM324.6 282.1h0.9v0.9h-0.9zM318.5 294.8h0.9v0.9h-0.9zM360.6 270.6h0.9v0.9h-0.9zM347.3 279.2h0.9v0.9h-0.9zM341.3 278.1h0.9v0.9h-0.9zM342.8 276.1h0.9v0.9h-0.9zM323.3 281.0h0.9v0.9h-0.9zM359.7 275.3h0.9v0.9h-0.9zM339.8 274.9h0.9v0.9h-0.9zM322.0 286.0h0.9v0.9h-0.9zM347.5 284.5h0.9v0.9h-0.9zM337.6 271.7h0.9v0.9h-0.9zM336.3 273.5h0.9v0.9h-0.9zM343.6 274.1h0.9v0.9h-0.9zM328.8 279.2h0.9v0.9h-0.9zM321.0 287.5h0.9v0.9h-0.9zM359.7 277.8h0.9v0.9h-0.9zM342.3 271.5h0.9v0.9h-0.9zM347.0 282.8h0.9v0.9h-0.9zM329.2 282.1h0.9v0.9h-0.9zM359.1 279.3h0.9v0.9h-0.9zM329.7 273.2h0.9v0.9h-0.9zM339.6 279.0h0.9v0.9h-0.9zM329.3 273.6h0.9v0.9h-0.9zM349.6 277.2h0.9v0.9h-0.9zM343.1 287.4h0.9v0.9h-0.9zM348.5 274.9h0.9v0.9h-0.9zM327.7 281.9h0.9v0.9h-0.9zM328.5 289.8h0.9v0.9h-0.9zM330.5 279.1h0.9v0.9h-0.9zM320.0 295.3h0.9v0.9h-0.9zM360.7 277.7h0.9v0.9h-0.9zM325.9 277.2h0.9v0.9h-0.9zM324.2 273.8h0.9v0.9h-0.9zM326.5 281.7h0.9v0.9h-0.9zM320.1 281.4h0.9v0.9h-0.9zM323.1 295.7h0.9v0.9h-0.9zM326.1 290.6h0.9v0.9h-0.9zM321.3 275.3h0.9v0.9h-0.9zM321.3 283.6h0.9v0.9h-0.9zM339.0 281.6h0.9v0.9h-0.9zM352.3 281.1h0.9v0.9h-0.9zM335.7 285.9h0.9v0.9h-0.9zM345.5 276.9h0.9v0.9h-0.9zM356.9 282.8h0.9v0.9h-0.9zM355.2 269.6h0.9v0.9h-0.9zM330.6 289.7h0.9v0.9h-0.9zM344.8 274.5h0.9v0.9h-0.9zM349.4 276.7h0.9v0.9h-0.9zM334.6 286.5h0.9v0.9h-0.9zM323.8 294.5h0.9v0.9h-0.9zM356.8 276.8h0.9v0.9h-0.9zM350.8 280.2h0.9v0.9h-0.9zM331.1 277.2h0.9v0.9h-0.9zM327.3 285.9h0.9v0.9h-0.9zM339.3 278.7h0.9v0.9h-0.9zM338.4 277.7h0.9v0.9h-0.9zM347.4 269.9h0.9v0.9h-0.9zM324.1 277.2h0.9v0.9h-0.9zM330.6 276.5h0.9v0.9h-0.9zM331.7 281.1h0.9v0.9h-0.9zM344.0 283.5h0.9v0.9h-0.9zM337.1 273.0h0.9v0.9h-0.9zM319.9 285.4h0.9v0.9h-0.9zM337.3 287.1h0.9v0.9h-0.9zM336.8 274.3h0.9v0.9h-0.9zM353.7 280.8h0.9v0.9h-0.9zM327.7 272.5h0.9v0.9h-0.9zM340.3 285.0h0.9v0.9h-0.9zM338.9 286.2h0.9v0.9h-0.9zM339.8 275.2h0.9v0.9h-0.9zM359.9 271.3h0.9v0.9h-0.9zM326.3 273.0h0.9v0.9h-0.9zM314.5 290.3h0.9v0.9h-0.9zM346.7 275.2h0.9v0.9h-0.9zM340.5 284.9h0.9v0.9h-0.9zM352.9 275.5h0.9v0.9h-0.9zM325.4 290.3h0.9v0.9h-0.9zM329.1 275.0h0.9v0.9h-0.9zM338.0 272.4h0.9v0.9h-0.9zM342.0 275.8h0.9v0.9h-0.9zM333.2 281.3h0.9v0.9h-0.9zM329.5 282.5h0.9v0.9h-0.9zM330.3 285.9h0.9v0.9h-0.9zM333.1 276.1h0.9v0.9h-0.9zM327.9 272.9h0.9v0.9h-0.9zM354.3 272.4h0.9v0.9h-0.9zM357.8 277.5h0.9v0.9h-0.9zM337.3 270.6h0.9v0.9h-0.9zM316.3 291.3h0.9v0.9h-0.9zM328.7 281.1h0.9v0.9h-0.9zM340.5 277.6h0.9v0.9h-0.9zM344.5 273.3h0.9v0.9h-0.9zM334.8 281.8h0.9v0.9h-0.9zM338.5 271.2h0.9v0.9h-0.9zM320.0 277.4h0.9v0.9h-0.9zM327.7 279.1h0.9v0.9h-0.9zM326.8 295.3h0.9v0.9h-0.9zM349.5 277.4h0.9v0.9h-0.9zM335.4 283.8h0.9v0.9h-0.9zM326.2 287.0h0.9v0.9h-0.9zM350.6 277.7h0.9v0.9h-0.9zM353.3 273.0h0.9v0.9h-0.9zM314.7 283.4h0.9v0.9h-0.9zM352.5 280.2h0.9v0.9h-0.9zM331.7 279.0h0.9v0.9h-0.9zM346.5 269.4h0.9v0.9h-0.9zM329.9 272.3h0.9v0.9h-0.9zM354.4 269.2h0.9v0.9h-0.9zM337.7 284.4h0.9v0.9h-0.9zM339.3 276.5h0.9v0.9h-0.9zM336.2 278.0h0.9v0.9h-0.9zM326.7 279.0h0.9v0.9h-0.9zM344.6 276.2h0.9v0.9h-0.9zM319.0 282.7h0.9v0.9h-0.9zM355.0 270.3h0.9v0.9h-0.9zM329.5 281.6h0.9v0.9h-0.9zM345.7 286.0h0.9v0.9h-0.9zM321.6 292.0h0.9v0.9h-0.9zM358.2 281.3h0.9v0.9h-0.9zM352.3 279.0h0.9v0.9h-0.9zM356.4 277.1h0.9v0.9h-0.9zM334.8 279.6h0.9v0.9h-0.9zM357.0 284.5h0.9v0.9h-0.9zM330.6 290.9h0.9v0.9h-0.9zM348.6 274.8h0.9v0.9h-0.9zM329.8 283.0h0.9v0.9h-0.9zM340.3 274.7h0.9v0.9h-0.9zM345.8 281.2h0.9v0.9h-0.9zM326.9 278.7h0.9v0.9h-0.9zM317.1 293.4h0.9v0.9h-0.9zM337.7 276.3h0.9v0.9h-0.9zM337.3 286.0h0.9v0.9h-0.9zM335.3 281.9h0.9v0.9h-0.9zM343.7 277.0h0.9v0.9h-0.9zM324.0 278.0h0.9v0.9h-0.9zM311.9 299.7h0.9v0.9h-0.9zM313.8 279.2h0.9v0.9h-0.9zM326.6 285.2h0.9v0.9h-0.9zM311.4 277.5h0.9v0.9h-0.9zM330.8 279.0h0.9v0.9h-0.9zM330.5 269.0h0.9v0.9h-0.9zM313.9 291.0h0.9v0.9h-0.9zM340.5 285.4h0.9v0.9h-0.9zM322.7 284.8h0.9v0.9h-0.9zM309.8 293.8h0.9v0.9h-0.9zM343.2 290.4h0.9v0.9h-0.9zM327.7 275.9h0.9v0.9h-0.9zM341.2 290.2h0.9v0.9h-0.9zM343.8 278.2h0.9v0.9h-0.9zM315.0 283.5h0.9v0.9h-0.9zM336.4 283.3h0.9v0.9h-0.9zM361.2 280.8h0.9v0.9h-0.9zM351.1 275.5h0.9v0.9h-0.9zM330.2 277.4h0.9v0.9h-0.9zM340.5 279.8h0.9v0.9h-0.9zM342.7 277.8h0.9v0.9h-0.9zM344.2 282.2h0.9v0.9h-0.9zM324.0 280.2h0.9v0.9h-0.9zM336.7 287.7h0.9v0.9h-0.9zM315.5 299.0h0.9v0.9h-0.9zM346.7 276.6h0.9v0.9h-0.9zM327.9 275.5h0.9v0.9h-0.9zM335.0 277.3h0.9v0.9h-0.9zM353.2 275.6h0.9v0.9h-0.9zM339.8 290.1h0.9v0.9h-0.9zM324.3 293.0h0.9v0.9h-0.9zM335.6 289.6h0.9v0.9h-0.9zM341.6 277.9h0.9v0.9h-0.9zM321.0 280.3h0.9v0.9h-0.9zM350.7 272.4h0.9v0.9h-0.9zM344.8 278.6h0.9v0.9h-0.9zM345.0 282.8h0.9v0.9h-0.9zM323.5 282.9h0.9v0.9h-0.9zM320.6 279.2h0.9v0.9h-0.9zM352.5 285.4h0.9v0.9h-0.9zM337.2 294.0h0.9v0.9h-0.9zM330.5 282.5h0.9v0.9h-0.9zM335.3 281.9h0.9v0.9h-0.9zM339.5 289.2h0.9v0.9h-0.9zM351.2 280.9h0.9v0.9h-0.9zM332.6 277.9h0.9v0.9h-0.9zM340.8 277.4h0.9v0.9h-0.9zM321.0 292.0h0.9v0.9h-0.9zM358.3 284.9h0.9v0.9h-0.9zM339.1 280.0h0.9v0.9h-0.9zM334.8 282.6h0.9v0.9h-0.9zM329.0 282.9h0.9v0.9h-0.9zM331.2 286.8h0.9v0.9h-0.9zM343.7 289.3h0.9v0.9h-0.9zM313.6 288.6h0.9v0.9h-0.9zM356.5 262.8h0.9v0.9h-0.9zM334.1 287.0h0.9v0.9h-0.9zM357.1 284.6h0.9v0.9h-0.9zM320.7 282.1h0.9v0.9h-0.9zM311.4 278.6h0.9v0.9h-0.9zM317.5 276.2h0.9v0.9h-0.9zM335.6 287.8h0.9v0.9h-0.9zM339.8 280.5h0.9v0.9h-0.9zM340.2 288.4h0.9v0.9h-0.9zM362.0 287.7h0.9v0.9h-0.9zM327.9 277.1h0.9v0.9h-0.9zM315.3 284.9h0.9v0.9h-0.9zM325.9 277.9h0.9v0.9h-0.9zM318.6 278.9h0.9v0.9h-0.9zM335.8 291.3h0.9v0.9h-0.9zM331.1 276.7h0.9v0.9h-0.9zM326.9 284.1h0.9v0.9h-0.9zM333.2 292.6h0.9v0.9h-0.9zM338.6 285.6h0.9v0.9h-0.9zM321.4 282.2h0.9v0.9h-0.9zM348.3 285.5h0.9v0.9h-0.9zM320.7 288.8h0.9v0.9h-0.9zM342.0 296.3h0.9v0.9h-0.9zM307.2 281.0h0.9v0.9h-0.9zM336.7 284.0h0.9v0.9h-0.9zM340.1 286.5h0.9v0.9h-0.9zM347.4 283.5h0.9v0.9h-0.9zM319.9 284.7h0.9v0.9h-0.9zM331.1 289.8h0.9v0.9h-0.9zM324.7 284.9h0.9v0.9h-0.9zM349.4 282.2h0.9v0.9h-0.9zM330.9 295.9h0.9v0.9h-0.9zM335.6 297.9h0.9v0.9h-0.9zM331.0 288.2h0.9v0.9h-0.9zM325.0 288.8h0.9v0.9h-0.9zM348.0 279.7h0.9v0.9h-0.9zM331.2 274.1h0.9v0.9h-0.9zM324.9 268.4h0.9v0.9h-0.9zM349.1 288.4h0.9v0.9h-0.9zM329.0 290.9h0.9v0.9h-0.9zM335.4 286.4h0.9v0.9h-0.9zM311.8 283.1h0.9v0.9h-0.9zM325.0 291.2h0.9v0.9h-0.9zM351.5 293.3h0.9v0.9h-0.9zM339.8 286.1h0.9v0.9h-0.9zM331.7 274.9h0.9v0.9h-0.9zM319.4 274.8h0.9v0.9h-0.9zM334.6 280.7h0.9v0.9h-0.9zM334.6 279.9h0.9v0.9h-0.9zM337.7 286.7h0.9v0.9h-0.9zM330.2 270.4h0.9v0.9h-0.9zM328.5 289.3h0.9v0.9h-0.9zM346.3 278.9h0.9v0.9h-0.9zM331.9 293.1h0.9v0.9h-0.9zM334.6 282.2h0.9v0.9h-0.9zM297.4 293.0h0.9v0.9h-0.9zM335.1 279.7h0.9v0.9h-0.9zM332.0 274.8h0.9v0.9h-0.9zM331.8 295.0h0.9v0.9h-0.9zM349.9 275.8h0.9v0.9h-0.9zM330.5 274.3h0.9v0.9h-0.9zM347.2 279.6h0.9v0.9h-0.9zM343.3 282.1h0.9v0.9h-0.9zM341.6 278.4h0.9v0.9h-0.9zM326.5 280.4h0.9v0.9h-0.9zM342.4 278.9h0.9v0.9h-0.9zM351.6 282.8h0.9v0.9h-0.9zM344.6 287.3h0.9v0.9h-0.9zM356.6 280.6h0.9v0.9h-0.9zM325.3 285.8h0.9v0.9h-0.9zM316.5 291.2h0.9v0.9h-0.9zM338.3 274.8h0.9v0.9h-0.9zM344.7 282.3h0.9v0.9h-0.9zM332.8 292.2h0.9v0.9h-0.9zM338.0 277.9h0.9v0.9h-0.9zM326.9 292.2h0.9v0.9h-0.9zM332.6 284.0h0.9v0.9h-0.9zM339.2 288.9h0.9v0.9h-0.9zM332.8 275.7h0.9v0.9h-0.9zM352.0 272.8h0.9v0.9h-0.9zM344.8 288.5h0.9v0.9h-0.9zM328.7 280.3h0.9v0.9h-0.9zM319.7 280.2h0.9v0.9h-0.9zM350.4 280.0h0.9v0.9h-0.9zM308.5 264.8h0.9v0.9h-0.9zM325.1 288.6h0.9v0.9h-0.9zM338.3 292.1h0.9v0.9h-0.9zM317.0 284.7h0.9v0.9h-0.9zM329.7 268.3h0.9v0.9h-0.9zM350.5 262.7h0.9v0.9h-0.9zM346.8 280.0h0.9v0.9h-0.9zM332.0 295.6h0.9v0.9h-0.9zM339.0 281.6h0.9v0.9h-0.9zM339.6 282.4h0.9v0.9h-0.9zM354.3 284.8h0.9v0.9h-0.9zM326.4 279.6h0.9v0.9h-0.9zM324.0 290.2h0.9v0.9h-0.9zM333.7 270.7h0.9v0.9h-0.9zM336.4 280.2h0.9v0.9h-0.9zM302.2 285.2h0.9v0.9h-0.9zM302.4 285.6h0.9v0.9h-0.9zM316.4 269.4h0.9v0.9h-0.9zM312.6 283.9h0.9v0.9h-0.9zM324.7 289.5h0.9v0.9h-0.9zM336.9 277.9h0.9v0.9h-0.9zM307.6 298.1h0.9v0.9h-0.9zM323.7 283.1h0.9v0.9h-0.9zM325.6 284.7h0.9v0.9h-0.9zM312.2 273.7h0.9v0.9h-0.9zM345.4 285.9h0.9v0.9h-0.9zM333.7 284.9h0.9v0.9h-0.9zM309.7 295.2h0.9v0.9h-0.9zM337.4 275.9h0.9v0.9h-0.9zM329.0 284.1h0.9v0.9h-0.9zM347.2 288.9h0.9v0.9h-0.9zM329.6 283.1h0.9v0.9h-0.9zM344.6 279.8h0.9v0.9h-0.9zM350.8 270.0h0.9v0.9h-0.9zM319.1 295.4h0.9v0.9h-0.9zM333.1 290.3h0.9v0.9h-0.9zM329.3 276.3h0.9v0.9h-0.9zM327.8 291.3h0.9v0.9h-0.9zM337.0 292.1h0.9v0.9h-0.9zM342.8 287.8h0.9v0.9h-0.9zM334.2 283.0h0.9v0.9h-0.9zM337.5 283.1h0.9v0.9h-0.9zM328.5 271.4h0.9v0.9h-0.9zM336.4 280.3h0.9v0.9h-0.9zM336.4 279.9h0.9v0.9h-0.9zM334.8 273.5h0.9v0.9h-0.9zM342.3 286.7h0.9v0.9h-0.9zM345.5 279.0h0.9v0.9h-0.9zM353.0 284.2h0.9v0.9h-0.9zM337.2 278.5h0.9v0.9h-0.9zM324.4 273.3h0.9v0.9h-0.9zM321.0 285.6h0.9v0.9h-0.9zM332.5 281.0h0.9v0.9h-0.9zM335.8 287.1h0.9v0.9h-0.9zM371.1 276.1h0.9v0.9h-0.9zM333.0 292.6h0.9v0.9h-0.9zM310.8 283.0h0.9v0.9h-0.9zM334.1 295.6h0.9v0.9h-0.9zM320.6 288.1h0.9v0.9h-0.9zM329.9 290.9h0.9v0.9h-0.9zM322.0 275.7h0.9v0.9h-0.9zM335.2 287.8h0.9v0.9h-0.9zM349.5 281.0h0.9v0.9h-0.9zM347.6 289.1h0.9v0.9h-0.9zM334.3 278.6h0.9v0.9h-0.9zM353.8 280.0h0.9v0.9h-0.9zM336.8 271.3h0.9v0.9h-0.9zM341.0 286.4h0.9v0.9h-0.9zM289.1 297.9h0.9v0.9h-0.9zM321.3 291.4h0.9v0.9h-0.9zM326.9 283.6h0.9v0.9h-0.9zM327.5 290.0h0.9v0.9h-0.9zM324.5 287.3h0.9v0.9h-0.9zM323.4 278.7h0.9v0.9h-0.9zM321.5 286.0h0.9v0.9h-0.9zM341.8 281.3h0.9v0.9h-0.9zM319.0 290.5h0.9v0.9h-0.9zM323.2 289.7h0.9v0.9h-0.9zM339.3 286.9h0.9v0.9h-0.9zM359.3 287.3h0.9v0.9h-0.9zM345.6 270.1h0.9v0.9h-0.9zM322.1 296.4h0.9v0.9h-0.9zM341.1 294.1h0.9v0.9h-0.9zM337.6 287.6h0.9v0.9h-0.9zM352.6 286.7h0.9v0.9h-0.9zM313.2 295.1h0.9v0.9h-0.9zM338.6 281.4h0.9v0.9h-0.9zM322.3 284.9h0.9v0.9h-0.9zM305.0 292.8h0.9v0.9h-0.9zM353.2 288.3h0.9v0.9h-0.9zM343.3 278.2h0.9v0.9h-0.9zM337.4 279.7h0.9v0.9h-0.9zM320.2 283.7h0.9v0.9h-0.9zM362.6 277.6h0.9v0.9h-0.9zM358.6 269.2h0.9v0.9h-0.9zM357.9 283.1h0.9v0.9h-0.9zM359.3 276.7h0.9v0.9h-0.9zM357.5 268.3h0.9v0.9h-0.9zM357.1 273.2h0.9v0.9h-0.9zM360.8 272.9h0.9v0.9h-0.9zM360.8 270.6h0.9v0.9h-0.9zM357.3 280.4h0.9v0.9h-0.9zM359.4 278.3h0.9v0.9h-0.9zM360.7 277.0h0.9v0.9h-0.9zM355.0 279.5h0.9v0.9h-0.9zM354.4 272.2h0.9v0.9h-0.9zM360.0 273.3h0.9v0.9h-0.9zM355.4 279.3h0.9v0.9h-0.9zM359.8 278.2h0.9v0.9h-0.9zM360.4 276.5h0.9v0.9h-0.9zM358.7 274.5h0.9v0.9h-0.9zM357.4 276.5h0.9v0.9h-0.9zM361.3 272.5h0.9v0.9h-0.9zM362.5 270.4h0.9v0.9h-0.9zM355.9 268.5h0.9v0.9h-0.9zM359.9 277.6h0.9v0.9h-0.9zM361.7 280.9h0.9v0.9h-0.9zM360.5 273.9h0.9v0.9h-0.9zM357.4 279.3h0.9v0.9h-0.9zM357.4 275.8h0.9v0.9h-0.9zM354.5 272.3h0.9v0.9h-0.9zM359.2 279.3h0.9v0.9h-0.9zM356.5 274.1h0.9v0.9h-0.9zM360.2 273.9h0.9v0.9h-0.9zM360.2 275.4h0.9v0.9h-0.9zM358.8 273.9h0.9v0.9h-0.9zM359.6 269.7h0.9v0.9h-0.9zM362.0 272.3h0.9v0.9h-0.9zM358.4 271.9h0.9v0.9h-0.9zM363.9 276.3h0.9v0.9h-0.9zM360.5 278.1h0.9v0.9h-0.9zM356.5 281.4h0.9v0.9h-0.9zM356.2 277.1h0.9v0.9h-0.9zM361.3 269.8h0.9v0.9h-0.9zM360.0 270.4h0.9v0.9h-0.9zM354.3 275.0h0.9v0.9h-0.9zM359.8 280.9h0.9v0.9h-0.9zM363.6 272.8h0.9v0.9h-0.9zM359.8 276.0h0.9v0.9h-0.9zM356.4 273.1h0.9v0.9h-0.9zM361.1 276.9h0.9v0.9h-0.9zM361.4 273.9h0.9v0.9h-0.9zM357.1 278.2h0.9v0.9h-0.9z" fill="#2020f5" fill-opacity="0.9"/>
<g filter="url(#b1)">
<polygon points="315.5,279.5 342,272.5 353,274.5 351,278.5 338,283.5 326,289 318,286.5" fill="#36d4ff" stroke="none" stroke-width="1" />
<ellipse cx="330.5" cy="281.3" rx="10.5" ry="4.4" transform="rotate(-14 330.5 281.3)" fill="#3cff3c"/>
<ellipse cx="329.8" cy="281.5" rx="5.2" ry="2.5" transform="rotate(-12 329.8 281.5)" fill="#ffee22"/>
<ellipse cx="329.7" cy="281.5" rx="3" ry="1.5" fill="#ff2a1a"/>
</g>
<text x="339.8" y="300.4" font-size="12.9" fill="#222" stroke="#222" stroke-width="0.22">CD 4 T cells</text>
<text x="339.8" y="315.8" font-size="12.8" fill="#222" stroke="#222" stroke-width="0.22">89.73%</text>
</g>
<polygon points="315,279.7 342.6,272.3 349.2,277.5 324.6,288.9" fill="none" stroke="#111" stroke-width="0.9" />
<line x1="303.4" y1="259.1" x2="306.4" y2="259.1" stroke="#4a4a4a" stroke-width="0.9" />
<line x1="303.4" y1="279.2" x2="306.4" y2="279.2" stroke="#4a4a4a" stroke-width="0.9" />
<line x1="303.4" y1="302" x2="306.4" y2="302" stroke="#4a4a4a" stroke-width="0.9" />
<line x1="303.4" y1="331.7" x2="306.4" y2="331.7" stroke="#4a4a4a" stroke-width="0.9" />
<line x1="304.8" y1="253" x2="306.4" y2="253" stroke="#4a4a4a" stroke-width="0.7" />
<line x1="304.8" y1="256" x2="306.4" y2="256" stroke="#4a4a4a" stroke-width="0.7" />
<line x1="304.8" y1="264" x2="306.4" y2="264" stroke="#4a4a4a" stroke-width="0.7" />
<line x1="304.8" y1="268" x2="306.4" y2="268" stroke="#4a4a4a" stroke-width="0.7" />
<line x1="304.8" y1="271" x2="306.4" y2="271" stroke="#4a4a4a" stroke-width="0.7" />
<line x1="304.8" y1="274" x2="306.4" y2="274" stroke="#4a4a4a" stroke-width="0.7" />
<line x1="304.8" y1="284" x2="306.4" y2="284" stroke="#4a4a4a" stroke-width="0.7" />
<line x1="304.8" y1="288" x2="306.4" y2="288" stroke="#4a4a4a" stroke-width="0.7" />
<line x1="304.8" y1="291" x2="306.4" y2="291" stroke="#4a4a4a" stroke-width="0.7" />
<line x1="304.8" y1="294" x2="306.4" y2="294" stroke="#4a4a4a" stroke-width="0.7" />
<line x1="304.8" y1="297" x2="306.4" y2="297" stroke="#4a4a4a" stroke-width="0.7" />
<line x1="304.8" y1="309" x2="306.4" y2="309" stroke="#4a4a4a" stroke-width="0.7" />
<line x1="304.8" y1="315" x2="306.4" y2="315" stroke="#4a4a4a" stroke-width="0.7" />
<line x1="304.8" y1="320" x2="306.4" y2="320" stroke="#4a4a4a" stroke-width="0.7" />
<line x1="304.8" y1="324" x2="306.4" y2="324" stroke="#4a4a4a" stroke-width="0.7" />
<line x1="304.8" y1="327" x2="306.4" y2="327" stroke="#4a4a4a" stroke-width="0.7" />
<line x1="304.8" y1="336" x2="306.4" y2="336" stroke="#4a4a4a" stroke-width="0.7" />
<line x1="304.8" y1="339" x2="306.4" y2="339" stroke="#4a4a4a" stroke-width="0.7" />
<line x1="332.1" y1="340.9" x2="332.1" y2="343.9" stroke="#4a4a4a" stroke-width="0.9" />
<line x1="369.4" y1="340.9" x2="369.4" y2="343.9" stroke="#4a4a4a" stroke-width="0.9" />
<line x1="311" y1="340.9" x2="311" y2="342.5" stroke="#4a4a4a" stroke-width="0.7" />
<line x1="316" y1="340.9" x2="316" y2="342.5" stroke="#4a4a4a" stroke-width="0.7" />
<line x1="321" y1="340.9" x2="321" y2="342.5" stroke="#4a4a4a" stroke-width="0.7" />
<line x1="325" y1="340.9" x2="325" y2="342.5" stroke="#4a4a4a" stroke-width="0.7" />
<line x1="328" y1="340.9" x2="328" y2="342.5" stroke="#4a4a4a" stroke-width="0.7" />
<line x1="340" y1="340.9" x2="340" y2="342.5" stroke="#4a4a4a" stroke-width="0.7" />
<line x1="346" y1="340.9" x2="346" y2="342.5" stroke="#4a4a4a" stroke-width="0.7" />
<line x1="351" y1="340.9" x2="351" y2="342.5" stroke="#4a4a4a" stroke-width="0.7" />
<line x1="355" y1="340.9" x2="355" y2="342.5" stroke="#4a4a4a" stroke-width="0.7" />
<line x1="358" y1="340.9" x2="358" y2="342.5" stroke="#4a4a4a" stroke-width="0.7" />
<line x1="361" y1="340.9" x2="361" y2="342.5" stroke="#4a4a4a" stroke-width="0.7" />
<line x1="364" y1="340.9" x2="364" y2="342.5" stroke="#4a4a4a" stroke-width="0.7" />
<line x1="366" y1="340.9" x2="366" y2="342.5" stroke="#4a4a4a" stroke-width="0.7" />
<line x1="376" y1="340.9" x2="376" y2="342.5" stroke="#4a4a4a" stroke-width="0.7" />
<line x1="382" y1="340.9" x2="382" y2="342.5" stroke="#4a4a4a" stroke-width="0.7" />
<line x1="387" y1="340.9" x2="387" y2="342.5" stroke="#4a4a4a" stroke-width="0.7" />
<line x1="391" y1="340.9" x2="391" y2="342.5" stroke="#4a4a4a" stroke-width="0.7" />
<line x1="394" y1="340.9" x2="394" y2="342.5" stroke="#4a4a4a" stroke-width="0.7" />
<line x1="397" y1="340.9" x2="397" y2="342.5" stroke="#4a4a4a" stroke-width="0.7" />
<line x1="400" y1="340.9" x2="400" y2="342.5" stroke="#4a4a4a" stroke-width="0.7" />
<line x1="402" y1="340.9" x2="402" y2="342.5" stroke="#4a4a4a" stroke-width="0.7" />
<rect x="306.4" y="250.3" width="98.8" height="90.6" fill="none" stroke="#4a4a4a" stroke-width="1"/>
<line x1="294.2" y1="352.9" x2="294.2" y2="320.7" stroke="#000" stroke-width="1.6" marker-end="url(#ak)"/>
<line x1="293.4" y1="352.2" x2="325.8" y2="352.2" stroke="#000" stroke-width="1.6" marker-end="url(#ak)"/>
<text transform="translate(285.6,341.7) rotate(-90)" font-size="11.1" text-anchor="middle" fill="#111" stroke="#111" stroke-width="0.22">APC-Cy7</text>
<text x="295.4" y="363.8" font-size="11.1" fill="#111" stroke="#111" stroke-width="0.22">FSC-A</text>
<line x1="105.3" y1="321.3" x2="190.3" y2="321.3" stroke="#ff1c1c" stroke-width="1.5" marker-end="url(#ar)"/>
<line x1="232.1" y1="292.1" x2="315.6" y2="292.1" stroke="#ff1c1c" stroke-width="1.5" marker-end="url(#ar)"/>
<line x1="336.1" y1="297.2" x2="336.1" y2="381.9" stroke="#ff1c1c" stroke-width="1.5" marker-end="url(#ar)"/>
<path d="M33.5,469.6 L50,469.4 L66.6,469.2 L80,468.6 L90,467.8 L99.6,466.8 L102.5,465.6 L104,463.8 L105.5,458.8 L106.3,450 L106.9,437.7 L107.8,418 L108.7,400 L109.4,395.3 L110.1,400 L110.9,418 L111.7,437.7 L112.5,452 L113.4,462.8 L114.6,466.3 L116,468.1 L119.3,469.1 L120.8,469.6Z" fill="#c62a96" stroke="#c62a96" stroke-width="0.4" stroke-linejoin="round"/>
<line x1="29.9" y1="400.69" x2="32.9" y2="400.69" stroke="#606060" stroke-width="0.9" />
<line x1="29.9" y1="435.17" x2="32.9" y2="435.17" stroke="#606060" stroke-width="0.9" />
<line x1="31.3" y1="393.23" x2="32.9" y2="393.23" stroke="#606060" stroke-width="0.7" />
<line x1="31.3" y1="407.57" x2="32.9" y2="407.57" stroke="#606060" stroke-width="0.7" />
<line x1="31.3" y1="414.53" x2="32.9" y2="414.53" stroke="#606060" stroke-width="0.7" />
<line x1="31.3" y1="421.9" x2="32.9" y2="421.9" stroke="#606060" stroke-width="0.7" />
<line x1="31.3" y1="427.63" x2="32.9" y2="427.63" stroke="#606060" stroke-width="0.7" />
<line x1="31.3" y1="441.55" x2="32.9" y2="441.55" stroke="#606060" stroke-width="0.7" />
<line x1="31.3" y1="449.74" x2="32.9" y2="449.74" stroke="#606060" stroke-width="0.7" />
<line x1="31.3" y1="456.3" x2="32.9" y2="456.3" stroke="#606060" stroke-width="0.7" />
<line x1="31.3" y1="462.85" x2="32.9" y2="462.85" stroke="#606060" stroke-width="0.7" />
<line x1="47.08" y1="469.4" x2="47.08" y2="472.4" stroke="#606060" stroke-width="0.9" />
<line x1="80.74" y1="469.4" x2="80.74" y2="472.4" stroke="#606060" stroke-width="0.9" />
<line x1="113.53" y1="469.4" x2="113.53" y2="472.4" stroke="#606060" stroke-width="0.9" />
<line x1="37.33" y1="469.4" x2="37.33" y2="471" stroke="#606060" stroke-width="0.7" />
<line x1="55.05" y1="469.4" x2="55.05" y2="471" stroke="#606060" stroke-width="0.7" />
<line x1="60.37" y1="469.4" x2="60.37" y2="471" stroke="#606060" stroke-width="0.7" />
<line x1="64.8" y1="469.4" x2="64.8" y2="471" stroke="#606060" stroke-width="0.7" />
<line x1="68.34" y1="469.4" x2="68.34" y2="471" stroke="#606060" stroke-width="0.7" />
<line x1="71.88" y1="469.4" x2="71.88" y2="471" stroke="#606060" stroke-width="0.7" />
<line x1="74.54" y1="469.4" x2="74.54" y2="471" stroke="#606060" stroke-width="0.7" />
<line x1="77.2" y1="469.4" x2="77.2" y2="471" stroke="#606060" stroke-width="0.7" />
<line x1="87.83" y1="469.4" x2="87.83" y2="471" stroke="#606060" stroke-width="0.7" />
<line x1="93.15" y1="469.4" x2="93.15" y2="471" stroke="#606060" stroke-width="0.7" />
<line x1="97.58" y1="469.4" x2="97.58" y2="471" stroke="#606060" stroke-width="0.7" />
<line x1="101.12" y1="469.4" x2="101.12" y2="471" stroke="#606060" stroke-width="0.7" />
<line x1="104.67" y1="469.4" x2="104.67" y2="471" stroke="#606060" stroke-width="0.7" />
<line x1="107.32" y1="469.4" x2="107.32" y2="471" stroke="#606060" stroke-width="0.7" />
<line x1="109.98" y1="469.4" x2="109.98" y2="471" stroke="#606060" stroke-width="0.7" />
<rect x="32.9" y="387.5" width="88.6" height="81.9" fill="none" stroke="#606060" stroke-width="1"/>
<line x1="47.8" y1="410.3" x2="102.5" y2="410.3" stroke="#333" stroke-width="1.3" />
<line x1="47.8" y1="407" x2="47.8" y2="413.6" stroke="#333" stroke-width="1.3" />
<line x1="102.5" y1="407" x2="102.5" y2="413.6" stroke="#333" stroke-width="1.3" />
<text x="49.8" y="403.8" font-size="11.7" fill="#222" stroke="#222" stroke-width="0.22">14.60%</text>
<text x="61.4" y="483.9" font-size="11.2" fill="#111">no OVA</text>
<path d="M129,469.6 L150,469.3 L165,468.4 L170,466 L173,464 L175,461.5 L176.5,455 L177.3,449.6 L178.3,446 L179.4,446.5 L180.3,445 L181.3,434 L182.5,419 L183.8,413.3 L184.9,418 L185.8,433 L186.6,432 L187.6,414 L188.5,400.5 L189.3,396.5 L190.2,401 L191.2,428 L192.2,439.5 L193.3,434 L194.3,428 L195.3,426.2 L196.3,430 L197.6,447 L198.9,454.2 L200,450.5 L201.2,448.6 L202.6,452 L203.9,456.5 L205.3,451.5 L206.5,445.5 L207.4,444.3 L208.4,447 L209.6,456 L211,464 L213,468.3 L216,469.6 L220,469.8Z" fill="#c62a96" stroke="#c62a96" stroke-width="0.4" stroke-linejoin="round"/>
<line x1="126.3" y1="401.6" x2="129.3" y2="401.6" stroke="#606060" stroke-width="0.9" />
<line x1="126.3" y1="436.12" x2="129.3" y2="436.12" stroke="#606060" stroke-width="0.9" />
<line x1="127.7" y1="394.14" x2="129.3" y2="394.14" stroke="#606060" stroke-width="0.7" />
<line x1="127.7" y1="408.49" x2="129.3" y2="408.49" stroke="#606060" stroke-width="0.7" />
<line x1="127.7" y1="415.46" x2="129.3" y2="415.46" stroke="#606060" stroke-width="0.7" />
<line x1="127.7" y1="422.84" x2="129.3" y2="422.84" stroke="#606060" stroke-width="0.7" />
<line x1="127.7" y1="428.58" x2="129.3" y2="428.58" stroke="#606060" stroke-width="0.7" />
<line x1="127.7" y1="442.52" x2="129.3" y2="442.52" stroke="#606060" stroke-width="0.7" />
<line x1="127.7" y1="450.72" x2="129.3" y2="450.72" stroke="#606060" stroke-width="0.7" />
<line x1="127.7" y1="457.28" x2="129.3" y2="457.28" stroke="#606060" stroke-width="0.7" />
<line x1="127.7" y1="463.84" x2="129.3" y2="463.84" stroke="#606060" stroke-width="0.7" />
<line x1="143.92" y1="470.4" x2="143.92" y2="473.4" stroke="#606060" stroke-width="0.9" />
<line x1="178.66" y1="470.4" x2="178.66" y2="473.4" stroke="#606060" stroke-width="0.9" />
<line x1="212.47" y1="470.4" x2="212.47" y2="473.4" stroke="#606060" stroke-width="0.9" />
<line x1="133.87" y1="470.4" x2="133.87" y2="472" stroke="#606060" stroke-width="0.7" />
<line x1="152.15" y1="470.4" x2="152.15" y2="472" stroke="#606060" stroke-width="0.7" />
<line x1="157.63" y1="470.4" x2="157.63" y2="472" stroke="#606060" stroke-width="0.7" />
<line x1="162.2" y1="470.4" x2="162.2" y2="472" stroke="#606060" stroke-width="0.7" />
<line x1="165.86" y1="470.4" x2="165.86" y2="472" stroke="#606060" stroke-width="0.7" />
<line x1="169.52" y1="470.4" x2="169.52" y2="472" stroke="#606060" stroke-width="0.7" />
<line x1="172.26" y1="470.4" x2="172.26" y2="472" stroke="#606060" stroke-width="0.7" />
<line x1="175" y1="470.4" x2="175" y2="472" stroke="#606060" stroke-width="0.7" />
<line x1="185.97" y1="470.4" x2="185.97" y2="472" stroke="#606060" stroke-width="0.7" />
<line x1="191.45" y1="470.4" x2="191.45" y2="472" stroke="#606060" stroke-width="0.7" />
<line x1="196.02" y1="470.4" x2="196.02" y2="472" stroke="#606060" stroke-width="0.7" />
<line x1="199.68" y1="470.4" x2="199.68" y2="472" stroke="#606060" stroke-width="0.7" />
<line x1="203.33" y1="470.4" x2="203.33" y2="472" stroke="#606060" stroke-width="0.7" />
<line x1="206.08" y1="470.4" x2="206.08" y2="472" stroke="#606060" stroke-width="0.7" />
<line x1="208.82" y1="470.4" x2="208.82" y2="472" stroke="#606060" stroke-width="0.7" />
<rect x="129.3" y="388.4" width="91.4" height="82" fill="none" stroke="#606060" stroke-width="1"/>
<line x1="144.2" y1="410.6" x2="200.9" y2="410.6" stroke="#333" stroke-width="1.3" />
<line x1="144.2" y1="407.3" x2="144.2" y2="413.9" stroke="#333" stroke-width="1.3" />
<line x1="200.9" y1="407.3" x2="200.9" y2="413.9" stroke="#333" stroke-width="1.3" />
<text x="145.3" y="403.8" font-size="11.7" fill="#222" stroke="#222" stroke-width="0.22">82.64%</text>
<text x="151" y="485.4" font-size="11" fill="#111">OVA<tspan font-size="8" dy="3">323-339</tspan></text>
<path d="M228,470.9 L250,470.7 L257,470.1 L261.7,467.2 L264.7,460.7 L266.4,454.3 L267.6,452.5 L268.8,441.9 L269.9,425.5 L271.4,419.6 L272.9,429 L274.1,425.5 L275.2,410.3 L276.4,406.7 L277.9,430.2 L279.9,411.4 L281.1,409.7 L282.6,424.3 L284,447.8 L286.4,441.9 L287.8,446.6 L289.3,461.9 L291.7,459.5 L293.4,464.2 L295.2,467.2 L296.9,466 L299.3,468.9 L302.8,468.9 L305.1,470.1 L308.7,470.7 L314.5,471Z" fill="#c62a96" stroke="#c62a96" stroke-width="0.4" stroke-linejoin="round"/>
<line x1="224.3" y1="414.07" x2="227.3" y2="414.07" stroke="#606060" stroke-width="0.9" />
<line x1="224.3" y1="442.27" x2="227.3" y2="442.27" stroke="#606060" stroke-width="0.9" />
<line x1="225.7" y1="394.4" x2="227.3" y2="394.4" stroke="#606060" stroke-width="0.7" />
<line x1="225.7" y1="400.25" x2="227.3" y2="400.25" stroke="#606060" stroke-width="0.7" />
<line x1="225.7" y1="405.28" x2="227.3" y2="405.28" stroke="#606060" stroke-width="0.7" />
<line x1="225.7" y1="409.46" x2="227.3" y2="409.46" stroke="#606060" stroke-width="0.7" />
<line x1="225.7" y1="421.18" x2="227.3" y2="421.18" stroke="#606060" stroke-width="0.7" />
<line x1="225.7" y1="426.2" x2="227.3" y2="426.2" stroke="#606060" stroke-width="0.7" />
<line x1="225.7" y1="431.22" x2="227.3" y2="431.22" stroke="#606060" stroke-width="0.7" />
<line x1="225.7" y1="434.57" x2="227.3" y2="434.57" stroke="#606060" stroke-width="0.7" />
<line x1="225.7" y1="447.96" x2="227.3" y2="447.96" stroke="#606060" stroke-width="0.7" />
<line x1="225.7" y1="454.66" x2="227.3" y2="454.66" stroke="#606060" stroke-width="0.7" />
<line x1="225.7" y1="459.68" x2="227.3" y2="459.68" stroke="#606060" stroke-width="0.7" />
<line x1="225.7" y1="463.03" x2="227.3" y2="463.03" stroke="#606060" stroke-width="0.7" />
<line x1="225.7" y1="466.38" x2="227.3" y2="466.38" stroke="#606060" stroke-width="0.7" />
<line x1="241.36" y1="471.4" x2="241.36" y2="474.4" stroke="#606060" stroke-width="0.9" />
<line x1="274.77" y1="471.4" x2="274.77" y2="474.4" stroke="#606060" stroke-width="0.9" />
<line x1="307.29" y1="471.4" x2="307.29" y2="474.4" stroke="#606060" stroke-width="0.9" />
<line x1="231.7" y1="471.4" x2="231.7" y2="473" stroke="#606060" stroke-width="0.7" />
<line x1="249.28" y1="471.4" x2="249.28" y2="473" stroke="#606060" stroke-width="0.7" />
<line x1="254.55" y1="471.4" x2="254.55" y2="473" stroke="#606060" stroke-width="0.7" />
<line x1="258.94" y1="471.4" x2="258.94" y2="473" stroke="#606060" stroke-width="0.7" />
<line x1="262.46" y1="471.4" x2="262.46" y2="473" stroke="#606060" stroke-width="0.7" />
<line x1="265.98" y1="471.4" x2="265.98" y2="473" stroke="#606060" stroke-width="0.7" />
<line x1="268.61" y1="471.4" x2="268.61" y2="473" stroke="#606060" stroke-width="0.7" />
<line x1="271.25" y1="471.4" x2="271.25" y2="473" stroke="#606060" stroke-width="0.7" />
<line x1="281.8" y1="471.4" x2="281.8" y2="473" stroke="#606060" stroke-width="0.7" />
<line x1="287.07" y1="471.4" x2="287.07" y2="473" stroke="#606060" stroke-width="0.7" />
<line x1="291.47" y1="471.4" x2="291.47" y2="473" stroke="#606060" stroke-width="0.7" />
<line x1="294.98" y1="471.4" x2="294.98" y2="473" stroke="#606060" stroke-width="0.7" />
<line x1="298.5" y1="471.4" x2="298.5" y2="473" stroke="#606060" stroke-width="0.7" />
<line x1="301.14" y1="471.4" x2="301.14" y2="473" stroke="#606060" stroke-width="0.7" />
<line x1="303.77" y1="471.4" x2="303.77" y2="473" stroke="#606060" stroke-width="0.7" />
<rect x="227.3" y="387.7" width="87.9" height="83.7" fill="none" stroke="#606060" stroke-width="1"/>
<line x1="242" y1="410.5" x2="296.3" y2="410.5" stroke="#333" stroke-width="1.3" />
<line x1="242" y1="407.2" x2="242" y2="413.8" stroke="#333" stroke-width="1.3" />
<line x1="296.3" y1="407.2" x2="296.3" y2="413.8" stroke="#333" stroke-width="1.3" />
<text x="243.1" y="403.8" font-size="11.7" fill="#222" stroke="#222" stroke-width="0.22">97.52%</text>
<text x="224" y="487.8" font-size="11" fill="#111">OVA<tspan font-size="8" dy="3">323-339</tspan><tspan dy="-3">/LPS</tspan></text>
<path d="M325,471.3 L347,471.3 L352.9,470.7 L357.6,468.3 L359.9,464.2 L361.7,454.8 L363.4,451.3 L365.2,430.2 L367.5,417.9 L369.3,429 L370.5,418.5 L372,407.3 L373.8,419.6 L375.2,430.2 L376.3,416.1 L377.5,410.8 L379.3,425.5 L381,447.8 L382.8,439.6 L384.5,450.1 L386.3,459 L387.8,457.8 L389.8,463 L391.6,466.6 L393.3,464.8 L395.7,468.3 L398.6,467.2 L401.6,470.1 L404.5,471.3 L408,471.3Z" fill="#c62a96" stroke="#c62a96" stroke-width="0.4" stroke-linejoin="round"/>
<line x1="321.4" y1="414.07" x2="324.4" y2="414.07" stroke="#606060" stroke-width="0.9" />
<line x1="321.4" y1="442.27" x2="324.4" y2="442.27" stroke="#606060" stroke-width="0.9" />
<line x1="322.8" y1="394.4" x2="324.4" y2="394.4" stroke="#606060" stroke-width="0.7" />
<line x1="322.8" y1="400.25" x2="324.4" y2="400.25" stroke="#606060" stroke-width="0.7" />
<line x1="322.8" y1="405.28" x2="324.4" y2="405.28" stroke="#606060" stroke-width="0.7" />
<line x1="322.8" y1="409.46" x2="324.4" y2="409.46" stroke="#606060" stroke-width="0.7" />
<line x1="322.8" y1="421.18" x2="324.4" y2="421.18" stroke="#606060" stroke-width="0.7" />
<line x1="322.8" y1="426.2" x2="324.4" y2="426.2" stroke="#606060" stroke-width="0.7" />
<line x1="322.8" y1="431.22" x2="324.4" y2="431.22" stroke="#606060" stroke-width="0.7" />
<line x1="322.8" y1="434.57" x2="324.4" y2="434.57" stroke="#606060" stroke-width="0.7" />
<line x1="322.8" y1="447.96" x2="324.4" y2="447.96" stroke="#606060" stroke-width="0.7" />
<line x1="322.8" y1="454.66" x2="324.4" y2="454.66" stroke="#606060" stroke-width="0.7" />
<line x1="322.8" y1="459.68" x2="324.4" y2="459.68" stroke="#606060" stroke-width="0.7" />
<line x1="322.8" y1="463.03" x2="324.4" y2="463.03" stroke="#606060" stroke-width="0.7" />
<line x1="322.8" y1="466.38" x2="324.4" y2="466.38" stroke="#606060" stroke-width="0.7" />
<line x1="337.89" y1="471.4" x2="337.89" y2="474.4" stroke="#606060" stroke-width="0.9" />
<line x1="369.92" y1="471.4" x2="369.92" y2="474.4" stroke="#606060" stroke-width="0.9" />
<line x1="401.11" y1="471.4" x2="401.11" y2="474.4" stroke="#606060" stroke-width="0.9" />
<line x1="328.61" y1="471.4" x2="328.61" y2="473" stroke="#606060" stroke-width="0.7" />
<line x1="345.47" y1="471.4" x2="345.47" y2="473" stroke="#606060" stroke-width="0.7" />
<line x1="350.53" y1="471.4" x2="350.53" y2="473" stroke="#606060" stroke-width="0.7" />
<line x1="354.75" y1="471.4" x2="354.75" y2="473" stroke="#606060" stroke-width="0.7" />
<line x1="358.12" y1="471.4" x2="358.12" y2="473" stroke="#606060" stroke-width="0.7" />
<line x1="361.49" y1="471.4" x2="361.49" y2="473" stroke="#606060" stroke-width="0.7" />
<line x1="364.02" y1="471.4" x2="364.02" y2="473" stroke="#606060" stroke-width="0.7" />
<line x1="366.55" y1="471.4" x2="366.55" y2="473" stroke="#606060" stroke-width="0.7" />
<line x1="376.67" y1="471.4" x2="376.67" y2="473" stroke="#606060" stroke-width="0.7" />
<line x1="381.72" y1="471.4" x2="381.72" y2="473" stroke="#606060" stroke-width="0.7" />
<line x1="385.94" y1="471.4" x2="385.94" y2="473" stroke="#606060" stroke-width="0.7" />
<line x1="389.31" y1="471.4" x2="389.31" y2="473" stroke="#606060" stroke-width="0.7" />
<line x1="392.68" y1="471.4" x2="392.68" y2="473" stroke="#606060" stroke-width="0.7" />
<line x1="395.21" y1="471.4" x2="395.21" y2="473" stroke="#606060" stroke-width="0.7" />
<line x1="397.74" y1="471.4" x2="397.74" y2="473" stroke="#606060" stroke-width="0.7" />
<rect x="324.4" y="387.7" width="84.3" height="83.7" fill="none" stroke="#606060" stroke-width="1"/>
<line x1="338.5" y1="410.6" x2="392.8" y2="410.6" stroke="#333" stroke-width="1.3" />
<line x1="338.5" y1="407.3" x2="338.5" y2="413.9" stroke="#333" stroke-width="1.3" />
<line x1="392.8" y1="407.3" x2="392.8" y2="413.9" stroke="#333" stroke-width="1.3" />
<text x="339.2" y="403.8" font-size="11.7" fill="#222" stroke="#222" stroke-width="0.22">96.77%</text>
<text x="328.6" y="488.6" font-size="11" fill="#111">OVA<tspan font-size="8" dy="3">323-339</tspan><tspan dy="-3">/REA</tspan></text>
<line x1="23.6" y1="483.7" x2="23.6" y2="451.5" stroke="#000" stroke-width="1.6" marker-end="url(#ak)"/>
<line x1="22.8" y1="483" x2="55.2" y2="483" stroke="#000" stroke-width="1.6" marker-end="url(#ak)"/>
<text transform="translate(17.6,471.2) rotate(-90)" font-size="11.1" text-anchor="middle" fill="#111" stroke="#111" stroke-width="0.22">Count</text>
<text x="21.4" y="496.4" font-size="11.1" fill="#111" stroke="#111" stroke-width="0.22">CFSE</text>
</svg></body></html>
